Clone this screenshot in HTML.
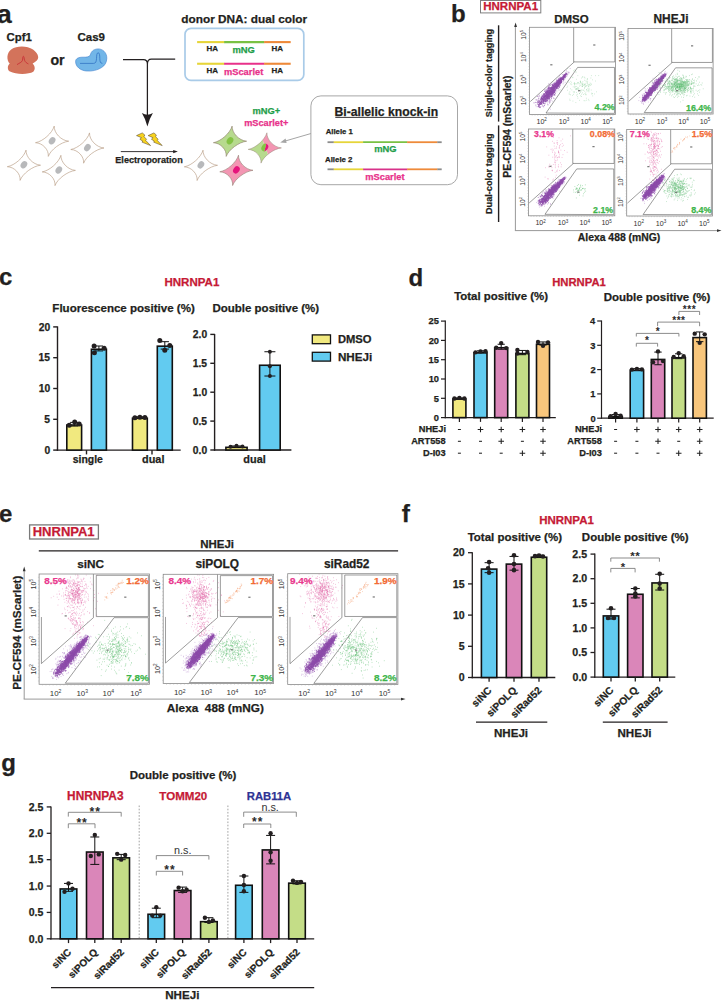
<!DOCTYPE html>
<html><head><meta charset="utf-8"><title>Figure</title>
<style>html,body{margin:0;padding:0;background:#fff;}svg{display:block;}</style></head>
<body><svg width="722" height="1000" viewBox="0 0 722 1000" font-family="Liberation Sans, sans-serif" font-weight="bold" fill="#231f20">
<rect width="722" height="1000" fill="#fff"/>
<text x="-3.12" y="23" font-size="26.5" stroke="#231f20" stroke-width=".25">a</text>
<text x="6.53" y="40.5" font-size="11.4" stroke="#231f20" stroke-width=".25">Cpf1</text>
<text x="77.53" y="40.5" font-size="11.5" stroke="#231f20" stroke-width=".25">Cas9</text>
<text x="50.45" y="64.6" font-size="14.2" stroke="#231f20" stroke-width=".25">or</text>
<path d="M9.7 63.5C6.5 60.5 6.3 53 11.5 49.3C16.5 45.6 27 45.4 33 49.5C37.2 52.4 39.3 57 37.7 59.2C36.4 61.3 34.3 62.4 32.6 63.6C35 66 35.6 69.6 33.3 71.8C28.5 74.6 16 74.6 10 71.6C7.2 70 7.2 65.6 9.7 63.5Z" fill="#d3735b"/>
<path d="M17 64.6C19.5 63 21.8 62.2 22.4 60.5C23 58.5 22.5 56.3 23.3 56.3C24.2 56.3 24 58.6 24.6 60.4C25.3 62.2 26.8 63.2 28.4 63.9" fill="none" stroke="#c4202c" stroke-width=".7"/>
<path d="M75.6 61.5C75.6 58.3 79 57.1 83 57.2C86.5 57.3 89.5 57 90.3 55C91 52 93 49.2 97.8 48.9C102.5 48.7 106.9 52.5 106.8 58.2C106.7 62.6 104.8 65.6 101.5 67.6C97.5 70.3 92 71.4 86.5 71C80.5 70.5 75.6 66.8 75.6 61.5Z" fill="#72b6e8" stroke="#3f81cf" stroke-width=".6"/>
<path d="M80 63.4H93.5C95.8 63.4 96.3 61.6 96.5 58.5C96.7 55 96.8 52.8 98.2 52.8C99.6 52.8 99.7 55 99.8 58.5C99.9 61.5 100.2 63.3 102.4 63.4" fill="none" stroke="#2a6bc0" stroke-width=".7"/>
<path d="M123 59.6H143.4Q147.4 59.6 147.4 64M175.2 59.1H151.4Q147.4 59.1 147.4 64V116" fill="none" stroke="#231f20" stroke-width="1.25"/>
<path d="M147.4 126.4Q145.6 119.2 141.9 113.1Q147.4 116.4 152.9 113.1Q149.2 119.2 147.4 126.4Z" fill="#231f20"/>
<text x="181.32" y="22.8" font-size="11.8" stroke="#231f20" stroke-width=".25">donor DNA: dual color</text>
<rect x="185" y="28.4" width="118.8" height="52" rx="6" fill="#fff" stroke="#a9cbe8" stroke-width="1.7"/>
<line x1="197.1" y1="42.1" x2="224.3" y2="42.1" stroke="#e6d539" stroke-width="2.1"/>
<line x1="224.1" y1="42.1" x2="264.3" y2="42.1" stroke="#7ac143" stroke-width="2.1"/>
<line x1="264.1" y1="42.1" x2="290.7" y2="42.1" stroke="#ee8a3a" stroke-width="2.1"/>
<text x="206.46" y="51.1" font-size="8" stroke="#231f20" stroke-width=".25">HA</text>
<text x="271.46" y="51.1" font-size="8" stroke="#231f20" stroke-width=".25">HA</text>
<text x="232.38" y="52.9" font-size="9.4" fill="#1f9e4a" stroke="#1f9e4a" stroke-width=".25">mNG</text>
<line x1="197.1" y1="63.75" x2="224.3" y2="63.75" stroke="#e6d539" stroke-width="2.1"/>
<line x1="224.1" y1="63.75" x2="264.3" y2="63.75" stroke="#e8318a" stroke-width="2.1"/>
<line x1="264.1" y1="63.75" x2="290.7" y2="63.75" stroke="#ee8a3a" stroke-width="2.1"/>
<text x="206.46" y="72.75" font-size="8" stroke="#231f20" stroke-width=".25">HA</text>
<text x="271.46" y="72.75" font-size="8" stroke="#231f20" stroke-width=".25">HA</text>
<text x="223.99" y="74.55" font-size="9.3" fill="#e8318a" stroke="#e8318a" stroke-width=".25">mScarlet</text>
<path d="M54.2 126.1C53.93 133.06 61.18 140.6 68.7 141.2C60.88 142.12 50.68 149.72 48.3 156.4C49.02 149.8 42.62 142.94 35.5 142.7C42.92 141.43 52.27 133.13 54.2 126.1Z" fill="#fff" stroke="#bca28b" stroke-width=".7"/>
<ellipse cx="52.1" cy="140.8" rx="3.0" ry="3.9" transform="rotate(35 52.1 140.8)" fill="#b8b9bb"/>
<path d="M89.5 132.9C89.22 139.86 96.47 147.41 104 148C96.18 148.92 85.98 156.52 83.6 163.2C84.32 156.6 77.92 149.75 70.8 149.5C78.22 148.23 87.56 139.93 89.5 132.9Z" fill="#fff" stroke="#bca28b" stroke-width=".7"/>
<ellipse cx="87.4" cy="147.6" rx="3.0" ry="3.9" transform="rotate(35 87.4 147.6)" fill="#b8b9bb"/>
<path d="M26 150.1C25.73 157.06 32.98 164.6 40.5 165.2C32.68 166.12 22.48 173.72 20.1 180.4C20.82 173.8 14.42 166.94 7.3 166.7C14.71 165.43 24.06 157.13 26 150.1Z" fill="#fff" stroke="#bca28b" stroke-width=".7"/>
<ellipse cx="23.9" cy="164.8" rx="3.0" ry="3.9" transform="rotate(35 23.9 164.8)" fill="#b8b9bb"/>
<path d="M60.9 155.3C60.62 162.25 67.88 169.81 75.4 170.4C67.58 171.32 57.38 178.92 55 185.6C55.72 179 49.32 172.15 42.2 171.9C49.62 170.63 58.97 162.33 60.9 155.3Z" fill="#fff" stroke="#bca28b" stroke-width=".7"/>
<ellipse cx="58.8" cy="170" rx="3.0" ry="3.9" transform="rotate(35 58.8 170)" fill="#b8b9bb"/>
<path d="M203 150.2C202.72 157.15 209.97 164.7 217.5 165.3C209.68 166.22 199.48 173.82 197.1 180.5C197.82 173.89 191.42 167.04 184.3 166.8C191.72 165.53 201.06 157.23 203 150.2Z" fill="#fff" stroke="#bca28b" stroke-width=".7"/>
<ellipse cx="200.9" cy="164.9" rx="3.0" ry="3.9" transform="rotate(35 200.9 164.9)" fill="#b8b9bb"/>
<path d="M232.1 126.1C231.82 133.06 239.07 140.6 246.6 141.2C238.78 142.12 228.58 149.72 226.2 156.4C226.92 149.8 220.52 142.94 213.4 142.7C220.81 141.43 230.16 133.13 232.1 126.1Z" fill="#b7da8e" stroke="#9a8a78" stroke-width=".7"/>
<ellipse cx="230" cy="140.8" rx="3.0" ry="3.9" transform="rotate(35 230 140.8)" fill="#84c344"/>
<path d="M238.5 155.2C238.22 162.15 245.47 169.7 253 170.3C245.18 171.22 234.98 178.82 232.6 185.5C233.32 178.89 226.92 172.04 219.8 171.8C227.22 170.53 236.56 162.23 238.5 155.2Z" fill="#f396b3" stroke="#a08a80" stroke-width=".7"/>
<ellipse cx="236.4" cy="169.9" rx="3.0" ry="3.9" transform="rotate(35 236.4 169.9)" fill="#e5157c"/>
<clipPath id="cl"><path d="M240 120L262.3 139.3L268.7 156.5L255 180L230 180Z"/></clipPath>
<clipPath id="cr"><path d="M262.3 139.3L268.7 156.5L290 170L290 120L240 120Z"/></clipPath>
<path d="M266.9 132.8C266.62 139.75 273.88 147.31 281.4 147.9C273.58 148.82 263.38 156.42 261 163.1C261.72 156.5 255.32 149.65 248.2 149.4C255.61 148.13 264.96 139.83 266.9 132.8Z" fill="#f396b3" clip-path="url(#cr)"/>
<path d="M266.9 132.8C266.62 139.75 273.88 147.31 281.4 147.9C273.58 148.82 263.38 156.42 261 163.1C261.72 156.5 255.32 149.65 248.2 149.4C255.61 148.13 264.96 139.83 266.9 132.8Z" fill="#b7da8e" clip-path="url(#cl)"/>
<ellipse cx="264.8" cy="147.5" rx="3.1" ry="4.0" transform="rotate(35 264.8 147.5)" fill="#e5157c" clip-path="url(#cr)"/>
<ellipse cx="264.8" cy="147.5" rx="3.1" ry="4.0" transform="rotate(35 264.8 147.5)" fill="#84c344" clip-path="url(#cl)"/>
<path d="M266.9 132.8C266.62 139.75 273.88 147.31 281.4 147.9C273.58 148.82 263.38 156.42 261 163.1C261.72 156.5 255.32 149.65 248.2 149.4C255.61 148.13 264.96 139.83 266.9 132.8Z" fill="none" stroke="#a09080" stroke-width=".55"/>
<path d="M136.5 135.6L142.3 132.9L144.8 135L144 136.7L146.5 139.2L145.7 140.4L150.6 145.6L141.9 142.1L142.8 141.2L139.8 139.2L141.5 137.7Z" fill="#f7d21e" stroke="#4a3b22" stroke-width=".5" stroke-linejoin="round"/>
<path d="M148.1 135.6L153.9 132.9L156.4 135L155.6 136.7L158.1 139.2L157.3 140.4L162.2 145.6L153.5 142.1L154.4 141.2L151.4 139.2L153.1 137.7Z" fill="#f7d21e" stroke="#4a3b22" stroke-width=".5" stroke-linejoin="round"/>
<line x1="120.8" y1="151.6" x2="174.5" y2="151.6" stroke="#231f20" stroke-width=".9"/>
<path d="M177.8 151.6L173.2 149.9L173.2 153.3Z" fill="#231f20"/>
<text x="115.29" y="162.7" font-size="9.15" stroke="#231f20" stroke-width=".25">Electroporation</text>
<text x="252.49" y="114.1" font-size="9.3" fill="#1f9e4a" stroke="#1f9e4a" stroke-width=".25">mNG+</text>
<text x="244.19" y="125.7" font-size="9.2" fill="#e8318a" stroke="#e8318a" stroke-width=".25">mScarlet+</text>
<line x1="311" y1="133.5" x2="283.5" y2="141.5" stroke="#a5a5a5" stroke-width="1"/>
<path d="M280.2 142.5L285.6 138.6L286.6 142.9Z" fill="#a5a5a5"/>
<rect x="310.9" y="95.9" width="146.6" height="88.8" rx="10" fill="#fff" stroke="#9d9d9d" stroke-width=".9"/>
<text x="334.48" y="115.6" font-size="12.2" stroke="#231f20" stroke-width=".25">Bi-allelic knock-in</text>
<line x1="335.3" y1="117.4" x2="437.7" y2="117.4" stroke="#231f20" stroke-width=".9"/>
<text x="325.71" y="134.4" font-size="7.75" stroke="#231f20" stroke-width=".25">Allele 1</text>
<text x="325" y="161.5" font-size="7.85" stroke="#231f20" stroke-width=".25">Allele 2</text>
<line x1="327.5" y1="142.2" x2="333.9" y2="142.2" stroke="#8c8c8c" stroke-width="1.8"/>
<line x1="333.7" y1="142.2" x2="363.3" y2="142.2" stroke="#e6d539" stroke-width="1.8"/>
<line x1="363.1" y1="142.2" x2="407.3" y2="142.2" stroke="#7ac143" stroke-width="1.8"/>
<line x1="407.1" y1="142.2" x2="437.5" y2="142.2" stroke="#ee8a3a" stroke-width="1.8"/>
<line x1="437.3" y1="142.2" x2="441.7" y2="142.2" stroke="#8c8c8c" stroke-width="1.8"/>
<text x="374.28" y="152.1" font-size="9.4" fill="#1f9e4a" stroke="#1f9e4a" stroke-width=".25">mNG</text>
<line x1="327.5" y1="169.3" x2="333.9" y2="169.3" stroke="#8c8c8c" stroke-width="1.8"/>
<line x1="333.7" y1="169.3" x2="363.3" y2="169.3" stroke="#e6d539" stroke-width="1.8"/>
<line x1="363.1" y1="169.3" x2="407.3" y2="169.3" stroke="#d8328a" stroke-width="1.8"/>
<line x1="407.1" y1="169.3" x2="437.5" y2="169.3" stroke="#ee8a3a" stroke-width="1.8"/>
<line x1="437.3" y1="169.3" x2="441.7" y2="169.3" stroke="#8c8c8c" stroke-width="1.8"/>
<text x="365.29" y="179.7" font-size="9.3" fill="#e8318a" stroke="#e8318a" stroke-width=".25">mScarlet</text>
<text x="450.92" y="21.8" font-size="24" stroke="#231f20" stroke-width=".25">b</text>
<rect x="480.5" y=".5" width="60.3" height="12.4" fill="#fff" stroke="#808080" stroke-width="1"/>
<text x="483.13" y="10.4" font-size="11.55" fill="#c51a35" stroke="#c51a35" stroke-width=".25">HNRNPA1</text>
<text x="554.23" y="23.3" font-size="11.45" stroke="#231f20" stroke-width=".25">DMSO</text>
<text x="653.5" y="22.6" font-size="11.9" stroke="#231f20" stroke-width=".25">NHEJi</text>
<line x1="498.6" y1="25.3" x2="498.6" y2="121.6" stroke="#231f20" stroke-width="1.4"/>
<line x1="498.6" y1="125.4" x2="498.6" y2="222" stroke="#231f20" stroke-width="1.4"/>
<text transform="translate(488.4 73.1) rotate(-90)" x="-44.05" y="3.28" font-size="9.15" stroke="#231f20" stroke-width=".25">Single-color tagging</text>
<text transform="translate(488.4 173.6) rotate(-90)" x="-40.41" y="3.28" font-size="9.15" stroke="#231f20" stroke-width=".25">Dual-color tagging</text>
<text transform="translate(507.4 126.5) rotate(-90)" x="-51.24" y="3.72" font-size="10.4" stroke="#231f20" stroke-width=".25">PE-CF594 (mScarlet)</text>
<line x1="515.4" y1="25" x2="515.4" y2="230.6" stroke="#999" stroke-width="1"/>
<path d="M515.6 22.4L514.2 27L517 27Z" fill="#333"/>
<line x1="514.9" y1="230.6" x2="718" y2="230.6" stroke="#999" stroke-width="1"/>
<path d="M721.5 230.6L717 229.2L717 232Z" fill="#333"/>
<text x="577.74" y="240.9" font-size="10.4" stroke="#231f20" stroke-width=".25">Alexa 488 (mNG)</text>
<path d="M552.78 87.36h.7M562.45 78.87h.7M555.72 85.8h.7M551.33 90.3h.7M557.76 80.15h.7M546.79 96.32h.7M549.73 90.06h.7M560.6 79.45h.7M559.87 80.58h.7M543.26 103.53h.7M554.58 84.7h.7M557.07 82.89h.7M564.93 77.86h.7M557.77 82.48h.7M555.07 85.43h.7M564.01 78.47h.7M547.02 97.41h.7M557.36 84.15h.7M553.33 89.56h.7M542.48 95.73h.7M563.64 77.69h.7M560.14 85.58h.7M556.09 87.76h.7M566.11 70.28h.7M552.41 90.99h.7M552.78 85.42h.7M565.28 73.84h.7M552.27 90.47h.7M556.23 80.72h.7M555.47 92.04h.7M540.94 103.18h.7M545.74 101.38h.7M548.71 97.17h.7M563.23 81.28h.7M557.64 88.49h.7M559.05 77.05h.7M548.43 94.72h.7M544.05 89.72h.7M540.51 102.06h.7M556.18 88.3h.7M552.72 93.61h.7M558.86 87.28h.7M551.3 89.4h.7M550.68 93.33h.7M541.25 103.56h.7M564.39 79.35h.7M556.6 91.78h.7M569.82 68.53h.7M550.11 109.27h.7M540.18 104.42h.7M555.38 84.74h.7M564.73 76.75h.7M554.67 90.44h.7M547.76 97.93h.7M548.15 91.85h.7M559.34 87.45h.7M561.64 78.96h.7M557.76 89.97h.7M566.51 76.64h.7M562.44 74.35h.7M543.97 95.28h.7M554.07 83.75h.7M552.12 91.3h.7M555.81 85.98h.7M564.06 76.68h.7M542.5 97.91h.7M546.57 98.83h.7M569.05 72.8h.7M546.67 90.48h.7M547.41 94.89h.7M561.15 80.23h.7M546.53 96.27h.7M556.25 84.47h.7M562.65 83.92h.7M560.05 85.68h.7M553.64 92.24h.7M549.59 89.74h.7M553.92 98.6h.7M547.14 97.87h.7M550.49 89.53h.7M546.59 95.23h.7M558 81.38h.7M549.3 103.46h.7M560.72 80.63h.7M560.45 80.47h.7M558.99 75.33h.7M568.24 72.46h.7M556.47 81.04h.7M546.56 91.56h.7M560.66 82.19h.7M565.26 72.5h.7M568.1 72.89h.7M567.73 74.11h.7M552.7 82.26h.7M556.01 85.01h.7M542.83 93.88h.7M544.61 98.91h.7M565.66 76.47h.7M547.71 89.2h.7M551.05 100.02h.7M562.11 77.32h.7M558.09 78.96h.7M563.32 76.46h.7M555.79 89.24h.7M557.11 79.32h.7M547.15 96.15h.7M546 91.07h.7M551.53 96.57h.7M550.28 93.11h.7M558.17 81.41h.7M546.63 101.57h.7M552.48 84.35h.7M543.16 99.09h.7M563.48 82.95h.7M556.02 85.02h.7M554.29 93.8h.7M559.82 81.68h.7M554.22 84.78h.7M545.79 96.59h.7M556.85 84.83h.7M564.12 74.76h.7M551.22 87.6h.7M565.94 71.95h.7M540.64 97.05h.7M542.2 102.54h.7M556.84 86.15h.7M560.66 82.67h.7M546.96 88.04h.7M545.5 101.81h.7M565.12 74.61h.7M561.85 74.55h.7M564.96 75.09h.7M559.34 84.68h.7M556 87.74h.7M566.42 74.89h.7M564.57 78.06h.7M541.68 106.33h.7M553.63 88.21h.7M548.98 84.79h.7M554.34 84.4h.7M559.13 83.13h.7M551.01 89.38h.7M566.96 74.06h.7M550.72 95.61h.7M563.15 77.15h.7M558.86 90.05h.7M535.8 106.65h.7M548.17 99.3h.7M560.86 78.22h.7M559.94 78.28h.7M564.36 77.25h.7M562.58 75.92h.7M557.85 86.83h.7M546.19 91.78h.7M557.81 83.52h.7M541.51 99.02h.7M565.13 74.05h.7M561.2 78.15h.7M552.83 84.6h.7M560.13 83.01h.7M540.84 97.95h.7M560.59 77h.7M563.2 79.78h.7M562.33 81.27h.7M568.48 71.98h.7M557.41 85.23h.7M551.95 101.17h.7M554.01 83.04h.7M553.56 85.34h.7M559.18 78.43h.7M565.79 76.24h.7M559.03 83h.7M563.8 79.72h.7M555.67 90.21h.7M557.52 82.88h.7M563.23 74.7h.7M543.25 96.14h.7M564.85 82.22h.7M554.46 91.74h.7M555.69 88.47h.7M558.33 81.54h.7M543.9 99.12h.7M557.67 82.27h.7M544.56 97.73h.7M563.88 70.71h.7M541.13 103.1h.7M547.47 93.96h.7M558.9 83.19h.7M560.78 80.56h.7M563.16 79.72h.7M563.25 76.87h.7M557.35 87.23h.7M548.2 83.71h.7M554.29 83.17h.7M547.26 103.92h.7M542.12 96.47h.7M566.9 71.95h.7M565.09 76.64h.7M556.49 81.64h.7M565.72 75.85h.7" stroke="#bf98d3" stroke-width=".7"/>
<path d="M548.22 88.15h.8M550.86 92.57h.8M561.89 78.7h.8M552.06 93.68h.8M558.71 82.2h.8M558.34 82.45h.8M560.67 79.64h.8M549.5 90.02h.8M550.81 91.78h.8M562.48 77.18h.8M541.46 97.92h.8M547.36 94.5h.8M552.71 89.06h.8M556.27 85.59h.8M544.51 100.4h.8M553.69 94.41h.8M541.05 101.06h.8M551.6 94.31h.8M554.31 87h.8M543.02 100.18h.8M546.1 99.08h.8M551.78 87.5h.8M548.11 93.74h.8M557.25 85.15h.8M542.4 95.44h.8M548.69 90.42h.8M545.75 95.12h.8M545.47 96.87h.8M548.5 96.13h.8M552.98 85.28h.8M553.89 91.44h.8M555.66 87.17h.8M560.44 81.01h.8M553.1 83.7h.8M557.82 83.66h.8M562.57 76.8h.8M545.76 99.17h.8M538.66 104.38h.8M545.31 95.66h.8M558.58 80.59h.8M560.77 79.33h.8M558.23 83.88h.8M564.54 74.22h.8M542.91 97.23h.8M547.45 93.87h.8M551.43 89.63h.8M538.78 103.02h.8M557.83 83.36h.8M557.38 83.65h.8M548 87.84h.8M555.41 88.32h.8M557.18 81.1h.8M550.92 94.52h.8M547.83 96.9h.8M564.08 74.54h.8M541.39 101.92h.8M553.45 91.93h.8M557.81 86.07h.8M554.46 87.26h.8M545.77 94.01h.8M558.42 84.81h.8M547.5 89.97h.8M558.17 80.1h.8M551.26 92.82h.8M556.36 82.23h.8M562.02 78.97h.8M558.46 80.47h.8M541.88 98.84h.8M539.51 106.96h.8M555.24 85.75h.8M565.26 75.08h.8M554.86 85.9h.8M547.1 93.62h.8M557.17 82.39h.8M541.14 98.67h.8M554 88.39h.8M561.25 79.78h.8M550.94 96.26h.8M538.1 106.1h.8M545.63 95.91h.8M564.08 76.41h.8M539.48 107.62h.8M549.04 88.66h.8M552.05 94.83h.8M551.52 87.89h.8M543.8 96.09h.8M563.24 80.27h.8M545.09 101.21h.8M544.95 95.71h.8M545.36 100.1h.8M539.98 107.07h.8M562.04 79.15h.8M553.92 90.52h.8M548.55 94.7h.8M565.67 74.49h.8M550.89 87.66h.8M553.6 85.29h.8M563.75 76.49h.8M541.96 96.3h.8M562.61 78.42h.8M546.67 95.35h.8M550.74 94.85h.8M557.4 85.46h.8M548.15 92.64h.8M558.39 78.3h.8M544.18 93.54h.8M559.26 81.4h.8M552.98 94.92h.8M558.67 82.09h.8M558.79 83.03h.8M566.33 73.39h.8M556.08 80.09h.8M561.76 79.38h.8M561.15 78.91h.8M553.67 84.18h.8M553.04 90.42h.8M549.24 92.57h.8M547.55 104.81h.8M544.56 90.73h.8M554.66 84.72h.8M565.76 74.07h.8M552.16 88.36h.8M545.87 98.8h.8M560.87 80.95h.8M556.01 86.2h.8M546.75 95.78h.8M556.12 83.48h.8M559.43 81.51h.8M551.93 92.42h.8M553.35 88.41h.8M536.68 100.13h.8M554.1 92.15h.8M541.99 99.22h.8M557.89 84.8h.8M551.17 89.12h.8M551.72 93.3h.8M539.56 102.63h.8M561.03 81.81h.8M550.62 95.45h.8M552.02 87.83h.8M533.64 102.83h.8M558.49 82.93h.8M540.21 99.58h.8M553.62 90.57h.8M557.61 84.05h.8M556.18 84.08h.8M563.36 75.87h.8M551.08 88.26h.8M554.64 90.72h.8M551.02 93.79h.8M563.57 76.31h.8M549.93 92.99h.8M549.92 94.98h.8M541.18 101.24h.8M541.62 95.09h.8M560.48 82.93h.8M558.54 81.64h.8M553.31 86.57h.8M558.1 82.77h.8M539.18 100.95h.8M564.66 74.49h.8M543.37 100.16h.8M557.3 82.26h.8M551.37 91.64h.8M558.85 82.63h.8M558.57 86.55h.8M555.23 85.35h.8M550.74 91.34h.8M558.73 81.08h.8M566.42 73.99h.8M547.36 96.56h.8M558.86 82.58h.8M559.72 84.6h.8M550.89 91.8h.8M557.56 83.91h.8M554.84 83.52h.8M551.8 85.37h.8M552.89 87.29h.8M564.38 75.7h.8M547.83 90.92h.8M541.7 98.01h.8M550.51 93.77h.8M560.29 79.42h.8M550.04 90.12h.8M549.93 90.97h.8M549.85 88.88h.8M555.84 87.44h.8M549.89 96.85h.8M542.97 103.4h.8M548.82 98.55h.8M559.53 78.31h.8M563.01 78.24h.8M556.21 84.61h.8M560.28 82.69h.8M552.73 87.14h.8M546.6 98.63h.8M554.39 92.16h.8M547.18 97.29h.8M550.74 91.56h.8M551.86 89.43h.8M562.26 78.73h.8M539.75 103.02h.8M545.56 93.16h.8M559.69 82.09h.8M560.51 83.01h.8M557.91 83.85h.8M556.96 86.65h.8M557.95 85.66h.8M550.65 91.47h.8M547.92 94.23h.8M546.23 93.67h.8M553.76 88.43h.8M555.82 86.67h.8M551.52 87.75h.8M551.53 89.51h.8M558.45 84.62h.8M549.61 90.51h.8M553.41 90.32h.8M560.18 81.07h.8M544.93 96.79h.8M547.48 98.04h.8M541.15 104.13h.8M561.13 79.31h.8M551.37 90.84h.8M546.49 97.45h.8M554.18 88.67h.8M538.83 105.97h.8M553.86 89.67h.8M548.08 92.68h.8M560.85 82.17h.8M546.8 95.41h.8M540.16 102.68h.8M548.75 98.01h.8M550.82 94.4h.8M549.22 87.6h.8M559.06 81.76h.8M544.79 100.7h.8M556.01 86.56h.8M548.04 89.22h.8M541.68 99.12h.8M542.88 97.51h.8M558.87 83.17h.8M556.84 86.31h.8M545.82 98.12h.8M549.22 92.89h.8M541.64 98.8h.8M551.44 93.86h.8M545.64 89.98h.8M557.19 85.09h.8M562.93 78.02h.8M551.88 90.88h.8M554.18 87.33h.8M556.23 85.32h.8M549.31 95.11h.8M545.22 95.27h.8M561.82 79.61h.8M559.13 81.68h.8M544.38 98.82h.8M548.29 86.38h.8M540.71 98.01h.8M550.56 90.77h.8M552.45 87.5h.8M558.8 83.82h.8M552.22 85.7h.8M551.88 93.7h.8M556.9 86.05h.8M542.76 101.03h.8M545.17 95.87h.8M552.61 86.07h.8M552.51 86.06h.8M546.4 93.74h.8M543.1 99.84h.8M547.76 96.88h.8M557.68 84.81h.8M550.48 95.01h.8M558.4 84.58h.8M564.23 75.24h.8M544.21 96.77h.8M556.16 87.68h.8M552.3 87.26h.8M563.47 77.81h.8M547.7 94.84h.8M545.12 92.97h.8M548.07 95.74h.8M546.48 96.83h.8M557.1 82.38h.8M538.64 96.68h.8M545.96 97.62h.8M555.45 86.94h.8M552.7 91.43h.8M544.9 99.32h.8M560.88 78.68h.8M538.01 100.1h.8M547.29 94.71h.8M549.69 95.62h.8M555.59 85.47h.8M557.96 80.83h.8M548.67 88.56h.8M535.7 99.8h.8M541.09 102.79h.8M538.05 106.72h.8M535.27 102.39h.8M544.49 96.2h.8M552.02 94.22h.8M563.11 75.17h.8M552.85 93.38h.8M563.96 77.32h.8M551.78 92.69h.8M543.78 100.85h.8M557.88 84.12h.8M550.56 93.47h.8M554.06 92.3h.8M552.99 85.86h.8M545.66 91.23h.8M548.28 88.12h.8M537.59 106.65h.8M539.16 107.1h.8M551.42 88.43h.8M549.79 93.7h.8M544.53 99.04h.8M556.04 88.12h.8M557.76 84.79h.8M542.5 102.03h.8M559.61 80.07h.8M551.87 88.88h.8M548.34 97h.8M557.33 84.07h.8M546.69 100.43h.8M542.52 98.39h.8M552.7 91.85h.8M559.68 80.73h.8M552.68 90.23h.8M546.69 90.36h.8M553.35 90.2h.8M553.8 85.52h.8M559.81 83.03h.8M548.48 96.71h.8M552.68 87.33h.8M544.56 103.29h.8M560.91 82.13h.8M557.52 87.64h.8M556.99 87.04h.8M548.64 92.52h.8M553.21 92.82h.8M555.01 83.65h.8M566.2 73.41h.8M551.31 91.67h.8M543.64 93.89h.8M552.66 92.76h.8M563.17 77.76h.8M546.9 95.25h.8M551.75 84.73h.8M546.14 94.3h.8M544.4 101.29h.8M546.72 98.12h.8M547.28 92.32h.8M554.86 83.69h.8M549.88 92.36h.8M546.91 91.88h.8M558.26 79.98h.8M558.53 85.43h.8M561.52 78.95h.8M547.9 95.74h.8M547.07 94.62h.8M551.98 92.78h.8M562.24 79.4h.8M554.65 86.4h.8M551.36 89.31h.8M540.81 101.15h.8M554.91 88.87h.8M545.78 97.36h.8M546.81 91.86h.8M546.88 100.26h.8M559.25 81.57h.8M561.08 80.17h.8M553.94 91.74h.8M549.53 94.29h.8M557.17 85.75h.8M564.47 75.5h.8M557.8 84.44h.8M552.38 92.1h.8M547.57 96.2h.8M548.01 94.07h.8M558.4 82.19h.8M548.97 92.41h.8M545.48 98.09h.8M542.8 98.6h.8M552.87 90.42h.8M549.24 91.52h.8M549.38 96.09h.8M557.81 83.4h.8M543.32 97.43h.8M556.29 85.89h.8M551.13 87.78h.8M553.27 98.09h.8M557.27 82.43h.8M541.76 100.94h.8M555.4 89.63h.8M565.14 74.41h.8M551.39 87.94h.8M545.27 94.16h.8M558.34 84.87h.8M548.32 90.49h.8M551.3 96.02h.8M549.04 95.17h.8M547.81 94.12h.8M552.61 92.47h.8M553.37 88.2h.8M562.64 77.32h.8M552.29 86.17h.8M539.65 98.91h.8M555.67 86.14h.8M556.87 80.54h.8M557.94 80.3h.8M545.17 92.39h.8M549.59 92.22h.8M560.16 78.49h.8M564.16 75.71h.8M549.76 100.78h.8M555.43 85.78h.8M558.3 86.28h.8M554.74 86.87h.8M546.72 92h.8M559.7 80h.8M556.23 83.4h.8M557.78 83.9h.8M542.93 102.07h.8M547.27 95.44h.8M564.41 75.22h.8M560.77 78.58h.8M556.89 83.17h.8M546.42 92.87h.8M546.01 93.61h.8M558.93 87.11h.8M547.17 97.95h.8M560.76 78.26h.8M563.54 76.52h.8M559.11 82.07h.8M549.97 91.62h.8M540.48 100.17h.8M541.94 101.99h.8M559.86 80.84h.8M547.14 96.54h.8M551.99 92.84h.8M564.79 74.69h.8M554.64 86.95h.8M549.2 91.11h.8M551.92 87.22h.8M542.4 98.41h.8M549.02 93.44h.8M542.95 97.68h.8M560.9 78.22h.8M551.38 88.11h.8M551.16 90.82h.8M549.41 97.08h.8M543.65 103.21h.8M562.92 75.71h.8M560.74 79.22h.8M559.78 81.7h.8M550.6 89.84h.8M539.07 103.62h.8M547.36 91.73h.8M555.19 86.27h.8M560.53 79.7h.8M559.98 79.26h.8M549.49 93.99h.8M559.25 83.24h.8M558.28 83.36h.8M555.27 83.38h.8M540.02 103.89h.8M550.92 93.14h.8M558.2 84.8h.8M553.88 90.74h.8M561.12 80.63h.8M560.27 79.93h.8M556.48 85.62h.8M552.04 91.53h.8M555.67 85.65h.8M551.72 90.8h.8M558.16 80.82h.8M555.12 86.74h.8M558.77 81.15h.8M553.27 87.71h.8M563.01 79.22h.8M540.73 102.99h.8M553.89 88.21h.8M539.43 101.69h.8M556.36 81.76h.8M555.17 83.37h.8M551.11 89.57h.8M557.72 82.65h.8M554.11 83.18h.8M544.88 95.3h.8M549.12 92.77h.8M543.26 96.6h.8M545.75 95.31h.8M549.28 92.95h.8M544.98 101.6h.8M553.49 88.74h.8M560.73 82.17h.8M550.02 87.86h.8M550.95 94.79h.8M543.82 98.15h.8M556.99 86.12h.8M552.36 95.34h.8M551.38 93.14h.8M551.73 91.08h.8M559.75 83.74h.8M547.59 92.98h.8M551.6 93.18h.8M552.75 89.79h.8M539.98 104.33h.8M544.16 96.35h.8M565.08 75.05h.8M552.38 90.16h.8M549.42 92.41h.8M549.17 93.82h.8M549.96 87.95h.8M559.26 83.08h.8M549.01 92.16h.8M546.38 96.73h.8M547.62 92.49h.8M557.8 82.36h.8M541.65 99.07h.8M548 98.32h.8M564.15 75.18h.8M543.6 96.5h.8M550.09 91.19h.8M542.2 96.48h.8M556.76 82.21h.8M559.54 81.4h.8M543.38 100.28h.8M556.46 86.24h.8M560.29 80.89h.8M550.09 89.19h.8M545.94 92.98h.8M553.82 90.35h.8M546.85 88.72h.8M546.43 96.36h.8M547.28 97.16h.8M560.57 81.78h.8M546.11 100.86h.8M550.76 94.34h.8M551.64 96.06h.8M560.71 77.48h.8M560.9 79.11h.8M559.08 82.17h.8M547.8 87.67h.8M557.09 82.35h.8M564.7 76.23h.8M545.84 94.31h.8M559.33 83.11h.8M556.36 86.09h.8M547.87 98.25h.8M553.42 90.27h.8M549.84 93.73h.8M555.75 86.98h.8M560.1 79.18h.8M553.25 93.17h.8M552.02 88.93h.8M542.8 97.24h.8M547.04 96.76h.8M541.42 96.81h.8M543.99 105.47h.8M551.23 98.35h.8M548.38 97.73h.8M540.94 99h.8M550.28 93.02h.8M558.08 83.31h.8M562.38 77.31h.8M563.4 76.46h.8M544.84 99.36h.8M544.8 96.18h.8M543.07 99.74h.8M556.85 84.31h.8M546.67 91.74h.8M563.42 76.42h.8M546.07 95.11h.8M542.44 105.77h.8M558.69 82.41h.8M551.37 91.78h.8M562.29 78.34h.8M548.78 93.48h.8M542.7 100.68h.8M556.26 84.71h.8M559.92 77.92h.8M544.83 98.12h.8M551.95 88.17h.8M553.84 86.98h.8M561.42 77.87h.8M558.39 80.94h.8M565.61 74.27h.8M553.12 87.34h.8M545.19 97.75h.8M557.2 84.36h.8M563.96 76.14h.8M554.15 87.66h.8M561.06 78.67h.8M548.56 93.04h.8M554.39 88.75h.8M546.07 95.97h.8M551.86 91.75h.8M543.76 99.41h.8M548.04 97.78h.8M539.6 100.66h.8M538.63 105.73h.8M548.93 96.12h.8M562.6 76.88h.8M546.58 96.5h.8M554.3 88.09h.8M552.15 89.3h.8M558.13 84.73h.8M549.77 93.46h.8M545.35 96.57h.8M541.59 104.31h.8M558.67 82.89h.8M549.46 102.38h.8M537.4 101.38h.8M552.29 89.93h.8M561.73 78.63h.8M551.95 89.83h.8M554.84 82.32h.8M544.72 98.34h.8M555.79 84.2h.8M552.27 91.52h.8M544.36 94.69h.8M554.22 92.06h.8M542.07 100.8h.8M553.69 86.54h.8M563.41 77.05h.8M543.5 94.38h.8M547.5 91.46h.8M557.96 84.06h.8M544.69 96.83h.8M554.78 86.67h.8M548.84 86.81h.8M537.14 102.18h.8M549.04 87.98h.8M549.26 98.17h.8M551.32 89.82h.8M547.44 99h.8M552.38 88.31h.8M557.96 84.93h.8M558.92 80.79h.8M542.35 98.73h.8M541.25 101.07h.8M556.16 84.94h.8M538.18 98.25h.8M543.12 99.35h.8M556.24 82.73h.8M557.3 82.16h.8M548.84 92.01h.8M560.96 78.81h.8M553.31 87.72h.8M553.98 90.08h.8M557.58 85.5h.8M560.09 83.45h.8M557.16 82.34h.8M555.87 84.81h.8M560.66 79.28h.8M545.59 95.12h.8M558.17 83.7h.8M544.38 100.57h.8M542.62 99.7h.8M538.48 105.21h.8M550.73 94.9h.8M546.92 94.8h.8M553.13 91.43h.8M553.26 88.18h.8M547.91 95.79h.8M561.37 81.94h.8M557.37 82.53h.8M562.12 78.64h.8M558.57 84.77h.8M550.02 92.39h.8M558.78 84.66h.8M555.04 93.75h.8M556.15 88.59h.8M552.65 88.89h.8M562.9 76.53h.8M553.01 89.23h.8M557.48 82.5h.8M551.98 87.77h.8M544.27 101.11h.8M560.48 81.17h.8M547.22 90.16h.8M544.94 96.11h.8M547.57 91.62h.8M561.27 80.17h.8M560.78 80.37h.8M551.06 93.88h.8M547.5 94.9h.8M559.5 82.18h.8M546.75 98.23h.8M552.22 89.47h.8M547.09 98.46h.8M558.87 79.21h.8M557.56 85.7h.8M545.74 92.58h.8M541.21 100.87h.8M554.2 87.94h.8M560.64 80.13h.8M545.29 92.88h.8M553.31 88.38h.8M545.73 89.93h.8M554.22 86.63h.8M548.18 92.56h.8M563.13 78.83h.8M560.45 79.65h.8M555.32 84.26h.8M560.78 78.74h.8M541.43 98.72h.8M563.42 76.68h.8M561.21 79.5h.8M552.32 94.24h.8M543.85 94.5h.8M557.46 84.65h.8M541.23 97h.8M555.95 84.5h.8M547.25 98.8h.8M552.46 92.72h.8M559.68 82.4h.8M555.31 84.6h.8M551.65 92.93h.8M562.64 79.51h.8M545.56 92.41h.8M537.72 104.19h.8M550.12 92.06h.8M553.15 89.03h.8M548.69 94.44h.8M546.48 95.24h.8M544.55 95.87h.8M542.92 101.73h.8M545.87 94.19h.8M545.95 95.97h.8M564.2 76.25h.8M540.97 103.62h.8M549.79 95.02h.8M550.52 94.29h.8M542.28 103.03h.8M563.13 78.87h.8M552.31 85.97h.8M548.99 93.84h.8M549.34 93.43h.8M555.26 85.52h.8M548.98 93.18h.8M559.77 81.53h.8M540.33 101.88h.8M549.62 99.36h.8M549 99.99h.8M545.29 95.82h.8M546.29 99.86h.8M557.15 85.8h.8M540.6 103.5h.8M555.97 84.88h.8M557.65 84.43h.8M556.23 85.35h.8M558.01 81.98h.8M555.98 87.43h.8M560.85 79.96h.8M554.98 89.38h.8M550.76 87.65h.8M541.66 98.91h.8M536.93 96.43h.8M544.02 97.46h.8M546.85 91.97h.8M552.98 90.29h.8M550.86 94.25h.8M559.32 81.59h.8M552.95 91.28h.8M550.84 89.08h.8M541.16 97.83h.8M545.57 101.75h.8M561.34 80.56h.8M560.41 81.34h.8M558.17 82.1h.8M559.35 83.26h.8M553.23 90.06h.8M549.4 101.67h.8M550.06 84.96h.8M547.15 91.39h.8M550.65 93.96h.8M555.72 87.32h.8M544.76 99.07h.8M553.25 87.83h.8M546.96 93.32h.8M555.28 90.42h.8M548.9 97.06h.8M552.38 90.29h.8M553.29 89.41h.8M554.49 91.71h.8M547.26 91.94h.8M550.07 88.63h.8M539.51 103.52h.8M555.29 83.75h.8M557.65 85.17h.8M547.21 97.58h.8M559.17 82.91h.8M546.84 94.83h.8M552.02 88.1h.8M558.89 82.65h.8M544.32 91.58h.8M536.57 102.57h.8M550.78 88.23h.8M538 101.08h.8M550.46 91.47h.8M540.92 98.32h.8M558.67 83.37h.8M546.76 95.26h.8M545.43 91.72h.8M551.55 84.09h.8M550.78 97.14h.8M556.07 85.72h.8M551.82 91.09h.8M544.37 96.56h.8M541.59 98.03h.8M553.14 92.25h.8M559.35 79.49h.8M560.81 79.06h.8M560.82 79.63h.8M557.71 81.54h.8M557.86 81.96h.8M547.91 92.48h.8M559.78 80.03h.8M548.73 98.5h.8M557.56 83.39h.8M555.39 88.24h.8M561.11 78.16h.8M550.65 89.49h.8M556.26 83.44h.8M543.32 94h.8M557.62 83.23h.8M545.37 92.35h.8M556.66 82.02h.8M538.32 105.02h.8M561.72 78.98h.8M537.19 103.99h.8M560.93 79.69h.8M559.17 83.73h.8M560.35 82.62h.8M556.6 86.48h.8M552.43 88.23h.8M552.34 93.05h.8M545.65 95.78h.8M544.17 97.37h.8M564.53 76.27h.8M550.45 92.49h.8M555.89 86.37h.8M558.74 80.59h.8M563.57 76.25h.8M553.66 88.57h.8M559.3 82.27h.8M555.7 86.76h.8M548.43 88.37h.8M557.71 88.54h.8M546.4 98.71h.8M548.28 91.25h.8M563 78.57h.8M547.15 94.7h.8M553.67 86.77h.8M550.77 96.43h.8M549.04 89.64h.8M560.92 78.22h.8M548.43 90.99h.8M556.23 83.63h.8M566.79 74.9h.8M549.61 91h.8M556.52 82.53h.8M549.19 93.41h.8M554.17 89.23h.8M545.7 101.18h.8M550.78 88.6h.8M564.37 77.62h.8M551.31 91.03h.8M555.2 84.13h.8M541.68 98.71h.8M547.5 96.44h.8M562.3 78.01h.8M559.38 80.61h.8M558.31 82.83h.8M564.84 77.34h.8M560.72 82.22h.8M554.7 85.47h.8M553.42 86.29h.8M557.6 85.52h.8M550.79 88.08h.8M556.88 80.77h.8M553.05 86.04h.8M552.39 85.82h.8M550.96 86.77h.8M554.29 86.44h.8M558.46 80.93h.8M560.36 79.65h.8M556.4 85.44h.8M550.33 89.9h.8M558.59 79.78h.8M545.68 93.61h.8M552.78 91.19h.8M554.15 84.61h.8M550.52 88.03h.8M543.37 100.8h.8M560.59 78.6h.8M538.19 102.2h.8M547.2 95.86h.8M563.86 76.06h.8M541.76 99.24h.8M541.78 99.72h.8M548.82 96.82h.8M539.98 104.24h.8M543.19 97.14h.8M548.53 92.18h.8M556.75 88.13h.8M555.38 85.26h.8M550.58 92.32h.8M552.6 89.82h.8M549.85 90.52h.8M539.26 104.57h.8M538.78 101.49h.8M540.11 102.23h.8M553.63 91.13h.8M540.17 102.51h.8M553.4 92.65h.8M557.8 83.49h.8M548.46 95.4h.8M554.55 87.09h.8M548.89 90.47h.8M556.86 86.66h.8M556.54 88.01h.8M558.38 83.03h.8M538.71 104.74h.8M559.97 80.25h.8M546.55 97.58h.8M545.1 101.22h.8M558.27 84.42h.8M546 97.4h.8M563.56 76.58h.8M563.36 76.93h.8M555.25 85.64h.8M540.54 98.98h.8M547.52 101.8h.8M556.98 82.42h.8M565.12 74.14h.8M549.74 97.01h.8M552.11 91.01h.8M555.07 87.57h.8M552.77 87.39h.8M557.26 83.67h.8M554.45 88.97h.8M554.41 95.52h.8M559.46 82.15h.8M541.24 102.31h.8M556.3 86.36h.8M542.88 100.16h.8M543.74 96.32h.8M555.6 81.95h.8M544.85 99.49h.8M557.31 80.99h.8M562.44 79.37h.8M549.61 90.71h.8M556.73 83.3h.8M544.23 94.29h.8M548.77 89.94h.8M562.96 76.52h.8M548.69 94.25h.8M542.43 98.62h.8M542.62 99.54h.8M553.85 86.06h.8M550.07 93.26h.8M548.87 94.28h.8M543.17 101.04h.8M546.44 92.38h.8M538.26 102.47h.8M554.1 84.08h.8M551.85 91.73h.8M538.77 95.23h.8M547.57 99.68h.8M565.45 74.15h.8M560.6 78.89h.8M548.43 94.04h.8M547.27 93.87h.8M549.67 90.95h.8M563.14 77.35h.8M547.72 96.24h.8M558.24 81.5h.8M547.3 100.28h.8M543.16 94.88h.8M558.39 83.98h.8M562.93 77.47h.8M556.44 82.41h.8M560.52 81.26h.8M554.78 89.88h.8M547.91 89.25h.8M552.53 90.57h.8M560.35 79.94h.8M544.47 98.74h.8M557.91 80.01h.8M557.45 84.64h.8M561.19 80.92h.8M563.66 76.65h.8M557.76 81.74h.8M554.47 85.87h.8M550.56 92.08h.8M559.87 80.32h.8M559.31 79.19h.8M554.01 84.45h.8M545.99 91.38h.8M548.51 93.51h.8M551.66 95.77h.8M560.79 81.73h.8M564.06 75.71h.8M553.06 87.74h.8M543.04 102.75h.8M548.16 96.09h.8M546.29 100.29h.8M562.96 77.65h.8M565.81 73.72h.8M556.28 86.04h.8M559.12 85.03h.8M552.71 89.47h.8M551.46 96.89h.8M554.25 84.91h.8M544.05 97.43h.8M557.58 83.71h.8M554.54 86.41h.8M550.23 94.5h.8M559.69 81.4h.8M543.32 101.61h.8M556.5 88.17h.8M550.76 87.61h.8M552.67 88.01h.8M564.84 76.89h.8M548.15 92.8h.8M547.71 91h.8M544.08 95.58h.8M556.16 82.5h.8M558.6 81.81h.8M551.76 90.55h.8M544.34 99.34h.8M546.95 97.81h.8M538.4 104.43h.8M548.52 96.17h.8M552.05 92.86h.8M547.37 90.35h.8M543.58 95.6h.8M558.99 82.49h.8M543.24 95.36h.8M548.9 96.63h.8M556.76 82.95h.8M548.54 91.43h.8M547.35 95.22h.8M543.31 106.76h.8M541.3 97.69h.8M556.3 84.56h.8M560.59 78.8h.8M555.99 86.35h.8M544.02 98h.8M563.57 76.43h.8M546.48 97.31h.8M551.04 89.89h.8M557.33 83.57h.8M540.96 103.66h.8M556.96 83.84h.8M543.29 98.44h.8M546.29 93.03h.8M559.84 81.37h.8M545.9 96.82h.8M561.87 78.21h.8M563.58 75.89h.8M548.16 92.27h.8M546.78 92.22h.8M544.49 103.96h.8M548.88 95.07h.8M558.7 86.28h.8M552.69 84.53h.8M552.48 84.99h.8M545.02 98.37h.8M552.57 88.35h.8M560.69 79.07h.8M544.11 96.3h.8M539.47 102.82h.8M549.38 85.43h.8M554.17 94.47h.8M555.97 84.3h.8M555.4 85.2h.8M556.91 86.14h.8M552.46 88.52h.8M552.87 89.48h.8M556.61 85.96h.8M562.48 78.69h.8M554.11 88.61h.8M556.46 87.18h.8M551.61 93.52h.8M559.61 81.24h.8M547.04 97.19h.8M547.85 92.73h.8M565.29 75.2h.8M559.23 79.49h.8M535.47 105.1h.8M548.91 90.89h.8M544.77 99.73h.8" stroke="#8e4cab" stroke-width=".8"/>
<path d="M576.18 79.32h.55M578.09 91.02h.55M589.59 85.29h.55M592.44 93.47h.55M596.42 91.8h.55M588.71 100.62h.55M585.55 92.93h.55M584.54 87.51h.55M572.9 91.72h.55M581.88 86.41h.55M579.99 85.25h.55M588.47 84.41h.55M584.73 86.79h.55M574.01 84.14h.55M578.63 88.7h.55M584.72 78.05h.55M582.03 85.12h.55M576.28 92.45h.55M586.95 82.95h.55M567.01 81.22h.55M584.74 100.78h.55M574.34 84.68h.55M569.76 100.48h.55M578 87.78h.55M588.64 91.76h.55M568.88 94.42h.55M579.02 83.83h.55M580.23 82.8h.55M576.93 88.86h.55M577.17 87.85h.55M579.27 93.53h.55M581.6 84.97h.55M590.72 83.67h.55M560.18 89.88h.55M581.94 83.08h.55M586.54 81.85h.55M567.35 90.26h.55M584.65 85.44h.55M587.1 78.93h.55M577.13 94.2h.55M581.9 86.58h.55M575.75 72.56h.55M571.03 82.81h.55M576.09 95.04h.55M575.06 88.11h.55M586.83 83.37h.55M575.41 89.57h.55M584.87 83.39h.55M586.51 85.57h.55M588.7 90.67h.55M580.37 81.36h.55M583.76 100.61h.55M574.34 69.93h.55M572.67 77.19h.55M591.65 94.21h.55M587.84 90.33h.55M572.67 101.08h.55M573.79 92.57h.55M592.52 95.91h.55M582.25 92.79h.55M588.64 86.76h.55M590.97 75.6h.55M579.03 86.11h.55M586.78 91.11h.55M571.64 89.86h.55M579.85 81.7h.55M585.91 94.73h.55M590.18 85.18h.55M580.21 81.22h.55M584.02 88.6h.55M574.05 87.68h.55M586.82 79.92h.55M570.59 81.37h.55M577.55 89.26h.55M579.04 100.36h.55M573.33 70.83h.55M575.69 71.33h.55M577.8 83.13h.55M587 85.01h.55M584.66 93.64h.55M582.56 76.77h.55M582.7 89.96h.55M582.9 90.42h.55M573.15 94.35h.55M577.64 83.77h.55M578.43 82.52h.55M585.53 86.47h.55M582.33 84.49h.55M584.03 84.63h.55M571.55 84.69h.55M591.52 93.19h.55M575.41 86.45h.55M572.87 86.86h.55M580.26 92.42h.55M581.96 86.37h.55M578.55 89.86h.55M590.64 78.03h.55M575.96 88.89h.55M576.48 88.6h.55M570.31 83.93h.55M589.39 84.52h.55M577.31 82.55h.55M577.04 96.41h.55M566.69 87.37h.55M573.72 83.47h.55M576.01 83.84h.55M582.62 81.67h.55M586.48 89.75h.55M587.92 89.23h.55M574.43 82.62h.55M581.4 83.16h.55M590.9 90.02h.55M584.51 80.25h.55M585.96 98.22h.55M589.34 89.03h.55M584.07 84.38h.55M580.85 89.82h.55M598.53 75.56h.55M569.58 91.89h.55M581.98 83.96h.55M585.2 94.65h.55M581.26 94.15h.55M580.52 82.68h.55M577.65 98.17h.55M588.45 86.04h.55M567.48 86.15h.55M572.2 95.38h.55M570.28 94.72h.55M575.33 83.79h.55M576.37 89.35h.55M582.93 84.03h.55M587.51 81.73h.55M574.3 83.44h.55M580.59 90.75h.55M595.44 75.66h.55M586.02 89.67h.55M568.82 82.54h.55M585.78 86.1h.55M581.03 96.47h.55M580.78 91.02h.55M582.98 85.45h.55M586.5 100.23h.55M582.55 77.11h.55M587.68 88.28h.55M583.03 94.48h.55M586.93 78.86h.55M584.53 91.21h.55M574.14 86.23h.55M569.6 99.19h.55M594.11 93.95h.55M574.15 91.76h.55M572.51 77.61h.55M587.93 86.06h.55M588.5 99.35h.55M579.08 93.45h.55M589.75 83.05h.55M576.52 86.48h.55M577.61 75.61h.55M570.44 88.75h.55M595.25 81.02h.55M581.26 78.04h.55M585.67 81.02h.55M568.81 93.21h.55M584.03 77.21h.55M567.4 68.39h.55M575.61 102.55h.55M585.43 84.69h.55M591.01 84.67h.55M592.25 79.84h.55M580.33 95.79h.55" stroke="#72c584" stroke-width=".55"/>
<path d="M573.67 27.3V61.92H614.81V27.3M574.27 61.92L530.29 101.59M577.62 67.41H614.47V113.37L546.01 113.02Z" fill="none" stroke="#5a5a5a" stroke-width=".6"/>
<rect x="550.25" y="64.2" width="2.2" height="1.2" fill="#777"/>
<rect x="593.2" y="44.4" width="2.2" height="1.2" fill="#777"/>
<rect x="578.08" y="90.09" width="2.2" height="1.2" fill="#777"/>
<rect x="529.6" y="27.3" width="85.9" height="87.2" fill="none" stroke="#8a8a8a" stroke-width=".8"/>
<path d="M532.18 114.5v1.2M534.96 114.5v1.2M537.75 114.5v1.2M540.53 114.5v1.2M543.31 114.5v1.2M546.1 114.5v1.2M548.88 114.5v1.2M551.67 114.5v1.2M554.45 114.5v1.2M557.24 114.5v1.2M560.02 114.5v1.2M562.8 114.5v1.2M565.59 114.5v1.2M568.37 114.5v1.2M571.16 114.5v1.2M573.94 114.5v1.2M576.73 114.5v1.2M579.51 114.5v1.2M582.3 114.5v1.2M585.08 114.5v1.2M587.86 114.5v1.2M590.65 114.5v1.2M593.43 114.5v1.2M596.22 114.5v1.2M599 114.5v1.2M601.79 114.5v1.2M604.57 114.5v1.2M607.35 114.5v1.2M610.14 114.5v1.2M612.92 114.5v1.2M529.6 29.92h-1.2M529.6 32.74h-1.2M529.6 35.57h-1.2M529.6 38.4h-1.2M529.6 41.22h-1.2M529.6 44.05h-1.2M529.6 46.87h-1.2M529.6 49.7h-1.2M529.6 52.53h-1.2M529.6 55.35h-1.2M529.6 58.18h-1.2M529.6 61.01h-1.2M529.6 63.83h-1.2M529.6 66.66h-1.2M529.6 69.49h-1.2M529.6 72.31h-1.2M529.6 75.14h-1.2M529.6 77.97h-1.2M529.6 80.79h-1.2M529.6 83.62h-1.2M529.6 86.45h-1.2M529.6 89.27h-1.2M529.6 92.1h-1.2M529.6 94.93h-1.2M529.6 97.75h-1.2M529.6 100.58h-1.2M529.6 103.4h-1.2M529.6 106.23h-1.2M529.6 109.06h-1.2M529.6 111.88h-1.2" fill="none" stroke="#aaa" stroke-width=".4"/>
<text x="594.56" y="110.4" font-size="8.85" fill="#3db54a" stroke="#3db54a" stroke-width=".25">4.2%</text>
<text transform="translate(541.8 121.5)" x="-5.37" y="2.54" font-size="7.1" font-weight="normal" fill="#333">10<tspan font-size="4.54" dy="-2.56">2</tspan></text>
<text transform="translate(523.2 100.29) rotate(-90)" x="-5.07" y="2.4" font-size="6.7" font-weight="normal" fill="#333">10<tspan font-size="4.29" dy="-2.41">2</tspan></text>
<text transform="translate(564.13 121.5)" x="-5.38" y="2.54" font-size="7.1" font-weight="normal" fill="#333">10<tspan font-size="4.54" dy="-2.56">3</tspan></text>
<text transform="translate(523.2 79.27) rotate(-90)" x="-5.08" y="2.4" font-size="6.7" font-weight="normal" fill="#333">10<tspan font-size="4.29" dy="-2.41">3</tspan></text>
<text transform="translate(585.86 121.5)" x="-5.42" y="2.54" font-size="7.1" font-weight="normal" fill="#333">10<tspan font-size="4.54" dy="-2.56">4</tspan></text>
<text transform="translate(523.2 56.77) rotate(-90)" x="-5.11" y="2.4" font-size="6.7" font-weight="normal" fill="#333">10<tspan font-size="4.29" dy="-2.41">4</tspan></text>
<text transform="translate(607.51 121.5)" x="-5.39" y="2.54" font-size="7.1" font-weight="normal" fill="#333">10<tspan font-size="4.54" dy="-2.56">5</tspan></text>
<text transform="translate(523.2 34.71) rotate(-90)" x="-5.08" y="2.4" font-size="6.7" font-weight="normal" fill="#333">10<tspan font-size="4.29" dy="-2.41">5</tspan></text>
<path d="M657.51 84.59h.7M660.74 77.04h.7M650.21 91.32h.7M649.84 92.74h.7M656.69 86.34h.7M655.91 85.07h.7M641.69 99.93h.7M642.39 101.35h.7M657.03 82.94h.7M658.61 80.38h.7M658.91 81.3h.7M652.91 91.17h.7M641.5 101.85h.7M653.8 87.33h.7M660.86 75.11h.7M656.97 82.54h.7M661.38 73.46h.7M653.32 90.07h.7M647.56 90.57h.7M649.09 97.29h.7M653.41 98.71h.7M653.45 85.72h.7M663.56 78.57h.7M655.01 86.79h.7M656.47 81.73h.7M648.22 90.16h.7M648.83 94.85h.7M659.27 84.93h.7M661.36 78.73h.7M643.07 93.92h.7M651.75 85.34h.7M659.57 79.19h.7M656.03 89.13h.7M660.87 79.13h.7M651.59 90.65h.7M649.25 96.79h.7M651.36 88.88h.7M655.42 84.51h.7M657.58 81.66h.7M644.72 90.74h.7M658.1 83.18h.7M648.5 94.65h.7M654.55 89.54h.7M643.93 94.07h.7M647.18 91.51h.7M648.18 96.98h.7M661.05 79.01h.7M643.06 103.61h.7M641.85 98.05h.7M659.59 80.46h.7M653.71 84.44h.7M664.77 74.31h.7M657.67 80.6h.7M656.24 85.76h.7M657.04 86.75h.7M642.8 101.99h.7M641.84 94.41h.7M660.83 81.21h.7M656.53 85.06h.7M642.35 96.72h.7M657.34 79.76h.7M641.89 101h.7M659.51 81.74h.7M642.78 98.34h.7M655.39 79.61h.7M651.7 90.34h.7M650.8 90.99h.7M650.17 100.16h.7M653.54 82.54h.7M656.96 92.55h.7M643.09 104.43h.7M645.78 97.44h.7M660.8 83.72h.7M651.1 90.35h.7M661.72 80.12h.7M657.98 79.51h.7M659.79 79.84h.7M660.45 76.16h.7M638.51 100.57h.7M658.99 79.74h.7M648.6 90.42h.7M665.01 74.57h.7M657.85 86.4h.7M653.42 86.58h.7M661.73 77.45h.7M650.97 90.85h.7M654.68 80.15h.7M655 86.29h.7M656.23 83.89h.7M652.95 87.6h.7M660.19 76.22h.7M639.39 97.41h.7M655.25 84.15h.7M656.78 84.29h.7M651.46 94.73h.7M645.11 100.98h.7M658.65 86h.7M663.83 75.64h.7M645.65 100.51h.7M644.84 96.69h.7M660.16 81.08h.7M666.63 73.04h.7M660.26 88.53h.7M644.45 98.76h.7M656.26 79.76h.7M647.62 99.18h.7M649.56 88.77h.7M646.49 95.24h.7M662.69 75.44h.7M649.87 87.98h.7M646.67 100.03h.7M648.11 95.81h.7M646.34 93.31h.7M643.9 98.81h.7M648.03 91.97h.7M653.2 89.81h.7M644.57 96.38h.7M654.59 83.13h.7M646.7 92.75h.7M651.31 88.07h.7M656.04 85.1h.7M661.27 75.55h.7M649.57 91.46h.7M641.4 102.8h.7M647.9 102h.7M660.11 81.89h.7M652.67 78.26h.7M656.98 81.3h.7M659.52 78.77h.7M662.52 77.17h.7M661.86 81.85h.7M663.72 76.71h.7M644.79 88.6h.7M651.8 90.32h.7M654.56 86.25h.7M646.13 97.43h.7M648.2 98.49h.7M645.6 92.36h.7M654.16 90.52h.7M651.77 83.21h.7M649.19 92.45h.7M647.53 95.68h.7M659.89 87.45h.7M651.62 86.72h.7M655.89 78.91h.7M661.48 79.55h.7M644.26 95.7h.7M645.42 101.98h.7M656.16 81.59h.7M661.91 74.97h.7M646.22 100.2h.7M642.64 100.35h.7M645.92 99.71h.7M644.86 91.94h.7M663.12 80.24h.7M658.46 79.4h.7M663.24 77.57h.7M648.01 89.78h.7M647.47 88.32h.7M661.04 77.43h.7M656.9 83.65h.7M661.01 83.13h.7M653.35 88.61h.7M658.65 83.33h.7M662.07 78.69h.7M660.11 90.5h.7M662.52 74.47h.7M661.58 81.2h.7M646.91 94.41h.7M645.75 97.32h.7M650.74 88.32h.7M664.28 77.04h.7M649.04 87.62h.7M664.82 71.38h.7M646.99 94.09h.7M644.47 93.5h.7M656.41 86.15h.7M654.7 89.14h.7M650.28 88.08h.7M641.71 103.36h.7M649.12 89.78h.7M652.85 87.73h.7M662.15 76.81h.7M649.41 99.01h.7M646.51 95.45h.7M654.75 82.48h.7M661.41 75.4h.7M654.85 90.02h.7M645.67 90.01h.7M640.33 101.46h.7M661.13 77.01h.7M651.52 80.88h.7M655.84 82.73h.7M654.03 90.29h.7M657.07 83.64h.7M658.7 78.27h.7M655.79 86.88h.7M649.76 93.57h.7M658.64 88.23h.7M644.49 95.1h.7" stroke="#bf98d3" stroke-width=".7"/>
<path d="M651.9 88.68h.8M661.91 78.55h.8M648.6 93.63h.8M655.18 84.27h.8M663.92 75.36h.8M662.02 78.07h.8M660.19 81.55h.8M661.87 78.49h.8M651.06 91.63h.8M654.58 85.38h.8M659.99 81.53h.8M653.07 86.86h.8M659.09 79.99h.8M661.08 78.08h.8M648.84 91.52h.8M656.81 83.91h.8M646.86 96.75h.8M662.31 77.31h.8M649.3 91.8h.8M654.84 86.5h.8M647 94.29h.8M663.82 76.49h.8M644.66 100.49h.8M662.31 76.95h.8M644.61 97.56h.8M658.52 83.35h.8M661.35 81.69h.8M645.12 97.14h.8M653.92 89.81h.8M652.16 90.32h.8M653.65 85.89h.8M643.79 99.13h.8M656.57 84.71h.8M645.59 96.24h.8M657.06 86.97h.8M656.57 80.34h.8M652.28 88.08h.8M656.32 83.38h.8M643.3 98.31h.8M655.91 83.58h.8M661.69 77.99h.8M662.82 77.18h.8M645.96 96.63h.8M649.58 93.5h.8M652.31 88.67h.8M650.07 89.59h.8M655.11 84.46h.8M644.67 100.06h.8M648.71 92.06h.8M650.29 90.51h.8M652.02 90.07h.8M659.47 81.41h.8M649.45 92.22h.8M653.59 89.03h.8M651.06 93.29h.8M656.37 87.18h.8M662.28 77.48h.8M661.13 76.95h.8M660.36 78.11h.8M652.59 86.66h.8M644.36 98.88h.8M655.8 87.12h.8M649.64 93.07h.8M655.8 86.52h.8M656.89 89.25h.8M651.87 87.21h.8M653.68 89.94h.8M646.12 96.25h.8M651.87 88.33h.8M651.06 89.7h.8M651.34 89.54h.8M654.38 90.36h.8M651.16 91.19h.8M659.09 83.28h.8M649.7 89.49h.8M661.63 80.11h.8M658.52 82.45h.8M655.6 86.91h.8M660.18 78.51h.8M653.52 88.75h.8M656.84 83.95h.8M653.06 87.77h.8M652.84 88.5h.8M646.36 96.44h.8M658.83 81.91h.8M652.24 87.59h.8M644.56 99.52h.8M649.92 89.38h.8M650.95 88.7h.8M642.31 97.93h.8M656.57 79.72h.8M650.04 95.15h.8M647.28 98.22h.8M649.58 91.22h.8M645.48 96.2h.8M658.75 80.02h.8M661.06 78.71h.8M645.95 96.38h.8M654.51 84.36h.8M642.84 99.99h.8M653.77 84.67h.8M659.81 79.77h.8M644.01 100.6h.8M659.33 81.75h.8M653.72 87.73h.8M649.87 91.27h.8M651.18 94.21h.8M654.26 86.24h.8M645.74 92.38h.8M661.93 77.23h.8M654 82.89h.8M656.63 83.78h.8M647.1 94.65h.8M651.54 92.79h.8M649.43 95.1h.8M653.53 86.94h.8M657.29 82.76h.8M652.45 90.25h.8M652.39 86.86h.8M658.33 80.66h.8M655.82 87.55h.8M647.36 92.77h.8M654.23 87.12h.8M665.18 76.21h.8M652.4 88.14h.8M647.86 97.93h.8M656.34 82.05h.8M646.82 93.77h.8M662.57 78.65h.8M645.71 98.14h.8M658.33 82h.8M650.06 91.54h.8M648.54 95.64h.8M665.58 75.01h.8M650.8 88.54h.8M660.1 79.33h.8M664.08 76.15h.8M655.35 84.96h.8M645.5 98.84h.8M646.86 93.66h.8M662.91 78.28h.8M650.46 92.82h.8M643.97 99.4h.8M656.93 84.32h.8M654.4 89.85h.8M653.09 86.04h.8M661.57 78.6h.8M645.6 95.43h.8M657.8 81.29h.8M658.15 84.7h.8M659.65 81.16h.8M661.94 78.03h.8M660.53 80.46h.8M654.44 85.69h.8M650.27 94.05h.8M661.54 77.69h.8M664.27 75.61h.8M657.09 83.66h.8M649.18 94.72h.8M648.78 91.53h.8M660.17 81.01h.8M649.61 93.99h.8M650.44 91.63h.8M644.61 97.3h.8M641.99 99.59h.8M662.55 76.52h.8M652.04 90.15h.8M645.99 95.64h.8M649.74 88.84h.8M655.75 86.21h.8M645.68 97.84h.8M657.35 82.49h.8M648.73 90.68h.8M654.64 85.18h.8M652.72 87.58h.8M647.6 93.28h.8M651.24 90.61h.8M661.08 76.29h.8M648.11 93.99h.8M661.59 77.61h.8M648.29 95.39h.8M645.37 95.4h.8M657.21 82.96h.8M644.77 97.18h.8M651.65 85.85h.8M657.43 87.02h.8M652.61 88h.8M646.85 96.27h.8M644.38 98.45h.8M650.35 90.91h.8M656.15 84.29h.8M658.28 79.05h.8M647.3 95.58h.8M649.71 90.93h.8M648.91 92.47h.8M651.91 91.7h.8M646.24 96.2h.8M660.28 82.65h.8M648.6 95.85h.8M662.17 78.18h.8M645.66 97.62h.8M643.51 97.64h.8M659.91 83.7h.8M649.82 95.48h.8M650.36 91.13h.8M655.15 85.91h.8M652.09 86.49h.8M650 94.31h.8M658.66 82.09h.8M663.51 76.19h.8M657.84 82.11h.8M658.56 81.53h.8M652.64 88.16h.8M660.23 79.15h.8M652.53 87.97h.8M652.27 88.09h.8M658.42 85.02h.8M659.45 84.61h.8M655.31 82.14h.8M648.4 93.53h.8M643.12 98.74h.8M642.04 100.1h.8M651.21 91.74h.8M652.37 82.86h.8M651.84 91.12h.8M657.34 80.01h.8M643.13 100.04h.8M652.32 88.02h.8M662.73 75.91h.8M657.13 83.12h.8M643.32 97.54h.8M646.29 99.3h.8M650.88 87.19h.8M655.34 82.5h.8M659.06 80.69h.8M643.74 98.99h.8M654.69 88.63h.8M647.11 94.69h.8M651.4 87.62h.8M662.46 76.3h.8M652.31 87.34h.8M659.14 80.29h.8M648.71 94.12h.8M652.05 88.55h.8M653.64 86.05h.8M661.77 78.59h.8M646.36 93.99h.8M649.61 91.93h.8M661.82 78.13h.8M654.22 85.4h.8M651.58 91.9h.8M659.24 80.4h.8M654.33 90.03h.8M653.9 86.55h.8M660.12 79.01h.8M664.44 73.65h.8M655.3 85.53h.8M662.24 78.03h.8M655.23 82.78h.8M664.44 73.13h.8M657.96 80.23h.8M647.42 94.58h.8M652.64 88.41h.8M651.95 87.41h.8M649.55 91.18h.8M647.61 94.25h.8M658.64 82.07h.8M660.25 77.92h.8M660.36 77.05h.8M646.47 94.79h.8M643.81 101.59h.8M659.08 80.12h.8M651.33 89.16h.8M649.9 91.96h.8M653.81 83.97h.8M656.95 84.59h.8M658.4 80.41h.8M643.77 95.41h.8M664.5 74.35h.8M663.73 75.24h.8M652.69 90.42h.8M657.36 83.84h.8M648.7 92.2h.8M654.03 88.58h.8M646.79 96.98h.8M651.4 93.65h.8M650.02 90.12h.8M659.3 80.91h.8M659.94 78.91h.8M657.38 83.35h.8M655.78 87.46h.8M655.48 87.04h.8M654.08 86.33h.8M657.82 78.95h.8M657.69 81.54h.8M659.72 79.82h.8M654.78 86.83h.8M654.79 88.42h.8M654.48 88.58h.8M658.28 82.5h.8M658.08 83.78h.8M657.25 81.72h.8M658.06 80.98h.8M647.59 97.1h.8M652.81 89.02h.8M651.02 92.38h.8M661.97 78.7h.8M648 95.35h.8M657.6 82.43h.8M649.23 94.23h.8M658.11 82.13h.8M651.13 92.11h.8M649.72 94.05h.8M644.79 97.58h.8M653.93 90.87h.8M651.19 90.48h.8M655.24 88.27h.8M643.12 97.86h.8M662.06 78.62h.8M655.84 82.75h.8M643.11 98.18h.8M654.93 83.24h.8M661.85 77.39h.8M652.93 88.36h.8M658.29 81.16h.8M651.28 94.77h.8M660.58 80.62h.8M658.18 80.52h.8M647.76 94.43h.8M651.15 89.95h.8M648.17 94.49h.8M646.14 96.26h.8M650.57 88.24h.8M655.31 89.09h.8M661.24 80.14h.8M647.06 96.42h.8M650.92 93.04h.8M653.75 88.1h.8M648.29 92.37h.8M656.72 81.95h.8M665.53 73.92h.8M648.25 92.08h.8M651.16 89.65h.8M656.9 81.73h.8M648.47 94.85h.8M654.29 85.97h.8M648.69 93.74h.8M646.02 95.67h.8M645.53 94.76h.8M658.23 82.9h.8M650.28 91.23h.8M649.82 90.3h.8M654.5 87.95h.8M657.27 85.33h.8M650.47 94.8h.8M655.61 86.63h.8M647.49 95.28h.8M665 74.92h.8M652.88 86.88h.8M654.51 86.35h.8M652.35 89.18h.8M648.12 90.57h.8M645.81 97.72h.8M657.44 84.63h.8M656.29 83.98h.8M652.43 91.26h.8M659.58 79.11h.8M660.01 81.44h.8M662.51 78.31h.8M661.36 77.7h.8M648.7 93.39h.8M657.9 81.67h.8M656.91 81.73h.8M656.34 81.94h.8M655.71 83.06h.8M652.06 89.94h.8M646.58 92.48h.8M643.18 99.45h.8M659.34 84.81h.8M663.03 77.12h.8M656.49 84.39h.8M651.25 89.26h.8M658.37 78.49h.8M655.11 87.13h.8M659.22 82.32h.8M657.66 82.37h.8M662.99 75.49h.8M655.96 84.57h.8M646.73 93.9h.8M656.81 85.28h.8M651.17 90.02h.8M645.7 98.05h.8M646.81 93.57h.8M656.68 81.4h.8M645.27 92.39h.8M649.4 92.91h.8M655.67 82.56h.8M659.14 82.8h.8M656.58 83.9h.8M651.7 89.64h.8M650.02 87.94h.8M654.66 87.5h.8M659.6 81.24h.8M654.83 88.66h.8M655.12 84.95h.8M660.43 79.73h.8M649.23 93.34h.8M654.82 87.31h.8M658.92 82.6h.8M646.73 96.05h.8M659.76 80.89h.8M655.25 86.89h.8M657.59 85.27h.8M664.53 75.53h.8M660.52 79.81h.8M651.52 89.64h.8M651.26 89.42h.8M660.7 80.23h.8M652.54 87.05h.8M656.53 82.37h.8M661.91 77.68h.8M654.2 85.86h.8M657.69 82.28h.8M648.25 94.55h.8M651.83 89.38h.8M654.6 86.9h.8M655.88 85.43h.8M641.86 101.29h.8M651.89 88.01h.8M656.4 85.32h.8M657.98 82.46h.8M646.14 95.29h.8M659.97 78.75h.8M655.54 85.35h.8M661.68 80.66h.8M658.43 81.9h.8M657.89 83.85h.8M644.69 97.27h.8M648.84 91.65h.8M663.12 77.6h.8M657.99 82.94h.8M661.55 76.86h.8M652.66 91h.8M659.52 80.39h.8M647.93 96.37h.8M648.57 95.85h.8M659.11 80.92h.8M654.78 84.71h.8M651.52 92.64h.8M654.64 90.49h.8M656.9 84.14h.8M651.99 86.55h.8M656.48 83.47h.8M655.17 86.79h.8M648.42 90.06h.8M662.18 76.57h.8M650.75 89.22h.8M655.24 84.78h.8M662.05 80.38h.8M656.33 84.68h.8M649.64 95.58h.8M654.54 86.95h.8M655.38 85.6h.8M655.18 85.51h.8M659 81.29h.8M647 98.05h.8M651.65 91.96h.8M651.68 91.38h.8M662.93 77.73h.8M650.41 89.15h.8M656.36 83.21h.8M652.59 86.1h.8M662.11 76.73h.8M662.44 78.45h.8M652.65 86.89h.8M649.5 90.57h.8M661.36 77.64h.8M652.4 86.46h.8M650.71 91.09h.8M658.67 82.57h.8M646.63 98.12h.8M657.25 83.57h.8M649.02 94.12h.8M645.07 99.47h.8M659.92 79.33h.8M653.88 86.21h.8M645.56 97.73h.8M649.57 92.56h.8M663.6 75.54h.8M648.98 92.98h.8M648.52 92.47h.8M662.28 76.14h.8M664.43 74.94h.8M653.4 86.83h.8M645.03 96.13h.8M654.48 87.91h.8M660.35 79.81h.8M655.75 87.13h.8M660.02 79.15h.8M653.71 89.66h.8M655.86 88.57h.8M647.83 93.5h.8M656.85 82.84h.8M660.34 78.52h.8M656.01 83.45h.8M658.86 80.99h.8M660.86 79.34h.8M663.11 75.77h.8M652.82 89.4h.8M647.7 92.47h.8M656.83 83.18h.8M659.81 81.56h.8M653.8 89.69h.8M645.25 100.22h.8M653 91.22h.8M645.56 99.01h.8M649.83 88.81h.8M658.21 81.03h.8M648.13 92.91h.8M645.3 97.17h.8M647.64 95.29h.8M663.02 78.08h.8M652.9 87.38h.8M658.84 77.76h.8M663.48 74.56h.8M644.83 98.43h.8M656.41 85.27h.8M642.11 99.31h.8M655.67 86.7h.8M654.57 86.77h.8M655.46 87.85h.8M653.71 82.89h.8M655.82 85.12h.8M649.2 92.38h.8M653.08 88.27h.8M651.07 89.72h.8M651.88 88.1h.8M653.79 86.62h.8M643.12 97.58h.8M649.13 88.19h.8M650.07 92.86h.8M646.92 94.29h.8M645.88 94.68h.8M657.26 85.35h.8M653.77 86.81h.8M661.35 78.14h.8M656.63 84.99h.8M651.07 89.75h.8M656.48 84.4h.8M663.56 74.93h.8M651.06 92.61h.8M648.73 93.35h.8M652.19 92.44h.8M655.32 86.65h.8M655.94 87h.8M647.48 93.9h.8M648.22 92.75h.8M654.91 87.61h.8M657.42 84.47h.8M650.66 90.51h.8M645.79 97.86h.8M657.58 82.49h.8M658.94 81.99h.8M647.81 92.91h.8M650.06 93.21h.8M650.64 90.17h.8M650.37 92.33h.8M644.35 97.84h.8M655.84 84.95h.8M647.13 95.33h.8M645.47 97.48h.8M656.6 86.23h.8M649.55 95.7h.8M662.2 77.98h.8M643.95 96.77h.8M649.87 91.9h.8M649.92 89.86h.8M651.29 92.89h.8M661.37 78.38h.8M646.01 96.07h.8M654.01 87.74h.8M661.86 77.26h.8M644.32 99.53h.8M654.75 86.77h.8M657.22 81.27h.8M649.88 93.3h.8M652.5 87.85h.8M659.61 81.64h.8M642.09 97.63h.8M653.53 90.89h.8M652.44 88.13h.8M656.03 84.13h.8M653.85 89.46h.8M648.28 92.37h.8M659.74 81.69h.8M653.22 85.03h.8M652 92.2h.8M656.04 87.44h.8M659.81 81.29h.8M654.68 83.74h.8M663 76.95h.8M648.51 94.11h.8M641.84 100.78h.8M657.37 81.76h.8M655.29 84.83h.8M655.43 84.27h.8M659.72 80.34h.8M658.14 83.73h.8M654.26 86.58h.8M649.57 93.46h.8M650.08 91.88h.8M654.34 85.8h.8M648.8 93.68h.8M658.19 81.93h.8M655.15 86.71h.8M654.99 89.32h.8M646.62 92.41h.8M660.76 79.5h.8M649.29 89.01h.8M651.04 90.17h.8M650.81 88.13h.8M655.99 85.51h.8M653.66 90.7h.8M651.47 88.71h.8M659.71 80.7h.8M650.43 89.42h.8M662.44 77.26h.8M655.09 88.23h.8M643.08 98.19h.8M654.78 85.06h.8M662.64 75.25h.8M655.17 86.11h.8M648.75 94.07h.8M652.31 88.07h.8M646.91 96.49h.8M648.11 90.69h.8M655.41 85.89h.8M660.46 79.07h.8M644.54 95.25h.8M650.64 87.87h.8M642.32 99.17h.8M655.19 86.6h.8M658.09 83.75h.8M648.08 94.49h.8M644.53 100.03h.8M650.7 90.78h.8M651.38 88.42h.8M656.33 86.36h.8M648.29 94.42h.8M646.95 92.86h.8M655.99 83.77h.8M655.65 86.36h.8M659.56 81.78h.8M650.02 92.23h.8M652.79 86.49h.8M648.73 93.27h.8M663.39 77.75h.8M656.75 84.94h.8M659.43 82.45h.8M652.66 86.66h.8M658.02 81.59h.8M648.13 94.58h.8M655.95 85.21h.8M652.35 88.61h.8M661.31 76.41h.8M645.47 97.6h.8M649.77 92.34h.8M655.89 83.7h.8M661.63 79.17h.8M656.97 87.89h.8M656.18 84.7h.8M642.75 100.15h.8M665.02 74.87h.8M659.4 84.11h.8M658.92 81.53h.8M654.01 86.89h.8M656.01 84.19h.8M664.35 77.06h.8M660.33 80.94h.8M655.31 87.25h.8M644.22 98.86h.8M655.45 84.72h.8M655.63 84.34h.8M661.19 80.23h.8M656.39 87.59h.8M647.01 94h.8M659.35 82.74h.8M657.77 80.15h.8M660.74 76.52h.8M655.57 84.9h.8M661.3 79.05h.8M657.59 84.45h.8M646.75 94.87h.8M650.83 89.39h.8M648.34 96.16h.8M655.51 80.96h.8M648.72 94.6h.8M655.99 85.2h.8M643.84 96.94h.8M642.55 99.63h.8M660.15 82.29h.8M656.33 79.93h.8M647.01 94.33h.8M649.82 89.1h.8M654.96 85.73h.8M649.23 92.89h.8M647.23 95.23h.8M663.22 76.7h.8M648.32 95.18h.8M653.43 88.46h.8M662.5 75.59h.8M655.98 83.26h.8M643.76 100.58h.8M647.96 93.29h.8M648.07 95.47h.8M645.08 99.37h.8M642.15 95.76h.8M656.58 87.66h.8M657.48 84.14h.8M657.29 84.28h.8M644.74 99.68h.8M663.42 76.83h.8M647.18 97.12h.8M646.36 94.8h.8M648.4 93.61h.8M653.56 86.79h.8M652.65 88.27h.8M646.82 96.02h.8M654.59 86.66h.8M656.85 83.28h.8M648.71 92.13h.8M645 96.07h.8M653.24 87.52h.8M648.89 91.3h.8M662.73 75.92h.8M652.58 90.11h.8M655.85 86.44h.8M657.23 82.44h.8M648.81 91.71h.8M645.7 92.7h.8M652.94 87.63h.8M648.27 94.02h.8M659.32 80.21h.8M650.39 90.46h.8M663.41 76.93h.8M644.64 99.14h.8M648.73 92.18h.8M654.12 90.24h.8M658.39 84.04h.8M654.76 90.48h.8M652.82 88.7h.8M659.09 80.33h.8M652.15 89.12h.8M653.27 87.84h.8M643.17 98.33h.8M647.67 96.3h.8M659.44 79.68h.8M648.15 89.72h.8M647.97 95.41h.8M643.52 99.25h.8M657.36 83.88h.8M646.63 94.71h.8M645.96 92.48h.8M651.77 93.18h.8M654.88 87.29h.8M652.7 88.51h.8M653.75 88h.8M662.13 79.35h.8M656.22 85.24h.8M651.48 89.8h.8M653.54 87.7h.8M643.91 96.6h.8M658.55 82.23h.8M659.54 80.45h.8M645.09 98.71h.8M653.22 86.87h.8M651.55 88.92h.8M655.56 82.29h.8M650.02 91.15h.8M650.84 90.34h.8M657.68 82.02h.8M655.91 86.96h.8M659.29 82.13h.8M653.56 87.79h.8M652.53 87.06h.8M652.21 89.61h.8M650.3 98.69h.8M659.3 80.41h.8M648.67 93.02h.8M651.24 91.82h.8M659.67 79.13h.8M656.25 85.34h.8M656.78 81.58h.8M654.16 86.92h.8M650.76 91.28h.8M656.39 84.67h.8M657.36 84.85h.8M648.77 93.3h.8M644.47 98.06h.8M652.18 90.93h.8M660.09 79.72h.8M656.2 85.81h.8M651.72 88.81h.8M654.27 87.14h.8M650.24 90.84h.8M653.6 87.69h.8M655.31 84.81h.8M661.67 77.96h.8M648.99 87.87h.8M659.35 82.68h.8M646.76 93.49h.8M647.67 94.88h.8M649.04 91.01h.8M648.21 97.75h.8M651.48 92.07h.8M646.37 99.34h.8M644.57 97.3h.8M664.49 74.8h.8M647.44 96.77h.8M651.61 89.19h.8M661.42 81.59h.8M662.28 78.39h.8M655.6 86.47h.8M652.1 89.26h.8M659.21 83.12h.8M645.36 97.32h.8M663.03 75.02h.8M653.57 87.63h.8M655.25 83.82h.8M659.78 80.31h.8M648.94 94.01h.8M646.34 95.74h.8M657.12 83.02h.8M643.55 96.33h.8M661.78 77.06h.8M646.29 99.04h.8M642.16 99.25h.8M652.47 85.15h.8M653.46 87.33h.8M650.89 93.49h.8M648.14 95.72h.8M661.4 78.39h.8M651.46 90.29h.8M644.98 97.04h.8M656.88 84.36h.8M651.7 90.24h.8M646.86 95.31h.8M652.54 85.45h.8M645.53 96.06h.8M649.91 90.48h.8M655.37 83.57h.8M661.66 78.18h.8M653.39 88.03h.8M643.83 97.71h.8M651.65 91.06h.8M642.95 99.69h.8M657.63 81.75h.8M659.61 81.49h.8M652.63 89.75h.8M665.16 76.01h.8M656.87 85.19h.8M651.56 90.65h.8M652.45 89.11h.8M651.69 88.44h.8M649.12 89.44h.8M654.05 86.48h.8M657.7 81.67h.8M657.57 82.97h.8M647.27 96.45h.8M651.61 89.6h.8M655.5 86.48h.8M650.99 95.42h.8M660.74 78.9h.8M649.9 91.17h.8M657.96 84.65h.8M644.36 100.36h.8M659.69 82.98h.8M654.64 84.82h.8M653.29 85.01h.8M651.28 93.36h.8M663.13 77.87h.8M646.5 96.1h.8M645.6 92.23h.8M655.49 89.14h.8M648.29 96.89h.8M659.35 82.63h.8M657.85 79.82h.8M659.13 81.25h.8M654.57 84.91h.8M652.47 89.05h.8M659.62 82.64h.8M654.23 86.41h.8M646.65 93.53h.8M655.18 83.38h.8M644.56 98.75h.8M650.46 89.19h.8M651.12 89.47h.8M658.68 80.44h.8M644.51 96.33h.8M644.03 97.08h.8M650.86 87.77h.8M655.28 87.99h.8M644.64 98.63h.8M659.65 79.68h.8M657.49 86.47h.8M654.53 86.46h.8M657.1 84.85h.8M657.73 82.88h.8M646.86 94.32h.8M655.81 83.27h.8M648.77 92.09h.8M643.88 100.97h.8M647.05 93.42h.8M657.54 82.72h.8M653.21 86.76h.8M654.89 86.3h.8M645.4 97.21h.8M652.23 87.36h.8M654.53 86.93h.8M650.14 90.18h.8M658.27 83.1h.8M647.52 95.28h.8M657.64 82.73h.8M652.23 89.64h.8M662.08 78.14h.8M653.61 89.63h.8M659.2 82.71h.8M660.55 80.92h.8M649.92 93.1h.8M644.4 98.32h.8M656.72 84.79h.8M646.78 95h.8M649.43 91.6h.8M645.11 97.94h.8M650.36 92.41h.8M653 86.53h.8M661.48 79.14h.8M648.09 94.34h.8M644.34 98.27h.8M654.98 85.76h.8M654.22 87h.8M652.14 92.17h.8M656.3 82.03h.8M650.09 93.12h.8M650.72 88.18h.8M651.48 91.25h.8M647.27 94.11h.8M658.76 79.31h.8M652.93 90.63h.8M658.3 79.58h.8M653.79 85.85h.8M646.26 94.03h.8M656.51 83.65h.8M656.88 81.44h.8M651.2 91.11h.8M657.78 84.59h.8M656.44 86.72h.8M665.59 74.31h.8M658.72 80.46h.8M650.99 89.96h.8M664.03 75.47h.8M655.98 84.66h.8M653.82 86.33h.8M662.79 74.28h.8M643.06 98.85h.8M643.57 99.98h.8M659.93 79.83h.8M661.76 81.19h.8M654.34 80.8h.8M662.47 75.19h.8M655.08 83.18h.8M654.43 88.1h.8M658.95 83.43h.8M644.96 95.53h.8M658.91 81.18h.8M650.02 92.82h.8M650.87 91.23h.8M657.38 83.31h.8M647.07 93.55h.8M648.8 90.98h.8M652.17 86.23h.8M660.79 77.26h.8M645.74 97.87h.8M658.84 80.81h.8M658.61 80.84h.8M660.77 77.53h.8M659.94 80.03h.8M665.01 74.9h.8M660.24 77.98h.8M654.78 88.82h.8M655.39 86.2h.8M654.41 81.75h.8M651.9 89.77h.8M651.16 90.82h.8M659.16 83.12h.8M649.43 91.96h.8M653.09 83.49h.8M659.46 78.06h.8M644.29 95.33h.8M647.54 95.45h.8" stroke="#8e4cab" stroke-width=".8"/>
<path d="M669.31 86.41h.6M666.94 86.22h.6M681.11 93.21h.6M685.21 85.52h.6M664.85 82.2h.6M678.48 84.28h.6M687.76 88.42h.6M684.25 89.04h.6M690.78 82.2h.6M690.19 89.1h.6M685.59 83.3h.6M673.87 94.37h.6M697.39 85.54h.6M685.31 83.92h.6M679.06 76.32h.6M675.84 92.81h.6M683.96 82.05h.6M674.47 86.61h.6M678.42 84.04h.6M689.19 75.58h.6M683.31 85.85h.6M668.79 83.93h.6M680.91 84.7h.6M675.66 82.91h.6M671.59 83.98h.6M670.28 91.03h.6M671.1 86.96h.6M680.33 89.74h.6M689.63 83.53h.6M677.14 84.33h.6M691.24 81.89h.6M671.57 87.3h.6M677 84.35h.6M692.29 83.68h.6M680.45 84.25h.6M681.55 82.13h.6M681.91 89.95h.6M674.22 80.93h.6M699.2 92.19h.6M679.27 86.77h.6M686.88 91.86h.6M683.6 95.78h.6M687.87 88.04h.6M692.43 88.7h.6M658.72 86.63h.6M666.26 89.13h.6M660.34 91.33h.6M671.46 86.27h.6M677.12 87h.6M681.25 84.46h.6M674.09 81.41h.6M683.71 91.72h.6M685.03 90.35h.6M679.74 92.77h.6M668.89 80.85h.6M673.66 87.88h.6M677.16 88.78h.6M685.28 92.4h.6M677.49 87.97h.6M681.79 84.47h.6M664.19 87.26h.6M653.93 92.54h.6M679.78 85.05h.6M679.71 87.02h.6M670.17 86.56h.6M674.84 87.86h.6M683.53 88.92h.6M683.81 82.17h.6M689.68 96.03h.6M685.18 81.93h.6M676.3 81.96h.6M683.34 86.35h.6M696.94 91.36h.6M693.45 91.99h.6M671.37 95.86h.6M681.83 87.46h.6M691.74 83.38h.6M680.09 81.26h.6M684.13 84.16h.6M690.04 87.76h.6M681.22 85.87h.6M682.77 75.49h.6M675.51 85.53h.6M670.28 87.78h.6M674.54 81.84h.6M684.69 82.02h.6M677.15 80.76h.6M679.89 90.74h.6M697.08 93.82h.6M672.03 90.64h.6M687.06 83.07h.6M674.24 83.58h.6M684.04 94.35h.6M686.36 95.8h.6M690.16 91.57h.6M672.19 85.6h.6M675.84 78.5h.6M680.18 89.05h.6M678.17 92.93h.6M654.78 85.87h.6M682.46 82.04h.6M668.38 86.97h.6M678.77 86.99h.6M667.47 84.14h.6M681.06 84.54h.6M678.39 76.39h.6M701.52 85.15h.6M684.81 77.22h.6M675.65 82.27h.6M685.82 81.96h.6M665.07 85.05h.6M687.33 90.24h.6M688.72 81.46h.6M675 86.6h.6M676.75 79.48h.6M663.37 85.43h.6M682.2 84.5h.6M686.25 83.56h.6M667.79 82.39h.6M684.82 81.49h.6M669.76 77.27h.6M692.39 78.9h.6M660.07 77.31h.6M676.91 87.81h.6M687.42 81.21h.6M668.5 90.05h.6M672.91 88.73h.6M679.51 84.66h.6M677.91 91.29h.6M672.45 84.15h.6M672.54 76.86h.6M675.42 82.85h.6M676.04 85.64h.6M674.62 85.08h.6M686.62 79.66h.6M680.46 88.88h.6M682.88 82.56h.6M683.7 90.76h.6M667.51 86.7h.6M669.07 92.59h.6M695.73 90.22h.6M660.45 84.09h.6M672.56 92.06h.6M684.22 84.66h.6M676.9 87.27h.6M675.86 91.46h.6M693.22 86.95h.6M669.12 90.89h.6M688.47 90.48h.6M665.57 88.87h.6M664.32 83.74h.6M675.77 78.49h.6M680.89 82.17h.6M699.29 82.24h.6M682.18 92.2h.6M680.84 86.32h.6M685.11 87.25h.6M678.8 84.66h.6M672.94 78.65h.6M674.35 82.98h.6M684.01 88.05h.6M675.05 91.49h.6M665.37 94.12h.6M672.79 90.78h.6M663.63 92.28h.6M690.97 84.1h.6M663.68 90.57h.6M684.08 89.59h.6M676.24 80.32h.6M689.89 86.32h.6M694.52 85.82h.6M675.64 92.81h.6M684.54 86.38h.6M680.74 79.3h.6M665.21 86.09h.6M692.02 96.57h.6M685.83 79.6h.6M684.1 85.5h.6M685.84 87.75h.6M681.79 85.96h.6M672.72 87.99h.6M681.66 81.06h.6M668.59 83.77h.6M698.3 84.17h.6M668.23 86.98h.6M688.23 81.89h.6M673.39 78.75h.6M679.95 89.99h.6M683.7 92.08h.6M670.46 89.24h.6M679.78 86.88h.6M654.42 90.1h.6M680.12 84.94h.6M690.23 87.95h.6M676.6 80.74h.6M671.77 79.2h.6M671.65 83.71h.6M656.35 86.18h.6M666.34 87.58h.6M681.85 88.54h.6M694.45 80.13h.6M685.23 88.47h.6M678.54 91.15h.6M678.22 84.39h.6M682.91 82.76h.6M694.12 82.04h.6M677.29 87.66h.6M679.05 80.33h.6M682.28 91.1h.6M683.9 87.39h.6M681.01 83.7h.6M666.68 88.22h.6M663.7 90.07h.6M678.34 84.39h.6M685.96 80.49h.6M695.78 83.82h.6M682.21 81.96h.6M668.49 88.4h.6M675.2 88.32h.6M664.91 92.83h.6M676.95 86.24h.6M688.45 88.47h.6M679.96 77.64h.6M697.54 78.91h.6M676.58 79.32h.6M679.43 71.29h.6M681.57 86.67h.6M682.56 74.95h.6M680.11 94.7h.6M681.34 78.03h.6M686.55 84.82h.6M673.97 84.78h.6M678.91 91.48h.6M682.31 82.32h.6M675.67 86.67h.6M669.65 83.81h.6M681.87 86.87h.6M681.89 84.52h.6M672.2 78.28h.6M670.27 82.61h.6M659.72 82.53h.6M667.47 88.43h.6M680.62 78.24h.6M658.68 94.58h.6M676.15 80.94h.6M679.38 86.66h.6M673.87 86.99h.6M672.07 86.6h.6M686.91 79.58h.6M682.42 87.93h.6M669.08 78.17h.6M687.2 84.12h.6M693.56 83.77h.6M670.88 80.35h.6M669.47 90.31h.6M673.39 75.89h.6M681.65 90.31h.6M678.13 83.13h.6M675.64 78.75h.6M668.73 86.94h.6M685.06 86.76h.6M678.37 80.26h.6M679.5 84.91h.6M678.43 93.54h.6M681.28 85.11h.6M665.12 84.48h.6M674.09 97.53h.6M679.17 86.09h.6M681.46 86.41h.6M682.84 86.43h.6M686.96 83.09h.6M678.28 80.15h.6M685.68 88.31h.6M684.51 88.61h.6M681.72 84.35h.6M677.3 80.18h.6M676.02 83.79h.6M678.94 87.51h.6M685.48 90.27h.6M672.13 80.5h.6M671.71 83.84h.6M682.85 86.91h.6M680.85 87.57h.6M687.41 86.01h.6M689.49 84.24h.6M682.88 90.02h.6M665.57 88.26h.6M687.75 79.74h.6M682.72 100.28h.6M685.55 90.82h.6M683.55 81.27h.6M679.06 84.11h.6M682.86 78h.6M668.42 81.2h.6M669.4 80.76h.6M678.98 83.67h.6M691.7 90.54h.6M681.27 86.38h.6M689.86 84.48h.6M678.92 85.99h.6M680.44 83.38h.6M687.33 86.82h.6M686.86 89.4h.6M679.8 94.6h.6M676.78 85.62h.6M686.83 80.77h.6M681.83 89.31h.6M675.72 80.92h.6M677.48 80.87h.6M671.22 86.22h.6M680.49 91.53h.6M686.3 80.71h.6M659.93 92.52h.6M675.99 84.42h.6M668.29 89.92h.6M675.35 84.27h.6M674.74 83.25h.6M669.03 88.15h.6M679.95 81.85h.6M667.72 83.63h.6M671.05 90.74h.6M666.68 86.37h.6M672.21 87.23h.6M682.94 77.23h.6M675.38 83.8h.6M689.55 83.39h.6M676.74 83.94h.6M673.29 96.88h.6M688.49 81.67h.6M681.88 81h.6M685.64 83.96h.6M682.8 83.45h.6M691.11 74.59h.6M686.55 82.07h.6M689.48 89.43h.6M671.51 87.94h.6M684.03 87.93h.6M686.37 85.63h.6M679.22 85.13h.6M689.33 81.03h.6M680.11 86.56h.6M677.24 92.61h.6M683.42 83.91h.6M668.68 89.12h.6M666.19 92.62h.6M677.26 80.95h.6M659.78 87.07h.6M687.79 84.31h.6M674.17 84.35h.6M692.18 82.28h.6M680.37 86.31h.6M673.23 81.65h.6M674.28 79.75h.6M683.96 92.12h.6M687.05 85.44h.6M677.49 79.5h.6M667.99 86.1h.6M680.71 91.42h.6M683.84 90.44h.6M685.13 88.01h.6M668.39 82.85h.6M674.27 93.45h.6M684.77 88.52h.6M694.65 86.51h.6M679.12 87.9h.6M669.23 85.01h.6M683.83 89.9h.6M652.48 81.91h.6M680.07 86.21h.6M674.8 85.18h.6M693.49 80.51h.6M675.05 88.16h.6M668.68 83.1h.6M700.63 84.58h.6M682.14 93.47h.6M679.29 87.15h.6M673.68 89.62h.6M671.21 82.97h.6M664.29 89.9h.6M684.01 80.76h.6M671.77 82.78h.6M685.56 84.41h.6M682.7 90.81h.6M686.74 83.22h.6M676.21 86.15h.6M679.96 88.34h.6M673.91 77.4h.6M676.59 94.85h.6M671.24 90.4h.6M659.34 81.8h.6M680.64 83.06h.6M668.2 91.43h.6M698.42 90.64h.6M678.81 87.57h.6M664.88 81.25h.6M676.86 91.27h.6M683.96 92.51h.6M682.6 79h.6M672.43 85.85h.6M681.21 92.86h.6M680.47 80.67h.6M675.29 85.23h.6M676.95 90.33h.6M681.02 80.42h.6M678.97 86.56h.6M683.36 76.27h.6M687.02 90.06h.6M689.98 92.96h.6M669.74 86.62h.6M675.57 86.19h.6M681.69 86.44h.6M681.43 87.77h.6M673.52 83.59h.6M677.99 87.26h.6M678.37 89.18h.6M680.42 86.9h.6M684.14 88.57h.6M674.88 85.82h.6M663.81 89.28h.6M675.91 82.02h.6M676.94 84.49h.6M677.21 86.05h.6M686.83 95.32h.6M670.37 93.94h.6M683.53 82.76h.6M693.43 85.87h.6M669.14 84.52h.6M677.39 81.67h.6M678.7 82.88h.6M684.64 89.74h.6M683.8 78.45h.6M674.3 91.07h.6M701.87 82.99h.6M677.04 86.5h.6M680.79 85.85h.6M683.58 83.48h.6M681.53 88.2h.6M679.24 83.63h.6M674.43 86.31h.6M676 94.87h.6M677.24 83.4h.6M690.27 91.88h.6M666.82 80.13h.6M675.08 96.28h.6M675.57 74.91h.6M672.03 85.02h.6M686.15 76.75h.6M676.67 85.09h.6M673.95 84.79h.6M673.89 78.73h.6M686.35 86.12h.6M683.06 90.53h.6M674.36 87.27h.6M681.87 83.51h.6M679.72 90.86h.6M691.25 93.02h.6M669.77 81.65h.6M662.62 87.64h.6M675.06 80.13h.6M672.85 82.42h.6M671.48 88.4h.6M678.19 88.69h.6M681.17 90.08h.6M680.6 83.8h.6M680.18 90.28h.6M672.4 94.8h.6M693.01 88.34h.6M675.2 90.1h.6M670.01 85.96h.6M678.74 89.89h.6M682.75 94.49h.6M663.79 86.99h.6M684.79 82.19h.6M681.69 85.01h.6M679.77 88.04h.6M678.09 83.81h.6M693.15 94.96h.6M695.05 77.54h.6M668.61 86.58h.6M675.28 87.14h.6M673.5 90.19h.6M677.4 90.54h.6M670.3 85.01h.6M668.22 87.34h.6M675.02 82.31h.6M675.39 82.08h.6M686.1 86.45h.6M685.81 85.45h.6M684.02 87.79h.6M682.76 83.56h.6M692.2 79.27h.6M672.02 89.8h.6M676.18 90.81h.6M684.48 86.19h.6M671.34 90.04h.6M684.49 82.36h.6M671.99 90.95h.6M675.78 81.71h.6M673.12 88.74h.6M684.9 86.7h.6M672.6 91.63h.6M679.71 89.34h.6M684.88 90.1h.6M683.75 86.75h.6M678.99 93.27h.6M669.44 95.01h.6M683.56 83.29h.6M671.37 87.12h.6M685.27 88.48h.6M676.34 87.73h.6M687.2 82.33h.6M677.95 84.6h.6M679.02 83.06h.6M669.82 81.84h.6M679.66 84.45h.6M688.34 87.7h.6M679.84 83.26h.6M681.76 79.75h.6M671.09 83.8h.6M691.29 83.67h.6M668.86 86.44h.6M691.51 91.77h.6M675.27 91.15h.6M658.74 72.52h.6M680.38 101.91h.6M677.41 93.81h.6M670.92 80.65h.6M667.38 87.6h.6M681.05 81.46h.6M678.55 96.47h.6M677.05 81.06h.6M689.95 90.78h.6M678.66 85.93h.6M675.17 89.34h.6M665.44 86.55h.6M675.32 79.54h.6M683.33 77.51h.6M683.04 85.74h.6M683.35 85.29h.6M676.53 83.31h.6M682.75 91.84h.6M661.85 85.7h.6M675.81 83.1h.6M698.44 95.38h.6M684.47 86.7h.6M680.13 84.37h.6M684.35 82.93h.6M693.58 82.97h.6M678.67 81.34h.6M682.79 81.57h.6M686.45 81.48h.6M679.09 79.96h.6M685.57 79.38h.6M673 87.13h.6M699.03 76.96h.6M676.77 85.99h.6M680.96 90.75h.6M693.62 82.93h.6M698.68 85.49h.6M687.48 91.61h.6M683.21 88.76h.6M687.69 80.8h.6M659.48 85.27h.6M679.24 84.52h.6M690.66 91.14h.6M677.74 95.02h.6M693.4 82.8h.6M691.07 89.11h.6M678.83 89.76h.6M683.69 88.85h.6M685.69 76.21h.6M690.75 80.28h.6M677.65 81.07h.6M665 81.33h.6M680.55 79.02h.6M702.86 88.8h.6M672.21 86.9h.6M681.95 84.51h.6M676.88 73.34h.6M682.97 89.54h.6M698.31 76.93h.6M691.32 88.36h.6M666.99 83.51h.6M678.69 88.86h.6M679.9 83.2h.6M679.13 86.51h.6M676.56 81.96h.6M670.39 88.95h.6M667.64 88.68h.6M677.45 85.73h.6M682.82 93.27h.6M676.82 82.58h.6M677.58 70.24h.6M694.49 97.19h.6M677.01 97.24h.6M684.43 88.78h.6M684.8 81.81h.6M673.82 84.47h.6M692.38 74.08h.6M668.01 79.13h.6M673.81 82.36h.6M680.33 85.1h.6M689.01 82.67h.6M691.17 88.94h.6M671.48 87.79h.6M677.37 86.26h.6M667.13 81.24h.6M668.9 85.42h.6M692.91 90.12h.6M683.25 85.11h.6M684.38 91.27h.6M670.93 84.11h.6M680.4 88.64h.6M660.56 80.16h.6M680.61 79.88h.6M682.05 83.62h.6M694.04 93.74h.6M679.97 80.34h.6M681.42 84.75h.6M685.7 87.6h.6M699.58 89.83h.6M690.18 88.3h.6M688.22 85.79h.6M674.95 85.33h.6M680.08 89.82h.6M677.42 93.97h.6M670.65 92.38h.6M685.53 82.06h.6M675.48 79.44h.6M683.1 84.69h.6M671.91 90.81h.6M681.55 92.31h.6M663.59 84.92h.6M678.68 80.6h.6M691.48 81.2h.6M675.88 88.07h.6M672.8 84.22h.6M681.23 97.03h.6M674.45 82.78h.6M677.18 74.43h.6M683.14 97.5h.6M675.81 91.89h.6M674.23 79.58h.6M662.06 80.05h.6M666.27 78.87h.6M671.56 89.7h.6M681.96 84.54h.6M683.11 88.06h.6M681.64 78.9h.6M675.4 83.38h.6" stroke="#72c584" stroke-width=".6"/>
<path d="M687.06 81.77h.6M670.94 88.35h.6M672.79 81.39h.6M686.83 85.21h.6M677.49 83.7h.6M677.79 86.33h.6M671.93 89.24h.6M676.02 84.13h.6M668.69 89.73h.6M689.73 87.64h.6M679.36 86.66h.6M680.71 88.9h.6M674.51 84.36h.6M672.63 88.92h.6M676.8 84.44h.6M671.32 84.84h.6M676.01 89.64h.6M672.82 84.3h.6M681.31 78.76h.6M673.96 86.43h.6M683.13 82.47h.6M685.92 84.07h.6M675.45 88.98h.6M676.27 79.55h.6M679 87.66h.6M671.33 87.8h.6M681.36 90.69h.6M684.24 81.86h.6M666.93 79.81h.6M682.31 85.79h.6M677.42 87.42h.6M674.66 82.76h.6M676.06 86.88h.6M674.47 79.66h.6M681.98 86.13h.6M675.01 80.05h.6M687.79 81.33h.6M679.33 84.4h.6M685.13 84.97h.6M673.21 86.94h.6M676.91 86.88h.6M686.67 84.63h.6M676.82 91.57h.6M674.12 83.94h.6M689.2 79.48h.6M669.77 89.02h.6M683.96 87.57h.6M676.63 85.62h.6M688.65 85.61h.6M680.93 82.59h.6M676.55 87.73h.6M690.14 88.01h.6M675.27 89.48h.6M696.17 80.91h.6M682.68 84.16h.6M679.52 80.4h.6M678.92 85.66h.6M681.31 85.91h.6M677.71 87.01h.6M682.3 86.37h.6M679.29 86.67h.6M675.58 85.87h.6M684.12 83.27h.6M678.42 83.39h.6M669.1 87.9h.6M679.14 78.46h.6M668.86 82.31h.6M675.74 76.63h.6M673.32 86.09h.6M677.5 86.5h.6M680.85 87.88h.6M683.81 84.93h.6M676.33 84.41h.6M679.37 88.02h.6M676.1 87.13h.6M680.81 84.41h.6M684.78 82.94h.6M687.78 89.96h.6M673.18 84.07h.6M683.96 85.44h.6M677.4 77.19h.6M678.74 85.63h.6M665.39 89.3h.6M685.12 85.91h.6M672.44 76.93h.6M674.94 82.13h.6M677.61 86.71h.6M691.07 84.31h.6M671.06 83.8h.6M672.4 84.09h.6M669.3 81.5h.6M676.44 82.25h.6M675.41 88.49h.6M682.89 82.44h.6M680.01 84.83h.6M675.17 88.28h.6M680.61 86.75h.6M678.95 88.21h.6M681.41 83.71h.6M680.24 88.09h.6M681.95 88.25h.6M680.73 82.46h.6M683.49 86.75h.6M668.93 77.75h.6M680.55 83.81h.6M680.23 85.92h.6M676.94 86.64h.6M682.38 81.36h.6M674.88 85.59h.6M665.87 86.6h.6M672.43 87.63h.6M680.85 86h.6M683.25 87.02h.6M679.29 86.7h.6M673.02 86.05h.6M680.16 87.15h.6M681.62 85.5h.6M679.72 81.94h.6M677.88 85.46h.6M679.41 89.13h.6M674.43 83.81h.6M680.72 81.81h.6M677.14 80.87h.6M681.95 86.83h.6M677.14 82.88h.6M664.28 85.38h.6M677.08 78.05h.6M682.95 81.6h.6M678.78 89.76h.6M686.52 89.49h.6M673.56 90.12h.6M686.35 82.43h.6M680.74 83.62h.6M687.74 85.45h.6M685.28 88.58h.6M669.64 83.4h.6M673.85 84.97h.6M682.72 85.48h.6M685.1 83.63h.6M684.82 84.02h.6M673.38 85.54h.6M681.74 81.1h.6M676.16 87.8h.6M688.51 84.95h.6M685.57 82.42h.6M675.62 88.98h.6M690.98 83.91h.6M678.21 89.38h.6M679.08 89.37h.6M680.93 86.96h.6M667.36 84.77h.6M686.02 87.63h.6M682.88 84.53h.6M678.12 87.44h.6M688.44 84.86h.6M672.59 79.93h.6M688.07 83.75h.6M677.27 87.27h.6M687.71 84.41h.6M672 86.46h.6" stroke="#5bbd6f" stroke-width=".6"/>
<path d="M671.66 28.5V62.44H712.42V28.5M672.25 62.44L628.68 101.35M675.57 67.83H712.08V112.89L644.25 112.55Z" fill="none" stroke="#5a5a5a" stroke-width=".6"/>
<rect x="648.45" y="64.67" width="2.2" height="1.2" fill="#777"/>
<rect x="691" y="45.26" width="2.2" height="1.2" fill="#777"/>
<rect x="676.02" y="90.06" width="2.2" height="1.2" fill="#777"/>
<rect x="628" y="28.5" width="85.1" height="85.5" fill="none" stroke="#8a8a8a" stroke-width=".8"/>
<path d="M630.55 114v1.2M633.31 114v1.2M636.07 114v1.2M638.83 114v1.2M641.59 114v1.2M644.35 114v1.2M647.1 114v1.2M649.86 114v1.2M652.62 114v1.2M655.38 114v1.2M658.14 114v1.2M660.9 114v1.2M663.65 114v1.2M666.41 114v1.2M669.17 114v1.2M671.93 114v1.2M674.69 114v1.2M677.45 114v1.2M680.2 114v1.2M682.96 114v1.2M685.72 114v1.2M688.48 114v1.2M691.24 114v1.2M694 114v1.2M696.75 114v1.2M699.51 114v1.2M702.27 114v1.2M705.03 114v1.2M707.79 114v1.2M710.55 114v1.2M628 31.07h-1.2M628 33.84h-1.2M628 36.61h-1.2M628 39.38h-1.2M628 42.15h-1.2M628 44.92h-1.2M628 47.69h-1.2M628 50.46h-1.2M628 53.24h-1.2M628 56.01h-1.2M628 58.78h-1.2M628 61.55h-1.2M628 64.32h-1.2M628 67.09h-1.2M628 69.86h-1.2M628 72.64h-1.2M628 75.41h-1.2M628 78.18h-1.2M628 80.95h-1.2M628 83.72h-1.2M628 86.49h-1.2M628 89.26h-1.2M628 92.04h-1.2M628 94.81h-1.2M628 97.58h-1.2M628 100.35h-1.2M628 103.12h-1.2M628 105.89h-1.2M628 108.66h-1.2M628 111.44h-1.2" fill="none" stroke="#aaa" stroke-width=".4"/>
<text x="686" y="110.8" font-size="8.9" fill="#3db54a" stroke="#3db54a" stroke-width=".25">16.4%</text>
<text transform="translate(640.08 121)" x="-5.37" y="2.54" font-size="7.1" font-weight="normal" fill="#333">10<tspan font-size="4.54" dy="-2.56">2</tspan></text>
<text transform="translate(621.6 100.06) rotate(-90)" x="-5.07" y="2.4" font-size="6.7" font-weight="normal" fill="#333">10<tspan font-size="4.29" dy="-2.41">2</tspan></text>
<text transform="translate(662.21 121)" x="-5.38" y="2.54" font-size="7.1" font-weight="normal" fill="#333">10<tspan font-size="4.54" dy="-2.56">3</tspan></text>
<text transform="translate(621.6 79.46) rotate(-90)" x="-5.08" y="2.4" font-size="6.7" font-weight="normal" fill="#333">10<tspan font-size="4.29" dy="-2.41">3</tspan></text>
<text transform="translate(683.74 121)" x="-5.42" y="2.54" font-size="7.1" font-weight="normal" fill="#333">10<tspan font-size="4.54" dy="-2.56">4</tspan></text>
<text transform="translate(621.6 57.4) rotate(-90)" x="-5.11" y="2.4" font-size="6.7" font-weight="normal" fill="#333">10<tspan font-size="4.29" dy="-2.41">4</tspan></text>
<text transform="translate(705.19 121)" x="-5.39" y="2.54" font-size="7.1" font-weight="normal" fill="#333">10<tspan font-size="4.54" dy="-2.56">5</tspan></text>
<text transform="translate(621.6 35.77) rotate(-90)" x="-5.08" y="2.4" font-size="6.7" font-weight="normal" fill="#333">10<tspan font-size="4.29" dy="-2.41">5</tspan></text>
<path d="M564.62 177.15h.6M544.79 177.13h.6M553.37 150.02h.6M553.86 146.06h.6M554.89 162.9h.6M554.82 172.37h.6M552.08 170.78h.6M570.15 135.83h.6M556.79 140.6h.6M554.29 143.22h.6M554.6 155.68h.6M552.93 164.5h.6M551.26 185.26h.6M554.13 152.13h.6M557.9 166.37h.6M554.79 157.33h.6M559.95 181.01h.6M554.95 165.99h.6M555.92 175.23h.6M562.49 139.14h.6M558.17 152.2h.6M553.64 143.03h.6M555.03 177.25h.6M558.15 164.74h.6M564.17 150.54h.6M554.65 148.36h.6M554.77 162.19h.6M560.14 144.69h.6M551.99 141.31h.6M554.56 162.14h.6M559.62 191.39h.6M558.32 151.41h.6M556.21 146.84h.6M558.71 137.76h.6M543.61 135.34h.6M560.22 162.79h.6M551.68 167.59h.6M548.62 155.18h.6M557.01 159.95h.6M558.84 156.75h.6M553.9 157.09h.6M551.17 132.52h.6M555.93 148.28h.6M555.59 156.68h.6M561.88 143.48h.6M559.04 148.01h.6M556.65 142.95h.6M560.61 150.12h.6M554.93 167.63h.6M551.82 149.04h.6M558.34 152.77h.6M558.33 167.05h.6M554.89 164.55h.6M552.44 180.05h.6M545.05 167.68h.6M558.79 147.92h.6M557.94 157.03h.6M548.74 167.4h.6M556.08 171.02h.6M551.66 170.38h.6M559.08 157.33h.6M547.04 178.79h.6M551.87 150.86h.6M558.88 152.96h.6M560.81 166.84h.6M546.5 146.9h.6M553.67 186.93h.6M557.23 170.08h.6M553.19 187.14h.6M562.68 154.65h.6M550.68 149.39h.6M557.35 157.5h.6M551.29 165.88h.6M561.88 146.37h.6M555.72 160.64h.6M554.21 154.79h.6M548.4 178.88h.6M563.07 145.26h.6M559.06 170.48h.6M559.07 145.54h.6M560.73 140.86h.6M557.32 144.56h.6M553.06 137.48h.6M552.36 157.2h.6M552.36 170.26h.6M561.73 157.46h.6M549.51 164.25h.6M553.24 179.12h.6M554.43 159.02h.6M556.79 157.92h.6M558.3 150.98h.6M550.43 131.31h.6M548.35 166.25h.6M561.05 164.67h.6M559.08 154.83h.6M556.75 171.67h.6M554.45 154.04h.6M557.08 142.89h.6M554.77 160.32h.6M559.34 146.77h.6M552.39 152.37h.6M556.4 155.66h.6M555.34 153.05h.6M558.16 152.25h.6M556.79 142.76h.6M566.82 152.25h.6" stroke="#e36aa9" stroke-width=".6"/>
<path d="M545.72 202.56h.7M557.11 185.26h.7M548.57 196.27h.7M548.2 192.04h.7M543.26 191.3h.7M544.43 197.91h.7M562.58 177.93h.7M554.26 191.84h.7M554.07 189.75h.7M546.69 194.5h.7M545.09 198.55h.7M546.35 202.5h.7M554.25 192.9h.7M557.34 186.48h.7M560.32 183.29h.7M560.03 181.73h.7M555.77 186.56h.7M545.58 200.24h.7M556.31 186.03h.7M547.3 197.24h.7M553.86 185.31h.7M539.79 197.28h.7M548.32 188.41h.7M559.74 181.63h.7M555.95 191.59h.7M557.5 189.11h.7M545.82 193.5h.7M540.63 196.77h.7M547.81 198.72h.7M560.99 182.61h.7M539.37 199.05h.7M554.39 192.42h.7M557.77 185.38h.7M558.99 187.71h.7M554.8 189.22h.7M559.36 185.79h.7M551.02 193.31h.7M541.53 198.29h.7M551.04 191.12h.7M559.15 181.6h.7M553.63 192.4h.7M548.82 190.49h.7M536.29 202.45h.7M558.13 186.59h.7M562.04 183.19h.7M551.43 197.46h.7M555.85 190.8h.7M554.42 183.64h.7M547.27 193.2h.7M556.54 184.47h.7M546.07 197.2h.7M539.69 195.31h.7M551.32 191.67h.7M545.21 199.34h.7M543.93 195.66h.7M544.69 199.24h.7M563.25 181.72h.7M552.24 190.9h.7M548.57 198.98h.7M545.95 201.53h.7M559.37 184.3h.7M546.72 198.17h.7M543.18 198.85h.7M553.74 193.91h.7M556.42 184.81h.7M539.45 201.69h.7M544.53 201.76h.7M549.55 190.76h.7M548.19 196.78h.7M555.56 191h.7M548.75 194.76h.7M547.05 196.69h.7M554.68 191.51h.7M545.24 201.23h.7M553.97 183.93h.7M555.74 183.05h.7M555.35 192.33h.7M556.78 187.17h.7M558.21 179.2h.7M555.56 183.1h.7M548.33 195h.7M558.53 181.43h.7M559.14 184.74h.7M540.04 204h.7M564.06 179.11h.7M544.22 194.48h.7M559.19 185.16h.7M547.03 204.17h.7M549.77 190.32h.7M563.07 182.3h.7M546.55 200.83h.7M543.47 202.62h.7M553.33 189.37h.7M559.8 179.9h.7M544.27 195.64h.7M550.78 195.39h.7M547.41 199.94h.7M543.61 204.64h.7M557.57 188.24h.7M564.94 178.88h.7M564.76 176.71h.7M546.28 192.23h.7M547.78 196.36h.7M549.56 195.65h.7M554.31 188.87h.7M557.16 181.32h.7M554.78 186.32h.7M540.74 197.02h.7M548.6 195.24h.7M551.89 187.37h.7M550.58 191.89h.7M542.8 202.09h.7M551.66 191.93h.7M545.03 203.86h.7M540.73 198.59h.7M549.63 185.66h.7M561.68 183.11h.7M557.12 190.45h.7M562.08 183.99h.7M539.97 204.83h.7M565.73 177.23h.7M561 181.74h.7M552.8 185.75h.7M560.49 180.6h.7M559.4 184.57h.7M542.04 199.32h.7M562.53 184.82h.7M541.93 195.44h.7M549.93 191.56h.7M553.31 193.95h.7M555.34 185.51h.7M554.38 184.82h.7M542.1 196.01h.7M554.85 185.62h.7M563.94 181.64h.7M561.98 181.36h.7M558.27 185.94h.7M550.7 190.45h.7M561.34 183.27h.7M552.64 190.77h.7M537.58 203.19h.7M549.26 192.19h.7M548.41 195.71h.7M545.84 202.35h.7M551.78 191.08h.7M557.66 186.6h.7M552.68 198.53h.7M559.63 180.89h.7M551.89 186.76h.7M557.66 188.25h.7M555.17 189.22h.7M563.03 179.08h.7M547.67 196.77h.7M562.95 178.7h.7M541.31 204.34h.7M542.18 200.17h.7M558.02 187.18h.7M552.14 186.77h.7M559.99 180.53h.7M558.07 184.93h.7M546.47 195.03h.7M538.97 207.06h.7M563.11 179.11h.7M560.39 180.78h.7M552.04 191.83h.7M547.09 194.16h.7M537.91 200.17h.7M539.95 199.42h.7M549.45 190.68h.7M551.52 189.83h.7M563.83 178.62h.7M555.41 190.72h.7M552.07 193.16h.7M544.06 206.22h.7M551.4 196.89h.7M544.17 198.66h.7M552.71 196.96h.7M553.17 194.47h.7M564.31 177.14h.7M557.64 186.05h.7M550.99 196.61h.7M543.37 201.26h.7M552.83 194.19h.7M546.62 198.47h.7M542.76 203.65h.7M545.97 196.23h.7M545.9 199.17h.7M556.47 185.19h.7M544.79 201.52h.7M541.88 194.95h.7M562.41 180.73h.7M549.26 199.19h.7M562.22 181.54h.7M552.39 190.6h.7M542.38 203.42h.7M545.2 194.89h.7M545.8 194.32h.7M549.23 192.64h.7M545.6 197.32h.7M553.84 192.82h.7" stroke="#bf98d3" stroke-width=".7"/>
<path d="M546.28 196.03h.8M546.86 197.37h.8M550.67 195.55h.8M543.9 195.68h.8M547.82 192.87h.8M559.48 185.45h.8M554.74 190.58h.8M549.26 198.41h.8M546.22 196.91h.8M555.53 189.25h.8M541.28 195.65h.8M549.7 194.46h.8M552.51 188.11h.8M549.04 190.42h.8M545.11 195.19h.8M560.95 182.65h.8M563.55 180h.8M546.12 195.74h.8M554.27 187.63h.8M545.58 200.9h.8M549.78 191.47h.8M548.78 194.94h.8M553.84 190.28h.8M561.42 182.36h.8M548.26 194.09h.8M539.78 196.27h.8M553.01 189.29h.8M556.08 187.89h.8M542.02 200.25h.8M549.96 191.55h.8M547.82 192.77h.8M546.87 197.49h.8M553.46 189.64h.8M552.53 190.92h.8M548.7 194.36h.8M549.17 197.32h.8M544.99 199.24h.8M551.43 191.27h.8M551.35 188.89h.8M541.55 200.94h.8M553.46 189.27h.8M549.31 197.74h.8M545.95 198.62h.8M556.2 185.72h.8M547.37 197.86h.8M559.43 183.9h.8M556.52 185.19h.8M553.45 190.38h.8M543.94 196.47h.8M559.74 182.73h.8M553.32 194.54h.8M563.19 179.9h.8M546.86 198.09h.8M540.72 204.95h.8M548.45 196.58h.8M553.48 186.81h.8M558.99 182.7h.8M553.27 188h.8M547.82 196.63h.8M560.24 183.43h.8M561.92 183.01h.8M546.19 196.7h.8M553.33 187.04h.8M551.55 192.09h.8M549.63 193.34h.8M557.65 185.31h.8M551.42 191.56h.8M545.04 199.72h.8M543.99 197.89h.8M546.39 197.74h.8M559.66 184.25h.8M547.31 196.42h.8M558.8 184.53h.8M553.78 187.63h.8M553.91 190.87h.8M554.14 188.39h.8M562.06 179.42h.8M555.45 186.78h.8M552.03 189.97h.8M541.78 201.41h.8M555.67 185.91h.8M558.09 187.62h.8M553.91 190.96h.8M548.02 196.44h.8M550.83 193.34h.8M553.51 189.08h.8M545.78 199.78h.8M553.98 188.27h.8M559.6 182.64h.8M554.1 187.02h.8M551.28 194.79h.8M548.89 197.41h.8M562.72 180.62h.8M559.86 184.21h.8M552.99 185.01h.8M546.61 196.9h.8M542.05 204.03h.8M553.88 190h.8M552.77 186.68h.8M549.68 194.13h.8M546.63 198.47h.8M556.41 185.14h.8M557.62 182.98h.8M548.75 192.74h.8M542.44 192.95h.8M554.58 188.6h.8M538.78 202.97h.8M556.04 185.87h.8M551.37 191.02h.8M552.84 189.66h.8M546.52 200.9h.8M545.26 195.63h.8M560.97 180.92h.8M548.52 189.19h.8M551.42 189.73h.8M559.76 180.03h.8M555.55 188.52h.8M541.66 201.67h.8M559.16 182.2h.8M550.16 194.93h.8M548.56 191.69h.8M561.9 179.98h.8M554.48 186.38h.8M550.8 189.71h.8M550.32 191.88h.8M552.55 188.71h.8M558.17 183.9h.8M559.74 181h.8M560.93 179.43h.8M561.86 181.95h.8M557.92 185.06h.8M542.55 199.8h.8M551.25 192.03h.8M551.9 188.53h.8M554.75 188.61h.8M548.74 190.52h.8M550.68 193.32h.8M544 200.27h.8M540.06 203.36h.8M541.97 203.27h.8M552.21 190.34h.8M564.32 179.15h.8M551.79 192.56h.8M555.16 184.54h.8M544.2 196.35h.8M557.94 187.59h.8M558 183.49h.8M555.89 187.34h.8M540.86 201.3h.8M555.26 190.71h.8M551.15 194.55h.8M561.14 182.13h.8M557.33 184.42h.8M543.53 199.06h.8M560.08 184.37h.8M560.55 180.99h.8M551.91 186.29h.8M560.23 184.49h.8M562.16 181.16h.8M546.84 192.9h.8M557.3 185.71h.8M556.27 187.53h.8M542.75 201.35h.8M564.14 179.43h.8M563.99 179.19h.8M556.78 184.39h.8M549.29 193.43h.8M545.84 200.05h.8M548.47 197.27h.8M551.58 190.54h.8M553.23 192.36h.8M542.82 198.49h.8M558.38 185.54h.8M556.83 182.79h.8M554.43 189.38h.8M559.21 186.87h.8M551.19 195.78h.8M547.04 194.02h.8M545.6 190.01h.8M555.23 188.03h.8M547.51 198.67h.8M555.59 187.28h.8M561.37 181.17h.8M548.99 190.62h.8M560.74 180.84h.8M552.58 187.42h.8M538.95 201.64h.8M553.55 187.98h.8M558.2 186.84h.8M545.61 198.67h.8M551.09 189.91h.8M560.95 181.06h.8M549.56 191h.8M551.95 189.49h.8M558.32 184.37h.8M549.18 190.02h.8M550.95 192.61h.8M555.2 186.09h.8M548.29 197.68h.8M541.39 199.58h.8M549.02 194.47h.8M550.54 190.2h.8M548.51 195.85h.8M544.83 193.61h.8M549.32 192.22h.8M559.86 181.2h.8M545.26 193.58h.8M554.4 187.39h.8M544.9 197.77h.8M546.35 195.12h.8M563.73 177.46h.8M542.54 198.93h.8M548.34 192.71h.8M552.95 192.27h.8M543.59 201.13h.8M550.71 195.61h.8M562.41 180.77h.8M558.71 186.95h.8M560.55 181.77h.8M549.94 193.8h.8M548.13 195.28h.8M556.28 185.6h.8M544.55 200.71h.8M555.4 188.11h.8M557.19 186.31h.8M545.79 198.36h.8M544.79 201.53h.8M551.48 188.32h.8M563.47 179.21h.8M538.72 205.12h.8M557.14 184.38h.8M551.26 191.02h.8M558.75 184.59h.8M552.51 192.51h.8M548.72 193.97h.8M542.88 202.66h.8M551.65 192.35h.8M554.84 190.31h.8M546.28 199.99h.8M551.96 193.04h.8M546.75 195.75h.8M550.66 189.81h.8M546.71 200.53h.8M542.94 198.58h.8M558.42 185.59h.8M560.11 182.42h.8M551.68 195.72h.8M546.85 196.31h.8M560.37 181.62h.8M552.64 186.03h.8M545.93 199.29h.8M558.04 184.54h.8M555.94 185.68h.8M556.59 185.4h.8M549.6 197.1h.8M556.82 186.64h.8M558.4 185.66h.8M544.65 198.34h.8M554.4 189.21h.8M551.79 193.74h.8M560.93 181.1h.8M561.71 182.3h.8M540.65 202.7h.8M562.21 182.57h.8M542.66 199.72h.8M547.8 194.51h.8M548.98 194.78h.8M559.02 183.05h.8M554.89 187.86h.8M545.95 197.67h.8M555.6 189.99h.8M561.74 180.06h.8M554.98 190.63h.8M546.53 199.5h.8M554.17 189.19h.8M556.16 186.33h.8M551.48 196.81h.8M551.99 185.81h.8M540.04 202.91h.8M543.07 200.48h.8M551.73 192.86h.8M547.69 196h.8M556.31 188.45h.8M542.63 202.69h.8M560.54 183.54h.8M562.98 178.7h.8M560.99 182.08h.8M558.25 187.59h.8M547.48 194.39h.8M542.95 201.48h.8M552.08 187.97h.8M553.68 190.34h.8M542.3 199.57h.8M546.67 198.67h.8M542.24 198.6h.8M554.55 188.53h.8M550.42 190.38h.8M551.86 191.25h.8M550.82 193.52h.8M552.02 197.23h.8M552.83 191.28h.8M554.29 189.77h.8M549.97 198.35h.8M556.54 188.46h.8M544.54 196.3h.8M562.39 180.49h.8M558.83 183.94h.8M545.22 200.65h.8M554.41 189.7h.8M539.08 200.49h.8M545.68 196.35h.8M547.9 200.45h.8M558.31 185.78h.8M539.68 202.11h.8M557.31 184.46h.8M558.26 183.81h.8M549.98 189.83h.8M537.81 197.42h.8M558.48 184.84h.8M548.95 191.41h.8M552.06 189.14h.8M551.7 189.32h.8M553.87 187.93h.8M556.38 185.27h.8M555.37 190.66h.8M554.79 187.13h.8M557.75 185.71h.8M546.41 196.65h.8M557.85 186.97h.8M561.13 181.19h.8M538.04 200.69h.8M543.68 204.34h.8M544.72 203.02h.8M545.24 199.85h.8M549.37 189.59h.8M541.4 205.23h.8M544.43 199.8h.8M541.14 200.15h.8M542.52 199.33h.8M545.03 201.38h.8M550.11 191.12h.8M561.53 180.4h.8M548.25 192.71h.8M544.17 200.52h.8M542.85 198.03h.8M550.15 194.23h.8M550.43 191.62h.8M555.28 192.07h.8M547.49 194.3h.8M557.93 184.6h.8M557.38 186.91h.8M557.64 186.4h.8M560.42 179.91h.8M557.28 185.49h.8M560.94 181.81h.8M552.45 192.02h.8M560.06 181.98h.8M548.47 198.77h.8M562.31 181.54h.8M539.94 202.85h.8M555.04 185.46h.8M552.56 190.1h.8M542.23 202.85h.8M553.15 192.4h.8M562.64 178.39h.8M560.24 181.22h.8M554.19 184.72h.8M552.71 188.01h.8M556.94 187.97h.8M553.65 194.68h.8M550.74 194.42h.8M557.67 184.73h.8M548.8 193.86h.8M555.87 191.49h.8M542.01 204.84h.8M561.15 181.53h.8M551.72 190.2h.8M543.52 198.17h.8M541.86 202.06h.8M545.42 203.2h.8M548.3 194.57h.8M563.79 178.08h.8M556.54 186.82h.8M541.88 201.35h.8M556.41 188.4h.8M545.14 195.7h.8M557.58 185.28h.8M555.68 185.78h.8M545.62 200.33h.8M552.11 191.37h.8M544.8 196.71h.8M543.1 199.12h.8M545.43 197.93h.8M557.27 188.3h.8M554.07 190.02h.8M552.52 191.12h.8M542.12 198.76h.8M551.05 188.31h.8M557.45 182.5h.8M554.17 187.22h.8M548.67 195.48h.8M554.83 187.9h.8M543.27 203.14h.8M546.95 193.23h.8M545.11 197.57h.8M554.92 187.14h.8M545.45 195.04h.8M548.76 188.82h.8M557.03 184h.8M556.31 188.1h.8M556.14 183.28h.8M558.33 185.56h.8M541.13 204.54h.8M557.13 185.03h.8M544.11 199.98h.8M546.79 195.98h.8M541.2 202.36h.8M545.13 202.08h.8M546.21 200.17h.8M548.7 197.08h.8M550.23 193.38h.8M541.29 201.94h.8M548.16 195.62h.8M543.11 196.72h.8M548.03 192.7h.8M542.18 201.5h.8M558.87 180.93h.8M551.87 190.93h.8M558.49 183.64h.8M549.95 192.48h.8M555.82 186.42h.8M557.93 183.34h.8M547.33 201.53h.8M555.11 183.82h.8M550.42 190.56h.8M546.81 191.47h.8M555.91 187.22h.8M558.85 184.95h.8M546.77 201.24h.8M550.17 190.77h.8M563.94 178.62h.8M553.79 186.84h.8M560.21 181.85h.8M558.85 184.48h.8M539.37 200.27h.8M551.79 190.43h.8M546.58 194.65h.8M541.55 202.75h.8M557.69 186.11h.8M554.21 185.32h.8M562.68 179.22h.8M553.71 185.92h.8M551.42 186.11h.8M549.71 190.26h.8M560.63 180.66h.8M539.56 200.77h.8M554.7 185.52h.8M557.7 187.05h.8M554.38 188.34h.8M551.36 194.14h.8M562.81 180.85h.8M558.53 184.02h.8M553.38 195.95h.8M556.36 186.97h.8M559.41 183.07h.8M558.86 182.21h.8M554.64 187.21h.8M546.75 197.37h.8M553.9 188.93h.8M539.53 204.65h.8M551.09 192.62h.8M551.19 188.39h.8M558.57 182.52h.8M552.93 188.83h.8M548.08 193.45h.8M551.54 188.09h.8M559.62 182.5h.8M547.06 193.57h.8M555.65 188.97h.8M547.12 193.69h.8M557.76 184.99h.8M547.72 190.07h.8M545.54 197.1h.8M553.49 191.48h.8M553.9 188.76h.8M551.56 192.79h.8M552.74 190.37h.8M549.11 192.93h.8M558.37 184.77h.8M559.93 182.88h.8M552.32 191.28h.8M546.86 194.51h.8M557.92 183.56h.8M541.05 194.64h.8M556.76 185.78h.8M556.64 183.85h.8M553.87 187.03h.8M544.01 201.38h.8M544.07 199.59h.8M551.33 192.32h.8M550 190.91h.8M560.95 181.8h.8M547.2 195.78h.8M552.76 190.28h.8M541.36 201.69h.8M545.06 202.5h.8M543.02 197.08h.8M555.16 187.8h.8M542.85 201.17h.8M546.41 199.22h.8M550.99 193.07h.8M556.71 184.8h.8M557.77 184.84h.8M558.76 186.26h.8M550.9 194.72h.8M555.97 185.73h.8M541.84 202.08h.8M556.09 186.13h.8M552.15 194h.8M561.92 179.73h.8M560.53 183.66h.8M541.64 205.73h.8M554.2 188.16h.8M557.29 189.93h.8M552.37 189.86h.8M547.24 195.36h.8M549.76 195.22h.8M546.7 195.07h.8M544.3 199.33h.8M544.93 195.11h.8M551.22 190.65h.8M546.86 196.56h.8M544.04 195.57h.8M559.84 183.56h.8M551.56 193.22h.8M550.22 192.45h.8M544.71 200.43h.8M544.76 200.4h.8M544.17 196.97h.8M551.52 192.72h.8M544.87 199.04h.8M559.86 181.52h.8M556.33 186.96h.8M545.01 195.33h.8M555.24 182.39h.8M545.03 199.5h.8M546.08 197.84h.8M545.68 202.54h.8M552.03 190.06h.8M552.17 192.92h.8M540.94 200.37h.8M557.95 182.69h.8M544.97 197.53h.8M550.52 193.07h.8M556.38 186.17h.8M559.7 184.48h.8M545.94 200.73h.8M547.4 192.52h.8M551.58 190.21h.8M565.37 177.9h.8M540.69 206.14h.8M543.59 196.88h.8M545.24 196.3h.8M561.13 184.27h.8M560.98 180.24h.8M550.16 196.58h.8M552.19 186.56h.8M554.22 188.36h.8M550.92 189.88h.8M546.93 197.66h.8M556.43 189.19h.8M552.67 191.7h.8M552.5 193.34h.8M556.33 189.11h.8M552.55 195.06h.8M561 181.91h.8M557.4 182.22h.8M563.22 177.64h.8M545.69 200.54h.8M547.91 197.39h.8M552.14 193.9h.8M557.35 184.8h.8M556.04 185.84h.8M553.69 185.42h.8M544.8 195.65h.8M558.66 183.61h.8M538.53 203.85h.8M551.6 187.58h.8M548.07 199.19h.8M544.3 199.19h.8M551.4 192.19h.8M551.39 191.8h.8M546.72 196.44h.8M559.86 181h.8M553.13 191.75h.8M550.73 190.78h.8M542.53 198.14h.8M556.36 188.82h.8M554.43 188.46h.8M555.38 188.54h.8M545.99 192.1h.8M546.99 201.09h.8M542.5 198.68h.8M542.1 198.26h.8M550.24 191.67h.8M557.12 183.68h.8M555.37 185.49h.8M560.08 182.94h.8M562.02 182.01h.8M543.71 199.04h.8M554.5 188.21h.8M561.58 180.7h.8M553.96 189.21h.8M547.86 191.94h.8M555.21 191.37h.8M548.01 191.36h.8M554.95 186.38h.8M558.95 187.29h.8M558.99 183.21h.8M541.31 199.58h.8M544.37 199.37h.8M562.11 183.3h.8M544.3 199.34h.8M552.75 187.58h.8M549.74 193.95h.8M545.18 199.09h.8M546.12 194.89h.8M562.12 180.35h.8M541.62 195.74h.8M562.74 179.91h.8M558.86 183.94h.8M557.79 184.91h.8M548.27 193.22h.8M558.3 186.77h.8M552.65 191.97h.8M561.38 182.8h.8M552.08 189.45h.8M552.96 191.86h.8M556.01 190.63h.8M553.24 193.28h.8M551.91 188.87h.8M559.06 183.34h.8M548.98 192.49h.8M549.08 193.34h.8M552.9 190h.8M556.95 189.43h.8M548.2 199.33h.8M548.45 194.39h.8M561.9 181.46h.8M542.98 198.96h.8M561.42 179.4h.8M550.83 187.71h.8M548.42 192.48h.8M559.29 186.77h.8M556.91 186.06h.8M545.94 198.96h.8M557.99 186.51h.8M551.33 187.1h.8M549.58 192.89h.8M556.97 185.65h.8M550.23 196.31h.8M555.18 188.41h.8M551.18 187.82h.8M539.59 199.59h.8M548.21 195.81h.8M544.59 199.4h.8M546.1 193.3h.8M540.19 199.78h.8M555.29 187.54h.8M547.68 191.96h.8M558.93 184.06h.8M564.34 177.49h.8M553.47 188.66h.8M557.66 188.87h.8M559.84 181.32h.8M548.21 191.9h.8M551.27 190.34h.8M545.69 191.07h.8M555.53 188.77h.8M544.36 200.82h.8M558.5 184.04h.8M557.43 184.98h.8M551.55 191.1h.8M549.21 189.84h.8M551.05 191.41h.8M561.15 180.99h.8M547.76 197.63h.8M545.65 198.38h.8M548.09 197.82h.8M555.27 188.79h.8M550.49 187.62h.8M556.5 184.59h.8M558.5 184.96h.8M549.27 192.57h.8M560.67 181.53h.8M554.11 190.54h.8M548.51 191.88h.8M551.42 191.88h.8M554.11 192.57h.8M547.25 196.01h.8M557.06 184.14h.8M549.84 193.16h.8M542.88 199.54h.8M541.27 198.87h.8M553.45 190.82h.8M547.21 196.01h.8M547.99 190.24h.8M556.1 189.06h.8M547.59 192.99h.8M550.2 192.94h.8M554.53 189.16h.8M553.8 188.62h.8M545.01 194.76h.8M544.66 192.2h.8M552.92 188.56h.8M547.14 196.66h.8M552.06 187.94h.8M550.2 191.7h.8M550.71 195.68h.8M547.43 193h.8M550.22 204.02h.8M542.37 202.14h.8M548.68 191.24h.8M557.43 185.83h.8M552.29 189.96h.8M552.02 194.29h.8M561.44 179.32h.8M543.16 202.17h.8M547.25 192.91h.8M559.18 183.73h.8M560.93 183.57h.8M544.19 199.61h.8M552.91 193.35h.8M547.97 194.34h.8M554.88 189.92h.8M549.29 192.03h.8M557.18 184.85h.8M550.52 192.49h.8M557.11 182.87h.8M550.97 189.66h.8M560.47 181h.8M556.35 190h.8M548.94 194.54h.8M550.96 189.12h.8M556.65 183.69h.8M543.64 199.48h.8M552.72 187.46h.8M548.06 195.57h.8M548.01 192.11h.8M542.66 197.82h.8M560.2 183.33h.8M544.73 193.35h.8M560.38 185.75h.8M553.71 187.32h.8M554.99 184.71h.8M554.94 189.03h.8M560.42 183.5h.8M548.59 198.17h.8M553.86 190.11h.8M556.39 184.84h.8M549.37 193.21h.8M555.96 186.9h.8M551.98 193.14h.8M554.97 189.91h.8M544.2 201.16h.8M553.44 191.44h.8M544.13 192.98h.8M557.57 183.95h.8M547.49 199.01h.8M546.56 195.37h.8M553 189.62h.8M550.18 190.95h.8M550.3 192.34h.8M552.61 188.64h.8M537.68 201.12h.8M548.78 195.37h.8M551.11 192.93h.8M540 201.35h.8M542 195.67h.8M557.93 183.91h.8M539.33 201.08h.8M559.62 184.31h.8M555.47 186.54h.8M545.32 193.36h.8M546.31 194.8h.8M547.65 200.55h.8M552.78 189.39h.8M544.01 196.83h.8M547.22 194.96h.8M543.85 195.97h.8M563.72 179.07h.8M545.63 193.46h.8M561.17 181.74h.8M547.58 198.32h.8M547.52 198.08h.8M542.42 200.59h.8M554.77 186.87h.8M547.19 195.95h.8M554.12 189.07h.8M546.15 198.6h.8M551.79 190.97h.8M551.64 191.8h.8M559.78 181.82h.8M539.05 202.64h.8M550.84 195.05h.8M555.56 187.91h.8M553.37 191.1h.8M559.28 186.03h.8M547.16 193.98h.8M555.56 185.78h.8M546.6 195.51h.8M552.17 192.9h.8M545.49 193.75h.8M551.84 189.35h.8M544.7 200.88h.8M542.7 196.29h.8M561.13 182.04h.8M560.06 184.87h.8M552.75 191.08h.8M543.98 197.01h.8M553.24 188.48h.8M549.52 190.91h.8M556.91 185.46h.8M552.32 192.96h.8M555.41 189.5h.8M557.86 181.14h.8M541.46 200.01h.8M556.53 186.68h.8M546.27 196h.8M559.65 179.51h.8M544.05 199.96h.8M542.13 202.86h.8M549.92 193.08h.8M553.26 189.35h.8M556.6 187.89h.8M538.36 201.94h.8M541.13 201.69h.8M557.47 185.77h.8M563.53 182.89h.8M549.58 191.53h.8M556.23 188h.8M558.13 187.76h.8M555.55 188.77h.8M543.72 202.12h.8M548 198.74h.8M553.51 185.48h.8M549.92 194.5h.8M560.5 181.17h.8M558.1 187.37h.8M561.63 181.13h.8M561.47 181.08h.8M554.83 188.27h.8M562.18 178.67h.8M545.27 200.72h.8M545.67 193.13h.8M557.96 184.16h.8M560.31 181.51h.8M559.09 185.03h.8M547.42 195.83h.8M554.6 186.32h.8M563.06 179.79h.8M550.17 197.75h.8M545.64 194.81h.8M551.94 194.7h.8M540.01 202.01h.8M539.04 204.25h.8M556.4 185.81h.8M543.92 196.58h.8M562.4 181.86h.8M547.1 198.42h.8M551.81 192.72h.8M542.97 196.69h.8M545.09 200.22h.8M539.74 201.72h.8M558.3 186.83h.8M545.22 193.17h.8M542.26 203.27h.8M549.37 189.7h.8M550.95 188.43h.8M545.36 198.66h.8M542.75 203.12h.8M558.21 186.4h.8M547.49 194.62h.8M546.02 195.76h.8M548.29 197.55h.8M549.82 190.25h.8M553.88 186.45h.8M547.47 197.29h.8M543.3 201.51h.8M551.45 191.73h.8M564.66 178.4h.8M548.78 190.05h.8M548.69 195.81h.8M563.37 181.33h.8M563.89 177.82h.8M552.58 187.38h.8M551.8 194.52h.8M557.07 186.63h.8M545.47 201.42h.8M544.35 201.16h.8M557.08 184.67h.8M561.03 180.98h.8M552.96 187.24h.8M547.95 202.82h.8M560.27 180.82h.8M554.68 187.34h.8M555.72 185.61h.8M551.25 192.98h.8M557.42 188.13h.8M549.14 192.68h.8M560.32 182.72h.8M561.34 181.96h.8M552.2 196.87h.8M547.31 195.4h.8M550.3 193.56h.8M555.25 191.48h.8M552.48 187.15h.8M544.56 198.94h.8M555.58 187.33h.8M561.01 179.91h.8M542.64 200.44h.8M560.12 182.58h.8M554.31 191.25h.8M557.87 186.46h.8M545.56 196.33h.8M542.13 198.92h.8M557.76 186.67h.8M551.17 188.2h.8M550.3 191.38h.8M557.44 183.17h.8M552.8 186.56h.8M551.92 191.72h.8M541.05 198.7h.8M554.39 187.02h.8M542.75 204.12h.8M559.14 186.11h.8M548.27 191.3h.8M543.23 197.68h.8M549.75 191.05h.8M560.24 180.32h.8M546.96 200.09h.8M553.01 192.08h.8M557.52 185.93h.8M545.19 195.4h.8M561.65 181.56h.8M560.55 182.02h.8M547.53 195.6h.8M550.43 194.15h.8M547.21 199.92h.8M550.05 192.82h.8M542.79 199.6h.8M547.15 193.24h.8M544.3 202.99h.8M548.1 196.46h.8M540.41 196.49h.8M555.78 187.14h.8M554.28 190.37h.8M550.3 188.77h.8M549.86 189.42h.8M560.62 183.23h.8M558.27 183.68h.8M553.95 185.7h.8M544.76 198.72h.8M560.34 182.47h.8M549.05 191.5h.8M539.65 202.04h.8M558.3 184.18h.8M547.82 195.15h.8M559.47 186.03h.8M556.06 189.46h.8M549.44 195.01h.8M540.5 201.4h.8M558.51 182.91h.8M553.29 184.81h.8M549.1 193.76h.8M562.6 179.1h.8M544.06 197.45h.8M555.06 189.22h.8M554.84 190.77h.8M538.84 200.06h.8M549.23 194.92h.8M551.34 192.72h.8M550.76 190.6h.8M553.84 187.3h.8M561.6 183.02h.8M547.34 197.92h.8M551.18 197.63h.8M561.11 180.16h.8M538.18 203.17h.8M551.8 190.39h.8M549.59 195.83h.8M550.05 196.58h.8M556.05 191.04h.8M547.2 194.19h.8M553.12 186.49h.8M557.13 187.38h.8M550.82 194.55h.8M553.56 190.57h.8M550.7 196.24h.8M559.41 181.75h.8" stroke="#8e4cab" stroke-width=".8"/>
<path d="M573.6 192.12h.6M584.92 184.85h.6M579.54 187.6h.6M577.68 190.05h.6M581.08 189.85h.6M585.45 191.18h.6M579.18 195.19h.6M583.97 192.32h.6M578.91 192.69h.6M584.55 189.8h.6M579.22 188.93h.6M582.34 188.72h.6M578.58 189.86h.6M580.49 185.09h.6M579.33 188.39h.6M577.34 190.25h.6M578.96 188.68h.6M580.81 190.03h.6M578.28 184.46h.6M576.97 188.45h.6M579.92 190.2h.6M583.1 193.75h.6M578.36 190.53h.6M575.53 189.47h.6M575.91 188.37h.6M578.7 190.28h.6M583.69 188.57h.6M575.41 192.4h.6M582.13 188.47h.6M578.02 192.19h.6M576.53 188.13h.6M576.96 185.54h.6M582.16 185.65h.6M577.16 192.94h.6M582.8 188.33h.6M584.87 188.6h.6M575.93 197.97h.6M574.61 186.49h.6M573.18 189.98h.6M580.24 185.88h.6M575.84 188.16h.6M576.63 191.7h.6M576.14 189.15h.6M582.74 195.93h.6M580.62 187.18h.6" stroke="#43b55a" stroke-width=".6"/>
<path d="M572.77 129V163.46H614.11V129M573.38 163.46L529.19 202.95M576.74 168.93H613.76V214.67L544.98 214.32Z" fill="none" stroke="#5a5a5a" stroke-width=".6"/>
<rect x="549.25" y="165.72" width="2.2" height="1.2" fill="#777"/>
<rect x="592.4" y="146.02" width="2.2" height="1.2" fill="#777"/>
<rect x="577.21" y="191.5" width="2.2" height="1.2" fill="#777"/>
<rect x="528.5" y="129" width="86.3" height="86.8" fill="none" stroke="#8a8a8a" stroke-width=".8"/>
<path d="M531.09 215.8v1.2M533.89 215.8v1.2M536.68 215.8v1.2M539.48 215.8v1.2M542.28 215.8v1.2M545.08 215.8v1.2M547.87 215.8v1.2M550.67 215.8v1.2M553.47 215.8v1.2M556.26 215.8v1.2M559.06 215.8v1.2M561.86 215.8v1.2M564.66 215.8v1.2M567.45 215.8v1.2M570.25 215.8v1.2M573.05 215.8v1.2M575.85 215.8v1.2M578.64 215.8v1.2M581.44 215.8v1.2M584.24 215.8v1.2M587.04 215.8v1.2M589.83 215.8v1.2M592.63 215.8v1.2M595.43 215.8v1.2M598.22 215.8v1.2M601.02 215.8v1.2M603.82 215.8v1.2M606.62 215.8v1.2M609.41 215.8v1.2M612.21 215.8v1.2M528.5 131.6h-1.2M528.5 134.42h-1.2M528.5 137.23h-1.2M528.5 140.04h-1.2M528.5 142.86h-1.2M528.5 145.67h-1.2M528.5 148.49h-1.2M528.5 151.3h-1.2M528.5 154.11h-1.2M528.5 156.93h-1.2M528.5 159.74h-1.2M528.5 162.55h-1.2M528.5 165.37h-1.2M528.5 168.18h-1.2M528.5 170.99h-1.2M528.5 173.81h-1.2M528.5 176.62h-1.2M528.5 179.43h-1.2M528.5 182.25h-1.2M528.5 185.06h-1.2M528.5 187.87h-1.2M528.5 190.69h-1.2M528.5 193.5h-1.2M528.5 196.31h-1.2M528.5 199.13h-1.2M528.5 201.94h-1.2M528.5 204.76h-1.2M528.5 207.57h-1.2M528.5 210.38h-1.2M528.5 213.2h-1.2" fill="none" stroke="#aaa" stroke-width=".4"/>
<text x="534.1" y="136.9" font-size="8.7" fill="#e9388e" stroke="#e9388e" stroke-width=".25">3.1%</text>
<text x="589.8" y="136.9" font-size="8.9" fill="#f26b35" stroke="#f26b35" stroke-width=".25">0.08%</text>
<text x="593.09" y="212.9" font-size="8.75" fill="#3db54a" stroke="#3db54a" stroke-width=".25">2.1%</text>
<text transform="translate(540.75 222.8)" x="-5.37" y="2.54" font-size="7.1" font-weight="normal" fill="#333">10<tspan font-size="4.54" dy="-2.56">2</tspan></text>
<text transform="translate(522.1 201.65) rotate(-90)" x="-5.07" y="2.4" font-size="6.7" font-weight="normal" fill="#333">10<tspan font-size="4.29" dy="-2.41">2</tspan></text>
<text transform="translate(563.19 222.8)" x="-5.38" y="2.54" font-size="7.1" font-weight="normal" fill="#333">10<tspan font-size="4.54" dy="-2.56">3</tspan></text>
<text transform="translate(522.1 180.73) rotate(-90)" x="-5.08" y="2.4" font-size="6.7" font-weight="normal" fill="#333">10<tspan font-size="4.29" dy="-2.41">3</tspan></text>
<text transform="translate(585.03 222.8)" x="-5.42" y="2.54" font-size="7.1" font-weight="normal" fill="#333">10<tspan font-size="4.54" dy="-2.56">4</tspan></text>
<text transform="translate(522.1 158.34) rotate(-90)" x="-5.11" y="2.4" font-size="6.7" font-weight="normal" fill="#333">10<tspan font-size="4.29" dy="-2.41">4</tspan></text>
<text transform="translate(606.77 222.8)" x="-5.39" y="2.54" font-size="7.1" font-weight="normal" fill="#333">10<tspan font-size="4.54" dy="-2.56">5</tspan></text>
<text transform="translate(522.1 136.38) rotate(-90)" x="-5.08" y="2.4" font-size="6.7" font-weight="normal" fill="#333">10<tspan font-size="4.29" dy="-2.41">5</tspan></text>
<path d="M651.59 154.06h.6M653.23 146.64h.6M659.53 155.98h.6M656.08 152.86h.6M648.2 147.58h.6M653.81 148.16h.6M651.69 157.13h.6M654.33 145.38h.6M648.31 145.49h.6M654.65 147.41h.6M654.63 153.81h.6M659.23 154.84h.6M654.91 163.47h.6M655.57 146.21h.6M648.71 157.88h.6M661.55 141.3h.6M647.26 152.22h.6M657.6 148.1h.6M652.69 162.06h.6M650.81 152.33h.6M651.57 143.19h.6M651.52 152.09h.6M655.13 150.1h.6M653.45 144.36h.6M658.91 144.56h.6M647.55 138.95h.6M653.81 171.01h.6M650.77 148.3h.6M656.48 155.58h.6M646.56 137.05h.6M652.65 137.74h.6M654.54 145.82h.6M648.74 145.86h.6M657.2 154.1h.6M654.44 138.46h.6M657.28 151.83h.6M657.11 160.28h.6M650.47 139.24h.6M651.09 155.04h.6M653.13 138.84h.6M656.39 150.16h.6M656.74 150.31h.6M651.39 162.21h.6M651.74 141.18h.6M651.09 148.62h.6M651.82 156.2h.6M653.01 137.01h.6M653.37 147.08h.6M660.88 139.62h.6M652.09 141.08h.6M652.83 153.06h.6M655.4 153.22h.6M650.56 169.48h.6M652.56 159.08h.6M653.87 158.32h.6M656.48 145.71h.6M649.31 144.55h.6M658.53 148.33h.6M654.4 161.48h.6M656.73 141.31h.6M656.09 137.93h.6M657.46 143.13h.6M654.42 154.66h.6M653.76 157.83h.6M654.91 143.79h.6M650.41 150.82h.6M657.99 146.53h.6M651.17 138.39h.6M649.5 148.48h.6M660.87 147.23h.6M653.36 133.67h.6M649.78 156.5h.6M660.17 133.36h.6M652.69 148.98h.6M657.46 137.86h.6M650.98 139.89h.6M652.97 140.85h.6M648.04 153.04h.6M647.28 136.06h.6M650.48 145.27h.6M653.56 160.35h.6M656.56 140.88h.6M662.14 146.62h.6M650.29 152.65h.6M657.28 141.84h.6M651.75 151h.6M653.3 141.15h.6M648.75 152.93h.6M648.75 147.41h.6M651.16 138.76h.6M649.73 159.07h.6M653.81 146.04h.6M651.42 144.44h.6M658.11 138.85h.6M654.35 142.79h.6M654.39 146.02h.6M657.72 148.34h.6M655.6 156.36h.6M653.7 135.43h.6M653.51 143.82h.6M653.41 157.2h.6M657.52 148.42h.6M656.51 150.37h.6M655.08 160.63h.6M656.56 149.76h.6M651.96 150.87h.6M655.58 146.48h.6M648.98 162.14h.6M658.44 155.92h.6M654.13 140.58h.6M654.45 151.57h.6M655.88 136.88h.6M653.79 156.23h.6M652.95 152.63h.6M657.9 145.42h.6M654.22 143.32h.6M650.68 131.25h.6M655.33 153.4h.6M647.98 145.76h.6M659.5 144.07h.6M653.24 153.03h.6M653.98 141h.6M661.56 141.67h.6M661.2 140.73h.6M654.22 135.02h.6M655.97 167.6h.6M657.56 145.04h.6M659.59 143.68h.6M653.37 154.51h.6M658.02 146.43h.6M654.75 146.8h.6M656.41 138.26h.6M655.91 150.64h.6M650.88 146.64h.6M644.77 154.18h.6M658.41 133.8h.6M650.02 144.88h.6M658.05 145.97h.6M657.25 140.41h.6M653.64 149.04h.6M653.8 147.91h.6M654.11 134.05h.6M650.87 144.78h.6M652.86 134.52h.6M656.54 154.28h.6M651.28 144.22h.6M656.65 162.25h.6M651.16 132.6h.6M653.24 142.17h.6M655.09 148.16h.6M653.75 143.98h.6M653.39 149.57h.6M654.75 146.51h.6M651.93 139.93h.6M653.12 137.07h.6M657.12 160.23h.6M653.48 151.99h.6M660.35 157.31h.6M654.56 140.34h.6M643.63 143.79h.6M652.32 137.89h.6M659.53 148.91h.6M653.85 146.08h.6M652.32 149.49h.6M650.83 160.86h.6M658.36 138.37h.6M657.26 152.02h.6M656.13 133.49h.6M655.29 155.21h.6M658.76 141.83h.6M656.64 145.03h.6M649.61 146.85h.6M656.46 159.93h.6M654.41 145.39h.6M653.45 141.36h.6M656.44 135.41h.6M653.92 148.06h.6M643.77 138.26h.6M659.16 141.31h.6M657.38 145.45h.6M653.4 151.48h.6M652.55 139.47h.6M654.6 151.47h.6M649.42 161h.6M654.87 132.76h.6M653.03 157.47h.6M652.61 164.33h.6M650.66 140.55h.6M651.5 151h.6M657.62 133.78h.6M658.4 148.63h.6M655.55 142.86h.6M653.67 148.32h.6M650.81 137.72h.6M656.28 138.54h.6M659.35 141.77h.6M648.29 139.46h.6M657.85 140.24h.6M646.4 143.82h.6M652.66 135.93h.6M655.14 144.26h.6M649.14 149.68h.6M654.46 147.19h.6M656.83 138.99h.6M652.19 135.73h.6M658.43 133.75h.6M651.15 138h.6M659.84 138.88h.6M654.24 148.31h.6M654.63 134.36h.6M655.93 154.33h.6M654.92 138.21h.6M660.15 151.23h.6M661.39 154.75h.6M655.7 134.77h.6M653.26 154.68h.6M649.79 164.42h.6M651.24 141.77h.6M653.86 150.76h.6M653.48 144.69h.6M653.67 146.6h.6M653.84 144.34h.6M655.52 141.69h.6M649.19 152.39h.6M650.31 153.83h.6M657.67 146.24h.6M656.7 159.41h.6M651.99 155.77h.6M658.26 152.47h.6M651.51 140.2h.6M652.96 162.93h.6M647.57 157.93h.6" stroke="#e36aa9" stroke-width=".6"/>
<path d="M647.3 151.79h.6M650.43 162.82h.6M652.33 180.5h.6M656.58 179.59h.6M657.51 170.47h.6M652.92 156.93h.6M654.53 166.96h.6M655.88 175.95h.6M649.97 171.34h.6M655.58 166.31h.6M652.89 163.52h.6M654.36 174.35h.6M653.67 167.16h.6M650.27 170.88h.6M650.83 172.05h.6M653.94 180.01h.6M654.21 169.92h.6M653.03 170.45h.6M657.01 156.27h.6M652.75 176.36h.6M650.17 174.82h.6M652.79 168.56h.6M653.3 152.91h.6M653.43 164.75h.6M657.31 169.18h.6M655.36 183.2h.6M656.99 172.75h.6M655.7 174.16h.6M653.33 174.34h.6M656.94 177.91h.6M653.05 160.78h.6M654.58 162.74h.6M650.83 160.45h.6M654.14 166.66h.6M652.86 166.17h.6M654.95 169.33h.6M659.29 161.5h.6M660.96 169.25h.6M656.9 162.68h.6M653.76 183.27h.6M656.32 164.93h.6M654.54 186.28h.6M652.03 179.93h.6M653.66 160.28h.6M653.1 175.23h.6M652.04 172.8h.6M657.99 157.93h.6M652.23 172.8h.6M652.36 167.95h.6M655.96 171h.6M651.77 162.66h.6M650.4 168.15h.6M651.3 171.44h.6M655.3 167.31h.6M654.98 164.35h.6M654.75 167.47h.6M652.46 161.76h.6M651.12 170.94h.6M656.58 150.8h.6M649.52 179.02h.6M653.22 169h.6M649.89 171.84h.6M652.65 174.48h.6M653.41 159.93h.6M657.55 184.36h.6M645.27 160.78h.6M657.97 171.79h.6M651.22 170.81h.6M654.76 177.66h.6M656.3 168.48h.6M651.59 158.75h.6M653.62 170.79h.6M655.37 151.41h.6M653.52 167.13h.6M651.68 165.33h.6M654.46 179.34h.6M654.23 166.56h.6M649.41 165.38h.6M657.98 163.24h.6M654.59 162.55h.6" stroke="#e36aa9" stroke-width=".6"/>
<path d="M671.94 151.06h.6M675.96 146.77h.6M683.86 138.75h.6M682.47 141.11h.6M679.48 143.04h.6M682.37 140.57h.6M676.82 145.51h.6M679.26 144.37h.6M677.64 144.85h.6M683.07 139.89h.6M671.8 151.63h.6M684.37 138.56h.6M671.69 150.73h.6M675.32 147.76h.6M689.38 135.96h.6M673.61 148.63h.6M676.4 146.15h.6M674.38 147.77h.6M684.15 138.48h.6M673.26 148.46h.6M677.35 144.36h.6M673.83 147.43h.6M673.83 148.19h.6M679.2 143.01h.6M676.57 146.8h.6M687.06 137.75h.6M679.02 142.72h.6M684.18 139.36h.6M672.48 152.17h.6M685.79 137.41h.6M680.68 139.16h.6M676.71 147.14h.6M679.13 142.99h.6M670.82 152.54h.6M674.62 149.65h.6M683.4 139.76h.6M677.32 144.41h.6M685.32 136.99h.6M683.53 139.69h.6M687.12 136.56h.6" stroke="#f6a57a" stroke-width=".6"/>
<path d="M649.81 189.93h.7M648.85 196.6h.7M660.04 181.52h.7M643.27 196.76h.7M657.01 182.11h.7M651.36 190.35h.7M653.27 183.24h.7M645.8 192.61h.7M663.58 176.48h.7M653.7 189.08h.7M655.2 190.37h.7M646.48 191.01h.7M643.51 198.08h.7M649.61 184.74h.7M648.75 199.18h.7M642.41 196.17h.7M656.79 182.74h.7M649.4 199.08h.7M654 192.15h.7M649.69 188.74h.7M654.64 194.49h.7M653.47 189.1h.7M645.71 192.89h.7M647.36 195.63h.7M656.82 185.62h.7M656.78 185.63h.7M646.06 188.28h.7M658.52 187.71h.7M659.77 176h.7M642.92 199.23h.7M662.06 181.1h.7M656.19 185.52h.7M657.81 182.13h.7M654.73 183.84h.7M645.24 199.03h.7M651.32 195.07h.7M663.33 174.59h.7M652.59 190.01h.7M645.92 195.02h.7M649.92 190.05h.7M643.29 191.97h.7M662.21 177.64h.7M661.49 180.44h.7M660.76 178.36h.7M643.84 201.79h.7M645.14 197.92h.7M659.92 183.58h.7M649.48 192.78h.7M643.16 198.54h.7M658.79 179.74h.7M646.72 195.84h.7M657.23 183.99h.7M664.07 173.49h.7M659.35 180.09h.7M651.53 185.08h.7M643.83 194.2h.7M663.21 177.37h.7M658.92 182.15h.7M660.6 181.59h.7M651.18 190.79h.7M655.18 186.39h.7M657.97 188.6h.7M655.95 181.92h.7M653.93 188.04h.7M656.27 189.88h.7M659.59 187.02h.7M653.11 190.06h.7M647.28 194.49h.7M660.68 176.4h.7M649.92 191.17h.7M649.94 192.28h.7M661.1 178.46h.7M651.37 191.89h.7M650.47 193.19h.7M656.3 182.63h.7M653.88 183.97h.7M646.08 195.22h.7M654.43 187.91h.7M647.1 200.38h.7M648.99 186.83h.7M658.3 185.23h.7M652.89 187.15h.7M652.55 192.62h.7M651.97 196.17h.7M647.77 196h.7M654.31 182.68h.7M656.83 182.15h.7M651.21 191.47h.7M649.38 191.08h.7M659.41 180.17h.7M657.24 180.62h.7M654.21 185.78h.7M663.68 174.11h.7M648.25 196.66h.7M654.94 186.75h.7M655.47 187.64h.7M640.31 198.3h.7M654.75 184.37h.7M654.88 183.29h.7M655.71 183.34h.7M654.9 182.84h.7M659.58 178.23h.7M661.16 182.87h.7M652.27 187.86h.7M662.79 173.92h.7M657.56 181.65h.7M651.2 198.18h.7M653.55 189.88h.7M655.95 181.54h.7M641.96 200.32h.7M656 184.16h.7M652.76 188.37h.7M647.54 187.62h.7M645.09 193.96h.7M656.34 183.44h.7M658.94 176.53h.7M647.07 194.3h.7M654.23 186.73h.7M650.95 193.22h.7M654.41 190.1h.7M643.51 198.59h.7M652.46 189.4h.7M645.65 198.86h.7M652.79 191.9h.7M642.96 200.03h.7M649.47 189.36h.7M663.82 176.31h.7M650.41 194.14h.7M642.35 200.93h.7M655.31 187.19h.7M664.71 177.38h.7M648.42 191.52h.7M660.22 177.59h.7M656.65 180.35h.7M649.52 193.36h.7M662.86 178.5h.7M661.26 176.93h.7M654.19 193.2h.7M645.24 195.11h.7M649.77 192.79h.7M656.73 183.17h.7M659.02 185.26h.7M657.32 180.94h.7M662.51 181.06h.7M653.49 186.79h.7M650.18 186.5h.7M653.91 184.95h.7M651.32 189.39h.7M650.13 197.4h.7M656.55 182.26h.7M653.85 186.94h.7M644.29 203.54h.7M658.83 181.51h.7M644.09 196.4h.7M651 187.67h.7M651.23 184.58h.7M647.91 195.26h.7M650.63 195.18h.7M650.33 189.78h.7M658.28 178.73h.7M650.76 191.59h.7M647.02 195.02h.7M646.75 194.81h.7M649.35 193.87h.7M652.33 188.8h.7M655.23 184.01h.7M663.31 177.93h.7M641.58 195.27h.7M655.74 181.09h.7M661.81 176.76h.7M655.94 180.23h.7M653.24 193.08h.7M658.62 175.74h.7M649.07 195.01h.7M652.62 190.31h.7M657.33 183.76h.7M645.45 198.15h.7M647 192.81h.7M657.01 180.85h.7M654.96 190.58h.7M645.71 195.9h.7M658.02 177.86h.7M645.95 191.6h.7M660.89 175.04h.7M647.64 195.08h.7M653.12 191.82h.7M662.69 175.65h.7M645.42 197.23h.7M653.77 185.11h.7M653.3 190.67h.7M658.55 183.99h.7M653.14 191.03h.7M664.41 178.35h.7M649.3 187.71h.7M656.47 186.47h.7M647.27 188.93h.7M653.45 189.98h.7M653.43 190.37h.7M660.12 181.55h.7M653.64 190.1h.7" stroke="#bf98d3" stroke-width=".7"/>
<path d="M650.13 191.45h.8M655.71 187.22h.8M647.68 195.16h.8M651.08 182.66h.8M648.11 193.17h.8M650.83 187.54h.8M653.65 187.87h.8M648.38 192.63h.8M653 186.63h.8M645.79 191.99h.8M654.11 186.5h.8M655.4 183.62h.8M648.52 189.25h.8M654.65 188.22h.8M653.22 188.56h.8M662.01 175.24h.8M656.65 183.01h.8M649.47 192.3h.8M653.32 184.02h.8M656.83 182.06h.8M644.41 196.88h.8M647.47 192.8h.8M661.3 181.08h.8M658.41 182.16h.8M645.06 194.46h.8M653.56 183.71h.8M651.54 189.54h.8M652.86 189.76h.8M660.22 179.32h.8M644.79 197.96h.8M646.96 193.05h.8M648.92 189.48h.8M654.75 186.65h.8M641.84 193.37h.8M651.37 190.16h.8M645.66 195.68h.8M645.05 191.59h.8M662.08 176.21h.8M656.52 186.29h.8M648.5 191.15h.8M646.53 193.11h.8M651.04 190.78h.8M650.55 190.08h.8M648.29 192.15h.8M658.49 183.73h.8M650.12 195.64h.8M653.02 184.81h.8M650.37 190.92h.8M659.81 178.62h.8M646.65 195.39h.8M648.38 192.6h.8M648.56 195.46h.8M657.96 180.27h.8M649.96 187.93h.8M646.41 194.86h.8M653.88 184.54h.8M648.98 193.55h.8M660.93 180.58h.8M650.07 188.31h.8M657.29 186.63h.8M656.97 184.36h.8M656.23 185.08h.8M658.18 182.05h.8M645.56 199.48h.8M643.01 194.58h.8M656.11 182.57h.8M654.77 186h.8M661.98 179.12h.8M659.4 180.19h.8M649.84 194.45h.8M660.91 177.8h.8M651.3 195.11h.8M657.5 181.8h.8M653.82 182.84h.8M646.23 186.64h.8M653.94 183.45h.8M662.15 177.03h.8M650.17 191.09h.8M657.89 181.22h.8M651.14 188.09h.8M654.47 181.78h.8M650.51 195.08h.8M647.94 193.84h.8M650.66 191.6h.8M657.59 182.31h.8M653.95 184.13h.8M659.9 183.32h.8M658.63 182.38h.8M650.88 188.82h.8M658 181.62h.8M661.57 176.07h.8M652.64 187.87h.8M649.1 192.88h.8M653.01 183.03h.8M652.9 186.68h.8M653.24 185.89h.8M647.91 193.77h.8M652.76 185.36h.8M650.62 190.13h.8M662.1 178.19h.8M654.69 186.24h.8M646.29 196.44h.8M659.98 178.73h.8M652.5 189.39h.8M661.44 181.19h.8M650.51 190.04h.8M650.9 192.31h.8M657.37 182.54h.8M657.62 184.79h.8M651.7 190.37h.8M661.24 175.79h.8M659.95 178.51h.8M652.77 187.53h.8M662.34 179.76h.8M657.5 180.27h.8M653.9 184.45h.8M655.45 184.69h.8M650.96 188.17h.8M661.49 175.28h.8M654.71 189.99h.8M648.19 188.1h.8M649.75 190.2h.8M652.96 189.86h.8M655.65 183.32h.8M657.26 186.63h.8M649.22 190.98h.8M655.84 184.44h.8M652.47 186.05h.8M648.09 193.29h.8M646.81 193.32h.8M651.95 188.98h.8M652.6 185.26h.8M660.33 177.14h.8M652.9 187.64h.8M658.47 180.31h.8M658.82 181.14h.8M658.72 183.66h.8M658.16 183.55h.8M650.71 190.2h.8M654.77 184.5h.8M659.68 179.61h.8M645.55 194.75h.8M648.19 192.41h.8M650.41 186.57h.8M644.03 197.62h.8M654.1 187.64h.8M653.89 187.23h.8M658.94 179.98h.8M657.48 183.18h.8M650.68 187.16h.8M649.99 190.73h.8M648.96 190.05h.8M654.08 186.64h.8M653.24 185h.8M657.32 183.67h.8M642.3 195.7h.8M657.99 179.38h.8M656.4 185.6h.8M658.94 182.78h.8M662.68 178.07h.8M650.96 188.84h.8M642.92 197.71h.8M646.58 194.57h.8M649.22 187.83h.8M646.43 190.6h.8M649.27 190.02h.8M645.69 194.7h.8M653.77 187.63h.8M654.18 182.56h.8M650.72 188.97h.8M648.82 189.82h.8M648.01 190.97h.8M654.96 185.77h.8M649.44 193.9h.8M652.57 187.73h.8M648.38 195.89h.8M659.45 182.43h.8M653.22 188.26h.8M657.83 180.87h.8M652.05 189.86h.8M654.39 186.14h.8M648.79 194.47h.8M654.52 186.52h.8M656.82 183.96h.8M660.13 181.11h.8M648.83 191.17h.8M655.46 188.12h.8M661.07 180.92h.8M644.86 197.03h.8M651.67 191.57h.8M654.77 186.05h.8M644.86 195.65h.8M648.32 192.12h.8M648.06 194.75h.8M656.08 184.15h.8M658.81 178.87h.8M653.13 180.79h.8M663.6 176.11h.8M654.47 188.28h.8M654.66 187.49h.8M645.91 197.69h.8M652.92 184.82h.8M650.42 191.56h.8M656.14 184.07h.8M643.14 190.97h.8M646.88 191.04h.8M654.43 185.72h.8M644.92 194.88h.8M661.93 179.38h.8M654.57 182.32h.8M643.8 194.62h.8M654.99 185.33h.8M647.94 189.38h.8M651.02 184.44h.8M645.71 194.38h.8M650.6 193.05h.8M645.24 196.89h.8M648.81 193.26h.8M645.33 193.65h.8M652.34 189.75h.8M652.19 187.58h.8M651.08 188.12h.8M657.67 179.05h.8M660.04 179.87h.8M653.98 183.37h.8M653.93 186.87h.8M661.17 177.48h.8M651.57 188.96h.8M660.72 175.41h.8M656.22 184.78h.8M643.91 194.74h.8M662.44 177.68h.8M651.07 186.24h.8M646.67 193.41h.8M654.48 182.68h.8M652.74 185.18h.8M648.96 190.4h.8M646.64 191.57h.8M662.6 177.45h.8M649.78 190.51h.8M651.35 192.06h.8M657.89 184.15h.8M647.87 195.41h.8M660.19 179.62h.8M655.3 182.77h.8M657.02 182.61h.8M659.68 179.05h.8M651.1 186.52h.8M656.14 179.53h.8M647.22 196.11h.8M661.21 178.61h.8M647.74 197.4h.8M656.5 180.57h.8M649.48 188.63h.8M653.57 186.69h.8M653.85 186.25h.8M653.05 185.65h.8M650.8 192.3h.8M656.26 184.37h.8M653.55 184.64h.8M654.03 191.57h.8M654.12 189.2h.8M646.18 198.46h.8M644.55 195.37h.8M660.35 182.35h.8M646.21 189.46h.8M651.4 189.18h.8M652.18 186.65h.8M659.12 181.55h.8M654.06 187.38h.8M644.24 192.91h.8M646.78 190.52h.8M653.38 190.09h.8M651.74 188.11h.8M646.61 190h.8M657.79 183.63h.8M655.17 189.3h.8M653.96 186.63h.8M644.38 197.61h.8M653.84 187.96h.8M647.37 190.39h.8M657.35 182.35h.8M659.93 181.65h.8M658.92 180.31h.8M649.79 192.57h.8M651.41 187.23h.8M651.83 186.56h.8M662.97 175.42h.8M650.4 190.75h.8M649.25 194.63h.8M649.39 189.4h.8M651.71 195.6h.8M659.56 177.6h.8M659.22 178.86h.8M650.11 190.55h.8M652.97 186.69h.8M649.41 192.2h.8M656.65 186.75h.8M660.87 181.67h.8M656.51 180.9h.8M643.44 195.66h.8M654.68 184.47h.8M646.53 193.77h.8M660.42 181.16h.8M651.48 184.39h.8M650.46 187.19h.8M646.26 196.02h.8M648.5 189.96h.8M656.17 183.65h.8M654.15 190.09h.8M660.76 180.04h.8M652.54 187.68h.8M647.51 192.98h.8M661.97 179.17h.8M661.49 177.26h.8M662.3 177.23h.8M649.38 189.92h.8M654.75 192.11h.8M659.42 177.71h.8M657.41 185.26h.8M656.17 185.28h.8M649.16 196.41h.8M657.82 183.65h.8M659.26 179.54h.8M644.49 196.9h.8M653.42 187.2h.8M651.2 186.77h.8M648.57 191.08h.8M659.81 179.5h.8M656.58 182.83h.8M653.35 186.35h.8M652.62 184.25h.8M648.96 195.6h.8M653.84 182.97h.8M651.73 191.39h.8M647.79 195.48h.8M656.8 181.74h.8M658.28 179.94h.8M651.96 188.81h.8M648.16 189.34h.8M650.6 187.32h.8M648.31 193.32h.8M650.7 189.49h.8M657.15 183.59h.8M650.57 194h.8M655.88 183.14h.8M656.95 182.87h.8M655.31 183.03h.8M654.11 183.89h.8M658.83 179.49h.8M654.83 187.59h.8M644.49 197.2h.8M651.72 187.54h.8M646.25 194.23h.8M661.67 177.66h.8M654.47 185.7h.8M648.66 195.73h.8M659.62 182.78h.8M652.91 187.71h.8M644.62 195.27h.8M645.68 195.68h.8M653.86 190.07h.8M657.65 185.24h.8M647.27 194.68h.8M663.36 177.03h.8M650.78 191.91h.8M653.16 192.26h.8M659.39 183.64h.8M643.96 195.93h.8M648.81 189.58h.8M655.99 180.17h.8M659.99 179.92h.8M658.3 181.3h.8M657.86 184.54h.8M647.95 190.63h.8M657.5 179.95h.8M652.98 186.38h.8M662.36 177.18h.8M660.07 180.7h.8M658.58 179.05h.8M646.22 195.12h.8M656.36 180.25h.8M657.88 180.26h.8M648.08 189.8h.8M654.05 189.53h.8M655.91 185.81h.8M653.9 190.55h.8M646.04 191.09h.8M655.07 187.48h.8M659.04 180.46h.8M657.35 182.3h.8M651.14 188.92h.8M653.21 186.61h.8M650.2 184.98h.8M655.41 183.83h.8M644.91 193.58h.8M650.94 190.06h.8M650.65 190.88h.8M658.51 180.41h.8M661 177.75h.8M659.66 180.07h.8M645.76 192.22h.8M650.28 193.97h.8M657.9 182.71h.8M649.19 190.38h.8M652.74 185.84h.8M657.91 183.32h.8M651.26 189.11h.8M648.37 195.85h.8M649.28 193.09h.8M654 186.98h.8M645.16 197.04h.8M654.18 189.12h.8M652.77 188.75h.8M652.24 190.4h.8M652.67 187.95h.8M652.47 186.39h.8M645.58 196.22h.8M657.71 181.07h.8M654.12 182.59h.8M653.78 187.44h.8M656.41 187.87h.8M661.06 179.93h.8M652.58 187.56h.8M655.62 186.42h.8M646.54 191.89h.8M642.08 198.76h.8M661.31 176.07h.8M647.12 192.31h.8M645.36 197.91h.8M653.65 183.74h.8M658.7 179.58h.8M642.22 192.73h.8M656.57 180.73h.8M651.66 187.54h.8M661.63 180.31h.8M643.77 196.27h.8M658 187.05h.8M653.34 185.42h.8M652.54 185.99h.8M647.72 195.22h.8M658.9 183.59h.8M653.45 186.58h.8M649.55 187.73h.8M650.44 195.05h.8M645.46 194.51h.8M647.96 192.77h.8M650.21 188.85h.8M645.48 196.9h.8M650.94 186.45h.8M659.6 181.12h.8M661.7 177.61h.8M655.08 184.79h.8M660.72 177.78h.8M661.91 176.43h.8M651.97 186.71h.8M648.85 192.83h.8M644.95 198.95h.8M658.57 179.98h.8M655.52 181.48h.8M655.67 183.54h.8M658.11 182.54h.8M657.93 182.01h.8M646.45 194.82h.8M654.86 184.51h.8M648.93 194.53h.8M660.13 179.99h.8M650.68 191.64h.8M657.79 184.16h.8M654.61 185.82h.8M652.63 192.36h.8M652.03 187.66h.8M647.34 193.66h.8M653.21 186.62h.8M642.49 199.97h.8M643.95 198.39h.8M652.12 186.52h.8M650.03 192.26h.8M656.71 181.4h.8M645.63 193.4h.8M650.87 189.25h.8M649.25 190.04h.8M643.82 196.49h.8M655.71 184.78h.8M656.42 184.99h.8M656.6 182.57h.8M645.74 195.69h.8M661.71 177.68h.8M649.93 186.33h.8M650.3 191.25h.8M646.56 187.74h.8M648.53 189.66h.8M646.33 193.24h.8M653.64 185.93h.8M651.74 187.38h.8M654.71 182.94h.8M657.06 186h.8M650.86 186.62h.8M646.84 198.11h.8M655.96 179.1h.8M649.47 192.86h.8M658.64 182.96h.8M654.56 183.02h.8M658.25 179.52h.8M660.76 177.37h.8M661.83 175.89h.8M642.54 199.45h.8M647.81 192.97h.8M652.14 183.83h.8M656.1 184.65h.8M651.29 190.9h.8M644.19 196.35h.8M652.19 189.29h.8M647.5 186.84h.8M647.73 192.92h.8M650.81 192.31h.8M649.33 187.05h.8M652.19 188.67h.8M651.65 185.08h.8M645.32 192.96h.8M648.66 188.94h.8M656.94 181.75h.8M646.39 195.51h.8M647.02 193.21h.8M660.93 179.88h.8M645.88 195.61h.8M649.4 191.58h.8M657.61 182.32h.8M651.47 186.7h.8M654.77 186.73h.8M647.07 194.06h.8M643.06 196.84h.8M654.28 183.38h.8M652.81 188.31h.8M646.21 194.06h.8M650.53 191.83h.8M652.35 188.68h.8M649.76 189.19h.8M647.87 194.13h.8M655.33 184.22h.8M658.06 183.49h.8M657.85 181.33h.8M644.03 197.47h.8M657.25 182.33h.8M654.56 184.34h.8M660.27 178.54h.8M653.32 183.45h.8M663.04 175.75h.8M655.99 183.39h.8M654.38 183.85h.8M649.9 191.89h.8M651.64 184.36h.8M655.49 181.66h.8M656.74 184.07h.8M656.64 179.94h.8M652.95 184.07h.8M657.8 181.71h.8M644.96 195.93h.8M643.54 195.18h.8M652.04 185.55h.8M654.2 181.39h.8M654.61 183.9h.8M654.22 184.72h.8M652.21 185.73h.8M645.33 197.94h.8M644.79 195.05h.8M654.19 182.58h.8M653.98 184.16h.8M661.23 180.84h.8M651.74 189.41h.8M652.14 186.45h.8M650.75 184.62h.8M653.75 185.35h.8M650.07 186.29h.8M644.43 196.1h.8M658.75 183.45h.8M652.87 186.69h.8M654.2 184.73h.8M659.36 182.44h.8M656.92 181.4h.8M663.49 178.16h.8M648.72 191.77h.8M646.88 197.54h.8M652.16 189.68h.8M656.74 181.97h.8M652.48 190.65h.8M659.35 185.43h.8M657.42 185.44h.8M651.4 192.32h.8M649.81 192.02h.8M648.64 193.16h.8M655.2 177.94h.8M651.68 186.7h.8M650.25 190.08h.8M648.09 194.83h.8M653.4 188.05h.8M645.91 192.22h.8M645.23 194.24h.8M655.8 181.64h.8M647.88 191.4h.8M654.53 184.68h.8M661.98 177.4h.8M655.74 181.52h.8M660.39 179.94h.8M651.01 187.28h.8M643.31 195.72h.8M657.92 183.05h.8M651.22 185.47h.8M655.82 181.36h.8M649.91 190.56h.8M657.12 182.52h.8M652.79 185.62h.8M658.62 179.86h.8M660.1 181.23h.8M649.4 193.33h.8M651.79 186.06h.8M655.44 184.36h.8M648.74 193.67h.8M660.54 177.16h.8M652.2 187.2h.8M653.1 184.89h.8M653.17 189.11h.8M648.88 190.44h.8M655.94 182.13h.8M660.5 181.67h.8M648.69 186.67h.8M655.09 183.05h.8M655.14 183.76h.8M648.22 192.53h.8M654.4 186.6h.8M653.64 182.61h.8M650.25 188.53h.8M662.09 177.44h.8M661.41 176.55h.8M654.16 183.69h.8M652.03 192.31h.8M648.5 189.39h.8M649.04 194.08h.8M651.8 187.57h.8M652.99 186.68h.8M651.8 186.24h.8M652.47 188.51h.8M648.14 191.36h.8M656.02 182.57h.8M652.44 189.76h.8M644.97 194.32h.8M648.11 193.85h.8M656.55 185.25h.8M654.19 186.54h.8M658.17 183.81h.8M650.19 195.98h.8M657.6 181.14h.8M650.98 185.94h.8M648.19 194.86h.8M656.7 180.05h.8M657.13 186.88h.8M651.76 189.29h.8M652.44 182.8h.8M647.94 193.48h.8M645.39 195.91h.8M658.84 180.08h.8M650.58 189h.8M651 187.8h.8M644.8 194.5h.8M663.61 176.57h.8M652.51 192.04h.8M649.49 189.67h.8M656.07 184.56h.8M646.92 194.63h.8M650.92 190.36h.8M644.45 192.39h.8M658.17 179.87h.8M653.39 187.81h.8M648.04 196.58h.8M655.22 183.73h.8M646.07 191.18h.8M653.76 184.03h.8M657.59 183.04h.8M651.37 187.57h.8M655.64 188.31h.8M644.53 194.56h.8M643.47 195.9h.8M645.07 190.48h.8M648.51 194.13h.8M645.41 194.32h.8M643.35 197.69h.8M660.62 179.88h.8M662.13 177.41h.8M655.5 186.31h.8M656.7 181.92h.8M651.55 188.51h.8M654.67 184.9h.8M646.28 191.74h.8M652.91 188.5h.8M646.21 191.72h.8M657.73 182.83h.8M656.81 185.78h.8M657.95 179.45h.8M655.58 182.4h.8M649.08 187.9h.8M655.65 187.02h.8M657.83 180.67h.8M656.6 186.51h.8M650.24 186.03h.8M650.72 189.89h.8M652.5 184.91h.8M659.89 180.66h.8M657.31 182.5h.8M657.53 182.98h.8M657.12 182.06h.8M663.05 176.23h.8M656.8 182.1h.8M651.68 191.94h.8M649.08 190.99h.8M652.64 186.26h.8M650.73 186.17h.8M647.12 192.23h.8M654.74 185.97h.8M650.06 189.67h.8M651.61 187.78h.8M648.29 189.89h.8M655.28 185.95h.8M653.49 187.73h.8M650.09 189.78h.8M659.2 184.12h.8M650.78 188.79h.8M661.4 181.2h.8M650.33 187.52h.8M642.05 192.14h.8M647.95 186.6h.8M662.8 179.41h.8M645.11 196.43h.8M660.59 177.88h.8M654.82 182.09h.8M651.5 187.08h.8M644.77 196.15h.8M651.72 193.42h.8M663.39 177.1h.8M655.89 181.68h.8M648.27 190.79h.8M650.45 194.52h.8M655.3 183.18h.8M645.31 192.82h.8M652.87 188.7h.8M644.59 196h.8M644.06 197.06h.8M651.71 185.57h.8M647.34 190.72h.8M658.89 181.71h.8M658.7 179.82h.8M648.02 190.91h.8M652.83 184.84h.8M654.93 187.78h.8M656.75 181.63h.8M654.8 187.54h.8M652.17 186.01h.8M650.99 188.97h.8M658.63 182.32h.8M656.76 183.41h.8M653.29 184.25h.8M653.82 187.39h.8M646.19 192.74h.8M656.5 185.5h.8M659.1 183.35h.8M660.32 181.18h.8M652.95 186.44h.8M651.18 186.97h.8M658.32 182.82h.8M648.07 191.4h.8M651.71 186.12h.8M654.4 184.77h.8M647.49 192.44h.8M652.57 187.17h.8M655.26 186.7h.8M650.98 187.88h.8M649.86 191.22h.8M652.03 189.97h.8M649 189.2h.8M657.75 186.58h.8M647.98 191.98h.8M659.76 182.75h.8M650.21 187.44h.8M651.06 185.74h.8M649.11 192.41h.8M644.23 192.95h.8M651.32 185.43h.8M660.05 179.56h.8M658.11 183.95h.8M654.88 185.14h.8M656.08 187.32h.8M655.57 182.03h.8M656.6 181.06h.8M644.77 196.04h.8M648.51 190.48h.8M653.98 184.05h.8M660.59 180.01h.8M651.43 191.89h.8M654.49 183.04h.8M643.9 198.26h.8M658.72 179.78h.8M655.6 181.39h.8M661.05 180.1h.8M662 175.92h.8M648.84 190.36h.8M658.26 181.03h.8M658.36 183.69h.8M650.35 189.17h.8M644.64 193.89h.8M658.61 180.84h.8M657.88 183.36h.8M646.89 194.35h.8M649.09 190.29h.8M660.83 176.97h.8M659.16 178.67h.8M651.01 190.38h.8M652.41 185.2h.8M652.57 189.09h.8M651.31 188.23h.8M652.74 188.56h.8M645.64 192.94h.8M653.7 185.03h.8M647.32 194.12h.8M650.56 191.5h.8M659.38 176.87h.8M649.32 192.69h.8M653.64 184.63h.8M648.5 195.08h.8M649.12 193.98h.8M660.09 179.52h.8M649.34 194.21h.8M651.76 185.48h.8M647.23 191.28h.8M647.78 194.14h.8M658.38 182.42h.8M649.61 191.18h.8M656.65 183.14h.8M654.02 186.1h.8M656.37 186.59h.8M650.4 187.03h.8M646.55 191.32h.8M659.01 179.95h.8M649.76 189.04h.8M653.58 186.92h.8M656.2 183.81h.8M651.28 187.13h.8M655.02 180.71h.8M650.98 185.67h.8M651.37 189.87h.8M651.4 189.87h.8M644.62 195.35h.8M649.76 191.07h.8M658.17 183.5h.8M648.43 193.03h.8M645.32 192.49h.8M658.24 180.46h.8M651.89 186.4h.8M657.19 181.26h.8M647.12 193.69h.8M644.32 195.81h.8M653.28 186.33h.8M645.32 197.17h.8M648.61 194.27h.8M659.69 183.85h.8M646.65 193.12h.8M659.75 180h.8M650.46 187.1h.8M644.51 194.9h.8M659.65 177.38h.8M653.99 193.48h.8M661.66 176.4h.8M648.02 194.35h.8M659.75 181.17h.8M651.14 196.15h.8M660.49 180.43h.8M659.62 178.79h.8M642.92 198.74h.8M654.91 183.6h.8M656.33 182.01h.8M649.51 188.38h.8M648.04 193.65h.8M643.18 196.41h.8M650.39 191.04h.8M653.34 188.06h.8M660.12 177.51h.8M653.35 184.86h.8M648.68 191.55h.8M649.74 189.03h.8M660.29 179.9h.8M656.31 179.91h.8M650.25 191.71h.8M643.08 199.96h.8M646.14 193.28h.8M646.42 187.79h.8M660.45 179.48h.8M653.9 189.06h.8M656.05 187.07h.8M661.77 182.79h.8M650.24 194.05h.8M660.49 177.87h.8M649.16 186.7h.8M645.63 194.04h.8M641.62 198.19h.8M649.21 187.75h.8M651 188.54h.8M655.04 183.63h.8M654.81 189.23h.8M644.48 193.51h.8M643.79 191.12h.8M658.63 178.22h.8M649.71 189.12h.8M648.1 188.35h.8M650.21 192.91h.8M655.27 186.36h.8M653.53 187.3h.8M657.07 179.49h.8M652.53 185.09h.8M653.58 187.79h.8M653.69 191.1h.8M654.65 185.5h.8M656.03 186.45h.8M649.78 191.97h.8M653.98 185.16h.8M655.4 186.77h.8M648.07 195.37h.8M653.26 184.97h.8M649.02 187.19h.8M647.63 191.14h.8M651.12 193.4h.8M654.39 186.67h.8M656.89 183.56h.8M647.71 193.97h.8M649.59 192.21h.8M650.69 189.32h.8M642.28 196.44h.8M658.34 178.48h.8M655.47 182.85h.8M653.03 186.86h.8M652.1 190.33h.8M652.85 183.73h.8M662.05 180.1h.8M652.89 186.39h.8M655.54 183.25h.8M660.56 180.09h.8M648.17 191.75h.8M646.21 194.46h.8M652.57 189.24h.8M649.78 187.82h.8M649.98 185.41h.8M649.89 192.64h.8M656.53 181.55h.8M654.21 186.22h.8M652.61 190.59h.8M659.13 177.48h.8M652.72 186.66h.8M646 196.82h.8M647.84 191.56h.8M647.68 192.64h.8M649.73 189.27h.8M642.8 196.52h.8M658.67 183.83h.8M655.78 187.21h.8M649.2 191.26h.8M650.86 189.24h.8M649.25 192.72h.8M647.47 192.85h.8M657.3 183.63h.8M647.31 190.69h.8M654.45 185.72h.8M651.99 189.57h.8M655.15 183.26h.8M658.19 180.58h.8M660.23 178.35h.8M646.31 192.01h.8M660.52 177.43h.8M651.34 187.39h.8M651.1 190.88h.8M642.86 196.09h.8M654.98 185.78h.8M660.29 178.55h.8M653.74 187.64h.8M663.62 176.93h.8M649.52 193.94h.8M659.11 181.48h.8M660.01 181.39h.8M660.33 178.07h.8M653 187.46h.8M651.21 190.97h.8M660.27 178.98h.8M654.24 184.99h.8M653.17 190.38h.8M659.97 177.81h.8M650.63 190.25h.8M654.35 183.02h.8M645.17 193.08h.8M644.66 194.83h.8M650.16 192.61h.8M654.71 183.88h.8M651.25 187.61h.8M660.14 180.75h.8M648.63 187.64h.8" stroke="#8e4cab" stroke-width=".8"/>
<path d="M688.97 195.19h.6M678.45 189.28h.6M670.63 180.49h.6M680.47 195.53h.6M675.1 190.59h.6M680.84 183.11h.6M678.79 193.86h.6M671.71 179.12h.6M674.18 175.56h.6M676.75 174.79h.6M675.18 189.96h.6M676.33 189.35h.6M682.78 183.27h.6M680.77 190.57h.6M675.23 183.5h.6M663.38 182.71h.6M673.74 189.77h.6M673.75 186.22h.6M666.3 185.88h.6M677.66 198.73h.6M682.66 194.72h.6M682.83 189.72h.6M682.27 195.92h.6M667.05 198.09h.6M673.19 187.12h.6M680.55 193.23h.6M675.6 186.92h.6M670.2 187.33h.6M684.03 188.52h.6M686.68 186.16h.6M693.8 180.62h.6M674.84 186.93h.6M664.55 185.81h.6M683.84 178.99h.6M675.37 189.22h.6M675.81 182.66h.6M678.43 187.4h.6M674.88 183.81h.6M672.49 182.84h.6M674.55 183.59h.6M680.11 191.55h.6M678.21 192.4h.6M685.38 193.4h.6M672.43 189.73h.6M675.69 184.71h.6M679.6 181.29h.6M679.08 190.77h.6M684.71 192.5h.6M677.87 187.67h.6M681.68 187.83h.6M674.1 182.82h.6M671.96 181.92h.6M682.18 194.84h.6M678.96 187.72h.6M678.1 189.17h.6M677.78 197h.6M681.37 181.61h.6M674.34 187.68h.6M691.11 195.06h.6M669.17 192.32h.6M672.67 190.85h.6M674.25 189.06h.6M683.67 193.45h.6M663.92 192.32h.6M677.21 185.31h.6M685.96 193.42h.6M683.6 189.51h.6M678.27 184.43h.6M681.13 187.21h.6M679.52 185.09h.6M678.36 183.88h.6M674.06 189.66h.6M672.13 179.49h.6M670.89 195.72h.6M683.2 188.86h.6M669.8 187.23h.6M673.63 196.02h.6M669.37 184.55h.6M682.97 184.52h.6M678.97 195.87h.6M674.8 185.05h.6M670.1 190.98h.6M679.89 190.94h.6M680.17 192.28h.6M677.69 196.28h.6M680.14 188.3h.6M677.79 185.81h.6M678.87 179.64h.6M672.2 187.17h.6M673.88 183.81h.6M673.96 191.85h.6M678.47 191.13h.6M691.16 187.37h.6M670.67 193.63h.6M682.75 198.73h.6M677.62 184.82h.6M679.61 190.65h.6M680.22 187.82h.6M676.92 188.9h.6M671.52 184.14h.6M680 181.18h.6M677.71 195.06h.6M682.59 187.14h.6M664.99 179.15h.6M675.42 185.51h.6M679.09 177.98h.6M679.42 183.24h.6M680.43 187.2h.6M679.44 195.21h.6M682.88 184.21h.6M681.32 190.11h.6M690.99 178.22h.6M668.98 190.86h.6M670.92 185h.6M671.83 189.22h.6M674.49 183.7h.6M672.41 185.6h.6M671.27 196.75h.6M672.13 190.81h.6M679.51 191.5h.6M675.57 183.68h.6M672.86 180.92h.6M667.43 191.51h.6M677.49 180.76h.6M667.07 186.71h.6M684.08 193.68h.6M678.55 190.66h.6M689.39 190.44h.6M668.67 189.07h.6M686.43 179.72h.6M667.47 190.94h.6M690.02 195.06h.6M671.53 183.98h.6M675.75 184.3h.6M676.06 193.45h.6M687.91 185.15h.6M669.05 190.5h.6M686.95 192.03h.6M682.67 186.92h.6M675.72 186.74h.6M683.38 181.39h.6M679.57 184.38h.6M682.01 186.28h.6M678.44 180.63h.6M678.96 187.77h.6M671.46 196.76h.6M671.57 194.84h.6M671.91 191.99h.6M670.59 184.05h.6M682.77 180.2h.6M687.65 191.16h.6M675.28 194.58h.6M684.58 196.5h.6M666.41 183.81h.6M675.6 192.48h.6M678.23 196.52h.6M676.16 189.19h.6M682.33 186.11h.6M682.33 185.03h.6M683.1 186.7h.6M675.22 194.35h.6M693.23 180.1h.6M677.11 191.25h.6M680.28 185.21h.6M677.01 200.35h.6M683 194.83h.6M677.4 191.29h.6M672.66 196.17h.6M681.97 189h.6M683.66 188.13h.6M679.58 187.18h.6M672.67 192.18h.6M681.93 189.44h.6M676.07 183.49h.6M674.19 192.17h.6M674.27 187.9h.6M670.79 182.05h.6M664.48 190.44h.6M679.18 181.61h.6M676.87 186.38h.6M666.48 183.81h.6M682.22 186.56h.6M679.41 195.68h.6M675.95 191.68h.6M680.9 192.78h.6M671.74 185.24h.6M672.86 177.86h.6M672.09 190.65h.6M671.91 183.35h.6M676.68 184.42h.6M672.12 187.79h.6M681.41 188.84h.6M682.13 192.4h.6M683.66 180.85h.6M673.35 182.63h.6M676.38 185.21h.6M680.64 190.42h.6M672.52 185.71h.6M682.99 191.36h.6M680.84 190.57h.6M692.33 184.33h.6M674.6 189.7h.6M684.28 183.6h.6M682.06 185.27h.6M671.7 191.8h.6M668.79 188.21h.6M678.77 180.87h.6M681.62 187.25h.6M676.44 184.83h.6M667.92 184.83h.6M683.28 186.65h.6M681.36 194.91h.6M680.96 188.43h.6M686.64 191.39h.6M691.81 185.84h.6M680.36 185.99h.6M682.91 180.28h.6M681.16 186.34h.6M679.16 183.16h.6M684.45 187.29h.6M679.67 190.99h.6M681.5 188.47h.6M689.64 178.14h.6M690.21 187.21h.6M664.69 179.92h.6M687.68 197.56h.6M678.38 178.19h.6M672.6 194.5h.6M676.61 184.46h.6M661.03 187.22h.6M672.32 186.17h.6M690.49 196.12h.6M681.57 183.63h.6M676.05 191.93h.6M687.43 199.54h.6M669.08 181.56h.6M679.96 188.21h.6M669.51 186.99h.6M681.37 181.83h.6M677.37 182.36h.6M684.27 178.87h.6M671.54 188.34h.6M678.58 188.31h.6M685.17 189.46h.6M683.67 194.5h.6M669.69 182.1h.6M678.37 180.61h.6M677.64 191.81h.6M673.31 191.41h.6M677.06 194.23h.6M671.09 192.02h.6M672.22 182.71h.6M676.79 192.27h.6M678.17 186.11h.6M673.72 191.33h.6M679.77 192.76h.6M674.92 185.41h.6M687.79 184.98h.6M668.29 185.93h.6M684.8 187.24h.6M680.01 183.42h.6M664.45 180.24h.6M680.72 185h.6M678.43 187.55h.6M676.71 186.25h.6M673.1 187.85h.6M673.81 199.9h.6M681.29 174.68h.6M685.09 189.77h.6M680.77 199.74h.6M670.12 191.75h.6M675.73 195.51h.6M663.11 184.85h.6M677.2 195.87h.6M680.35 181.41h.6M667.93 190.58h.6M679.03 190.37h.6M673.19 185.46h.6M674.05 177.72h.6M670.96 184.44h.6M682.47 186.74h.6M681.79 182.23h.6M677.91 180.49h.6M683.17 180.93h.6M668.81 194.59h.6M678.91 182.58h.6M667.71 191.11h.6M679.84 194.73h.6M694.12 194.15h.6M677.58 190.79h.6M675.05 188.13h.6M682.82 192.37h.6M673.31 184.08h.6M675.08 190.17h.6M675.91 192.36h.6M672.68 187.66h.6M677.17 186.82h.6M679.16 192.06h.6M668.64 186.89h.6M680.44 186.86h.6M670.13 186.4h.6M690.5 178.12h.6M666.89 190.09h.6M686.08 195.93h.6M674.43 188.69h.6M682.79 183.97h.6M672.32 182.15h.6M682.34 194.7h.6M685.56 181.43h.6M674.09 191.72h.6M666.6 188h.6M680.85 194.3h.6M668.93 194.33h.6M671.9 190.59h.6M675.6 185.32h.6M673.32 186.09h.6M663.83 191.54h.6M669.28 187.15h.6M674.54 184.87h.6M681.35 188.6h.6M673.22 178.84h.6M674.66 198.87h.6M685.79 192.9h.6M690.23 178.68h.6M677.76 191.77h.6M667.23 189.16h.6M681.98 181.34h.6M678.26 191.15h.6M678.82 186.54h.6M683.05 189.74h.6M674.76 193.47h.6M689.39 184.81h.6M671.26 181.55h.6M668.23 196.88h.6M678.14 186.46h.6M668.62 179.55h.6M672.38 193.15h.6M665.08 190.62h.6M683.53 191.45h.6M680.44 188.98h.6M676.54 186.73h.6M673.04 190.36h.6M665.8 193.46h.6M666.1 182.05h.6M678.14 186.81h.6M685.52 190.66h.6M683.13 188.29h.6M662.79 189.33h.6M668.36 188.09h.6M694.27 189.93h.6M677.69 179.78h.6M679.4 197.89h.6M678.23 187.57h.6M686.6 183.51h.6M675.23 184.2h.6M677.49 188.22h.6M680.44 174h.6M679.62 192.51h.6M683.93 196.73h.6M679.64 194.66h.6M680.7 195.04h.6M671.27 193.88h.6M674.66 188.61h.6M674.83 187.4h.6M680.4 187.99h.6M680.44 185.65h.6M675.58 183.19h.6M673.81 192.72h.6M664.4 180.14h.6M666.69 191.21h.6M674.53 187.44h.6M681.82 189.69h.6M676.68 178.31h.6M668.94 176.56h.6M671.31 187.65h.6M670.58 188.54h.6M676.36 188.55h.6M676.17 196h.6M683.45 183.79h.6M681.56 182.14h.6M676.78 186.31h.6M680.27 187.34h.6M670.72 182.66h.6M664.9 193.28h.6M680.46 181.72h.6M683.86 187.52h.6M679.98 188.36h.6M672.4 190.91h.6M671.13 182.56h.6M685.94 186.81h.6M677.43 186.97h.6M684.1 183.49h.6M666.15 201.57h.6M675 187.79h.6M672.92 185.38h.6M675.16 180.64h.6M681.3 197.68h.6M693.8 190.64h.6M669.91 186.03h.6M677.48 181.81h.6M681.2 180.93h.6M675.89 189.38h.6M676.67 196.92h.6M668.07 187.21h.6M674.59 188.92h.6M691.73 187h.6M670.43 186.83h.6M674.51 182.66h.6M680.01 185.42h.6M678.41 187.86h.6M682.23 201.06h.6M678.76 192.49h.6M678.98 191.45h.6M672.86 180.37h.6M668.94 188.93h.6M674.58 182.04h.6M687.22 188.56h.6M676.48 193.87h.6M672.12 184.69h.6M680.22 190.91h.6M669.15 189.02h.6M673.43 181.47h.6M691.9 182.13h.6M676.69 195.21h.6M674.42 183.47h.6M679.38 193.9h.6M690.92 193.92h.6M681.58 187.51h.6M677.12 192.33h.6M677.16 188.09h.6M683.07 200.55h.6M684.24 186.33h.6M671.13 194.24h.6M673.04 184.66h.6M679.41 187.69h.6M663.55 191.27h.6M670 196.24h.6M686.81 188.18h.6M681.41 185.71h.6M681.99 183.66h.6M682.77 190.98h.6M695.32 192.81h.6M684.69 184.05h.6M675.68 190.73h.6M685.61 187.05h.6M690.81 192.54h.6M674.97 187.88h.6M690.99 189.56h.6M687.87 197.12h.6M674.87 188.52h.6M673.61 185.53h.6M674.04 185.37h.6M674.48 184.48h.6M675.12 192.39h.6M679.58 184.64h.6M671.73 178.83h.6M680.4 180.99h.6M674.92 191.9h.6M669.43 181.43h.6M681.85 189.14h.6M683.99 183.27h.6M685.5 193.93h.6M674.03 187.72h.6M681.96 187.94h.6M677.5 182.58h.6M679.23 192.2h.6M686.26 190.93h.6M672.88 179.8h.6M678.74 188.16h.6M676.96 179.8h.6M687.41 178.42h.6M682.34 187.59h.6M678.49 189.57h.6M675.49 188.24h.6M682.7 189.55h.6M676.15 188.53h.6M684.05 194.76h.6M672.26 189.34h.6M675.46 196.82h.6M674.68 182.57h.6M675.11 184.79h.6M677.28 174.78h.6M683.37 189.25h.6M688.02 190.85h.6M674.94 192.39h.6M675.73 192.63h.6M675.87 185.55h.6M674.51 187.38h.6M685.76 183.68h.6M679.59 189.82h.6M667.16 188.55h.6M675.09 195.57h.6M667.17 189.1h.6M687.16 188.2h.6M673.93 183.14h.6M668.52 188.23h.6M674.59 191.19h.6M674.72 186.51h.6M679.85 189.04h.6M672.09 194.6h.6M667.85 192.46h.6M688.87 185.95h.6M673.63 188.84h.6M673.59 183.53h.6M670.82 184.55h.6M679.72 192.03h.6M682.8 182.89h.6M682.18 183.39h.6M675.5 181.01h.6M685.78 184.74h.6M664.15 190.45h.6M674.23 193.37h.6M668.51 195.9h.6M679.42 186.96h.6M675.46 188.53h.6M680.03 193.77h.6M673.88 188.45h.6M662.71 182.9h.6M680.33 185.55h.6M666.55 195.99h.6" stroke="#72c584" stroke-width=".6"/>
<path d="M670.66 129.4V163.78H711.71V129.4M671.26 163.78L627.39 203.18M674.61 169.24H711.37V214.87L643.07 214.53Z" fill="none" stroke="#5a5a5a" stroke-width=".6"/>
<rect x="647.3" y="166.04" width="2.2" height="1.2" fill="#777"/>
<rect x="690.15" y="146.38" width="2.2" height="1.2" fill="#777"/>
<rect x="675.06" y="191.76" width="2.2" height="1.2" fill="#777"/>
<rect x="626.7" y="129.4" width="85.7" height="86.6" fill="none" stroke="#8a8a8a" stroke-width=".8"/>
<path d="M629.27 216v1.2M632.05 216v1.2M634.83 216v1.2M637.6 216v1.2M640.38 216v1.2M643.16 216v1.2M645.94 216v1.2M648.72 216v1.2M651.49 216v1.2M654.27 216v1.2M657.05 216v1.2M659.83 216v1.2M662.61 216v1.2M665.38 216v1.2M668.16 216v1.2M670.94 216v1.2M673.72 216v1.2M676.49 216v1.2M679.27 216v1.2M682.05 216v1.2M684.83 216v1.2M687.61 216v1.2M690.38 216v1.2M693.16 216v1.2M695.94 216v1.2M698.72 216v1.2M701.5 216v1.2M704.27 216v1.2M707.05 216v1.2M709.83 216v1.2M626.7 132h-1.2M626.7 134.81h-1.2M626.7 137.61h-1.2M626.7 140.42h-1.2M626.7 143.23h-1.2M626.7 146.03h-1.2M626.7 148.84h-1.2M626.7 151.65h-1.2M626.7 154.45h-1.2M626.7 157.26h-1.2M626.7 160.07h-1.2M626.7 162.88h-1.2M626.7 165.68h-1.2M626.7 168.49h-1.2M626.7 171.3h-1.2M626.7 174.1h-1.2M626.7 176.91h-1.2M626.7 179.72h-1.2M626.7 182.52h-1.2M626.7 185.33h-1.2M626.7 188.14h-1.2M626.7 190.95h-1.2M626.7 193.75h-1.2M626.7 196.56h-1.2M626.7 199.37h-1.2M626.7 202.17h-1.2M626.7 204.98h-1.2M626.7 207.79h-1.2M626.7 210.59h-1.2M626.7 213.4h-1.2" fill="none" stroke="#aaa" stroke-width=".4"/>
<text x="629.72" y="137.3" font-size="8.9" fill="#e9388e" stroke="#e9388e" stroke-width=".25">7.1%</text>
<text x="691.85" y="137.3" font-size="8.9" fill="#f26b35" stroke="#f26b35" stroke-width=".25">1.5%</text>
<text x="691.15" y="212.7" font-size="8.9" fill="#3db54a" stroke="#3db54a" stroke-width=".25">8.4%</text>
<text transform="translate(638.87 223)" x="-5.37" y="2.54" font-size="7.1" font-weight="normal" fill="#333">10<tspan font-size="4.54" dy="-2.56">2</tspan></text>
<text transform="translate(620.3 201.88) rotate(-90)" x="-5.07" y="2.4" font-size="6.7" font-weight="normal" fill="#333">10<tspan font-size="4.29" dy="-2.41">2</tspan></text>
<text transform="translate(661.15 223)" x="-5.38" y="2.54" font-size="7.1" font-weight="normal" fill="#333">10<tspan font-size="4.54" dy="-2.56">3</tspan></text>
<text transform="translate(620.3 181.01) rotate(-90)" x="-5.08" y="2.4" font-size="6.7" font-weight="normal" fill="#333">10<tspan font-size="4.29" dy="-2.41">3</tspan></text>
<text transform="translate(682.83 223)" x="-5.42" y="2.54" font-size="7.1" font-weight="normal" fill="#333">10<tspan font-size="4.54" dy="-2.56">4</tspan></text>
<text transform="translate(620.3 158.67) rotate(-90)" x="-5.11" y="2.4" font-size="6.7" font-weight="normal" fill="#333">10<tspan font-size="4.29" dy="-2.41">4</tspan></text>
<text transform="translate(704.43 223)" x="-5.39" y="2.54" font-size="7.1" font-weight="normal" fill="#333">10<tspan font-size="4.54" dy="-2.56">5</tspan></text>
<text transform="translate(620.3 136.76) rotate(-90)" x="-5.08" y="2.4" font-size="6.7" font-weight="normal" fill="#333">10<tspan font-size="4.29" dy="-2.41">5</tspan></text>
<text x="-.94" y="285.2" font-size="24" stroke="#231f20" stroke-width=".25">c</text>
<text x="164.43" y="285.8" font-size="11.55" fill="#c51a35" stroke="#c51a35" stroke-width=".25">HNRNPA1</text>
<text x="52.33" y="311.5" font-size="11.55" stroke="#231f20" stroke-width=".25">Fluorescence positive (%)</text>
<text x="212.43" y="311.6" font-size="11.5" stroke="#231f20" stroke-width=".25">Double positive (%)</text>
<line x1="57.5" y1="326.4" x2="57.5" y2="450.8" stroke="#231f20" stroke-width="1.4"/>
<line x1="56.8" y1="450.1" x2="180.7" y2="450.1" stroke="#231f20" stroke-width="1.4"/>
<line x1="53.2" y1="450.1" x2="57.5" y2="450.1" stroke="#231f20" stroke-width="1.4"/>
<text x="44.4" y="453.79" font-size="10.3" stroke="#231f20" stroke-width=".25">0</text>
<line x1="53.2" y1="419.3" x2="57.5" y2="419.3" stroke="#231f20" stroke-width="1.4"/>
<text x="44.26" y="422.99" font-size="10.3" stroke="#231f20" stroke-width=".25">5</text>
<line x1="53.2" y1="388.5" x2="57.5" y2="388.5" stroke="#231f20" stroke-width="1.4"/>
<text x="38.67" y="392.19" font-size="10.3" stroke="#231f20" stroke-width=".25">10</text>
<line x1="53.2" y1="357.7" x2="57.5" y2="357.7" stroke="#231f20" stroke-width="1.4"/>
<text x="38.53" y="361.39" font-size="10.3" stroke="#231f20" stroke-width=".25">15</text>
<line x1="53.2" y1="326.9" x2="57.5" y2="326.9" stroke="#231f20" stroke-width="1.4"/>
<text x="38.67" y="330.59" font-size="10.3" stroke="#231f20" stroke-width=".25">20</text>
<rect x="66.8" y="425.03" width="14.8" height="25.07" fill="#f1e97f" stroke="#111" stroke-width="1.6"/>
<path d="M74.2 422.38V426.08M70.13 422.38h8.14M70.13 426.08h8.14" fill="none" stroke="#111" stroke-width="1"/>
<circle cx="69.2" cy="425.15" r="2.5"/>
<circle cx="74.7" cy="422.07" r="2.5"/>
<circle cx="79.2" cy="423.92" r="2.5"/>
<rect x="91.4" y="349.26" width="15" height="100.84" fill="#62cbf0" stroke="#111" stroke-width="1.6"/>
<path d="M98.9 346V350.92M94.78 346h8.25M94.78 350.92h8.25" fill="none" stroke="#111" stroke-width="1"/>
<circle cx="94.1" cy="346" r="2.5"/>
<circle cx="94.4" cy="352.77" r="2.5"/>
<circle cx="104.1" cy="348.15" r="2.5"/>
<rect x="132.5" y="418.25" width="14.8" height="31.85" fill="#f1e97f" stroke="#111" stroke-width="1.6"/>
<path d="M139.9 416.84V418.07M135.83 416.84h8.14M135.83 418.07h8.14" fill="none" stroke="#111" stroke-width="1"/>
<circle cx="134.9" cy="417.76" r="2.5"/>
<circle cx="139.9" cy="417.14" r="2.5"/>
<circle cx="144.9" cy="417.45" r="2.5"/>
<rect x="157.3" y="346.18" width="15" height="103.92" fill="#62cbf0" stroke="#111" stroke-width="1.6"/>
<path d="M164.8 341.68V349.08M160.68 341.68h8.25M160.68 349.08h8.25" fill="none" stroke="#111" stroke-width="1"/>
<circle cx="159.8" cy="340.45" r="2.5"/>
<circle cx="164.8" cy="350.31" r="2.5"/>
<circle cx="169.8" cy="345.38" r="2.5"/>
<line x1="86.5" y1="450.1" x2="86.5" y2="454.4" stroke="#231f20" stroke-width="1.4"/>
<line x1="152" y1="450.1" x2="152" y2="454.4" stroke="#231f20" stroke-width="1.4"/>
<text x="72.77" y="462.6" font-size="10.4" stroke="#231f20" stroke-width=".25">single</text>
<text x="142.06" y="462.5" font-size="10.9" stroke="#231f20" stroke-width=".25">dual</text>
<line x1="214.6" y1="333.9" x2="214.6" y2="450.7" stroke="#231f20" stroke-width="1.4"/>
<line x1="213.9" y1="450" x2="291.4" y2="450" stroke="#231f20" stroke-width="1.4"/>
<line x1="210.3" y1="450" x2="214.6" y2="450" stroke="#231f20" stroke-width="1.4"/>
<text x="192.81" y="453.69" font-size="10.3" stroke="#231f20" stroke-width=".25">0.0</text>
<line x1="210.3" y1="421.1" x2="214.6" y2="421.1" stroke="#231f20" stroke-width="1.4"/>
<text x="192.67" y="424.79" font-size="10.3" stroke="#231f20" stroke-width=".25">0.5</text>
<line x1="210.3" y1="392.2" x2="214.6" y2="392.2" stroke="#231f20" stroke-width="1.4"/>
<text x="192.81" y="395.89" font-size="10.3" stroke="#231f20" stroke-width=".25">1.0</text>
<line x1="210.3" y1="363.3" x2="214.6" y2="363.3" stroke="#231f20" stroke-width="1.4"/>
<text x="192.67" y="366.99" font-size="10.3" stroke="#231f20" stroke-width=".25">1.5</text>
<line x1="210.3" y1="334.4" x2="214.6" y2="334.4" stroke="#231f20" stroke-width="1.4"/>
<text x="192.81" y="338.09" font-size="10.3" stroke="#231f20" stroke-width=".25">2.0</text>
<rect x="225.9" y="447.33" width="21.2" height="2.67" fill="#f1e97f" stroke="#111" stroke-width="1.6"/>
<path d="M236.5 445.95V447.11M230.67 445.95h11.66M230.67 447.11h11.66" fill="none" stroke="#111" stroke-width="1"/>
<circle cx="230.5" cy="446.82" r="2"/>
<circle cx="236.5" cy="445.67" r="2"/>
<circle cx="242.5" cy="446.53" r="2"/>
<rect x="259.6" y="365.26" width="20.6" height="84.74" fill="#62cbf0" stroke="#111" stroke-width="1.6"/>
<path d="M269.9 351.74V376.02M264.4 351.74h11M264.4 376.02h11" fill="none" stroke="#111" stroke-width="1"/>
<circle cx="269.9" cy="351.74" r="2"/>
<circle cx="269.9" cy="366.19" r="2"/>
<circle cx="269.9" cy="376.02" r="2"/>
<text x="243.36" y="462.5" font-size="10.9" stroke="#231f20" stroke-width=".25">dual</text>
<rect x="312.3" y="334.9" width="18.2" height="8.8" fill="#f1e97f" stroke="#111" stroke-width="1.3"/>
<rect x="312.3" y="352.3" width="18.2" height="8.8" fill="#62cbf0" stroke="#111" stroke-width="1.3"/>
<text x="337.95" y="343.4" font-size="11.2" stroke="#231f20" stroke-width=".25">DMSO</text>
<text x="337.92" y="360.9" font-size="11.7" stroke="#231f20" stroke-width=".25">NHEJi</text>
<text x="408.42" y="286.2" font-size="24" stroke="#231f20" stroke-width=".25">d</text>
<text x="552.14" y="285.8" font-size="11.3" fill="#c51a35" stroke="#c51a35" stroke-width=".25">HNRNPA1</text>
<text x="454.17" y="300.4" font-size="11.45" stroke="#231f20" stroke-width=".25">Total positive (%)</text>
<text x="603.63" y="301" font-size="11.5" stroke="#231f20" stroke-width=".25">Double positive (%)</text>
<line x1="445.3" y1="320.6" x2="445.3" y2="418.2" stroke="#231f20" stroke-width="1.2"/>
<line x1="444.7" y1="417.6" x2="555.8" y2="417.6" stroke="#231f20" stroke-width="1.2"/>
<line x1="441" y1="417.6" x2="445.3" y2="417.6" stroke="#231f20" stroke-width="1.2"/>
<text x="433.81" y="420.93" font-size="9.3" stroke="#231f20" stroke-width=".25">0</text>
<line x1="441" y1="398.3" x2="445.3" y2="398.3" stroke="#231f20" stroke-width="1.2"/>
<text x="433.69" y="401.63" font-size="9.3" stroke="#231f20" stroke-width=".25">5</text>
<line x1="441" y1="379" x2="445.3" y2="379" stroke="#231f20" stroke-width="1.2"/>
<text x="428.64" y="382.33" font-size="9.3" stroke="#231f20" stroke-width=".25">10</text>
<line x1="441" y1="359.7" x2="445.3" y2="359.7" stroke="#231f20" stroke-width="1.2"/>
<text x="428.52" y="363.03" font-size="9.3" stroke="#231f20" stroke-width=".25">15</text>
<line x1="441" y1="340.4" x2="445.3" y2="340.4" stroke="#231f20" stroke-width="1.2"/>
<text x="428.64" y="343.73" font-size="9.3" stroke="#231f20" stroke-width=".25">20</text>
<line x1="441" y1="321.1" x2="445.3" y2="321.1" stroke="#231f20" stroke-width="1.2"/>
<text x="428.52" y="324.43" font-size="9.3" stroke="#231f20" stroke-width=".25">25</text>
<rect x="452.9" y="399.1" width="13" height="18.5" fill="#f1e97f" stroke="#111" stroke-width="1.6"/>
<path d="M459.4 397.91V398.69M455.82 397.91h7.15M455.82 398.69h7.15" fill="none" stroke="#111" stroke-width="1"/>
<circle cx="454.4" cy="398.49" r="2.2"/>
<circle cx="459.4" cy="397.91" r="2.2"/>
<circle cx="464.4" cy="398.49" r="2.2"/>
<rect x="474" y="352.78" width="13" height="64.82" fill="#62cbf0" stroke="#111" stroke-width="1.6"/>
<path d="M480.5 350.82V352.75M476.93 350.82h7.15M476.93 352.75h7.15" fill="none" stroke="#111" stroke-width="1"/>
<circle cx="475.5" cy="352.37" r="2.2"/>
<circle cx="480.5" cy="351.4" r="2.2"/>
<circle cx="485.5" cy="351.21" r="2.2"/>
<rect x="494.7" y="347.76" width="13" height="69.84" fill="#da86b9" stroke="#111" stroke-width="1.6"/>
<path d="M501.2 344.26V349.28M497.62 344.26h7.15M497.62 349.28h7.15" fill="none" stroke="#111" stroke-width="1"/>
<circle cx="501.2" cy="343.1" r="2.2"/>
<circle cx="496.2" cy="347.73" r="2.2"/>
<circle cx="506.2" cy="348.12" r="2.2"/>
<rect x="515.9" y="353.55" width="13" height="64.05" fill="#c4dd87" stroke="#111" stroke-width="1.6"/>
<path d="M522.4 350.44V354.68M518.82 350.44h7.15M518.82 354.68h7.15" fill="none" stroke="#111" stroke-width="1"/>
<circle cx="517.4" cy="350.05" r="2.2"/>
<circle cx="517.4" cy="353.52" r="2.2"/>
<circle cx="527.4" cy="351.98" r="2.2"/>
<rect x="536.5" y="344.29" width="13" height="73.31" fill="#f8c67c" stroke="#111" stroke-width="1.6"/>
<path d="M543 341.94V345.03M539.42 341.94h7.15M539.42 345.03h7.15" fill="none" stroke="#111" stroke-width="1"/>
<circle cx="538" cy="341.94" r="2.2"/>
<circle cx="543" cy="345.8" r="2.2"/>
<circle cx="548" cy="342.33" r="2.2"/>
<line x1="459.4" y1="417.6" x2="459.4" y2="421.9" stroke="#231f20" stroke-width="1.2"/>
<line x1="480.5" y1="417.6" x2="480.5" y2="421.9" stroke="#231f20" stroke-width="1.2"/>
<line x1="501.2" y1="417.6" x2="501.2" y2="421.9" stroke="#231f20" stroke-width="1.2"/>
<line x1="522.4" y1="417.6" x2="522.4" y2="421.9" stroke="#231f20" stroke-width="1.2"/>
<line x1="543" y1="417.6" x2="543" y2="421.9" stroke="#231f20" stroke-width="1.2"/>
<text x="418.71" y="432" font-size="9.25" stroke="#231f20" stroke-width=".25">NHEJi</text>
<path d="M457.9 429.5h3" fill="none" stroke="#222" stroke-width="1.05"/>
<path d="M477.7 429.5h5.6M480.5 426.7v5.6" fill="none" stroke="#222" stroke-width="1.05"/>
<path d="M498.4 429.5h5.6M501.2 426.7v5.6" fill="none" stroke="#222" stroke-width="1.05"/>
<path d="M519.6 429.5h5.6M522.4 426.7v5.6" fill="none" stroke="#222" stroke-width="1.05"/>
<path d="M540.2 429.5h5.6M543 426.7v5.6" fill="none" stroke="#222" stroke-width="1.05"/>
<text x="411.14" y="443.9" font-size="9.25" stroke="#231f20" stroke-width=".25">ART558</text>
<path d="M457.9 441.3h3" fill="none" stroke="#222" stroke-width="1.05"/>
<path d="M479 441.3h3" fill="none" stroke="#222" stroke-width="1.05"/>
<path d="M498.4 441.3h5.6M501.2 438.5v5.6" fill="none" stroke="#222" stroke-width="1.05"/>
<path d="M520.9 441.3h3" fill="none" stroke="#222" stroke-width="1.05"/>
<path d="M540.2 441.3h5.6M543 438.5v5.6" fill="none" stroke="#222" stroke-width="1.05"/>
<text x="423.02" y="456.1" font-size="9.25" stroke="#231f20" stroke-width=".25">D-I03</text>
<path d="M457.9 453.2h3" fill="none" stroke="#222" stroke-width="1.05"/>
<path d="M479 453.2h3" fill="none" stroke="#222" stroke-width="1.05"/>
<path d="M499.7 453.2h3" fill="none" stroke="#222" stroke-width="1.05"/>
<path d="M519.6 453.2h5.6M522.4 450.4v5.6" fill="none" stroke="#222" stroke-width="1.05"/>
<path d="M540.2 453.2h5.6M543 450.4v5.6" fill="none" stroke="#222" stroke-width="1.05"/>
<line x1="601.5" y1="320.5" x2="601.5" y2="418.8" stroke="#231f20" stroke-width="1.2"/>
<line x1="600.9" y1="418.2" x2="713.7" y2="418.2" stroke="#231f20" stroke-width="1.2"/>
<line x1="597.2" y1="418.2" x2="601.5" y2="418.2" stroke="#231f20" stroke-width="1.2"/>
<text x="590.41" y="421.53" font-size="9.3" stroke="#231f20" stroke-width=".25">0</text>
<line x1="597.2" y1="393.9" x2="601.5" y2="393.9" stroke="#231f20" stroke-width="1.2"/>
<text x="590.29" y="397.23" font-size="9.3" stroke="#231f20" stroke-width=".25">1</text>
<line x1="597.2" y1="369.6" x2="601.5" y2="369.6" stroke="#231f20" stroke-width="1.2"/>
<text x="590.4" y="372.93" font-size="9.3" stroke="#231f20" stroke-width=".25">2</text>
<line x1="597.2" y1="345.3" x2="601.5" y2="345.3" stroke="#231f20" stroke-width="1.2"/>
<text x="590.36" y="348.63" font-size="9.3" stroke="#231f20" stroke-width=".25">3</text>
<line x1="597.2" y1="321" x2="601.5" y2="321" stroke="#231f20" stroke-width="1.2"/>
<text x="590.08" y="324.33" font-size="9.3" stroke="#231f20" stroke-width=".25">4</text>
<rect x="608.9" y="416.57" width="13.4" height="1.63" fill="#f1e97f" stroke="#111" stroke-width="1.6"/>
<path d="M615.6 414.56V416.99M611.92 414.56h7.37M611.92 416.99h7.37" fill="none" stroke="#111" stroke-width="1"/>
<circle cx="610.6" cy="416.26" r="2.2"/>
<circle cx="615.6" cy="414.07" r="2.2"/>
<circle cx="620.6" cy="415.77" r="2.2"/>
<rect x="630.2" y="370.4" width="13.4" height="47.8" fill="#62cbf0" stroke="#111" stroke-width="1.6"/>
<path d="M636.9 368.63V370.33M633.22 368.63h7.37M633.22 370.33h7.37" fill="none" stroke="#111" stroke-width="1"/>
<circle cx="631.9" cy="369.6" r="2.2"/>
<circle cx="636.9" cy="368.87" r="2.2"/>
<circle cx="641.9" cy="369.36" r="2.2"/>
<rect x="651.3" y="359.46" width="13.4" height="58.74" fill="#da86b9" stroke="#111" stroke-width="1.6"/>
<path d="M658 352.1V364.74M654.32 352.1h7.37M654.32 364.74h7.37" fill="none" stroke="#111" stroke-width="1"/>
<circle cx="658" cy="351.38" r="2.2"/>
<circle cx="653" cy="362.31" r="2.2"/>
<circle cx="663" cy="361.09" r="2.2"/>
<rect x="672" y="357.76" width="13.4" height="60.44" fill="#c4dd87" stroke="#111" stroke-width="1.6"/>
<path d="M678.7 353.81V358.66M675.02 353.81h7.37M675.02 358.66h7.37" fill="none" stroke="#111" stroke-width="1"/>
<circle cx="673.7" cy="356.96" r="2.2"/>
<circle cx="678.7" cy="353.08" r="2.2"/>
<circle cx="683.7" cy="356.24" r="2.2"/>
<rect x="693" y="337.59" width="13.4" height="80.61" fill="#f8c67c" stroke="#111" stroke-width="1.6"/>
<path d="M699.7 331.94V341.65M696.02 331.94h7.37M696.02 341.65h7.37" fill="none" stroke="#111" stroke-width="1"/>
<circle cx="694.7" cy="333.64" r="2.2"/>
<circle cx="699.7" cy="342.87" r="2.2"/>
<circle cx="704.7" cy="334.37" r="2.2"/>
<line x1="615.6" y1="418.2" x2="615.6" y2="422.5" stroke="#231f20" stroke-width="1.2"/>
<line x1="636.9" y1="418.2" x2="636.9" y2="422.5" stroke="#231f20" stroke-width="1.2"/>
<line x1="658" y1="418.2" x2="658" y2="422.5" stroke="#231f20" stroke-width="1.2"/>
<line x1="678.7" y1="418.2" x2="678.7" y2="422.5" stroke="#231f20" stroke-width="1.2"/>
<line x1="699.7" y1="418.2" x2="699.7" y2="422.5" stroke="#231f20" stroke-width="1.2"/>
<text x="574.91" y="432" font-size="9.25" stroke="#231f20" stroke-width=".25">NHEJi</text>
<path d="M614.1 429.5h3" fill="none" stroke="#222" stroke-width="1.05"/>
<path d="M634.1 429.5h5.6M636.9 426.7v5.6" fill="none" stroke="#222" stroke-width="1.05"/>
<path d="M655.2 429.5h5.6M658 426.7v5.6" fill="none" stroke="#222" stroke-width="1.05"/>
<path d="M675.9 429.5h5.6M678.7 426.7v5.6" fill="none" stroke="#222" stroke-width="1.05"/>
<path d="M696.9 429.5h5.6M699.7 426.7v5.6" fill="none" stroke="#222" stroke-width="1.05"/>
<text x="567.34" y="443.9" font-size="9.25" stroke="#231f20" stroke-width=".25">ART558</text>
<path d="M614.1 441.3h3" fill="none" stroke="#222" stroke-width="1.05"/>
<path d="M635.4 441.3h3" fill="none" stroke="#222" stroke-width="1.05"/>
<path d="M655.2 441.3h5.6M658 438.5v5.6" fill="none" stroke="#222" stroke-width="1.05"/>
<path d="M677.2 441.3h3" fill="none" stroke="#222" stroke-width="1.05"/>
<path d="M696.9 441.3h5.6M699.7 438.5v5.6" fill="none" stroke="#222" stroke-width="1.05"/>
<text x="579.22" y="456.1" font-size="9.25" stroke="#231f20" stroke-width=".25">D-I03</text>
<path d="M614.1 453.2h3" fill="none" stroke="#222" stroke-width="1.05"/>
<path d="M635.4 453.2h3" fill="none" stroke="#222" stroke-width="1.05"/>
<path d="M656.5 453.2h3" fill="none" stroke="#222" stroke-width="1.05"/>
<path d="M675.9 453.2h5.6M678.7 450.4v5.6" fill="none" stroke="#222" stroke-width="1.05"/>
<path d="M696.9 453.2h5.6M699.7 450.4v5.6" fill="none" stroke="#222" stroke-width="1.05"/>
<path d="M636.3 346.6V343.3H657.6V346.6" fill="none" stroke="#777" stroke-width=".85"/>
<text x="644.98" y="343.84" font-size="10.1" fill="#2a2a2a">*</text>
<path d="M636.3 336.5V333.4H678.9V336.5" fill="none" stroke="#777" stroke-width=".85"/>
<text x="655.63" y="334.94" font-size="10.1" fill="#2a2a2a">*</text>
<path d="M657.6 326.2V322.1H699.6V326.2" fill="none" stroke="#777" stroke-width=".85"/>
<text x="672.18" y="324.04" font-size="10.1" fill="#2a2a2a">*</text>
<text x="676.63" y="324.04" font-size="10.1" fill="#2a2a2a">*</text>
<text x="681.08" y="324.04" font-size="10.1" fill="#2a2a2a">*</text>
<path d="M678.9 315V311.4H699.6V315" fill="none" stroke="#777" stroke-width=".85"/>
<text x="682.83" y="313.14" font-size="10.1" fill="#2a2a2a">*</text>
<text x="687.28" y="313.14" font-size="10.1" fill="#2a2a2a">*</text>
<text x="691.73" y="313.14" font-size="10.1" fill="#2a2a2a">*</text>
<text x="-.94" y="521.5" font-size="24" stroke="#231f20" stroke-width=".25">e</text>
<rect x="29.6" y="524.9" width="68.8" height="14.1" fill="#fff" stroke="#7a7a7a" stroke-width="1.3"/>
<text x="32.73" y="535.8" font-size="13" fill="#c51a35" stroke="#c51a35" stroke-width=".25">HNRNPA1</text>
<line x1="38.8" y1="550.8" x2="398.1" y2="550.8" stroke="#231f20" stroke-width="1.3"/>
<text x="200.13" y="548.4" font-size="11.5" stroke="#231f20" stroke-width=".25">NHEJi</text>
<text x="77.19" y="568" font-size="11.8" stroke="#231f20" stroke-width=".25">siNC</text>
<text x="195.38" y="567.7" font-size="11.9" stroke="#231f20" stroke-width=".25">siPOLQ</text>
<text x="323.88" y="568.1" font-size="11.9" stroke="#231f20" stroke-width=".25">siRad52</text>
<line x1="24.2" y1="569" x2="24.2" y2="699.1" stroke="#999" stroke-width="1"/>
<path d="M24.2 566.6L22.8 571.2L25.6 571.2Z" fill="#333"/>
<line x1="23.7" y1="699.1" x2="403" y2="699.1" stroke="#999" stroke-width="1"/>
<path d="M405.6 699.1L401 697.7L401 700.5Z" fill="#333"/>
<text transform="translate(17.2 632.6) rotate(-90)" x="-57.15" y="4.15" font-size="11.6" stroke="#231f20" stroke-width=".25">PE-CF594 (mScarlet)</text>
<text x="166.81" y="711.7" font-size="11.8" stroke="#231f20" stroke-width=".25">Alexa  488 (mNG)</text>
<path d="M75.73 597.23h.6M82.32 592.51h.6M81.65 586.64h.6M73.03 593.05h.6M74.08 609.11h.6M72.94 600.06h.6M75.28 590.71h.6M79.27 585.86h.6M66.39 595.77h.6M83.35 590.5h.6M75.08 604.44h.6M78.94 597.81h.6M74.88 597.54h.6M73.68 592.88h.6M77.86 591.38h.6M79.66 593.9h.6M74.56 600.22h.6M74.8 595.18h.6M78.97 589.32h.6M71.24 600.09h.6M68.04 592.92h.6M77.53 591.13h.6M72.23 586.41h.6M66.02 587.9h.6M71.52 587.44h.6M69.64 598.38h.6M68.15 595.4h.6M75.75 590.23h.6M80.02 598.57h.6M74.4 594.55h.6M71.87 594.11h.6M77.48 575.27h.6M79.13 590.11h.6M74.07 595.17h.6M78.27 602.3h.6M80.74 603.83h.6M74.54 601.08h.6M71.52 583.96h.6M77.29 577.1h.6M76.79 595.42h.6M81.02 591.83h.6M69.18 598.02h.6M72.28 590.81h.6M71.4 593.1h.6M66.95 581.72h.6M76.19 594.61h.6M78.19 588.7h.6M71.89 593.96h.6M82.45 594.69h.6M79.65 590.87h.6M78.68 593.74h.6M77.56 591.56h.6M80.31 596.67h.6M68.95 594.97h.6M78.61 588.03h.6M78.56 587.76h.6M66.78 603.19h.6M77.29 590.98h.6M74.32 598.21h.6M79.45 594.25h.6M73.38 587.91h.6M75.47 586.69h.6M77.27 592.44h.6M71.21 593.35h.6M78.54 595.71h.6M75.04 583.26h.6M78.01 587.71h.6M72.97 591.02h.6M80.96 602.24h.6M78.57 576.03h.6M74.68 594.55h.6M78.7 588.07h.6M81.82 594.5h.6M84.46 588.39h.6M67.75 594.06h.6M79.95 602h.6M77.87 593.99h.6M75.1 594.52h.6M70.56 594.12h.6M81.81 586.68h.6M69.29 595.24h.6M78.38 590.27h.6M82.03 586.28h.6M67.62 591.39h.6M74.06 590.14h.6M69.06 596.63h.6M76.78 591.36h.6M83.09 588.14h.6M85.62 601.28h.6M66.73 598.19h.6M72.71 600.05h.6M79.06 595.67h.6M83.41 590.92h.6M77.66 588.87h.6M71.86 589.8h.6M77.04 597.92h.6M75.48 592.39h.6M74.55 581.83h.6M71.91 591.39h.6M77.49 582.28h.6M77.09 592.75h.6M75.1 583.68h.6M74.46 583.28h.6M69.18 592.43h.6M73.15 591.13h.6M81.56 580.65h.6M74.62 596.6h.6M68.41 605.96h.6M82.19 581.84h.6M78.2 603.69h.6M86.04 587.1h.6M75.87 588.38h.6M73.27 590.46h.6M68.37 582.08h.6M82.14 600.25h.6M88.33 594.91h.6M71.48 586.67h.6M72.35 589.81h.6M78.53 581.61h.6M71.44 589.35h.6M74.22 597.84h.6M73.83 580.3h.6M76.52 588.76h.6M81 592.62h.6M75.67 598.59h.6M80.13 600.58h.6M73.48 588.62h.6M77.19 586.75h.6M64.94 594.63h.6M68.36 589.24h.6M79.52 589.6h.6M72.63 598.8h.6M78.44 602.83h.6M78.26 593.41h.6M82.13 590.38h.6M79.6 595.43h.6M80.62 579.16h.6M75.01 591.53h.6M72.09 584.63h.6M71.93 607.46h.6M73.14 596.41h.6M69.95 592.58h.6M72.84 590.36h.6M75.1 575h.6M76.81 596.37h.6M73.88 602.43h.6M66.01 586.82h.6M75.2 596.17h.6M76.68 596.43h.6M80.95 581.4h.6M78.43 597.84h.6M72.37 600.61h.6M71.97 593.16h.6M85.55 591.23h.6M79.32 596.86h.6M84.66 581.45h.6M86.14 592.27h.6M71.5 598.63h.6M77.48 583.43h.6M77.84 598.22h.6M78.34 588.88h.6M78.26 577.88h.6M76.57 590.95h.6M76.43 585.22h.6M68.1 593.76h.6M74.74 583.89h.6M71.85 598.6h.6M76.19 586.76h.6M73.24 594.01h.6M78.64 587.72h.6M79.63 589.51h.6M77.1 599.54h.6M77.13 593.07h.6M76.02 589.03h.6M73.34 583.37h.6M74.75 599.32h.6M73.1 596.5h.6M77.49 589.49h.6M75.63 593.26h.6M78.45 584.83h.6M68.96 584.93h.6M79.97 586.18h.6M71.77 593.99h.6M71.92 593.61h.6M74.58 586.72h.6M72.76 596.53h.6M77.01 596.84h.6M72.71 592.79h.6M70.25 598.52h.6M71.36 589.75h.6M82.08 590.9h.6M75.78 594.78h.6M69.76 591.42h.6M75.6 596.9h.6M67.83 583.36h.6M84.45 601.08h.6M67.99 586.48h.6M77.94 590.56h.6M78.26 582.53h.6M68.36 595.62h.6M77.05 600.08h.6M80.52 598.74h.6M77.89 597.16h.6M76.86 581.34h.6M80.28 586.47h.6M76.36 588.59h.6M77.23 585.46h.6M74.93 599.08h.6M78.7 592.87h.6M70.89 591.49h.6M79.5 594.87h.6M73.05 585.35h.6M70.14 585.64h.6M77.38 585.81h.6M83.97 594.94h.6M80.34 593.91h.6M73 595.47h.6M79.03 598.78h.6M73.31 582.67h.6M74.95 587.94h.6M76.01 592.62h.6M64.05 582.72h.6M76.52 588.13h.6M70.45 598.36h.6M72.1 598.95h.6M68.24 598.77h.6M68.03 591.93h.6M70.88 590.25h.6M79.66 598.79h.6M83.84 589.18h.6M75.44 593.89h.6M80.99 600.42h.6M74.25 589.22h.6M66.06 587.61h.6M76.31 591.59h.6M77.78 595.61h.6M73.43 594.84h.6M77.06 592.68h.6M78.41 595.33h.6M71.27 581.06h.6M68.23 585.96h.6M74.46 592.73h.6M74.51 585.5h.6M73.81 582.77h.6M80.47 583.65h.6M84.14 585.57h.6M73.49 590.47h.6M79.04 584.88h.6M80.24 593.2h.6M79.11 602.87h.6M80.77 590.67h.6M73.63 600.08h.6M79.24 593.56h.6M85.62 584.24h.6M79.56 589.95h.6M72.48 585.15h.6M78.58 596.73h.6M81.83 584.02h.6M77.4 600.4h.6M72.76 595.47h.6M83.23 578.26h.6M69.35 596.84h.6M78.06 601.93h.6M75.48 586.42h.6M69.63 598.17h.6M81.62 579.75h.6M77.29 593.32h.6M69.77 580.65h.6M78.55 594.84h.6M73.42 579.82h.6M72.14 594.27h.6M76.87 606.79h.6M78.72 587.71h.6M76.39 597.14h.6M75.79 592.38h.6M77.9 589.51h.6M74.52 595.72h.6M81.41 602.52h.6M76.3 583.47h.6M77.02 595.38h.6M78.25 593.93h.6M70.31 582.22h.6M72.04 602.33h.6M83.16 604.55h.6M77.23 585.34h.6M74.16 603.15h.6M77.26 592.02h.6M73.17 590.57h.6M76.95 601.6h.6M72.26 593.15h.6M76.93 593.79h.6M67.73 601.69h.6M82.18 600.17h.6M73.01 597.56h.6M67.71 582.38h.6M74.45 581.24h.6M73.72 599.1h.6M76.32 585.51h.6M69.87 592.63h.6M77.54 584.54h.6M93.57 590.43h.6M69.21 583.19h.6M77.24 602.44h.6M74.02 584.9h.6M76.52 590.84h.6M66.56 590.4h.6M69.84 599.63h.6M77.85 582.25h.6M75.37 591.43h.6M83.69 590.26h.6M72.06 595.16h.6M76.43 594.77h.6M90.04 588.58h.6M71.76 593.23h.6M71.07 589.17h.6M75.39 594.75h.6M75.34 590.97h.6" stroke="#e36aa9" stroke-width=".6"/>
<path d="M69.44 619.81h.6M74.99 596.7h.6M78.44 599.27h.6M95.24 608.73h.6M70.89 616.54h.6M77.94 599.86h.6M88.15 600.46h.6M56.88 597.16h.6M59.84 581.43h.6M64.73 609.62h.6M74.22 593h.6M96.78 575.21h.6M78.69 594.31h.6M85.9 575.11h.6M73.27 583.87h.6M53.47 596.32h.6M54.8 584.93h.6M84.23 609.11h.6M76.86 578.3h.6M63.76 599.33h.6M85.1 602.91h.6M61.64 613.86h.6M85.25 607.34h.6M88.05 598.99h.6M68.48 597.14h.6M65.45 595.45h.6M82.69 609.98h.6M65.56 588.2h.6M82.84 602.49h.6M64.68 595.04h.6M82.36 599.1h.6M76.06 593h.6M71.41 622.09h.6M67.32 588.21h.6M77.33 599.26h.6M58.52 599.54h.6M72.79 603.57h.6M71.73 601.66h.6M81.22 601.35h.6M64.16 608.11h.6M90.37 577.94h.6M72.48 596.32h.6M65.18 581.24h.6M87.47 599.03h.6M89.92 581.86h.6M73.57 584.56h.6M67.36 595.47h.6M75.37 613.15h.6M69.13 603.22h.6M72.48 599.81h.6M89 613.24h.6M78.69 584.75h.6M78.29 591.08h.6M74.72 592.85h.6M82.66 611.2h.6M83 622.18h.6M71.97 580.09h.6M76.16 626.28h.6M96.55 615.21h.6M78.96 606.4h.6M73.59 600.69h.6M93.33 625.66h.6M75.32 597.21h.6M65.54 590.48h.6M81.19 597.92h.6M67.28 579.62h.6M70.84 601.96h.6M78.11 594.9h.6M74.11 600.24h.6M68.49 600.6h.6M70.37 583.38h.6M69.99 612.2h.6M85.53 583.92h.6M68.86 607.01h.6M70.18 576.9h.6M93.23 600.74h.6M70.34 586.29h.6M88.39 596.75h.6M86.85 588.33h.6M62.7 582.72h.6M79.23 597.08h.6M81.17 603.81h.6M83.78 578.42h.6M85.87 585.66h.6M87.51 593.68h.6M65.92 588.56h.6M87.86 586.42h.6M76.77 606.57h.6M70.24 607.97h.6M72.42 605.25h.6M91.81 584.87h.6M83.92 597.17h.6M59.43 593.9h.6M75.97 578.93h.6M74 606.95h.6M73.68 597.31h.6M70.7 590.36h.6M62.37 613.45h.6M82.84 605.51h.6M66.93 606.63h.6M71.96 610.81h.6M69.91 604.96h.6M68.8 580.89h.6M81.8 591.53h.6M78.62 608.41h.6M69.28 586.91h.6M66.89 596.69h.6M71.09 601.06h.6M83.77 613.73h.6M76.34 611.99h.6M77.29 607.14h.6M72.33 593.97h.6M72.95 607.33h.6M77.14 602.64h.6M58.95 594.26h.6M89.47 612.7h.6M68.28 602.22h.6M70.21 587.05h.6M87.05 611.58h.6M77.2 593.12h.6M75.6 603.42h.6M70.08 577.72h.6M61.44 595.97h.6M76.87 584.73h.6M85.79 584.4h.6M87.27 622.2h.6M65.28 594.37h.6M68.75 599.08h.6M79.7 609.63h.6M75.23 594.71h.6M81.33 602.41h.6M68.68 579.69h.6M66.12 598.56h.6M58.74 591.15h.6M64.6 602.25h.6M65.73 598.37h.6M62.63 579.36h.6M69.37 583.85h.6M57.67 605.11h.6M97.17 601.32h.6M67.86 601.05h.6M85.53 588.58h.6M65.06 592.11h.6M62.21 588.82h.6M66.4 600.44h.6M85.21 594.06h.6M72.48 581.74h.6M68.09 585.45h.6M74.98 597.86h.6M85.87 597h.6M62.96 595.21h.6M71.84 623.62h.6M63.01 592.92h.6M94.42 597.56h.6M91.29 584.02h.6M83.63 591.74h.6M74.05 602.45h.6M81.05 602.97h.6M56.67 594.18h.6M77.67 600.87h.6M63.43 596.75h.6M72.14 624.1h.6M80.3 606.14h.6M81.42 595.37h.6M77.55 574.97h.6M66.89 580.58h.6M81.2 612.51h.6M85.66 592.12h.6M67.13 606.6h.6M50.83 597.8h.6M71.02 605.22h.6M94.23 594.47h.6M79.37 625.1h.6M73.52 583.59h.6M83.04 579.53h.6M79.68 599.39h.6M79.31 613.41h.6M70.7 595.38h.6M75.9 608.79h.6M77.01 589.62h.6M69.56 581.68h.6M65.35 613.05h.6M76.46 615.09h.6M83.79 614.66h.6M80.95 590.74h.6M79.59 582.04h.6M79.69 581.87h.6M98.05 593.33h.6M77.53 603.13h.6M84.44 602.24h.6" stroke="#e36aa9" stroke-width=".6"/>
<path d="M71.82 613.91h.6M71.37 620.63h.6M76.66 622.3h.6M73.16 610.41h.6M76.19 620.98h.6M73.73 612.83h.6M78.93 618.22h.6M81.35 625.15h.6M74.59 618.62h.6M82.95 628.79h.6M79.63 625.67h.6M79.51 633.53h.6M79.74 624.56h.6M75.97 631.49h.6M77.13 623.71h.6M77.69 634.3h.6M79.99 627.04h.6M79.7 632.58h.6M72.55 620.02h.6M72.04 613.5h.6M77.89 627.2h.6M74.65 627.54h.6M73.89 620.23h.6M74.8 624.24h.6M68.22 618.91h.6M76.45 621.08h.6M74.75 628.91h.6M74.07 625.79h.6M76.2 623.13h.6M80.59 626.59h.6M72.59 623.9h.6M73.12 617.53h.6M73.59 615.75h.6M77.48 634.68h.6M74.8 621.2h.6M80.52 636.59h.6M73.31 619.04h.6M82.36 621.73h.6M74.82 620.27h.6M81.83 625.79h.6M74.22 612.13h.6M72.05 621.28h.6M75.83 620.52h.6M77.2 622.78h.6M74.01 626.91h.6M75.32 617.92h.6M74.78 613.45h.6M73.01 607.55h.6M68.55 618.08h.6M72.06 619.99h.6M71.75 613.56h.6M80.09 622.56h.6M70.98 610.66h.6M78.56 615.15h.6M75.11 631.01h.6M78.65 617.74h.6M67.42 610.32h.6M80.36 615.96h.6M70.05 621.02h.6M71.34 618.6h.6M82.79 624.25h.6M76.12 621.98h.6M72.52 634.27h.6M73.28 633.22h.6M82.8 628.19h.6M78.04 625.97h.6M80.1 622.81h.6M80.24 627.16h.6M79.18 630.02h.6M69.79 630.84h.6M75.99 628.79h.6M76.69 625.07h.6M77.99 629.81h.6M71.96 619.11h.6M74.91 633.19h.6M78.1 618.5h.6M70.6 628.5h.6M78.68 618.21h.6M77.89 630.46h.6M72.16 615.25h.6M67.89 618.38h.6M77.8 628.39h.6M74.56 624.79h.6M69.06 612.32h.6M73.09 624.31h.6M70.28 619.89h.6M70.14 615.91h.6M74.78 625.33h.6M74.84 632.07h.6M70.64 616.48h.6M75.78 624.51h.6M68.15 612.87h.6M81.24 615.04h.6M80.07 628.73h.6M74.33 638.36h.6M73.03 619.82h.6M79.24 630.36h.6M76.75 636.1h.6M70.16 617.74h.6M75.7 614.68h.6M71.5 618.7h.6M77.51 631.6h.6M74.74 617.73h.6M73.5 612.73h.6M70.37 620.1h.6M79.66 621.67h.6M76.84 622.87h.6M71.31 614.55h.6M79.73 620.2h.6M82.62 629.63h.6M73 622.75h.6M77.13 631.96h.6M75.7 621.72h.6M75.31 625.61h.6M80.08 627.38h.6M64.74 628.61h.6M76.84 613.3h.6M77.47 624.66h.6M80.17 618.69h.6M78.71 632.47h.6" stroke="#e36aa9" stroke-width=".6"/>
<path d="M117.93 583.42h.6M107.54 598.11h.6M111.05 592.5h.6M118.32 587.26h.6M110.35 590.7h.6M113.68 590.23h.6M110.75 592.8h.6M115.69 589.33h.6M112.53 592.4h.6M112.47 588.58h.6M106.21 596.88h.6M104.52 599.91h.6M114.12 590.08h.6M117.86 583.45h.6M121.21 582.2h.6M119.1 583.82h.6M112.79 588.72h.6M116.85 586.09h.6M115.74 588.25h.6M117.44 588.09h.6M121.84 580.27h.6M110.26 593.01h.6M112.56 591.97h.6M119.41 587.39h.6M111.81 592.29h.6M105 597.19h.6M120.64 583.66h.6M104.72 596.81h.6M119.22 583.49h.6M120.9 582.89h.6M106.55 596.61h.6M117.72 584.83h.6M111.03 594.11h.6M107.14 593.29h.6M122.06 582.13h.6M120.59 583.33h.6M116.91 584.89h.6M112.81 589.51h.6M122.21 583.24h.6M114.2 589.93h.6M123.06 582.49h.6M115.78 585.33h.6M106.15 597.51h.6M118.3 586.55h.6M118.09 584.84h.6M119.8 582.32h.6M115.1 587.85h.6M106.19 598.21h.6M118.12 583.28h.6M111.78 590.28h.6" stroke="#f4925e" stroke-width=".6"/>
<path d="M125.33 642.01h.6M119.09 642.1h.6M111.71 654.93h.6M98.81 658.92h.6M108.1 666.42h.6M113.54 659.78h.6M121.74 643.45h.6M110.13 651.96h.6M124.01 637.67h.6M114.93 656.15h.6M106.64 652.85h.6M87.43 644.31h.6M102.62 648.77h.6M99.66 647.49h.6M112.23 644.08h.6M116.79 661.35h.6M126.72 677.1h.6M113.56 656.97h.6M102.82 659.04h.6M135.77 651.12h.6M116.62 646.62h.6M111.24 669.08h.6M111.25 646.48h.6M101.03 653.21h.6M119.69 648.66h.6M117.24 654.93h.6M128.65 649.28h.6M124.09 654.95h.6M121.9 638.54h.6M125.57 648.82h.6M111.1 661.8h.6M109.62 640.59h.6M113.32 643.82h.6M102.1 661.81h.6M112.46 653.28h.6M110.72 659.14h.6M120.1 629.96h.6M113.7 650.99h.6M95.93 638.45h.6M114.14 637.42h.6M127.15 653.33h.6M96.64 660.15h.6M106.75 636.48h.6M114.04 639.91h.6M101.45 644.53h.6M108.75 648.57h.6M114.43 637.93h.6M101.53 669.65h.6M116.69 654.87h.6M117.77 646.49h.6M102.04 645.08h.6M114.2 670.21h.6M124.09 669.47h.6M112.32 645.32h.6M118.06 652.72h.6M120.02 660.78h.6M111.79 639.15h.6M123.22 644.43h.6M117.62 661.57h.6M104.72 643.47h.6M118.93 645.78h.6M122.15 637.67h.6M121.6 642.85h.6M108.01 655.65h.6M118.38 642.28h.6M126.96 637.99h.6M116.25 643.98h.6M125.21 665.24h.6M126.31 651.1h.6M113.78 644.55h.6M120.33 650.87h.6M111.41 653.43h.6M124.17 650.57h.6M113.3 633.46h.6M109 652.13h.6M113.92 647.57h.6M113.49 656.94h.6M117.76 637.45h.6M118.55 658.75h.6M103.26 645.04h.6M108.08 634.27h.6M117.58 661.23h.6M118.72 644.83h.6M115.02 652.72h.6M138.94 647.96h.6M124.74 659.1h.6M113.54 659.2h.6M121.1 659.28h.6M126.84 655.72h.6M117.72 635.02h.6M97.93 634.42h.6M115.23 651.13h.6M114.81 640.87h.6M134.36 653.49h.6M97.12 650.81h.6M128.89 636.76h.6M112.92 640.11h.6M123.14 639.24h.6M111.67 641.43h.6M116.07 647.48h.6M125.06 655.38h.6M115.24 661.23h.6M124.35 640.68h.6M113.71 644.3h.6M110.63 663.15h.6M112.43 657.28h.6M109.77 651.4h.6M113.37 628.42h.6M127.29 640.35h.6M103.53 650.72h.6M98.94 644.06h.6M114.36 667.03h.6M130.35 650.12h.6M124.37 651.83h.6M126.96 639.52h.6M126.3 640.01h.6M107.73 643.37h.6M115.69 643.73h.6M89.62 647.22h.6M108.87 652.64h.6M120.3 651.42h.6M100 658.23h.6M95.27 637.25h.6M102.43 651.18h.6M116.69 651.44h.6M125.6 663.46h.6M138.94 647.36h.6M128.11 652.21h.6M100.47 642.03h.6M92.93 653.07h.6M116.13 652.85h.6M124.69 643.7h.6M99.58 645.39h.6M109.88 649.02h.6M110.58 654.47h.6M115.14 639.05h.6M113.16 657.19h.6M119.71 646.34h.6M124.81 666.24h.6M115.58 662.33h.6M121.97 645.7h.6M133.65 643.72h.6M105.37 671.23h.6M105.14 654.92h.6M119.77 654.37h.6M132.39 645.53h.6M116.59 648.15h.6M125.29 656.49h.6M112.16 654.8h.6M123.66 641.93h.6M109.2 660.4h.6M121.43 652.06h.6M118.83 640.83h.6M118.84 658.19h.6M128.07 647.75h.6M125.2 656.3h.6M109.58 644.38h.6M123.53 652.55h.6M99.3 634.84h.6M124.54 652.64h.6M141.09 635.77h.6M120.29 650.77h.6M120.1 626.72h.6M115.95 648.75h.6M123.19 655.76h.6M111.17 653.64h.6M121.73 659.98h.6M112.91 639.75h.6M111.5 663.29h.6M116.67 663.62h.6M114.96 638.62h.6M99.25 642.23h.6M135.04 644.22h.6M116.88 649.11h.6M99.66 650.97h.6M125.69 627.33h.6M115.32 654.6h.6M117.51 647.04h.6M122.23 640.24h.6M107.2 657.77h.6M87.97 646.24h.6M114.66 659.42h.6M117.87 654.05h.6M125.01 646.45h.6M108.5 659.74h.6M113.1 656.48h.6M119.35 644.8h.6M112.63 634.94h.6M113.26 644.43h.6M117.99 654.79h.6M106.25 647.17h.6M130.46 664.99h.6M106.94 651.61h.6M115.93 651.02h.6M112.5 652.88h.6M108.95 641.43h.6M120.61 648.2h.6M125.07 643.41h.6M129.24 628.39h.6M121.04 633.46h.6M111.37 655.85h.6M123.67 645.34h.6M102.01 648.2h.6M116.02 636.14h.6M120.46 644.05h.6M120.84 656.25h.6M104.73 650.15h.6M101.46 644.67h.6M131.1 662.9h.6M110.69 648.75h.6M100.02 646.17h.6M103.83 659.47h.6M115.57 633.85h.6M126.5 654.19h.6M115.38 639.37h.6M126.66 642.27h.6M117.5 643.2h.6M119.79 650.43h.6M124.58 650.24h.6M111.8 651.98h.6M118.1 651.14h.6M111.66 661.75h.6M109.31 664.32h.6M121.44 655.59h.6M107.56 656.02h.6M116 645.95h.6M107.82 639.51h.6M114.39 654.55h.6M110.26 649.61h.6M125.46 656.92h.6M115.92 633.06h.6M115.88 673.11h.6M130.6 637.99h.6M87.94 649.61h.6M104.59 658.11h.6M89.32 637h.6M114.93 644.38h.6M119.09 631.34h.6M120.99 636.58h.6M117.45 632.07h.6M106.73 650.23h.6M131.34 651.92h.6M117.74 646.49h.6M112.41 660.54h.6M104.32 661.66h.6M118.77 649.25h.6M110.2 647.35h.6M110.57 646.88h.6M116.72 645.29h.6M116.81 660.93h.6M107.04 651.43h.6M126.5 646.37h.6M105.32 647.3h.6M104.23 654.18h.6M117.59 645.79h.6M115.89 652.12h.6M115.34 649.01h.6M110.81 661.38h.6M115.06 659.64h.6M109.37 636.74h.6M99.17 647.91h.6M121.54 655.67h.6M105.12 645.35h.6M112.48 656.55h.6M121.48 652.33h.6M114.84 654.62h.6M140.35 648.79h.6M101.48 652.05h.6M107.58 654.01h.6M115.43 636.28h.6M127.32 641.21h.6M112.25 640.31h.6M101.15 664.31h.6M125.3 652.05h.6M105.92 652.67h.6M112.7 650.9h.6M122.83 644.75h.6M108.27 642.74h.6M110.31 656.9h.6M119.12 646.05h.6M112.62 663.39h.6M117.22 651.11h.6M105.64 650.18h.6M113.4 647.42h.6M104.27 648.72h.6M99.89 649.68h.6M130.97 662.88h.6M118.76 670.11h.6M123.09 639.14h.6M105.4 651.65h.6M114.21 655.67h.6M112.55 641.38h.6M101.14 643.77h.6M119.6 645.33h.6M107.7 628.05h.6M112.57 655.16h.6M100.23 648.99h.6M123.78 648.57h.6M121.59 650.13h.6M118.15 651.61h.6M105.93 669.92h.6M109.41 651.01h.6M125.93 656.8h.6M111.87 644.8h.6M116.97 652.54h.6M115.78 646.63h.6M103.97 648.1h.6M128.77 641.42h.6M95.85 642.19h.6M116.56 653.47h.6M113.64 656.04h.6M99.28 653.51h.6M117.58 643.49h.6M119.34 652.24h.6M114.95 626.99h.6M106.69 657.8h.6M118.68 649.11h.6M124.92 651.86h.6M116.54 659.77h.6M130.64 645.73h.6M122.53 657.96h.6M121.69 645.59h.6M127.51 654.31h.6M108.26 645.89h.6M109.58 652.19h.6M119.31 662.35h.6M119.34 643.75h.6M128.63 644.11h.6M125.22 646.63h.6M116.13 652.19h.6M116.54 673.87h.6M111.91 644.42h.6M111.08 631.48h.6M110.28 643.77h.6M123.01 635.55h.6M110.12 644.61h.6M111.22 649.72h.6M116.05 641.09h.6M109.76 643.55h.6M112.44 633.05h.6M94.11 651.19h.6M118.12 642.97h.6M111.77 659.21h.6M116.46 658.9h.6M118.14 641.91h.6M97.3 646.33h.6M137.3 650.09h.6M116.32 656.33h.6M116.58 634.83h.6M98.24 649h.6M120.92 666.12h.6M119.04 648.86h.6M111.88 651.61h.6M117.66 649.66h.6M127.46 639.11h.6M112.36 658.08h.6M107.09 652.05h.6M128.13 651.13h.6M118.18 656.11h.6M114.07 656.65h.6M137.35 632.93h.6M117.28 653.96h.6M114.17 644.55h.6M118.3 651.12h.6M112.04 643.4h.6M117.81 642.06h.6M117.19 658.15h.6M109.63 649.67h.6M113.33 647.25h.6M118.66 647.21h.6M119.33 650.48h.6M121.19 649.63h.6M123.08 628.85h.6M118.03 642.08h.6M120.53 647.71h.6M112.1 656.41h.6M113.24 661.87h.6M125.37 641.58h.6M97.07 666.99h.6M119.06 650.71h.6M145.22 654.21h.6M98.15 645.18h.6M129.56 644.57h.6M98.96 662.64h.6M118.79 648.02h.6M130.57 649.06h.6M129.23 660.22h.6M106.72 665.23h.6M102.98 636.75h.6M101.65 648.35h.6M121.82 649.93h.6M111.39 666.08h.6M115.08 671.86h.6M117.42 649.62h.6M118.82 653.38h.6M119.97 657.75h.6M116.09 660.29h.6M99.84 647.3h.6M128.56 657.72h.6M89.11 643.97h.6M126.47 626.5h.6M109.2 637.97h.6M112.99 652.09h.6M109.94 657.13h.6M111.36 630.23h.6M114.62 634.25h.6M112.18 649.97h.6M104.5 620.38h.6M122.77 655.22h.6M109.35 659.44h.6M127.39 623.95h.6M113.35 657.12h.6M108.16 648.65h.6M118.88 662.91h.6M123.11 652.88h.6M106.11 648.29h.6M112.11 651.48h.6M128.17 658.75h.6M105.4 652.14h.6M106.8 650.83h.6M116.34 637.72h.6M103.37 654.77h.6M91.65 650.78h.6M99.12 666.79h.6M118.28 650.42h.6M120.92 649.78h.6M120.33 645.01h.6M118.44 656.96h.6M103.2 648.76h.6M121.13 644.34h.6M125.58 664.76h.6M108.23 666.35h.6M123.62 646.59h.6M111.33 641.54h.6M116.56 660.59h.6M118.23 643.22h.6M100.84 675.61h.6M128.54 649.43h.6M106.76 659.16h.6M113.84 639.15h.6M110.16 650.33h.6M119.09 660.33h.6M118.85 654.55h.6M115 645.9h.6M128.07 672.39h.6M117.45 657.21h.6M111.06 648.64h.6M87.78 645.32h.6M112.16 648.29h.6M112.08 662.65h.6" stroke="#56bb69" stroke-width=".6"/>
<path d="M72.36 655.61h.7M74.81 668.55h.7M86.5 643.41h.7M82.93 640.8h.7M70.59 658.93h.7M62.09 664.14h.7M71.3 660.17h.7M78.11 645.31h.7M54.66 673.33h.7M68.26 662.48h.7M82.95 649.19h.7M79.47 651.04h.7M84.38 643.88h.7M62.8 666.58h.7M76.8 638.01h.7M66.08 661.39h.7M81.75 642.51h.7M75.6 654.07h.7M83.29 651.04h.7M68.34 664.25h.7M70.73 646.88h.7M64.21 664.74h.7M80.92 643.34h.7M75.91 654.76h.7M78.74 646.8h.7M66.93 650h.7M85.36 635.65h.7M65.87 660.64h.7M79.15 637.32h.7M62.87 665.43h.7M68.1 658.16h.7M84.23 645.69h.7M65.88 661.83h.7M64.34 660.6h.7M87.24 636.3h.7M83.39 641.5h.7M84.32 645h.7M82.99 637.83h.7M49.76 671.54h.7M74.65 668.65h.7M56.43 677.15h.7M83.31 641.69h.7M84.69 652.93h.7M61.35 661.06h.7M74.93 647.2h.7M64.12 661.91h.7M69.12 661.54h.7M77.78 645.7h.7M63.48 669.78h.7M72.41 652.54h.7M74.33 660.16h.7M65.93 665.16h.7M69.72 648.19h.7M76.16 649.9h.7M53.14 672.13h.7M78.56 646.44h.7M85.42 638.89h.7M67.73 673.07h.7M69.11 657.1h.7M58.63 661.53h.7M65.19 663.87h.7M64.31 657.16h.7M63.02 675.51h.7M80.5 648.62h.7M84.5 647.99h.7M68 657.4h.7M85.7 634.72h.7M78.05 649.36h.7M57.57 664.36h.7M54.29 671.34h.7M68.71 654.36h.7M70.61 655.79h.7M74.43 643.87h.7M60.4 656.34h.7M76.02 658.77h.7M60.36 665.78h.7M62.34 665.48h.7M84.69 642.47h.7M59.75 672.04h.7M84.11 637.7h.7M70.7 653.88h.7M88.08 642.67h.7M88.78 639.8h.7M80.2 649.23h.7M86.52 645.46h.7M79.96 637.04h.7M84.7 640.34h.7M62.69 664.56h.7M55.49 663.84h.7M59.19 672.22h.7M70.72 660.58h.7M63.19 667.17h.7M70.94 646.05h.7M75.3 649.89h.7M80.87 645.53h.7M63.96 663.3h.7M63.54 666.92h.7M83.92 643.12h.7M85.13 646.32h.7M63.55 666.65h.7M80.12 661.22h.7M63.1 667.1h.7M78.38 649.06h.7M56.87 676.85h.7M62.64 665.96h.7M82.94 640.49h.7M88.13 640.88h.7M59.82 656.74h.7M79.85 637.65h.7M82.32 654.54h.7M79.64 650.08h.7M82.05 645.85h.7M71.55 657.61h.7M70.53 658.7h.7M58.94 665.36h.7M63.26 663.98h.7M84.79 635.76h.7M72.5 661.71h.7M76.83 653.12h.7M77.43 650.05h.7M83.3 643.47h.7M73.24 652.97h.7M63.71 658.14h.7M86.67 645.68h.7M57.39 675.84h.7M73.19 652.8h.7M72.72 658h.7M82.67 649.15h.7M82.49 648.87h.7M60.02 673.12h.7M59.63 674.34h.7M76.5 648.56h.7M82.8 649.47h.7M71.07 662.23h.7M64.61 669.68h.7M66.18 654.33h.7M81.44 647.28h.7M69.75 662.09h.7M77.15 653.77h.7M57.49 656.9h.7M64.25 653.12h.7M76.07 651.96h.7M76.79 644.41h.7M59.77 671.94h.7M86.23 637.65h.7M79.21 651.38h.7M85.78 636.37h.7M63.85 658.42h.7M79.45 649.08h.7M75.4 649.48h.7M71.48 648.9h.7M62.96 653.8h.7M85.07 657.35h.7M81.56 641.86h.7M77.16 647.56h.7M63.79 652.9h.7M79.14 641.44h.7M74.82 650.77h.7M79.6 647.71h.7M59.1 674.53h.7M68.51 654.69h.7M66.77 664.29h.7M75.7 657.59h.7M62.24 663.68h.7M52.14 678.52h.7M64.27 653.24h.7M53.87 672.74h.7M80.91 638.06h.7M71.84 659.37h.7M76.54 648.57h.7M88.4 642.15h.7M77.97 648.93h.7M62.69 670.79h.7M79.92 648.34h.7M77.43 649.68h.7M75.59 644.89h.7M79.34 655.99h.7M75.23 650.66h.7M64.31 652.96h.7M55.1 672.36h.7M55.02 669.49h.7M69.42 665.41h.7M66.27 668.24h.7M60.68 676.46h.7M86.74 648.35h.7M77.7 644.74h.7M69.87 646.59h.7M58.11 666.26h.7M67.97 662.43h.7M63.36 648.88h.7M67.33 656.94h.7M79.87 650.33h.7M78.44 642.91h.7M73.11 653.01h.7M60.29 663.64h.7M81 654.36h.7M83.07 652.66h.7M80.9 639.56h.7M56 669.63h.7M63.9 665.59h.7M85.75 641.69h.7M74.29 655.01h.7M64.48 668.15h.7M71.34 662.23h.7M61.9 674.04h.7M71.61 667.53h.7M82.34 643.88h.7M67.88 657.59h.7M55.97 674.32h.7M89.81 643.87h.7M86.05 642.47h.7M84.19 644.43h.7M74.36 661.29h.7M68.46 667.59h.7M75.4 666.44h.7M53.16 674.39h.7M74.43 654.09h.7M83.52 645.64h.7M63.24 671h.7M60.49 667.26h.7M58.57 662.02h.7M83.03 641.03h.7M63.62 661.51h.7M67.64 660.3h.7M73.2 661.15h.7M75.12 656.22h.7M77.67 642.78h.7M74.21 648.62h.7M81.21 645.5h.7M74.02 660.31h.7M63.91 664.93h.7M64.68 665.72h.7M76.87 641.74h.7M52.01 677.35h.7M82.71 638.92h.7M72.85 655.72h.7M75.19 650.03h.7M85.36 635.77h.7M68.85 652.51h.7M72.88 655.61h.7M79.75 642.65h.7M76.74 656.51h.7M78.73 648.02h.7M64.22 662.95h.7M85.22 643.63h.7M64.17 657.17h.7M78.01 653.38h.7M70.41 652.72h.7M66.33 666.45h.7M59.97 665.55h.7M52.95 673.42h.7M56.79 662.35h.7M67.99 660.21h.7M80.73 647.22h.7M77.59 641.22h.7M85.71 647.62h.7M58.93 670.65h.7M69.8 650.88h.7M79.89 657.3h.7M59.79 667.32h.7M62.14 674.81h.7M65.23 646.2h.7M81.03 656.98h.7M75.78 651.62h.7M83.9 640.7h.7M69.77 659.72h.7M57.02 666.32h.7M63.22 670.9h.7M68.02 662.53h.7M61.61 669.33h.7M86.08 635.88h.7M67.18 653.6h.7M60.48 670.83h.7M63.84 669.61h.7M80.65 645.32h.7M70.16 655.97h.7M79.49 643.3h.7M72.78 658.47h.7M75.17 660.13h.7M58.22 670.64h.7M81.47 639.6h.7M78.44 662.42h.7M56.08 665.07h.7M57.01 674.22h.7M82.71 641.6h.7M62.13 674h.7M74.02 651.73h.7M81.45 636.39h.7M76.96 643.02h.7M80.47 645.36h.7M66.63 661.26h.7M67.55 656.2h.7M61.91 663.66h.7M56.81 664.02h.7M56.63 664.77h.7M58.77 667.19h.7M70.01 653.16h.7M62.7 665.27h.7M56.67 666.62h.7M75.9 659.89h.7M52.68 668.95h.7M80.98 648.93h.7M80.81 647.35h.7M87.68 643.29h.7M72.79 662.68h.7M63.06 657.6h.7M79.67 647.77h.7M72.17 659.6h.7M68.83 664.72h.7M67.06 664.2h.7M56.74 670.3h.7M80.74 651.91h.7M66.83 660.61h.7M62 664.2h.7M69.58 659.22h.7M68.05 657.15h.7M76.62 645.94h.7M73.39 654.24h.7M83.55 656.45h.7M63.55 667.23h.7M73.41 654h.7M60.68 666.12h.7M77.64 650.43h.7M81.67 638.22h.7M73.02 656.96h.7M70.01 659.27h.7M71.48 656.39h.7M76.31 652.83h.7M57.34 671.7h.7M75.56 654.92h.7M76.94 652.41h.7M77.06 652.39h.7M61.66 667.63h.7M64.18 669.75h.7M84.96 638.79h.7M90.84 636.77h.7M72.73 653.68h.7M56.18 679.38h.7M66.61 663.27h.7M66.63 661.49h.7M69.34 652.34h.7M80.56 648.33h.7M73.72 655.35h.7M69.76 658.22h.7M65.93 665h.7M85.94 638.95h.7M84.19 636.75h.7M54.44 670.09h.7M82.42 645.91h.7M76.31 651.11h.7M88.25 642.2h.7M73.89 665.41h.7M88.79 638.08h.7M75 655.49h.7M67.42 664.22h.7M72.15 655.72h.7M60.03 665.86h.7M55.47 659.34h.7M74.07 657.43h.7M81.42 647h.7M57.7 672.53h.7M72.34 655.64h.7M73.99 658.81h.7M67.14 666.66h.7M74.9 652.92h.7M68.33 658.15h.7M78.54 650.79h.7M83.37 645.57h.7M76.43 663.55h.7M68.9 653.47h.7M62 670.08h.7M69.69 652.71h.7M55.65 672.48h.7M77.74 662.76h.7M81.19 642.14h.7M52.35 678.18h.7M83.51 638.81h.7M82.69 646.83h.7M76.23 647.81h.7M67.01 651.14h.7M65.23 664.24h.7M64.36 669.26h.7M80.86 644.42h.7M67.57 661.53h.7M73.88 648.95h.7M60.16 663.82h.7M69.04 658.81h.7M83.54 636.56h.7M71.6 653.02h.7M72.59 648.72h.7M62.34 665.35h.7M77.12 653.69h.7M71.65 655.39h.7M79.93 652.06h.7M67.42 662.9h.7M75.04 650.73h.7M83.13 637.8h.7M74.75 652.43h.7M74.34 645.81h.7M84.58 643.57h.7M57.43 664.75h.7M69.6 649.69h.7M56.59 668.84h.7M62.01 656.74h.7M71.03 656.89h.7M73.19 649.14h.7M68.86 656.01h.7M66.2 665.78h.7M59.05 657.03h.7M58.31 670.08h.7M86.08 639.61h.7M78.79 652.78h.7M66.59 662.36h.7M79.49 642.66h.7M59.2 675.15h.7M71.82 660.99h.7M78.63 660.54h.7M68.11 672.38h.7M64.94 662.26h.7M82.11 650.39h.7M81.06 645.25h.7M81.84 638.62h.7M86.31 640.91h.7M85.56 645.05h.7M62.02 652.55h.7M65.2 670.98h.7M68.92 653.7h.7M74.36 662.15h.7M75.9 651.76h.7M59.16 671.26h.7M82.41 650.13h.7M59.73 667.85h.7M66.46 673.7h.7M76.22 644.78h.7M67.62 656.61h.7M68.5 652.64h.7M75.6 653.92h.7M73.78 652.48h.7M80.2 649.58h.7M70.23 663.91h.7M73.44 658.16h.7M80.51 650.8h.7M73.17 660.31h.7M71.89 654.6h.7M57.24 668.54h.7M74.12 646.87h.7M61.95 671.21h.7M79.11 643.67h.7M53.91 671.73h.7M56.42 668.98h.7M76.59 648.17h.7M72.14 656.12h.7M67.59 658.6h.7M76.09 644.42h.7M80.81 647.14h.7M68.71 645.79h.7M77.54 646.41h.7M64.23 670.15h.7M61.01 669.46h.7M67.79 667.01h.7M74.92 651.84h.7M70.15 660.5h.7M63.55 665.09h.7M62.64 663.31h.7M79.69 647.52h.7M59.26 674.96h.7M70.39 645.32h.7M70.42 651.65h.7M70.44 644.59h.7M73.39 647.59h.7M76.25 642.74h.7M66.96 657.6h.7M78.94 644.67h.7M80.9 649.02h.7M68.3 666.4h.7M71.9 649.86h.7M77.07 645.73h.7M76.84 652.25h.7M71.32 651.42h.7M65.99 659.11h.7M57.86 660.23h.7M75.61 654.4h.7M73.37 654.33h.7M84.65 635.64h.7M64.74 654.96h.7M60.32 662h.7M70.9 658.39h.7M63.55 661.56h.7M75.86 643.34h.7M65.16 660.58h.7M73.91 657.31h.7M82.49 648.5h.7M68.27 667.03h.7M81.58 643.69h.7M78.22 648.51h.7M76.71 650.57h.7M81.74 646.37h.7M83.32 643.91h.7M55.08 669.81h.7M71.75 650.56h.7M63.25 662.74h.7M61.86 670.76h.7M70.23 653.64h.7M51.39 676.36h.7M82.06 647.94h.7M62.65 673.82h.7M53.07 673.05h.7M62.84 664.77h.7M81.66 649.24h.7M64.67 660.96h.7M88.94 637.79h.7M71.25 647.36h.7M59.96 667.8h.7M86.2 640.46h.7M84.92 646.78h.7M90.06 636.23h.7M62.49 656.07h.7M72.79 645.12h.7M65.64 656.9h.7M81.96 646.98h.7M69.98 661.49h.7M64.71 669.69h.7M71.28 659.68h.7M54.85 672.32h.7M73.17 650.99h.7M57.67 666.73h.7M64.62 668.35h.7M65.78 654.34h.7M86.1 638.01h.7M78.1 648.65h.7M57.69 677.52h.7M65.16 658.09h.7M53.38 678.51h.7M85.2 635.08h.7M82.02 647.99h.7M72.22 652.17h.7M58.71 668.81h.7M61.08 661.95h.7M59.66 665.85h.7M61.6 663.17h.7M67.06 656.76h.7M76.21 656.43h.7M63.98 658.15h.7M75.02 652.39h.7M87.64 639.27h.7M73.39 646.56h.7M62.66 652.63h.7M78.64 649.24h.7M51.45 671.39h.7M83.81 637.27h.7M70.62 655.65h.7M66.86 662.42h.7M75.35 649.07h.7M70.56 652.12h.7M74.95 657h.7M63.47 666.15h.7M86.97 645.78h.7M73.53 647.66h.7M52.81 677.31h.7M59.91 668.86h.7M79.75 648.23h.7M68.95 659.66h.7M77.84 647.75h.7M73.99 664.18h.7M81.38 642.63h.7M84.63 641.51h.7M86.34 638.24h.7M73.94 648.83h.7M76.06 654.11h.7M51.94 669.28h.7M84.55 645.15h.7M71.25 646.67h.7M71.74 653.06h.7M82.63 642.39h.7M56.3 670.88h.7M62.05 663.44h.7M74.91 658.34h.7M83.94 653.45h.7M69.98 663.4h.7M59.93 670.01h.7M75.09 647.44h.7M70.56 651.8h.7M63.52 671.64h.7M78.37 652.07h.7M72.86 661.63h.7M75.17 656.81h.7M58.57 677.1h.7M55 672.02h.7M80.8 640.41h.7M73.63 647h.7M54.82 675.12h.7M75.96 648.81h.7M70.99 656.49h.7M71.8 647.96h.7M64.36 664.8h.7M73.09 658.16h.7M70.68 656.65h.7M55.56 658.28h.7M56.58 673h.7M83.04 639.82h.7M65.33 668h.7M63.09 664.33h.7M66.5 665.01h.7M81.58 641.35h.7M83.24 642.71h.7M65.4 668.23h.7M76.48 647.76h.7M57.94 673.08h.7M70.94 656.85h.7M78.73 649.92h.7M74.38 651.07h.7M81.38 645.8h.7M57.05 661.84h.7M66.04 660.34h.7M86.4 640.92h.7M85.01 642.07h.7M77.46 643.15h.7M79.34 641.91h.7M70.3 659.03h.7M56.19 675.29h.7M58.42 673.29h.7M70.68 656.55h.7M74.14 652.65h.7M76.75 654.93h.7M75.86 645.01h.7M59.74 661.07h.7M89.08 637.88h.7M57.48 667.8h.7M67.66 663.92h.7M75.46 646.76h.7M73.91 646.24h.7M84.1 647.9h.7M70.85 655.53h.7M61.06 659.24h.7M70.16 655.45h.7M66.27 660.38h.7M72.16 653.13h.7M62 667.49h.7M67.83 652.66h.7M71.97 652.89h.7M72.47 656.64h.7M73.64 656.22h.7M57.74 672.09h.7M71.99 649.92h.7M51.33 669.7h.7M58.12 677.91h.7M59.28 663.25h.7M74.48 649.01h.7M79.12 646.09h.7M71.98 657.2h.7" stroke="#bf98d3" stroke-width=".7"/>
<path d="M69.96 654.97h.8M78.85 646.06h.8M75.13 652.53h.8M86.74 635.82h.8M86.21 640.17h.8M73.91 651.8h.8M85.23 640.44h.8M77.93 645.77h.8M73.53 650.14h.8M73.36 656.61h.8M62.29 668.4h.8M61.61 661.69h.8M70.57 658.23h.8M61.17 663.26h.8M74.28 653.55h.8M77.21 650.77h.8M70.91 656.39h.8M79.48 645.37h.8M61.58 667.06h.8M76.89 649.03h.8M72.23 652.5h.8M65.64 663.97h.8M76.42 648.28h.8M62.68 661.04h.8M75.92 651.14h.8M81.59 647.41h.8M59.95 672.37h.8M73.75 652.5h.8M67.77 657.95h.8M59.35 668.79h.8M60.69 672.29h.8M77.55 650.28h.8M56.02 672.11h.8M66.28 662.65h.8M85.15 641.78h.8M64.81 663.96h.8M66.76 661.77h.8M66.56 659.96h.8M65.73 657.64h.8M73.82 655.37h.8M65.71 664.6h.8M85.6 639.85h.8M77.91 651.18h.8M66.8 661.13h.8M80.3 644.29h.8M77.13 650.05h.8M70.2 653.84h.8M58.23 666.04h.8M74.1 651.64h.8M61.64 665.69h.8M67.41 658.02h.8M67.9 660.33h.8M66.42 664h.8M56.98 671.48h.8M69.93 652.02h.8M79.01 643.16h.8M70.72 654.07h.8M66.31 661.27h.8M87.75 636.13h.8M79.54 647.14h.8M83.91 644.68h.8M83.46 639.7h.8M71.51 658.69h.8M60.64 668.23h.8M69.02 659.2h.8M75.12 650.53h.8M80.48 647.32h.8M71.8 657.84h.8M67.46 665.09h.8M82.33 647.18h.8M60.53 665.08h.8M61.05 668.09h.8M71.17 658.88h.8M81.21 646.3h.8M69.88 659.48h.8M68.39 657.61h.8M78.94 652.07h.8M55.08 673.5h.8M85.26 640.81h.8M67.48 659.54h.8M71.97 654.61h.8M65.1 666.29h.8M72.14 652.89h.8M72.13 657.47h.8M57.47 673.01h.8M84.44 638.7h.8M71.79 655.39h.8M76.91 649.99h.8M68.48 661.59h.8M72.67 657.67h.8M67.21 657.01h.8M62.89 663.9h.8M78.27 646.02h.8M68.2 655.73h.8M86.24 641.12h.8M79.84 644.8h.8M78.56 646.64h.8M67.87 658.98h.8M71.94 652.87h.8M77.41 650.99h.8M75.03 651.95h.8M60.9 666.59h.8M85.95 637.94h.8M76.23 651.14h.8M66.15 663.15h.8M69.71 660.5h.8M68.14 663.65h.8M76.11 649.02h.8M68.67 656.34h.8M56.93 672.07h.8M80.43 645.3h.8M66.55 659.92h.8M68.12 660.76h.8M81.27 641.73h.8M66.32 661.88h.8M70.08 658.42h.8M64.85 661.23h.8M72.6 656.57h.8M72.79 658.92h.8M59.87 660.62h.8M84.54 638.84h.8M63.3 665.02h.8M60.46 671.08h.8M71.45 653.01h.8M66.15 662.64h.8M74.92 655.49h.8M65.76 663.49h.8M67.12 659.34h.8M66.3 660.24h.8M76.23 650.63h.8M68.99 660.06h.8M73.82 653.95h.8M70.92 656.44h.8M77.83 643.52h.8M74.49 649.99h.8M82.52 641.88h.8M63.22 666.13h.8M67.69 661.86h.8M71.76 653.64h.8M66.24 664.09h.8M65.04 668.01h.8M68.32 661h.8M59.7 671.94h.8M60.04 668.26h.8M54.74 673.53h.8M81.44 644.7h.8M75.57 651.76h.8M62.76 669.18h.8M63.78 663.92h.8M74.67 649.27h.8M78.49 645.05h.8M82.05 643.41h.8M81.99 639.68h.8M81.77 645.95h.8M70.25 655.86h.8M60.56 668.66h.8M68.29 658.57h.8M80.4 648.38h.8M71.81 651.61h.8M58.84 672.58h.8M81.13 644.84h.8M72.56 657.6h.8M61.35 670.12h.8M62.21 663.56h.8M76.74 645.59h.8M59.29 663.86h.8M60.18 668.17h.8M87.47 636.95h.8M76.01 650.45h.8M83.04 640.97h.8M64.1 665.81h.8M60.03 665.06h.8M78.92 649.55h.8M86.84 639.17h.8M71.59 658.87h.8M79.69 647.28h.8M67.65 665.29h.8M75.98 646.75h.8M66.09 658.84h.8M78 647.75h.8M68.98 658.49h.8M79.86 644.77h.8M71.34 657.12h.8M77.33 647.75h.8M66.81 665.96h.8M71.73 655.38h.8M72.54 648.19h.8M67.6 658.89h.8M79.17 644.77h.8M68.61 654.72h.8M70.1 659.95h.8M58.63 668.13h.8M67.29 655.08h.8M69.4 656.76h.8M69.43 663.39h.8M61.1 668.06h.8M82.97 645.53h.8M73.18 655.32h.8M78.93 651.12h.8M70.68 658.46h.8M76.12 651.52h.8M59.69 660.76h.8M72.44 650.64h.8M60.28 664.79h.8M62.25 665.62h.8M63.31 668.04h.8M69.71 659.72h.8M57.8 673.38h.8M53.25 673.08h.8M63.09 662.37h.8M55.99 673.55h.8M73.09 654.85h.8M65.46 663.02h.8M80.83 642.46h.8M72.78 649.94h.8M69.76 660.31h.8M62.84 662.68h.8M68.93 657.88h.8M67.7 659.88h.8M86.97 637.51h.8M71.92 652.74h.8M84.41 638.19h.8M75.79 649.71h.8M75.17 648.75h.8M59.11 670.61h.8M58.32 666.82h.8M55.75 673.33h.8M78.47 644.3h.8M67.66 666.43h.8M69.65 652.48h.8M65.17 661.34h.8M72.95 652.72h.8M58.17 669.8h.8M71.45 651.88h.8M78.65 644.74h.8M82.18 642.27h.8M70.67 660.76h.8M83.95 642.9h.8M72.82 659.14h.8M64.95 661.83h.8M66.82 661.75h.8M78.37 650.62h.8M78.47 648.61h.8M81.36 644.31h.8M56.78 673.65h.8M60.02 671.84h.8M78.11 646.56h.8M71.64 656.48h.8M84.67 638.66h.8M61.48 669.94h.8M72.36 656.32h.8M65.17 663.28h.8M58.75 667.21h.8M66.96 660.79h.8M70.29 661.99h.8M72.93 652.45h.8M86.19 638.46h.8M61.79 662.02h.8M72.2 651.88h.8M70.5 656.69h.8M65.35 665.68h.8M74.02 654.84h.8M65.14 661.4h.8M78.78 651.57h.8M74.64 645.24h.8M78.65 643.81h.8M68.22 662.73h.8M63.81 668.59h.8M59.11 674.79h.8M69.63 655.27h.8M77 645.73h.8M71.63 651.35h.8M85.51 637.46h.8M72.8 655.2h.8M64.87 662.27h.8M69.31 656.97h.8M60.76 670.18h.8M60.56 668.02h.8M72.22 655.14h.8M80.77 647.72h.8M55.23 673.41h.8M61.53 667.76h.8M65.23 660.68h.8M76.86 650.97h.8M75.4 647.95h.8M66.16 659.08h.8M74.33 653.93h.8M70.01 651.63h.8M76.39 654.59h.8M63.25 667.27h.8M61.67 666.78h.8M58.48 670.17h.8M80.43 645.92h.8M60.95 669.35h.8M67.08 657.84h.8M57.98 672.13h.8M68.45 656.63h.8M70.83 654.85h.8M57.63 672.13h.8M82.67 642.3h.8M68.89 657.75h.8M66.81 660.87h.8M56.82 672.12h.8M71.68 654.43h.8M70.38 661.56h.8M72.73 658.21h.8M61.96 664.32h.8M55.26 669.28h.8M74.83 653.77h.8M63.83 670.18h.8M62.66 665.52h.8M70.36 658.08h.8M66.21 662.03h.8M81.66 644.09h.8M80.71 643.54h.8M73.84 652.76h.8M74.22 651.73h.8M82.2 642.26h.8M75.79 650.92h.8M61.55 663.43h.8M82.29 644.92h.8M81.99 643.23h.8M65.48 663.49h.8M62.75 664.03h.8M66.74 655.41h.8M74.85 651.32h.8M70.77 655.16h.8M65.34 655.81h.8M83.84 642.93h.8M72.55 658.77h.8M68.78 658.01h.8M77.26 649.88h.8M65.22 667.59h.8M59.19 672.08h.8M59.46 661.48h.8M66.39 665.46h.8M79.17 642.64h.8M76.4 648.57h.8M67.29 665.38h.8M57.67 669.95h.8M82.41 639.91h.8M66.13 661.62h.8M74.96 650.61h.8M72.17 649.1h.8M71.37 659.99h.8M72.8 653.83h.8M77.28 648.17h.8M60.6 668.72h.8M78.05 647.88h.8M82.72 644.69h.8M71.07 655.38h.8M85.83 637.51h.8M65.9 663.57h.8M79.83 646.11h.8M71.3 657.66h.8M77.5 646.29h.8M83.15 642.39h.8M67.45 662.04h.8M62.16 663.6h.8M71.81 656.6h.8M73.66 652.8h.8M86.35 639.81h.8M81.8 646.71h.8M77.47 649.11h.8M62.95 662.33h.8M60.92 668.06h.8M84.05 639.09h.8M70.95 653.84h.8M72 658.5h.8M69.52 659.48h.8M54.77 674.93h.8M64.98 660.08h.8M65.26 663.53h.8M80.08 648.24h.8M87.9 636.51h.8M73.26 653.97h.8M73.88 653.27h.8M79.29 649.35h.8M76.94 651.15h.8M67.37 660.98h.8M65.39 656.66h.8M71.73 657.25h.8M70.22 657.63h.8M81.32 643.71h.8M64.56 667.24h.8M69.81 655.33h.8M80.16 645.83h.8M69.3 658.57h.8M76.45 646.27h.8M73.13 653.05h.8M60.83 668.74h.8M77.13 651.58h.8M58.6 672.47h.8M72.95 653.78h.8M68.89 660.95h.8M60.56 662.47h.8M66.69 660.07h.8M74.05 650.5h.8M62.21 668.2h.8M86.46 640.22h.8M64.44 666.18h.8M83.61 642.83h.8M81.77 644.93h.8M85.72 641.09h.8M60.07 666.07h.8M78.28 648.58h.8M72.27 652.36h.8M77.06 647.77h.8M75.31 652.89h.8M86.18 639.2h.8M69.89 657.22h.8M68.64 662.3h.8M69.97 657.41h.8M72.65 653.89h.8M63.72 665.05h.8M59.23 670.55h.8M69.79 661.06h.8M81.02 646.44h.8M64.6 662.72h.8M79.87 645.18h.8M83.55 640.37h.8M72.77 655.59h.8M63.35 666.43h.8M86.42 638.37h.8M64.21 661.11h.8M77.01 649.7h.8M63.53 663.41h.8M65.49 659.77h.8M77.55 648.46h.8M73.22 652.67h.8M64.94 664.94h.8M86.06 638.8h.8M87.2 636.75h.8M78.04 649.02h.8M81.68 643.98h.8M73.84 652.65h.8M68.63 656.76h.8M59.41 672.69h.8M77.4 650.8h.8M80.76 646.73h.8M71.92 652.51h.8M72.04 652.37h.8M83.99 640.99h.8M69.25 660.86h.8M64.11 664.62h.8M68.09 663.02h.8M77.64 646.02h.8M66.57 663.23h.8M74.11 647.84h.8M63.82 662.5h.8M70.68 653.71h.8M73.53 654.86h.8M65.78 660.75h.8M58.51 671.26h.8M84.23 641.83h.8M59.48 668.39h.8M71.89 657.78h.8M61.25 665.24h.8M68.79 662.74h.8M67.17 658.01h.8M74.36 649.27h.8M72.51 655.58h.8M69.63 661.93h.8M84.84 637.23h.8M79.8 647.87h.8M63.13 669.04h.8M68.22 660.63h.8M68.22 655.65h.8M78.53 645.02h.8M82.57 643.24h.8M65.7 656.19h.8M67.29 663.94h.8M84.25 643.47h.8M78.92 644.01h.8M78.21 645.07h.8M83 643.11h.8M65.66 660.57h.8M75.29 652.83h.8M71.81 654.02h.8M63.95 663.19h.8M70.31 656.7h.8M76.05 651.86h.8M65.81 664.27h.8M64.71 663.62h.8M76.16 653.69h.8M67.39 665.13h.8M70.71 658.89h.8M82.72 639.86h.8M76.85 647.68h.8M68.11 659.11h.8M63.51 666.73h.8M74.54 655.6h.8M72.1 653.27h.8M80.82 647.15h.8M59.65 666.46h.8M82.29 643.29h.8M72 653.85h.8M68.44 658.57h.8M63.91 668.34h.8M56.9 672.23h.8M70 657.71h.8M65.02 668.47h.8M75.68 651.31h.8M58.78 667.04h.8M65.51 659.66h.8M72.28 653.39h.8M76.94 649.7h.8M79.71 646.4h.8M69.23 653.59h.8M76.35 647.16h.8M77.19 645.91h.8M61 668.19h.8M65.44 664.04h.8M64.91 662.92h.8M76.06 651.43h.8M65.22 662.61h.8M77.34 648.82h.8M74.24 656.38h.8M61.55 669.79h.8M78.77 645.74h.8M60.6 667.78h.8M73.13 656.89h.8M70.88 656.31h.8M72.24 652.91h.8M70.81 657.77h.8M81.6 641.26h.8M76.48 650.24h.8M80.8 643.51h.8M71 657.24h.8M73.16 660.03h.8M76.64 650.12h.8M67.9 656.93h.8M62.79 661.08h.8M80.56 645.05h.8M80 644.87h.8M68.45 655.46h.8M73.45 651.86h.8M63.07 665.74h.8M68.41 656.11h.8M72.03 654.55h.8M84.57 640.71h.8M58.29 669.56h.8M66.63 665.43h.8M66.59 658.93h.8M71.34 652.76h.8M70.01 660.59h.8M73.22 652.42h.8M68.14 657.57h.8M66.91 658.41h.8M67.48 661.74h.8M69.33 656.35h.8M59.6 668.56h.8M75.88 646.16h.8M83.12 639.43h.8M66.53 660.38h.8M68.88 654.71h.8M76.03 648.97h.8M63.35 668.49h.8M71.35 656.07h.8M77.22 651.42h.8M81.77 641.5h.8M81.69 644.55h.8M71.51 654.34h.8M79.01 648.3h.8M76.87 646.57h.8M60.77 668.78h.8M76.79 651.66h.8M63.69 665.51h.8M63.49 666.02h.8M66.07 661.24h.8M67.14 653.99h.8M80.89 642.67h.8M55.86 672.53h.8M71.18 658.62h.8M75.78 650.76h.8M74.56 649.38h.8M65.84 665.13h.8M55.09 676.11h.8M82.18 640.02h.8M58.84 674.08h.8M74.31 653.3h.8M82.99 647.73h.8M75.95 653.04h.8M78.17 644.25h.8M65.29 666.46h.8M63.41 665.97h.8M73.4 652.27h.8M58.53 672.01h.8M73.42 655.09h.8M67.22 659.68h.8M79.81 643.73h.8M68.89 660.57h.8M67.83 661.1h.8M79.38 643.71h.8M80.02 648.34h.8M79.55 645.36h.8M60.93 673.3h.8M65.61 667.05h.8M66.21 661.5h.8M67.98 662.23h.8M71.06 653.27h.8M83.9 641.04h.8M57.34 667.34h.8M60.47 665.57h.8M82.8 641.92h.8M66.16 663.84h.8M76.77 651.46h.8M72.56 657.6h.8M63.72 667.92h.8M63.25 664.1h.8M72.18 654.5h.8M62.48 664.52h.8M63.75 664.98h.8M80.11 641.82h.8M59.34 667.87h.8M70.68 660.74h.8M60.73 668.99h.8M72.81 652.18h.8M86.36 638.7h.8M73.45 653.99h.8M77.76 647.94h.8M69.36 657.06h.8M58.67 668.11h.8M61.97 666.91h.8M79.36 646.4h.8M70.44 656.92h.8M75.19 655.22h.8M71.46 655.68h.8M68.26 660.41h.8M75.14 654.7h.8M68.88 661.26h.8M66.93 655.14h.8M75.68 650.38h.8M66.4 658.65h.8M71.05 653.96h.8M70.8 659.24h.8M82.89 645.12h.8M55.81 675.39h.8M73.41 647.46h.8M82.54 641.49h.8M74.67 650.95h.8M62.74 664.64h.8M80.18 648.88h.8M68.26 660.9h.8M66.88 663.19h.8M71.49 655.79h.8M68.67 661.66h.8M84.72 639.48h.8M69.88 653.82h.8M77.61 648.24h.8M82.9 640.7h.8M72.43 650.4h.8M55.78 669.23h.8M60.77 666.72h.8M81.75 642.77h.8M69.84 663h.8M68.94 656.8h.8M84.95 638.4h.8M67.17 660.49h.8M70.33 659.33h.8M82.19 640.53h.8M63.4 664.49h.8M78.57 650.16h.8M75.55 655.16h.8M61.44 665.37h.8M80.93 641.08h.8M83.94 640.4h.8M79.25 645.75h.8M65.29 666.2h.8M85.9 639.6h.8M82.11 642.92h.8M66.98 658.43h.8M83.47 641.78h.8M77.77 646.07h.8M74.79 649.21h.8M65.64 662.41h.8M78.25 652.47h.8M72.21 659.92h.8M65.89 666.64h.8M66.37 656.91h.8M84.46 641.04h.8M67.1 658.53h.8M64.81 665.01h.8M84.47 641.51h.8M79.48 647.57h.8M68.02 657.77h.8M54.95 673.07h.8M66.15 664.11h.8M77.51 651.53h.8M71.12 653.91h.8M79.44 644.21h.8M85.4 638.72h.8M61.12 666.37h.8M66.95 663.94h.8M73.2 656.5h.8M68.67 661.43h.8M58.98 668.9h.8M83.94 639.28h.8M57.53 671.5h.8M74.43 652.41h.8M75.53 653.02h.8M68.97 659.9h.8M75.02 650.5h.8M73.72 654.54h.8M57.68 674.17h.8M77.28 648.39h.8M76.82 646.96h.8M73.71 654.3h.8M59.63 672.47h.8M68.1 661.81h.8M66.12 659.05h.8M67.95 661.22h.8M75.29 651.38h.8M62.2 666.17h.8M77.17 648.51h.8M80.6 643.66h.8M61.48 665.76h.8M68.26 660.48h.8M66.23 662h.8M57.01 673.38h.8M66.81 657.91h.8M57.4 673.18h.8M77.84 652.08h.8M65.5 659.73h.8M76.28 650.18h.8M76 650.25h.8M77.27 649.43h.8M68.94 660.94h.8M83.61 640.15h.8M69.32 660.94h.8M78.78 648.5h.8M67.62 659.51h.8M71.92 657.03h.8M83.41 643.68h.8M83.84 643.52h.8M71.62 655.08h.8M63.14 668.27h.8M65.74 662.73h.8M69.62 655.87h.8M70.77 663.84h.8M87.39 637.99h.8M59.3 672.58h.8M62.29 666.2h.8M76.18 650.84h.8M58.16 670.76h.8M60.25 674.32h.8M73.95 651.55h.8M76.9 649.57h.8M60.51 671.55h.8M68.57 659.12h.8M63.41 668.35h.8M72.22 655.84h.8M69.81 657.77h.8M82.75 642.33h.8M65.09 657.74h.8M67.74 663.25h.8M78.8 648.49h.8M77.59 649.47h.8M76.5 650.3h.8M56.97 670.63h.8M71.19 656.44h.8M62.2 664.31h.8M72.15 653.48h.8M65.77 659.19h.8M70.54 655.89h.8M71.16 659.17h.8M73.32 654.8h.8M71 653.8h.8M78.16 645.79h.8M57.02 675.56h.8M70.07 656.77h.8M68.74 661.6h.8M70.73 661.53h.8M81.6 645.67h.8M77.08 646.57h.8M69.2 652.22h.8M64.51 668.76h.8M57.32 669.05h.8M69.8 653.78h.8M75.42 649.64h.8M78.55 646.45h.8M74.68 653.48h.8M64.18 662.49h.8M66.62 658.95h.8M78.77 648.92h.8M84.72 638.41h.8M65.57 670.66h.8M68 655.9h.8M79.97 645.68h.8M72.04 658.43h.8M76.21 650.12h.8M77.06 645.4h.8M74.16 652.45h.8M78.43 649.99h.8M83.22 640.41h.8M74.46 648.18h.8M81.36 643.78h.8M57.7 666.29h.8M63.5 666.76h.8M71.72 657.58h.8M75.45 651.36h.8M77.97 645.42h.8M66.54 664.95h.8M85.34 641.29h.8M65.75 666.14h.8M83.29 640.88h.8M67.39 662.22h.8M71.2 654.19h.8M73.33 657.02h.8M59.61 668.83h.8M71.53 652.43h.8M86.23 637.72h.8M78.64 648.46h.8M68.51 659.06h.8M69.02 658.26h.8M76.22 647.76h.8M65.96 662.65h.8M79.2 646.28h.8M62.68 666.54h.8M71.17 655.69h.8M82.33 642.55h.8M72.56 652.22h.8M83.6 644.63h.8M57.65 667.83h.8M61.27 668.65h.8M72.03 658.42h.8M75.29 646.99h.8M70.14 652.67h.8M66.22 664.22h.8M78.18 654.35h.8M64.4 667.39h.8M72.56 653.34h.8M83.58 640.26h.8M58.81 669.31h.8M57.03 669.61h.8M66.13 660.22h.8M65.58 665.42h.8M72.58 653.48h.8M62.5 667.54h.8M80.39 646.73h.8M77.19 647.28h.8M64.96 662.38h.8M76.7 649.85h.8M81.25 642.41h.8M68.46 659.58h.8M72.76 655.92h.8M69.39 658.29h.8M59.92 664.73h.8M68.19 660.44h.8M63.32 664.9h.8M57.56 672.32h.8M61.71 663.96h.8M68.82 659.04h.8M61.48 667.36h.8M64.31 662.56h.8M73.02 651.78h.8M71.75 654.87h.8M67.14 655.37h.8M65.12 664h.8M76.55 648.34h.8M76.83 651.82h.8M71.92 650.28h.8M72.68 652.88h.8M70.28 657.91h.8M80.19 645.73h.8M63.75 663.63h.8M68.73 661.77h.8M65.15 661.84h.8M74.17 653.76h.8M73.15 653.48h.8M73 653.11h.8M56.61 671.53h.8M55.96 672.61h.8M64.36 662.53h.8M69.3 659.19h.8M79.3 644.99h.8M72.12 652.06h.8M66.76 663.02h.8M54.72 676.01h.8M81.05 645.24h.8M72.34 654.8h.8M70.67 661.44h.8M80.98 645.74h.8M68.29 660.35h.8M72.04 656.31h.8M64.95 666.33h.8M73.69 653.38h.8M82.8 643.38h.8M66.25 661.31h.8M72.38 658.97h.8M79.67 645.45h.8M79.88 639.78h.8M65.36 664.9h.8M65.85 661.42h.8M67.06 660.45h.8M70.47 658.83h.8M76.73 643.45h.8M60.49 663.62h.8M80.32 644.71h.8M67.94 656.08h.8M79.83 646.94h.8M80.73 645.58h.8M59.7 668.58h.8M73.92 654.96h.8M61.76 661.61h.8M56.76 673.09h.8M72.09 657.4h.8M57 676.01h.8M73.4 654.87h.8M64.16 668.73h.8M73.49 654.36h.8M73.65 652.71h.8M80.24 645.82h.8M75.29 657.82h.8M87.42 639.48h.8M74.72 652.8h.8M63.45 666.79h.8M71.88 656.67h.8M76.94 645.85h.8M79.11 645.44h.8M64.64 664.36h.8M58.06 669.75h.8M73.89 652.24h.8M76.32 647.04h.8M65.94 662.02h.8M73.47 655.95h.8M68.32 659.6h.8M80.31 646.78h.8M64.56 663.45h.8M66.14 659.71h.8M62.23 667.11h.8M70.72 651.79h.8M75.73 648.7h.8M74.89 650.68h.8M67.26 659.04h.8M63.48 666.28h.8M72.86 651.91h.8M77.6 650.47h.8M79.85 647.36h.8M62.42 666.82h.8M78.38 645.89h.8M60.76 665.21h.8M77.23 650.19h.8M83.78 640.42h.8M64.95 671.05h.8M71.17 658.4h.8M68.98 662.7h.8M65.91 659.62h.8M67.32 660.38h.8M65.87 660.88h.8M76.1 644.74h.8M58.63 671.63h.8M67.33 659.33h.8M66.15 661.09h.8M71.68 656.38h.8M74.72 654.36h.8M74.51 653.46h.8M85.56 641.45h.8M69.13 656.51h.8M73.55 655.32h.8M76.13 648.21h.8M61.93 666.35h.8M61.43 670.64h.8M61.65 668.83h.8M71.34 656.44h.8M67.06 661.57h.8M60.9 670.13h.8M65.68 666.28h.8M64.07 666.29h.8M84.35 639.53h.8M60.31 671.25h.8M78.56 647.07h.8M69.59 658.67h.8M66.37 662.23h.8M64.57 666.68h.8M64.59 664.58h.8M78.99 645.84h.8M72.72 650.54h.8M73.63 649.78h.8M84.58 640.48h.8M60.53 666.98h.8M76.6 651.67h.8M87 637.08h.8M62.51 667.21h.8M61.89 667.05h.8M68.67 666.45h.8M79.63 648.01h.8M61.86 668.67h.8M61.63 669.36h.8M65.07 656.48h.8M64.16 661.88h.8M78.38 650.21h.8M84.54 642.11h.8M70.72 654.45h.8M56.9 667.52h.8M71.77 651.84h.8M73.3 654.83h.8M75.14 650.72h.8M68.97 661.78h.8M80.84 643.91h.8M58.62 671.74h.8M80.95 645.31h.8M75 651.06h.8M83.96 639.94h.8M64.97 661.57h.8M73.23 652.96h.8M76.36 649.81h.8M59.9 672.07h.8M63.3 665.56h.8M66.12 660.4h.8M60.96 665.09h.8M57.13 670.82h.8M74.48 653.01h.8M68.23 659.79h.8M71.5 659.35h.8M76.18 649.62h.8M70.79 655.26h.8M85.19 641.39h.8M60.83 671.03h.8M62.97 669.18h.8M66.06 658.53h.8M79.44 645.93h.8M78.49 647.72h.8M62.78 666.62h.8M68.19 653.06h.8M77.09 648.97h.8M64.22 664.25h.8M76.43 652.42h.8M74.65 651.23h.8M75.35 651.11h.8M63.97 664.1h.8M71.7 652.42h.8M81.4 644.98h.8M73.47 658.5h.8M73.51 650.72h.8M71.08 660.48h.8M71.02 661.07h.8M76.72 646.22h.8M56.48 670.31h.8M60.97 665.95h.8M71.45 653.07h.8M68 657.72h.8M64.44 661h.8M65.12 662.2h.8M82.45 643.28h.8M62.05 669.15h.8M80.17 644.77h.8M86.86 636.09h.8M71.77 656.76h.8M75.99 651.74h.8M57.82 669.91h.8M64.44 665.2h.8M56.63 670.58h.8M70.45 654.86h.8M67.49 660.66h.8M75.86 649.71h.8M75.28 653.9h.8M74.71 651.27h.8M69.97 658.06h.8M75.75 653.35h.8M53.47 674.02h.8M70.04 659.13h.8M76.77 652.14h.8M71.67 654.75h.8M70.39 660.03h.8M68.05 656.51h.8M72.37 652.16h.8M73.12 650.14h.8M85.05 641.93h.8M78.57 645.21h.8M72.66 655.56h.8M68.46 654.43h.8M67.45 663.1h.8M73.75 649.38h.8M68.68 656.77h.8M58.02 664.29h.8M81.07 641.66h.8M76.06 652.44h.8M69.97 653.45h.8M67.94 664.44h.8M76.61 655.19h.8M67.67 659.52h.8M73.1 650.02h.8M77.57 647.34h.8M86.43 637.95h.8M67.55 654.38h.8M71.42 653.76h.8M60 669.73h.8M59.1 671.52h.8M79.89 641.81h.8M74.63 651.6h.8M78.83 646.96h.8M71.34 658.92h.8M74.19 653.09h.8M84.34 641.97h.8M74.2 653.8h.8M62.42 663.89h.8M68.33 667.58h.8M62.87 667.85h.8M71.89 655.79h.8M78.58 646.2h.8M61.75 671.6h.8M68.64 659.23h.8M68.94 660.34h.8M64.41 664.71h.8M70.06 656.88h.8M70.82 652.02h.8M78.05 646.39h.8M81.22 647.76h.8M71.05 656.8h.8M69.66 655.79h.8M77.12 646.72h.8M69.15 655.9h.8M70.05 656.04h.8M70.43 656.35h.8M63.14 669.77h.8M67.25 661.7h.8M61.19 672.55h.8M69.79 652.88h.8M61.16 667.42h.8M78.02 643.61h.8M65.63 656.13h.8M60.57 669.26h.8M65.61 657.2h.8M78.41 647.36h.8M66.88 658.4h.8M70.8 659.73h.8M73.21 656.86h.8M77.69 644.6h.8M66.13 664.23h.8M74.75 651.55h.8M72.23 656.09h.8M59.49 668.41h.8M60.92 671.59h.8M63.79 667.65h.8M70.47 656.57h.8M67.98 655.05h.8M54.15 670.25h.8M81.16 646.01h.8M68.3 659.87h.8M65.77 658.03h.8M77.32 646.29h.8M79.75 652.07h.8M82.44 640.47h.8M59.3 671.07h.8M83.21 643.98h.8M73.31 660.16h.8M65.6 663.56h.8M82.77 642.94h.8M79.39 643.59h.8M78.68 647.99h.8M66.32 661.59h.8M63.93 661.26h.8M75.39 647.98h.8M86.42 639.48h.8M62.05 669.92h.8M71.23 663.91h.8M60.86 667.27h.8M69.56 652.1h.8M76.39 655.24h.8M74.09 654.15h.8M71.01 661.26h.8M67.97 657.69h.8M68.12 658.38h.8M66.24 666.46h.8M73.12 651.46h.8M58.98 670.41h.8M64.54 663.87h.8M63.06 668.37h.8M64.03 667.69h.8M78.17 645.82h.8M76 652.68h.8M78.14 647.11h.8M83.3 641.26h.8M82.96 642.16h.8M83.67 642.75h.8M78.33 647.21h.8M69.77 659.18h.8M76.69 647.57h.8M57.19 668.89h.8M61.17 664.73h.8M85.49 639.25h.8M74.5 652.31h.8M71.71 655.89h.8M77.21 645.73h.8M58.17 669.55h.8M68.06 659.92h.8M67.08 663.16h.8M72.56 655.88h.8M65.3 662.15h.8M75.8 648.76h.8M66.39 657.28h.8M55.54 673.58h.8M85.89 640.16h.8M71.81 654.66h.8M70.34 655.44h.8M76.44 650.42h.8M71.74 663.67h.8M69.52 656.67h.8M62.3 663.75h.8M66.91 656.08h.8M56.87 667.48h.8M85.31 639.67h.8M83.82 641.42h.8M72.67 652.52h.8M79.36 647.09h.8M79.22 647.72h.8M58.96 668.48h.8M85.78 638.87h.8M72.5 656.88h.8M66.93 656.68h.8M82.86 641.72h.8M65.42 663.16h.8M64.92 658.05h.8M76.99 655.68h.8M65.11 666.53h.8M75.74 655.85h.8M70.55 652.68h.8M83.17 641.52h.8M79.21 649.19h.8M61.01 666.79h.8M76.62 655.23h.8M64.61 660.57h.8M74.29 652.22h.8M56.23 673.07h.8M77.82 644.4h.8M63.85 664.1h.8M81.11 644.09h.8M67.6 657.1h.8M73.64 651.75h.8M82.15 644.81h.8M81.88 644.96h.8M72.71 655.51h.8M67.78 662.32h.8M78.63 650.31h.8M58.1 671.3h.8M63.12 663.56h.8M68.07 660.1h.8M69.22 658.88h.8M64.56 662.01h.8M72.91 654.65h.8M81.34 644.49h.8M73.79 655.94h.8M76.22 647.71h.8M64.89 667.37h.8M73.15 653.17h.8M59.86 665.51h.8M62.95 669.16h.8M80.98 645.39h.8M77.41 648.89h.8M65.1 659.9h.8M77.78 650.25h.8M77.97 645.56h.8M80.71 642.5h.8M68.25 659.35h.8M65.29 666h.8M73.58 653.27h.8M71.84 655.59h.8M64.86 660.85h.8M58.12 674.06h.8M67.19 659.75h.8M78.97 648.12h.8M84.72 645.24h.8M69.06 659.26h.8M64.59 660.82h.8M56.55 669.74h.8M65.26 660.17h.8M61.49 664.66h.8M62.88 666.8h.8M78.94 649.96h.8M71.99 655.11h.8M58.23 670.77h.8M70.99 658.11h.8M69.91 655.11h.8M74.17 651.79h.8M56.34 675.87h.8M72.48 658h.8M84.42 639.54h.8M59.25 669.31h.8M66.13 660.62h.8M74.65 652.66h.8M65.51 667.46h.8M83.61 641.22h.8M62.12 663.4h.8M71.16 659.26h.8M65.22 666.5h.8M56.85 675.86h.8M79.23 648.34h.8M69.2 657.36h.8M73.24 650.8h.8M81.97 644.2h.8M82.37 642.07h.8M71.33 656.21h.8M72.72 658.02h.8M75.6 646.39h.8M56.31 669.23h.8M54.74 672.21h.8M72.91 652.02h.8M55.29 674.86h.8M73.37 654.26h.8M58.04 669.56h.8M80.29 647.67h.8M73.31 652.61h.8M67.32 662.9h.8M83.26 644.74h.8M65.72 665.97h.8M67.61 659.39h.8M75.13 651.1h.8M70.2 658.7h.8M76.57 651.71h.8M74.61 648.93h.8M78.18 645.18h.8M60.09 667.65h.8M80.21 647.63h.8M66.51 662.28h.8M67.52 660.12h.8M78.2 644.47h.8M56.9 669.39h.8M79.22 647.19h.8M61.82 664.02h.8M68.93 661.61h.8M73.79 650.59h.8M62.87 666.51h.8M72.82 656.14h.8M81.23 645.12h.8M72.25 654.67h.8M74.9 657.71h.8M67.17 660.6h.8M78.03 648.83h.8M71.77 654.38h.8M58.24 674.14h.8M65.88 666.09h.8M73.2 657.05h.8M65.63 663.6h.8M72.75 656.91h.8M70.99 653.41h.8M77.01 648.12h.8M73.46 655.18h.8M75.93 645.2h.8M69.62 653.34h.8M64.14 666.6h.8M65.91 662.93h.8M56.79 672.63h.8M80.77 644.08h.8M60.56 672.84h.8M69.66 659.24h.8M84.02 640.02h.8M81.71 640.72h.8M81.59 643.78h.8M73.65 650.07h.8M56.48 673.2h.8M80.79 642.98h.8M81.08 646.94h.8M69.56 655.89h.8M78.62 647.02h.8M62.92 670.06h.8M53.37 672.21h.8M69.07 657.02h.8M62.42 661.69h.8M82.57 645.63h.8M72.89 655.21h.8M76.48 649.48h.8M70.19 657.73h.8M81.81 644.88h.8M75.8 652.06h.8M77.38 648.94h.8M70.12 660.25h.8M87.6 636.78h.8M79.32 651.22h.8M59.93 666.42h.8M61.1 667.24h.8M78.48 649.21h.8M83.5 642.81h.8M79.36 645.16h.8M78.47 650.66h.8M57.49 674.84h.8M62.45 671.52h.8M78.87 646.28h.8M62.8 669.76h.8M73.7 652.9h.8M82.6 643.1h.8M71.23 658.39h.8M59.79 668.62h.8M68.38 658.59h.8M83.11 645.35h.8M77.49 646.31h.8M74.63 653.54h.8M68.08 664.02h.8M83.25 644.61h.8M80.18 644.96h.8M67.99 656.98h.8M83.23 643.78h.8M69.29 656.81h.8M71.16 656.17h.8M75.69 648.86h.8M71.08 652.32h.8M61.79 665.55h.8M71.82 654.57h.8M73.81 648.37h.8M79.06 650.04h.8M69.59 657.21h.8M79.84 649.55h.8M82.79 644.38h.8M66.47 660.01h.8M60.97 668.24h.8M72.82 652.84h.8M66.57 661.53h.8M82.31 642.86h.8M75.7 651.65h.8M65.82 663.82h.8M66.34 662.38h.8M79.97 644.2h.8M69.93 653.14h.8M82.74 642.57h.8M84.29 639.97h.8M65.07 665.39h.8M66.3 660.05h.8M81.64 644.01h.8M64.49 661.17h.8M74.62 652.96h.8M65.83 661.67h.8M84.47 640.78h.8M65.48 670.53h.8M66.4 664.27h.8M71.78 655.03h.8M72.66 655.11h.8M81.08 644.24h.8M77.19 648.76h.8M72.57 654.61h.8M60.41 669.05h.8M71.07 656.21h.8M63.55 668.21h.8M65.47 665.89h.8M67.98 665.18h.8M66.05 663.71h.8M82.13 643.79h.8M79.13 652.55h.8M61.06 664h.8M82.41 642.99h.8M63.27 667.03h.8M81.65 644.79h.8M71.01 654.51h.8M76.34 648.94h.8M60.7 664.4h.8M80.47 643.85h.8M73 648.99h.8M71.02 658.56h.8M58.79 670.43h.8M77.63 646.01h.8M66.91 665.38h.8M68.26 659.55h.8M68.34 656.6h.8M79.93 646.56h.8M71.44 654.36h.8M71.39 650.61h.8M69.81 657.91h.8M75.99 654.34h.8M58.99 665.7h.8M75.61 649.61h.8M67.26 662.84h.8M62.91 666.83h.8M70.24 659.81h.8M59.98 668.79h.8M84.05 642.93h.8M59.12 670.56h.8M73.22 653.35h.8M73.91 653.86h.8M72.22 654.01h.8M65.89 661.45h.8M82.32 641.82h.8M70.89 654.08h.8M60.4 666.87h.8M63.99 660.66h.8M79.49 647.29h.8M72.49 655.31h.8M61.68 661.58h.8M75.01 650.3h.8M77.55 648.47h.8M56.96 670.43h.8M80.39 645.84h.8M76.65 648.05h.8M61.1 668.18h.8M71.55 652.96h.8M80.79 644.87h.8M66.01 662.67h.8M70.2 664.01h.8M72.56 658.86h.8M56.44 674.1h.8M72.53 654.55h.8M70.21 657.38h.8M67.67 660.99h.8M71.15 650.29h.8M83.67 640.94h.8M76.16 651.63h.8M71.08 656.21h.8M59.12 667.09h.8M82.13 640.24h.8M79.3 642.62h.8M85.14 641.95h.8M73.65 655.04h.8" stroke="#8e4cab" stroke-width=".8"/>
<path d="M93.42 574V617.68L41.42 663.56V617.02M96.29 575.32H148.4V616.58H96.29ZM114.06 617.68H148.4V683.2H65.26Z" fill="none" stroke="#5a5a5a" stroke-width=".6"/>
<rect x="64.6" y="615.31" width="2.2" height="1.2" fill="#777"/>
<rect x="124.21" y="596.56" width="2.2" height="1.2" fill="#777"/>
<rect x="106.55" y="649.51" width="2.2" height="1.2" fill="#777"/>
<rect x="39.1" y="574" width="110.4" height="110.3" fill="none" stroke="#8a8a8a" stroke-width=".8"/>
<path d="M42.41 684.3v1.2M45.99 684.3v1.2M49.57 684.3v1.2M53.15 684.3v1.2M56.73 684.3v1.2M60.3 684.3v1.2M63.88 684.3v1.2M67.46 684.3v1.2M71.04 684.3v1.2M74.62 684.3v1.2M78.2 684.3v1.2M81.78 684.3v1.2M85.35 684.3v1.2M88.93 684.3v1.2M92.51 684.3v1.2M96.09 684.3v1.2M99.67 684.3v1.2M103.25 684.3v1.2M106.82 684.3v1.2M110.4 684.3v1.2M113.98 684.3v1.2M117.56 684.3v1.2M121.14 684.3v1.2M124.72 684.3v1.2M128.3 684.3v1.2M131.87 684.3v1.2M135.45 684.3v1.2M139.03 684.3v1.2M142.61 684.3v1.2M146.19 684.3v1.2M39.1 577.31h-1.2M39.1 580.88h-1.2M39.1 584.46h-1.2M39.1 588.03h-1.2M39.1 591.61h-1.2M39.1 595.19h-1.2M39.1 598.76h-1.2M39.1 602.34h-1.2M39.1 605.91h-1.2M39.1 609.49h-1.2M39.1 613.06h-1.2M39.1 616.64h-1.2M39.1 620.21h-1.2M39.1 623.79h-1.2M39.1 627.36h-1.2M39.1 630.94h-1.2M39.1 634.51h-1.2M39.1 638.09h-1.2M39.1 641.66h-1.2M39.1 645.24h-1.2M39.1 648.81h-1.2M39.1 652.39h-1.2M39.1 655.96h-1.2M39.1 659.54h-1.2M39.1 663.11h-1.2M39.1 666.69h-1.2M39.1 670.27h-1.2M39.1 673.84h-1.2M39.1 677.42h-1.2M39.1 680.99h-1.2" fill="none" stroke="#aaa" stroke-width=".4"/>
<text x="44.18" y="583.7" font-size="9.95" fill="#e9388e" stroke="#e9388e" stroke-width=".25">8.5%</text>
<text x="126.18" y="583.7" font-size="9.95" fill="#f26b35" stroke="#f26b35" stroke-width=".25">1.2%</text>
<text x="126.18" y="680.6" font-size="9.95" fill="#3db54a" stroke="#3db54a" stroke-width=".25">7.8%</text>
<text transform="translate(55.77 693.2)" x="-5.97" y="2.83" font-size="7.9" font-weight="normal" fill="#333">10<tspan font-size="5.06" dy="-2.84">2</tspan></text>
<text transform="translate(33.2 669.19) rotate(-90)" x="-5.44" y="2.58" font-size="7.2" font-weight="normal" fill="#333">10<tspan font-size="4.61" dy="-2.59">2</tspan></text>
<text transform="translate(82.38 693.2)" x="-5.99" y="2.83" font-size="7.9" font-weight="normal" fill="#333">10<tspan font-size="5.06" dy="-2.84">3</tspan></text>
<text transform="translate(33.2 641.17) rotate(-90)" x="-5.46" y="2.58" font-size="7.2" font-weight="normal" fill="#333">10<tspan font-size="4.61" dy="-2.59">3</tspan></text>
<text transform="translate(108.54 693.2)" x="-6.03" y="2.83" font-size="7.9" font-weight="normal" fill="#333">10<tspan font-size="5.06" dy="-2.84">4</tspan></text>
<text transform="translate(33.2 612.05) rotate(-90)" x="-5.49" y="2.58" font-size="7.2" font-weight="normal" fill="#333">10<tspan font-size="4.61" dy="-2.59">4</tspan></text>
<text transform="translate(136.25 693.2)" x="-5.99" y="2.83" font-size="7.9" font-weight="normal" fill="#333">10<tspan font-size="5.06" dy="-2.84">5</tspan></text>
<text transform="translate(33.2 584.04) rotate(-90)" x="-5.46" y="2.58" font-size="7.2" font-weight="normal" fill="#333">10<tspan font-size="4.61" dy="-2.59">5</tspan></text>
<path d="M200.51 595.92h.6M205.74 595.36h.6M204.23 598.37h.6M204.14 596.61h.6M208.59 596.06h.6M194.56 600.45h.6M197.43 579.46h.6M193.99 601.43h.6M200.01 591.41h.6M205.51 601.17h.6M200.44 603.26h.6M203.01 590h.6M191.05 600.71h.6M201.28 600.61h.6M196.04 590.76h.6M209.37 591.86h.6M204.95 596.03h.6M205.26 580.62h.6M200.26 592.28h.6M203.59 596.41h.6M203.81 592.23h.6M198.84 584.66h.6M198.08 592.58h.6M199.98 605.09h.6M197.54 603.83h.6M197.59 594.34h.6M199.14 589.83h.6M196.93 595.01h.6M204.35 595.21h.6M192.62 590.66h.6M204.64 592.9h.6M197.44 599.19h.6M197.83 601.23h.6M193.84 579.09h.6M199.83 601.51h.6M199.32 595.99h.6M201.5 602.64h.6M197.89 594.97h.6M201.01 597.98h.6M209.59 605.86h.6M202.58 575.6h.6M197.7 605.53h.6M205.28 596.34h.6M199.91 583.13h.6M203.5 577.59h.6M203.59 597.13h.6M198.6 588.34h.6M190.96 601.67h.6M198.82 596.5h.6M203.29 594.21h.6M198.66 601.61h.6M202.73 596.35h.6M205.41 599.95h.6M197.84 600.54h.6M206.66 597.19h.6M208.6 600.26h.6M205.91 600.25h.6M206.34 586.1h.6M206 593.29h.6M211.75 594.29h.6M201.47 592.6h.6M200.56 584.66h.6M203.54 591.35h.6M196.03 597.3h.6M192.83 596.34h.6M196.16 605.07h.6M202.4 591.1h.6M202.9 592.24h.6M192.91 591.32h.6M191.19 593h.6M198.98 591.11h.6M199.61 582.8h.6M200.3 597.34h.6M203.88 601.56h.6M206.65 602.42h.6M201.69 587.94h.6M203.59 593.81h.6M195.11 607.2h.6M194.7 594.36h.6M201.72 597.36h.6M203.85 594.07h.6M204.15 601.67h.6M203.49 601.42h.6M204.44 610.34h.6M204.57 598.35h.6M191.84 598.02h.6M196.9 587.11h.6M202.81 592.38h.6M203.51 590.46h.6M193.03 592.91h.6M206.37 586.47h.6M198.37 603.05h.6M199.39 588.16h.6M201.91 596.86h.6M204.27 586.8h.6M193.43 597.34h.6M205.46 605.94h.6M200.93 589.69h.6M196.72 597.46h.6M199.18 594.63h.6M189.69 596.93h.6M197.33 597.83h.6M201.45 590.9h.6M197.02 593.89h.6M198.92 591.2h.6M199.82 589.66h.6M200.79 587.01h.6M205.62 601.4h.6M200.42 590.23h.6M199.25 599.43h.6M203.22 598.71h.6M210.86 588.52h.6M198.84 601.94h.6M203.09 589.42h.6M192.71 599.19h.6M207.23 604.63h.6M203.82 590.38h.6M207.17 588.98h.6M200.25 588.89h.6M195.37 610.13h.6M204.95 592.6h.6M204.29 586.77h.6M196.24 600.41h.6M193.23 593.89h.6M202.78 594.83h.6M199.69 588.5h.6M213.52 580.44h.6M197.49 590.23h.6M197.92 588.16h.6M200 584.39h.6M192.27 587.88h.6M196.13 588.78h.6M208.72 600.28h.6M199.89 599.63h.6M197.52 598.38h.6M194.23 591.49h.6M203.43 586.74h.6M203.82 596.94h.6M201.82 598.01h.6M198.61 601.57h.6M202.06 594.81h.6M202.44 594.15h.6M197.16 597.02h.6M203.64 588.91h.6M190.04 589.72h.6M194.14 599.21h.6M199.04 586.74h.6M200.01 594.48h.6M194.76 600.13h.6M202.18 596.56h.6M205.79 597.84h.6M202.79 587.75h.6M201.66 594.21h.6M204.66 593.26h.6M202.56 599h.6M194.87 597.81h.6M199.54 595.26h.6M206.96 607.55h.6M194.9 598.67h.6M200.86 593.24h.6M198.61 591.11h.6M196.09 594.9h.6M195.52 591.41h.6M201.05 605.89h.6M202.11 598.9h.6M202.08 593.15h.6M193.36 590.89h.6M199.11 588.16h.6M202.26 593.4h.6M205.25 603.81h.6M203.89 600.73h.6M204.68 594.86h.6M206 596.15h.6M204.64 583.01h.6M196.5 600.23h.6M200.83 593.8h.6M197 604.28h.6M188.72 594.09h.6M192.2 592.09h.6M210.92 596.68h.6M195 591.1h.6M189.41 604.1h.6M197.64 597.18h.6M208.1 597.72h.6M200.32 597.52h.6M202.57 593.02h.6M199.2 598.5h.6M200.13 596.5h.6M206.84 606.88h.6M204.5 595.78h.6M200.12 597.85h.6M204.98 592.41h.6M205.88 592.99h.6M199.46 593.45h.6M201.89 603.98h.6M201.81 596.07h.6M197.23 601.94h.6M206.26 593.87h.6M199.72 593.22h.6M197.47 582.99h.6M192.22 601.07h.6M194.26 609.16h.6M208.12 594.16h.6M194.88 605.08h.6M202.68 601.26h.6M198.72 591.2h.6M203.09 600.7h.6M203.54 589.82h.6M196.69 593.74h.6M199.1 603.71h.6M201.04 596.76h.6M201.12 588.04h.6M200.4 604.99h.6M198.99 588.52h.6M203.67 594.66h.6M207.09 593.45h.6M203.23 594.66h.6M196.87 590.14h.6M202.51 585h.6M200.85 607.88h.6M202.84 589.52h.6M209.71 589.92h.6M199.48 579.72h.6M200.49 596.29h.6M196.14 604.16h.6M199.11 604.89h.6M197.72 613.84h.6M208.49 605.55h.6M202.06 598.41h.6M197.71 595.92h.6M210.13 605.15h.6M193.95 595.53h.6M204.83 597.06h.6M205.6 589.48h.6M203.4 596.42h.6M199.25 608.7h.6M199.9 595.29h.6M198.84 598.37h.6M204.45 580h.6M188.98 604.57h.6M198.01 598.19h.6M201.3 604.97h.6M197.66 597.3h.6M191.52 590.11h.6M199.34 586.74h.6M196.79 598.92h.6M204.52 595.42h.6M207.49 589.17h.6M200.89 595.09h.6M190.94 591.32h.6M199.57 600.14h.6M195.96 592.7h.6M203.93 587.33h.6M208.95 594.73h.6M202.12 591.59h.6M210.66 604.89h.6M208.07 592.14h.6M204.01 586.5h.6M196.27 594.72h.6M201.58 593.37h.6M193.89 596.76h.6M206.26 596.38h.6M201.73 588.18h.6M207.99 594.56h.6M202.63 594.19h.6M191.58 586.99h.6M204.46 591.08h.6M205.88 596.11h.6M209.53 584.33h.6M196.44 587.63h.6M196.69 591.64h.6M201.6 594.06h.6M196.03 597.98h.6M194.43 585.7h.6M195.81 596.53h.6M214.11 598.64h.6M198.07 604.66h.6M196.12 591.78h.6M198.9 588.52h.6M201.11 584.47h.6M207.49 598.13h.6M205.76 602.96h.6M204.98 590.02h.6M201.28 597.45h.6M201.83 600.23h.6M197.88 600.89h.6M193.57 592.07h.6M211.17 598.97h.6M198.78 594.5h.6M206.07 588.69h.6M199.46 596.67h.6M200.58 597.37h.6M200.26 588.74h.6M194.18 597.99h.6M200.63 608.18h.6M202.91 585.33h.6M205.13 599.76h.6M203.46 601.16h.6M206.07 595.52h.6M202.46 597.33h.6M200.97 593.45h.6M191.22 604.05h.6M198.32 588.99h.6M208.7 594.22h.6M201.58 582.38h.6M204.93 597.17h.6M199.92 597.47h.6M197.62 584.03h.6M211.14 589.26h.6M202.74 598.06h.6M208.39 591.69h.6M203.6 586.94h.6M199.5 578.46h.6M189.81 597.08h.6M201.41 607.49h.6M193.17 591.76h.6M189.92 597.6h.6M207.12 597.48h.6M204.54 594.18h.6M204.14 595.36h.6" stroke="#e36aa9" stroke-width=".6"/>
<path d="M200.98 590.51h.6M192.27 594.86h.6M223.99 600.87h.6M202.72 608.6h.6M215.75 604.81h.6M192.73 592.77h.6M197.97 605.34h.6M209.98 605.61h.6M189.81 596.38h.6M188.49 602.15h.6M203.02 610.41h.6M182.53 603.45h.6M215.25 593.42h.6M206.69 598.11h.6M202.27 599.8h.6M206.08 578.73h.6M192.18 599.53h.6M191.92 596.45h.6M208.59 577.45h.6M201.59 619.59h.6M199.92 599.23h.6M195.61 614.14h.6M212.68 593.51h.6M187.26 616.43h.6M192.81 604.85h.6M195.63 589.82h.6M186.9 601.38h.6M188.67 616.87h.6M191.31 626.78h.6M209.36 604.28h.6M216.36 592.75h.6M203.51 587.74h.6M186.12 606.38h.6M195.07 611.29h.6M199.23 599.89h.6M198.06 596.92h.6M197.16 608.05h.6M205 604.12h.6M183.27 603.01h.6M195.36 579.93h.6M202.35 594.35h.6M206.79 621h.6M203.01 598.14h.6M200.68 627.5h.6M199.31 602.99h.6M194.66 594.93h.6M201.35 601.75h.6M198.79 605.62h.6M194.4 589.71h.6M211.28 601.31h.6M211.15 593.37h.6M197.41 615.86h.6M206.16 592.92h.6M211.3 599.81h.6M203.09 580.32h.6M201.88 581.96h.6M205.15 597.27h.6M186.22 587.37h.6M188.17 594.82h.6M205.42 601.18h.6M203.24 605.09h.6M212.9 581.44h.6M196.45 596.12h.6M210.53 606.31h.6M210.2 590.22h.6M218.25 582.69h.6M193.78 590.04h.6M197.73 617.88h.6M203.3 598.58h.6M203.22 617.07h.6M192.08 594.67h.6M195.86 612.66h.6M189.39 581h.6M221.26 595.32h.6M200.31 599.41h.6M200.81 619.48h.6M195.48 604.02h.6M201.12 611.82h.6M207.85 593.32h.6M197.97 593.38h.6M200.64 613.69h.6M220.06 615.54h.6M209.04 613.15h.6M202.98 612.84h.6M197.17 592.12h.6M200.69 624.33h.6M194.33 600.47h.6M203.27 613.71h.6M194.93 607.45h.6M194.42 577.34h.6M197.21 575.06h.6M191.32 579.17h.6M202.46 597.84h.6M222.91 611.87h.6M195.17 595.45h.6M185.99 608.56h.6M209.03 583.57h.6M199.62 590.94h.6M217.95 587.61h.6M203.82 598.8h.6M208.62 584.58h.6M193.55 597.18h.6M186.29 605.54h.6M198.69 592.86h.6M206.15 587.65h.6M192.63 592.95h.6M186.16 583.71h.6M194.91 585.95h.6M196.2 608.06h.6M197.19 602.49h.6M199.76 581.07h.6M221.11 595.01h.6M200.25 603.85h.6M195.59 608.05h.6M190.39 606.12h.6M206.98 610.21h.6M185.97 597.94h.6M212.65 598.22h.6M199.82 595.46h.6M186.64 611.64h.6M201.49 608.74h.6M198.84 619.89h.6M210.65 611.92h.6M186.64 588.67h.6M201.61 580.67h.6M199.68 581.67h.6M207.9 587.64h.6M189.8 605.83h.6M192.94 581.53h.6M204.69 596.18h.6M186.78 608.09h.6M202.64 607.7h.6M192.84 618.42h.6M193.71 597.86h.6M189.03 591.52h.6M208.43 594.56h.6M195.03 582.1h.6M201.5 590.08h.6M200.42 613.63h.6M186.38 623.44h.6M193.21 613.45h.6M206.5 601.69h.6M185.94 595.18h.6M201.93 601.04h.6M198.83 575.31h.6M205.44 605h.6M205.8 607.49h.6M207.03 596.42h.6M200.3 598.26h.6M202.05 577.56h.6M193.59 607.48h.6M195.03 607.5h.6M194.56 590.96h.6M208.85 602.15h.6M208.64 618.11h.6M192.82 587.56h.6M204.79 597.51h.6M192.7 615.7h.6M202.87 603.71h.6M193.03 595.36h.6M202.83 592.65h.6M201.38 598.41h.6M190.73 588.44h.6M217.98 610.3h.6M208.4 587.63h.6M185.83 604.98h.6M203.01 609.48h.6M196.2 612.89h.6M218.03 599.92h.6M199.47 598.86h.6M203.47 602.84h.6M198.41 600h.6M205.59 612.28h.6M195.31 597.87h.6M192.12 622.41h.6M195.67 632.96h.6M196.32 591.42h.6M205.58 604.12h.6M200.83 585.27h.6M196.15 608.28h.6M196.49 604.22h.6M192.02 596.59h.6M201.22 586.56h.6M182.17 599.47h.6M198.14 623.38h.6M210.53 618.5h.6M196.91 603.75h.6M194.34 591.64h.6M200.5 598.75h.6M191.91 589.35h.6M193.44 582.67h.6M206.15 587.47h.6M194.53 606.28h.6M217.37 602.6h.6M204.88 601.03h.6M199.22 585.53h.6" stroke="#e36aa9" stroke-width=".6"/>
<path d="M201.78 617.58h.6M202.02 619.01h.6M208.72 630.6h.6M205.12 628.23h.6M207.46 633.31h.6M198.97 610.72h.6M201.54 634.74h.6M201.93 623.82h.6M201.32 617.86h.6M197.29 615.68h.6M196.23 628.14h.6M200.66 636.19h.6M209.21 634.88h.6M195.71 629.67h.6M202.92 622.46h.6M207.52 624.56h.6M203.2 625.14h.6M196.97 621.66h.6M212.69 626.64h.6M198.89 633.84h.6M203.15 634.96h.6M201.24 632.43h.6M205.29 617.81h.6M204.26 626.4h.6M204.41 617.93h.6M198.69 631.87h.6M200.63 611.49h.6M200.53 626.71h.6M205.96 634.32h.6M207.71 621.63h.6M197.76 623.52h.6M197.46 627.85h.6M194.73 618.81h.6M202.21 618.05h.6M199.33 615.34h.6M197.23 615.5h.6M201.1 628.37h.6M201 625.82h.6M192.07 624.38h.6M203.69 626.26h.6M199.14 629.49h.6M204.42 627.55h.6M199.19 635.56h.6M203.66 629.22h.6M205.05 622.13h.6M200.92 633.76h.6M199.98 618.38h.6M200.91 615.8h.6M202.22 623.37h.6M202.38 617.84h.6M199.81 626.18h.6M202.56 634.19h.6M194.71 624.21h.6M204.34 624.41h.6M197.57 631.61h.6M199.76 626.63h.6M204.15 614.69h.6M198.84 635.49h.6M208.4 622.56h.6M200.43 628.69h.6M205.36 613.91h.6M198.59 615.59h.6M200.78 615.56h.6M202.55 624.09h.6M207.75 618.72h.6M204.2 622.57h.6M198.16 630.59h.6M198.63 623.2h.6M202.21 626.68h.6M200.76 619.33h.6M204.99 629h.6M195.52 624.78h.6M203.93 635.4h.6M197.24 626.19h.6M206.66 621.3h.6M204.12 613.99h.6M199.51 636.35h.6M205.65 628.25h.6M201.64 622.57h.6M201.37 632.81h.6M196.39 617.4h.6M196.88 612.15h.6M201.37 633.9h.6M197.43 634.1h.6M201.02 628.31h.6M197.31 623.71h.6M199.16 615.99h.6M203.11 635.28h.6M193.4 614.34h.6M201.11 619.67h.6M211.23 622.65h.6M202.33 630.84h.6M199.83 621.85h.6M194.2 627.04h.6M204.38 632.38h.6M202.99 614.77h.6M199.46 618.69h.6M193.21 619.5h.6M202.74 624.84h.6M197.58 630.69h.6M199.63 626.49h.6M199.02 626.39h.6M201.95 614.78h.6M201.39 626.19h.6M205.83 630.71h.6M202.99 631.92h.6M204.17 624.09h.6M200.13 635.6h.6M204.65 629.61h.6M203.53 629.71h.6M210.9 633.64h.6M203.9 618.32h.6M193.09 630.91h.6M203.72 627.08h.6M208.9 635.56h.6M200.11 617.84h.6M204.43 633.68h.6M204.97 631.01h.6M204.58 633.17h.6M202.99 622.12h.6" stroke="#e36aa9" stroke-width=".6"/>
<path d="M227.75 601.62h.6M229.33 600.11h.6M237.88 588.58h.6M226.4 602.47h.6M227.27 600.16h.6M239.67 586.9h.6M236.74 589.95h.6M233.86 593.21h.6M235.25 591.89h.6M228.91 597.65h.6M229.6 600.7h.6M224.84 602.97h.6M240.66 586.39h.6M230.28 598.3h.6M235.68 591.7h.6M235.7 591.16h.6M239.49 588.86h.6M229.93 598.56h.6M236.59 591.68h.6M231.93 598.63h.6M232.32 594.92h.6M236.45 590.79h.6M240.95 585.51h.6M231.24 598.16h.6M229.83 596.14h.6M237.69 590.77h.6M225.35 602.24h.6M229.12 597.25h.6M240.84 584.03h.6M233.75 594.72h.6M226.71 600.66h.6M228.39 597.73h.6M227.53 601.72h.6M236.25 590.81h.6M237.03 588.55h.6M228.41 598.78h.6M241.53 584.97h.6M230.54 596.16h.6M226.62 602.12h.6M236.69 590.92h.6M227.99 600.6h.6M240.12 586.95h.6M238.81 591.25h.6M235.95 590.86h.6M237.28 592.17h.6M231.74 595.89h.6M239.84 588.24h.6M237.37 588.16h.6M233.33 595.18h.6M230 597.5h.6M226.18 600.26h.6M233.06 593.14h.6M239.5 588.52h.6M229.48 597.94h.6M229.1 597.95h.6" stroke="#f4925e" stroke-width=".6"/>
<path d="M220.18 650.04h.6M233.26 654.95h.6M226.12 650.03h.6M243.29 653.91h.6M225.21 645.26h.6M248.54 645.25h.6M252.78 640.93h.6M211.17 655.76h.6M230.85 644.88h.6M216.48 653.75h.6M244.86 651.4h.6M223.75 651.53h.6M238.81 649.07h.6M235.66 654.65h.6M223.16 654.11h.6M217.23 662.15h.6M243.74 649.16h.6M226.5 648.15h.6M235.23 642.33h.6M246.84 665.91h.6M232.24 645.85h.6M229.5 656.42h.6M222.28 656.08h.6M237.21 642.27h.6M224.31 646.27h.6M215.59 655.81h.6M226.63 650.63h.6M226.21 641.73h.6M216.17 651.52h.6M230.05 661.15h.6M240.65 653h.6M238.24 654.4h.6M252.86 659.49h.6M243.91 665.62h.6M235.14 650.78h.6M212.07 646.24h.6M234.82 650.02h.6M244.85 647.15h.6M229.86 640.94h.6M247.03 649.35h.6M223.35 643.69h.6M235.29 659.07h.6M241.04 649.52h.6M249.79 632.06h.6M232.18 643h.6M252.45 652.72h.6M229.08 646h.6M214.56 644.27h.6M231.54 646.01h.6M246.64 643.95h.6M229.22 654h.6M249.33 646.44h.6M230.57 643.25h.6M251.91 655.51h.6M210.22 641.32h.6M255.91 651.11h.6M211.82 642.5h.6M231.99 646.5h.6M220.5 645.97h.6M235.83 641.49h.6M230.37 645.27h.6M229.53 659.73h.6M239.05 641.53h.6M242.42 663.38h.6M229.2 655.17h.6M245.2 660.41h.6M214.84 645.92h.6M221.66 657.01h.6M218.57 650.84h.6M237.45 663.8h.6M241.86 646.38h.6M228.14 658.21h.6M225.95 645.25h.6M220.22 659.36h.6M239.44 646.85h.6M244.18 641.56h.6M226.76 639.74h.6M230.62 645.31h.6M228.33 660.28h.6M232.21 640.08h.6M237.19 643.94h.6M209.72 648.54h.6M226.93 649.55h.6M240.8 650.97h.6M223.14 660.68h.6M245.49 647.83h.6M247 639.07h.6M222.82 654.6h.6M224.38 646.39h.6M246.03 647.75h.6M215.68 650.32h.6M221.72 660.68h.6M215.82 658.17h.6M232.79 649.78h.6M236.18 646.98h.6M237.54 652.68h.6M235.42 644.09h.6M218.13 636.94h.6M244.62 644.77h.6M231.89 656.43h.6M228.44 644.68h.6M250.16 645.9h.6M233.77 659.84h.6M236.11 659.93h.6M241.1 660.13h.6M253.2 644.12h.6M232.34 653.17h.6M239.56 659.24h.6M208.46 656.94h.6M222.39 646.96h.6M253.64 648.15h.6M252.93 644.35h.6M230.86 645.87h.6M223.22 652.28h.6M218.34 652.28h.6M220.04 643.47h.6M226.46 654.32h.6M214.6 651.06h.6M231.25 658.82h.6M230.62 645.87h.6M219.65 651.26h.6M218.96 633.79h.6M220.29 655.16h.6M227.31 653.81h.6M230.08 655.79h.6M238.18 650h.6M214.34 649.96h.6M228.74 649.33h.6M232.66 658.58h.6M235.63 642.97h.6M241.11 649.17h.6M228.17 654.12h.6M245.09 647.31h.6M255.93 643.34h.6M236.96 647.77h.6M248.41 652.1h.6M242.52 661.04h.6M237.15 646.2h.6M230.38 634.62h.6M235.24 657.08h.6M253.69 649.88h.6M233.42 654.12h.6M224.74 649.12h.6M227.61 649.6h.6M240.7 636.23h.6M226.2 653.75h.6M242.11 641.97h.6M240.27 654.31h.6M235.16 636.2h.6M249.81 657.94h.6M219.46 648.34h.6M227.19 633.24h.6M231.04 650.32h.6M236.83 650.15h.6M218.97 650.19h.6M226.92 641.64h.6M246.06 665.18h.6M228.63 645.88h.6M242.09 656.46h.6M230.21 631.83h.6M224.9 653.73h.6M237.82 652.85h.6M245.9 649.23h.6M232 658.11h.6M219.06 645.15h.6M224.48 652.56h.6M227.8 648.93h.6M229.69 651.31h.6M222.73 642.51h.6M239.36 653.94h.6M221.46 653.28h.6M242.34 651.52h.6M221.49 651.62h.6M222.3 646.7h.6M243.78 645.2h.6M239.54 647.91h.6M228.77 652.11h.6M226.12 640.98h.6M229.92 648.8h.6M232.71 660.46h.6M234.78 654.65h.6M242.93 642.98h.6M223.79 658.29h.6M232.32 637.8h.6M232.91 648.2h.6M218.3 657.46h.6M244.16 654.36h.6M249.35 652.15h.6M232.16 642.43h.6M214.29 638.18h.6M223.86 653.38h.6M241.71 651.61h.6M211.37 661.46h.6M211.7 645.55h.6M226.83 641.89h.6M236.79 645.7h.6M240.46 636.67h.6M242.33 646.9h.6M207.81 648.99h.6M225.96 648.13h.6M222.01 661.98h.6M221.89 662.46h.6M239.82 647.02h.6M236.2 645.47h.6M224.39 658.32h.6M234.23 656.9h.6M234.09 640.71h.6M244.9 644.26h.6M226.4 643.92h.6M238.38 640.35h.6M224.75 645.4h.6M236.53 640.57h.6M231.71 654.71h.6M234.77 652.82h.6M232.13 637.38h.6M247.45 644.9h.6M225.29 645.26h.6M223.05 659.3h.6M226.88 644.93h.6M237.18 655.63h.6M239.74 660.9h.6M232.16 643.32h.6M226.13 653.3h.6M228.73 650.29h.6M225.99 655.87h.6M237.82 639.97h.6M232.76 647.03h.6M235.2 637.92h.6M233.57 654.76h.6M233.69 635.75h.6M244.28 650.15h.6M228.21 638.53h.6M237.09 644.39h.6M237.42 643.83h.6M225.79 650.16h.6M248.9 653.53h.6M235.07 657.82h.6M221.68 659.43h.6M242.15 649.96h.6M238.25 641.94h.6M239.62 658.48h.6M230.68 640.97h.6M229.2 649.8h.6M234.16 644.86h.6M219.39 645.41h.6M234.25 651.15h.6M233.31 641.74h.6M241.31 649.11h.6M230.52 649.14h.6M238.46 657.29h.6M218.73 657.84h.6M225.11 655.36h.6M240.12 650.24h.6M246.71 662.12h.6M241.19 656.83h.6M217.95 640.94h.6M222.42 652.08h.6M226.49 653.21h.6M244.5 643.98h.6M226.55 651.69h.6M234.73 647.63h.6M236.95 643.55h.6M236.92 650.35h.6M231.04 645.5h.6M235.65 641.23h.6M240.7 650.05h.6M234.08 636.76h.6M232.02 657.99h.6M240.14 647.46h.6M247.23 650.55h.6M256.51 656.77h.6M221.51 656.6h.6M235.24 647.82h.6M233.6 652.27h.6M221.9 656.81h.6M229.79 659.96h.6M225.94 644.29h.6M223 652.05h.6M226.58 642.17h.6M238.62 643.52h.6M222.46 649.28h.6M227.32 648.3h.6M231.12 642.01h.6M222.74 643.31h.6M220.43 649.13h.6M216.85 639.43h.6M224.99 650.77h.6M245.88 641.12h.6M215.75 659.62h.6M240.42 650.82h.6M223.24 654.85h.6M223.01 646.93h.6M239.67 657.43h.6M237.54 653.19h.6M238.37 654.87h.6M232.07 650.34h.6M240.5 654.02h.6M226.03 648.84h.6M235.5 653.93h.6M241.51 647.42h.6M231.7 647.34h.6M223.8 650.7h.6M248.36 650.33h.6M229.98 649.2h.6M222.65 644.07h.6M238.28 647.72h.6M244.53 656.3h.6M237.72 650.54h.6M220.59 652.01h.6M232.82 645.96h.6M235.27 659.54h.6M238.42 648.16h.6M218.41 653.54h.6M219.91 649.49h.6M234.15 658.19h.6M232.39 638.4h.6M236.7 634.87h.6M243.59 647.09h.6M219.01 631.64h.6M221.2 643.81h.6M226.52 644.24h.6M246.98 647.49h.6M230.21 654.04h.6M241.68 639.69h.6M209.02 653.1h.6M234.36 658.3h.6M241.21 660.94h.6M246.04 641.48h.6M225.38 646.91h.6M252.04 663.21h.6M224.44 642.42h.6M246.76 657.73h.6M249.23 652.29h.6M231.83 653.66h.6M219.5 637.74h.6M254.21 639.51h.6M236.39 643.33h.6M220.92 654.09h.6M237.52 655.43h.6M222.32 643.98h.6M234.31 651.78h.6M221.84 650.65h.6M210.27 642.74h.6M239.18 641.74h.6M225.63 635.61h.6M231.14 641.25h.6M233.48 643.47h.6M230.67 658.05h.6M225.45 655.24h.6M235.93 647.79h.6M238.32 651.43h.6M234.62 643.06h.6M229.01 632.33h.6M232.86 650.83h.6M247.35 653.08h.6M244.46 643.4h.6M230.29 657.6h.6M238.81 656.5h.6M238.69 654.8h.6M238.77 635.47h.6M233.58 649.28h.6M238.03 653.48h.6M230.04 642.73h.6M240.2 645.25h.6M238.61 655.1h.6M240.06 663.75h.6M239.93 654.9h.6M238.91 650.83h.6M225.78 645.5h.6M221.89 641.38h.6M234.77 643.06h.6M229.53 651.89h.6M240.57 645.7h.6M227.02 658.85h.6M228.75 639.71h.6M220.07 641.04h.6M232.05 648.96h.6M229.29 650.92h.6M244.41 650.24h.6M233.78 641.71h.6M246.88 644.22h.6M225.77 656.31h.6M217.61 646.92h.6M243.76 646.18h.6M238.15 654.23h.6M248.66 652.59h.6M226.76 649.8h.6M216.37 661.78h.6M248.86 640.07h.6M236.47 652.47h.6M228.01 645.48h.6M254.82 656.9h.6M234.43 642.92h.6M225.97 654.46h.6M237.84 646.93h.6M228.95 667.85h.6M226.02 651.45h.6M238.12 665.54h.6M234.56 644.99h.6M232.32 645.49h.6M233.11 652.34h.6M220.91 637.62h.6M241.12 643.1h.6M252.81 660.47h.6M236.93 657.67h.6M246.66 648.24h.6M253.56 657.79h.6M232 653.07h.6M227.49 653.16h.6M224.73 642.98h.6M229.47 656.69h.6M241.74 645.76h.6M232.67 660.43h.6M245.67 642.46h.6M227.82 667.65h.6M250.22 645.09h.6M230.96 640.12h.6M233.23 641.79h.6M234.73 652.54h.6M231.79 651.85h.6" stroke="#56bb69" stroke-width=".6"/>
<path d="M192.65 669.29h.7M201.23 653.34h.7M202.09 639.7h.7M198.36 651.19h.7M204.7 643.06h.7M208.5 638.2h.7M190.94 663.26h.7M196.17 661.5h.7M206.08 644.48h.7M194.62 651.58h.7M212.2 636.02h.7M208.11 641.09h.7M210.58 638.06h.7M213.29 633.64h.7M198.5 648.49h.7M192.72 653.63h.7M208.98 649.33h.7M199.31 663.51h.7M206.76 646.19h.7M196.57 655.06h.7M209.09 647.1h.7M196.89 657.52h.7M197.25 660.42h.7M194.39 655.89h.7M201.15 648.57h.7M198.51 652.25h.7M205.6 644.75h.7M197 651.03h.7M191.87 657.02h.7M205.18 646.36h.7M210.97 634.02h.7M204.96 643.3h.7M190.32 661.84h.7M188.87 666.47h.7M187.61 656.51h.7M197.12 652.13h.7M204.55 648.77h.7M193.91 660.96h.7M193.74 668.72h.7M191.7 655.83h.7M206.35 650.47h.7M191.09 667.17h.7M200.24 646.83h.7M203.09 647.27h.7M213.62 635.56h.7M198.71 647.65h.7M197.77 650.41h.7M197.4 651.82h.7M193.23 657.66h.7M192.3 656.13h.7M201.36 647.47h.7M211.88 643.64h.7M197.68 654.21h.7M208.31 644.77h.7M200.36 644.3h.7M203.56 646.11h.7M204.9 648.58h.7M199.94 654.73h.7M206.12 648.46h.7M202.46 651.32h.7M204.62 654.12h.7M192.6 652.01h.7M193.95 659.02h.7M189.77 668.72h.7M197.05 656.54h.7M190.68 651.6h.7M180.75 655.29h.7M197.84 645.69h.7M194.5 654.09h.7M196.23 657.29h.7M200.28 662.88h.7M196.6 660.47h.7M204.62 648.91h.7M209.08 645.7h.7M202.76 647.54h.7M200.61 651.11h.7M194.38 654.26h.7M185.57 667.05h.7M202.02 650.65h.7M195.9 647.9h.7M192.37 661.64h.7M194.8 655.72h.7M204.18 639.99h.7M208.81 635.16h.7M202.65 641.28h.7M195.9 665.27h.7M191.46 658.32h.7M191.79 660.08h.7M207.48 636.19h.7M214.34 634.51h.7M196.47 654.65h.7M185.68 660.19h.7M194.42 658.07h.7M193.15 668.48h.7M206.33 634.29h.7M199.77 663.91h.7M190.26 662.81h.7M211.58 646.29h.7M195.26 651.1h.7M200.73 654.69h.7M195.9 658.83h.7M199.77 650.52h.7M193.93 662.36h.7M194.58 654.1h.7M205.2 643.49h.7M212.27 635.34h.7M191.69 656.88h.7M211.09 638.43h.7M191.67 650.21h.7M197.55 656.98h.7M214.81 639.42h.7M191 658.82h.7M211.98 633.53h.7M211.86 649.02h.7M196.69 660.92h.7M210.17 640.41h.7M208.49 641.02h.7M211.48 645.92h.7M200.13 648.08h.7M205.64 645.56h.7M200.76 650.31h.7M200.91 642.43h.7M203.62 652.34h.7M190.22 663.16h.7M201.42 647.29h.7M186.15 666.19h.7M216.06 633.93h.7M207.98 644.53h.7M195.06 661.61h.7M197.71 660.62h.7M208.16 653.2h.7M203.65 642.5h.7M198.31 658h.7M210.24 640.09h.7M215.05 635.65h.7M196.23 648.61h.7M196.45 655.14h.7M205.31 652.17h.7M186.01 661.83h.7M196.93 653.14h.7M182.87 663.17h.7M197.42 649.54h.7M196.28 652.94h.7M202.49 652.12h.7M200.23 652.73h.7M197.6 646.93h.7M204.46 648.64h.7M205.7 641.31h.7M191.17 662.21h.7M195.94 652.67h.7M197.76 652.77h.7M203.24 651.47h.7M194.52 662.8h.7M207.69 639.56h.7M189.31 664.89h.7M212.42 637.71h.7M209.73 636.88h.7M213.05 639.08h.7M212.67 637.78h.7M186.15 667.93h.7M186.49 658.38h.7M196.54 646.81h.7M195.41 653.41h.7M187.9 664.78h.7M195.59 661.16h.7M196.68 654.33h.7M198.35 649.19h.7M192.48 648.73h.7M204.62 649.26h.7M193.46 659.81h.7M205.6 648.79h.7M204.66 651.17h.7M205.91 648.69h.7M207.22 642.81h.7M202.37 659.47h.7M210.25 642.44h.7M185.06 662.89h.7M213.99 635.9h.7M185.52 664.18h.7M190.33 668.03h.7M210.3 637.75h.7M193.63 660.54h.7M194.83 664.71h.7M201.87 651.71h.7M203.46 650.36h.7M205.69 641.9h.7M187.8 662.03h.7M195.65 653.81h.7M209.76 643.32h.7M215.52 639.87h.7M207.4 645.75h.7M208.95 661.49h.7M206.81 639.82h.7M200.94 646.81h.7M199.18 659.11h.7M204.46 647.87h.7M197.47 651.68h.7M194.81 655.8h.7M201.66 652.71h.7M195.09 659.1h.7M196.36 656.61h.7M194.98 656h.7M194.71 661.41h.7M199.11 649.49h.7M186.33 662.25h.7M210.76 641.28h.7M198.63 649.78h.7M190.26 658.44h.7M200.33 652.97h.7M200.35 654.12h.7M193.12 652.28h.7M199.18 644.21h.7M213.84 644.37h.7M213.29 635.94h.7M190.18 664.37h.7M193.22 663.32h.7M194.08 657.41h.7M204.44 646h.7M189.45 664.97h.7M197.8 652.47h.7M205.12 645.14h.7M212.7 635.11h.7M201.72 649.52h.7M200.07 655.43h.7M208.35 645.11h.7M195.59 653.09h.7M187.5 657.01h.7M201.55 654.15h.7M203.98 647.45h.7M199.8 654.64h.7M205.36 642.06h.7M202.7 650.75h.7M198.8 657.08h.7M196.38 664.97h.7M193.22 650.54h.7M207.12 640.77h.7M202.16 648.12h.7M190.09 667.63h.7M197.92 648.74h.7M203.41 643.65h.7M206.97 640.53h.7M207.9 641.54h.7M198.75 641.96h.7M197.95 659.5h.7M181.71 667.81h.7M201.14 653.08h.7M202.57 646h.7M194.35 656.15h.7M206.14 635.18h.7M190.15 666.06h.7M212.27 628.74h.7M187.25 661.58h.7M206.17 643.44h.7M211.86 635.73h.7M198.31 654.58h.7M190.35 656.27h.7M205.38 654.24h.7M215.87 638.27h.7M207.16 641.57h.7M200.48 648.11h.7M207.36 636.27h.7M196.26 659.68h.7M196.62 652.13h.7M192.94 653.72h.7M204.8 645.65h.7M213.27 635.15h.7M209.74 643.85h.7M184.99 664.89h.7M195.47 661.87h.7M203.52 657.65h.7M213.27 638.29h.7M193.85 665.87h.7M210.01 643.27h.7M199.99 665.97h.7M197.9 651.58h.7M193.1 657.09h.7M201 664.63h.7M196.15 651.97h.7M206.77 644.44h.7M199.72 651.41h.7M202.18 649.28h.7M215.38 635.54h.7M186.95 660.49h.7M212.99 640.47h.7M205.57 643.66h.7M214.32 637.81h.7M197.28 659.31h.7M193.57 660.76h.7M199.52 661.82h.7M199.78 656.6h.7M211.6 638.02h.7M206.99 649.65h.7M195.5 665.91h.7M208.92 638.81h.7M208.26 651.83h.7M189.7 662.01h.7M201.74 642.23h.7M205.34 646.54h.7M194.88 655.24h.7M207.98 638.93h.7M194.11 656.44h.7M192.98 664.51h.7M190.9 656.56h.7M203.61 655.28h.7M205.47 655.57h.7M205.89 643.28h.7M199.7 655.67h.7M183.17 656.2h.7M191.48 655.06h.7M194.87 655.49h.7M213.83 635.64h.7M189.77 663.17h.7M204.55 643.62h.7M189.23 662.8h.7M207.29 641.16h.7M192.2 657.59h.7M206.56 637.9h.7M194.28 653.41h.7M208.62 643.47h.7M186.82 664.65h.7M194.31 658.11h.7M211.26 636.27h.7M187.46 663.21h.7M188.45 671.91h.7M214.91 637.29h.7M193.41 659.29h.7M194.41 654.66h.7M210.9 633.88h.7M199.88 657.48h.7M203.52 653.06h.7M185.78 655.33h.7M201.08 648.56h.7M193.44 656.25h.7M194.12 656.84h.7M193.32 663.18h.7M192.07 666.49h.7M194.28 664.48h.7M187.32 666.98h.7M190.68 665.82h.7M182.98 660.91h.7M213.18 645.29h.7M203.54 648.72h.7M197.52 648.58h.7M196.66 655.15h.7M203.19 647.42h.7M193.45 658.77h.7M194.25 649.45h.7M200.59 656.42h.7M210.02 641.07h.7M209.36 641.25h.7M197.32 655.18h.7M195.21 648.34h.7M198.82 659.38h.7M197.71 646.67h.7M209.14 636.71h.7M203.14 643.25h.7M201.46 647.41h.7M213.49 633.49h.7M195.32 655.44h.7M207.63 648.07h.7M216.38 635.15h.7M202.39 642.56h.7M195.25 655.63h.7M207.11 644.06h.7M208.14 637.97h.7M205.53 647.2h.7M202.12 646.08h.7M184.54 665.76h.7M205.37 654.83h.7M206.23 647.51h.7M196.75 660.63h.7M213.1 639.17h.7M196.61 660.54h.7M213.08 638.5h.7M196.03 659.66h.7M201.27 654.79h.7M189.35 666.41h.7M196.94 654.02h.7M197.83 660.01h.7M200.7 655.04h.7M196.11 651.57h.7M193.75 651.05h.7M207.14 645.2h.7M196.52 650.96h.7M195.75 660.82h.7M207.45 652.65h.7M210.91 639.5h.7M196.78 649.48h.7M200.73 650.1h.7M195.94 646.14h.7M193.42 665.84h.7M198.52 659.35h.7M199.1 663.96h.7M208.24 652.7h.7M202.66 647.75h.7M200.85 638.84h.7M204.16 646.36h.7M190.56 664.16h.7M188.28 661.49h.7M196.51 658.95h.7M187.05 671.85h.7M208.11 646.6h.7M196.35 656.23h.7M183.83 670.08h.7M207.07 642.69h.7M211.51 638.35h.7M212.3 633.17h.7M207.44 646.28h.7M191.03 663.06h.7M194.02 657.46h.7M208.5 638.83h.7M210.73 635.07h.7M205.36 639.18h.7M211.97 636.84h.7M205.37 650.96h.7M202.65 649.98h.7M196.64 653.75h.7M190.44 653.4h.7M195.24 662.91h.7M184.86 658.75h.7M204.6 645.8h.7M211.57 634.16h.7M198.84 650.56h.7M193.17 663.28h.7M197.64 655.91h.7M187.76 663.04h.7M196.7 649.05h.7M197.16 657.21h.7M195.98 656.29h.7M197.58 659.38h.7M197.07 654.98h.7M183.42 670.28h.7M204.51 648.6h.7M209.36 637.18h.7M207.97 643.13h.7M199.77 652.98h.7M197.5 648.42h.7M205.27 634.83h.7M195.45 657.68h.7M204.33 646.61h.7M193.73 656.86h.7M209.42 644.48h.7M214.76 636.87h.7M201.2 654.8h.7M193.22 658.27h.7M210.27 639.24h.7M203.18 641.64h.7M195.38 660.18h.7M194.32 655.55h.7M204.25 645.31h.7M206.83 641.06h.7M194.71 656.25h.7M215.65 639.24h.7M210.32 647.15h.7M201.13 645.59h.7M199.22 657.23h.7M197.55 650.89h.7M188.13 669.92h.7M201.47 647.97h.7M196.34 652.54h.7M198.37 654.54h.7M190.35 665.11h.7M203.74 642.26h.7M196.24 653.5h.7M203.33 640.93h.7M201.85 636.53h.7M211.71 641.07h.7M204.14 641.55h.7M194.57 660.86h.7M188.03 657.22h.7M197.18 660.52h.7M204.31 648.51h.7M192.19 662.53h.7M210.79 651.08h.7M207.53 642.49h.7M209.06 650.76h.7M197.92 644.69h.7M200.36 651.51h.7M199.02 650.11h.7M189.46 654.5h.7M186.41 658.28h.7M186.8 664.75h.7M209.8 640.24h.7M210.09 633.57h.7M192.53 657.34h.7M186.31 668.46h.7M210.47 638.83h.7M199.45 643.63h.7M204.33 644.21h.7M196.49 646.13h.7M189.33 662.62h.7M210.49 637.47h.7M210.72 644.41h.7M195.61 660.14h.7M200.4 642.66h.7M206.78 646.08h.7M202.17 645.47h.7M206.66 653.62h.7M206.7 640.48h.7M194.63 665.57h.7M204.1 655.31h.7M186.27 663.31h.7M198.45 646.83h.7M215.99 644.77h.7M200.4 652.88h.7M185.48 670.02h.7M184.59 662.21h.7M191.53 660.15h.7M199.14 658.23h.7M183.29 656.89h.7M194.45 646.94h.7M200.67 656.12h.7M200.68 645.6h.7M203.06 644.69h.7M201.7 655.69h.7M202.5 639.97h.7M188.55 656.11h.7M196.96 661.4h.7M188.79 658.62h.7M202.82 646.25h.7M196.44 655.86h.7M195.44 652.2h.7M203.35 642.31h.7M203.87 643.15h.7M194.41 652.99h.7M195.29 661.82h.7M203.21 648.68h.7M185.91 657.48h.7M211.39 641.6h.7M210.59 642.2h.7M184.1 668.36h.7M210.04 641.17h.7M194.65 665.71h.7M208.84 645.49h.7M201.88 652.96h.7M198.94 652.16h.7M197.51 661.14h.7M192.56 664.77h.7M211.94 637.31h.7M213.2 635.29h.7M203.73 640.52h.7M196.74 657.42h.7M211.29 646.49h.7M200.56 636h.7M195.46 652.39h.7M201.88 652.53h.7M198.32 655.9h.7M209.42 646.4h.7M194.7 661.39h.7M194.03 669.33h.7M194.16 657.76h.7M191.44 654.37h.7M210.3 639.22h.7M195.82 655.15h.7M192.85 658.58h.7M198.54 648.95h.7M195.78 660.29h.7M203.95 645.53h.7M205.57 641.12h.7M201.39 653.11h.7M209.58 636.96h.7M186.75 660.82h.7M191.11 665.63h.7M191.8 652.34h.7M196.28 654.88h.7M194.58 642.37h.7M202.04 649.34h.7M205.5 645.9h.7M209.03 645.75h.7M197.44 649.5h.7M203.57 652.99h.7M185.77 661.71h.7M192.69 662.64h.7M198.36 648.9h.7M204.73 635.2h.7M202.87 643.45h.7M198.22 657.68h.7M185.85 672.07h.7M205.45 643.41h.7M205.13 640.9h.7M204.32 644.01h.7M188.99 659.61h.7M201.7 645.34h.7M208.96 639.2h.7M194 662.07h.7M205.04 643.68h.7M192.65 654.84h.7M186.12 661.74h.7M207.76 635.68h.7M203.55 648.17h.7M198.64 651.11h.7M197.02 649.76h.7M189.34 662.88h.7M197.92 658.92h.7M207.6 642.83h.7M202.17 648.31h.7M199.01 650.38h.7M191.46 653.32h.7M206.83 649.52h.7M204.55 643.14h.7M201.16 646.57h.7M199.94 646.44h.7M187.66 658.78h.7M211.52 633.74h.7M204.26 645.85h.7M213.14 637.1h.7M203.51 649.8h.7M200.59 653.74h.7M194.09 649.16h.7M197.2 659.92h.7M212.61 635.83h.7M208.95 639.02h.7M200.17 645.02h.7M202.08 650.35h.7M186.68 666.82h.7M191.33 666.83h.7M201.03 654.5h.7M209.82 652.07h.7M191.02 663.62h.7M194.37 654.98h.7M194.43 662.74h.7M197.19 658.52h.7M189.22 664.75h.7M200.42 646.67h.7M199.62 648.43h.7M198.87 648.16h.7M207.08 644.15h.7M193.73 663.77h.7M206.15 652.35h.7M198.2 650.81h.7M193.49 652.32h.7M204.21 638.92h.7M189.12 664.6h.7M202.4 646.76h.7M199.77 651.24h.7M206.56 634.39h.7M204.91 640.61h.7M195.03 646.15h.7M199.03 655.39h.7M210.84 638.89h.7M194.47 659.68h.7M198.37 651.58h.7M200.57 657.76h.7M211.94 635.05h.7M201.57 649.46h.7M185.19 665.49h.7M196.9 653.8h.7M197.31 655.68h.7M196.63 653.79h.7M199.74 648.6h.7" stroke="#bf98d3" stroke-width=".7"/>
<path d="M197.35 653.9h.8M207.59 644.3h.8M205.18 649.24h.8M199.06 649.87h.8M204.21 648.33h.8M200.16 651.98h.8M200.22 650.02h.8M191.35 659.35h.8M206.49 646.3h.8M199.15 650.83h.8M197.05 654.33h.8M197.39 656.58h.8M205.9 642.22h.8M210.13 638.58h.8M201.96 646.04h.8M192.1 656.7h.8M201.86 648.74h.8M194.09 653.43h.8M207.24 639.57h.8M196.3 657.76h.8M198.5 650.61h.8M199.76 653.03h.8M209.92 639.38h.8M206.57 640.72h.8M196.3 657.51h.8M202.04 650.37h.8M194.71 654.65h.8M199.48 653.52h.8M199.76 650.91h.8M207.76 643.98h.8M206.1 639.79h.8M198.53 654.49h.8M187.51 660.65h.8M205.85 643.68h.8M196.17 655.81h.8M199.18 657.33h.8M202.85 648.41h.8M192.23 660.95h.8M199 655.25h.8M207.01 643.44h.8M202.88 648.56h.8M195.29 658.56h.8M206.99 644.65h.8M192.18 656.33h.8M191.22 661.65h.8M192.85 655.03h.8M196.81 656.92h.8M195.72 657.14h.8M212.33 635.84h.8M199.28 654.98h.8M202.05 647.26h.8M197.36 652.24h.8M196.81 656.26h.8M206.89 642.74h.8M206.26 643.34h.8M206.3 644.39h.8M200.45 653.96h.8M204.32 647.32h.8M188.79 663.87h.8M203.53 648.33h.8M201.06 646.75h.8M202.54 652.18h.8M195.92 654.88h.8M195.73 658.97h.8M188.58 667.29h.8M207.99 645.19h.8M205.52 642.47h.8M210.93 639.4h.8M194.91 657.73h.8M194.56 656.52h.8M210.11 638.27h.8M205.34 645.48h.8M203.53 649.16h.8M210.49 639.01h.8M204.29 649.13h.8M192.62 659.08h.8M191.4 665.51h.8M207.51 643.98h.8M211.7 636.32h.8M198.86 656.15h.8M205.58 642.95h.8M197.06 655.8h.8M197.43 654.99h.8M201.8 646.05h.8M194.19 659.6h.8M194 660.8h.8M201.21 650.85h.8M212.31 635.91h.8M199.99 652.84h.8M199.75 653.48h.8M200.99 652.88h.8M208.21 642.52h.8M205.59 644.16h.8M210.73 635.46h.8M203.34 652.15h.8M209.5 641.49h.8M197.77 654.42h.8M192.72 657.1h.8M196.88 654.22h.8M201.05 650.15h.8M205.92 645.45h.8M198.13 650.3h.8M206.06 646.29h.8M212.87 636.48h.8M190.96 662.43h.8M209.58 638.89h.8M194.34 650.73h.8M186.92 667h.8M194.56 662.52h.8M212.45 635.94h.8M207.8 637.36h.8M213.86 635.97h.8M191.22 663.01h.8M206.88 641.18h.8M207.28 642.43h.8M190.97 662.1h.8M195.67 656.17h.8M205.83 645.65h.8M198.48 651.94h.8M204.77 646.39h.8M211.34 637.22h.8M192.76 663.31h.8M200.41 644.67h.8M204.9 642.1h.8M191.44 664.65h.8M190.22 658.33h.8M202.96 649.58h.8M195.25 658.4h.8M197.5 658.56h.8M210.45 638.64h.8M196.76 652.26h.8M187.34 666.57h.8M192.67 662.66h.8M193 657.38h.8M210.61 638.76h.8M192.33 662.08h.8M200.13 649.67h.8M202.96 648.63h.8M195.32 659.56h.8M199.84 651.81h.8M208.32 638.08h.8M201.87 648.28h.8M200.06 648.28h.8M205.67 642.82h.8M197.43 651.74h.8M192.86 662.97h.8M200.67 653.66h.8M205.18 641.33h.8M211.98 638.93h.8M207 643.84h.8M195.13 658.1h.8M192.01 664.79h.8M191.6 661.4h.8M195.54 659h.8M202.41 648.79h.8M209.82 644.54h.8M204.16 648.29h.8M189.98 665.45h.8M198.2 655.3h.8M205.03 644.9h.8M198.41 651h.8M197.65 651.07h.8M204.92 647.61h.8M206.41 643.85h.8M209.7 641.73h.8M205.32 642.9h.8M203.44 652.5h.8M198.86 653.32h.8M208.6 640.72h.8M202.4 650.83h.8M203.69 653.95h.8M212.69 637.84h.8M207.31 644.58h.8M198.2 650.8h.8M201.88 646.22h.8M209.03 639.41h.8M209.4 643.6h.8M202.71 654.01h.8M207.69 639.04h.8M197.14 655.85h.8M194.46 656.15h.8M187.92 668.59h.8M193.65 659.64h.8M193.31 660.7h.8M200.08 651.7h.8M196.65 653.67h.8M201.79 648.8h.8M211.38 639.01h.8M206.95 645.85h.8M198.73 651.5h.8M188.65 662.95h.8M199.74 652.16h.8M192.26 656.81h.8M192.29 663.82h.8M211.34 636.48h.8M205.95 644.98h.8M190.55 661.65h.8M199 645.53h.8M205.93 644.65h.8M204.55 643.22h.8M199.07 650.23h.8M189.77 665.07h.8M204.54 645.14h.8M201 650.84h.8M208.89 638.55h.8M200.86 648.92h.8M195.64 654.43h.8M188.23 663.99h.8M195.98 653.05h.8M195.66 662.48h.8M199.66 649.07h.8M203.25 647.69h.8M203.46 646.1h.8M189.03 665.5h.8M207.6 640.74h.8M204.84 644.52h.8M203.64 646.76h.8M196.85 651.1h.8M208.57 646.15h.8M212.04 638.98h.8M207.22 644.33h.8M196.51 659.27h.8M210.85 636.95h.8M202.46 647.03h.8M201.75 647.34h.8M201.53 654.03h.8M194.2 657.21h.8M207.24 639.67h.8M203.13 649.08h.8M206.61 642.1h.8M204.86 645.69h.8M205.82 643.47h.8M200.72 651.97h.8M206.57 641.58h.8M189.78 662.45h.8M188.76 666.64h.8M201.41 648.52h.8M193.64 660.98h.8M200.43 648.23h.8M208.03 637.33h.8M201.8 645.56h.8M203.25 644.18h.8M208.09 645.22h.8M203.64 651.08h.8M202.89 646.54h.8M196.62 655.82h.8M193 661.33h.8M200.15 646.62h.8M204.54 646.1h.8M202.26 648.82h.8M203.78 646.11h.8M205.41 648.78h.8M195.11 661.51h.8M193.86 657.56h.8M205.05 646.72h.8M198.34 658.51h.8M208.06 641.49h.8M210.47 639.52h.8M201.14 651.83h.8M199.74 651.68h.8M206.81 642.1h.8M193.56 659.72h.8M207.23 643h.8M193.7 655.07h.8M199.28 650.05h.8M205.5 639h.8M208.01 643.43h.8M200.22 654.61h.8M192.58 660.87h.8M208.24 635.53h.8M199.48 655.68h.8M200.04 653.58h.8M203.62 649.4h.8M192.16 655.82h.8M197.94 648.8h.8M190.2 667.04h.8M196.31 653.3h.8M200.6 651.38h.8M196.33 653.28h.8M204.26 650.14h.8M196.64 652.73h.8M204.19 645.09h.8M192.66 662.37h.8M195.69 659.74h.8M207.83 645.45h.8M205.27 642.84h.8M202.12 647.97h.8M203.79 644.2h.8M207.2 642.28h.8M201.41 652.75h.8M197.71 655.98h.8M190.44 660.7h.8M213.5 636.99h.8M206.19 643.08h.8M209.29 638.57h.8M206.56 644.13h.8M196.01 654.69h.8M201.63 646.2h.8M203.78 652.54h.8M205.18 648.27h.8M192.43 658.96h.8M202.25 643.95h.8M194.66 660.12h.8M188.73 664.1h.8M207.05 645.02h.8M199.84 655.67h.8M207.23 641.47h.8M194.88 664.02h.8M200.33 650.93h.8M198.79 655.04h.8M188.25 659.86h.8M211.26 636.46h.8M208.97 639.61h.8M203.13 646.37h.8M208.52 640.03h.8M188.77 667.97h.8M207.64 643.09h.8M194.97 656.89h.8M209.59 640.11h.8M194.51 652.85h.8M185.91 664.82h.8M201.7 648.25h.8M199.07 658.98h.8M197.07 653.23h.8M199.59 650.19h.8M195.96 658.4h.8M211.46 636.5h.8M199.8 653.21h.8M208.62 640.53h.8M206.12 641.18h.8M208.23 641.42h.8M190.44 666.94h.8M202.84 648.79h.8M200.35 653.16h.8M201.63 654.06h.8M200.09 648.58h.8M202.72 646.62h.8M193.86 654.75h.8M198.03 653.46h.8M197.88 655.97h.8M196.65 654.37h.8M199.61 648.77h.8M212 637.25h.8M191.95 660.64h.8M197.61 656.83h.8M192.11 657.43h.8M196.16 653.54h.8M206.22 644.05h.8M204.25 651.73h.8M202.05 647.51h.8M201.58 652.24h.8M207.79 640.23h.8M207.14 644.17h.8M190.13 666.06h.8M209.85 639.24h.8M194.3 657.1h.8M198.61 656.11h.8M212.11 635.47h.8M186.32 667.44h.8M202.89 649.96h.8M189.24 665.65h.8M212.72 636.62h.8M202.93 653.58h.8M194.16 657.13h.8M195.09 657.06h.8M209 641.26h.8M203.02 646.9h.8M209.38 639.18h.8M202.74 647.1h.8M212.13 637.3h.8M208.01 643.58h.8M203.92 645.49h.8M189.99 663.62h.8M203.38 650.63h.8M199.02 650.13h.8M203.95 645.74h.8M201.59 650.05h.8M205.58 640.63h.8M202.06 647.17h.8M204.65 645.77h.8M196.94 655.47h.8M188.54 664.9h.8M203.04 650.49h.8M198.47 654.45h.8M187.74 664.13h.8M208.75 638.67h.8M190.11 666.16h.8M191.63 659.35h.8M193.85 663.21h.8M193.59 655.92h.8M198.19 649.35h.8M195.49 660.9h.8M208.9 641.81h.8M199.13 646.71h.8M188.64 665.47h.8M198.63 651.82h.8M187.97 663.85h.8M202.15 648.79h.8M191.74 662.48h.8M187.96 665.76h.8M190.89 666.13h.8M199.62 651.63h.8M202.77 648.05h.8M198.72 652.86h.8M196.54 658.74h.8M197.49 657.95h.8M197.32 658.14h.8M200.93 650.29h.8M195.08 660.96h.8M204.31 646.01h.8M198.58 652.06h.8M202.19 645.91h.8M199.13 653.88h.8M190.73 656.87h.8M210.72 638.81h.8M203.8 644.21h.8M202.32 644.23h.8M189.95 664.76h.8M198.14 653.17h.8M205.83 642.93h.8M195.62 652.72h.8M203.67 654.32h.8M201.92 648.88h.8M189.72 667.38h.8M194.62 659.05h.8M203.77 651.92h.8M203.15 651.03h.8M204.8 645.42h.8M195.8 659.64h.8M188.75 665.09h.8M197.2 651.55h.8M209.61 640.66h.8M204.38 647.06h.8M202.04 649.03h.8M208.26 640h.8M196.99 657.57h.8M196.93 654.85h.8M193.72 656.71h.8M208.54 639.84h.8M193.7 659.28h.8M201.95 645.73h.8M189.63 666.89h.8M208.61 640.96h.8M200.82 650.95h.8M201.13 651.59h.8M205.32 641.44h.8M208.93 639.81h.8M195.53 660.93h.8M202.25 651.7h.8M200.02 649.58h.8M194.63 660.56h.8M197.87 654.98h.8M197.2 651.42h.8M209.29 638.35h.8M196.72 654.82h.8M202.46 645.77h.8M194.4 654.86h.8M188.48 662.64h.8M203.81 648.06h.8M201.78 646.05h.8M202 645.93h.8M198.4 659.46h.8M205.54 646.19h.8M198.52 652.09h.8M201.57 652.87h.8M206.76 645.76h.8M208.57 640.47h.8M194.12 663.42h.8M205.35 643.55h.8M199.48 652.08h.8M192.44 656.84h.8M208.95 640.45h.8M201.59 650.48h.8M201.24 653.04h.8M199.07 654.77h.8M198.74 657.16h.8M193.53 659.69h.8M188.07 663.56h.8M191.5 662.01h.8M206.95 645.48h.8M195.98 652.34h.8M211.82 638.12h.8M186.98 666.98h.8M197.46 650.57h.8M189.87 663.34h.8M192.79 660.35h.8M208.96 644.24h.8M212.18 635.54h.8M202.93 646.93h.8M194.26 659.63h.8M195.99 657.84h.8M209.62 638.59h.8M212.52 636.16h.8M199.62 650.61h.8M212.46 635.61h.8M192.68 654.17h.8M198.7 653.24h.8M208.44 640.98h.8M199.7 657.35h.8M189.69 661.85h.8M197.54 656.9h.8M198.86 657.57h.8M194.31 657.67h.8M190.85 662.69h.8M206.82 643.21h.8M207.28 640.97h.8M198.02 656h.8M202.05 651.33h.8M193.2 658.7h.8M199.15 657.49h.8M200.83 650.43h.8M203.26 645.79h.8M206.28 643.22h.8M197.66 653.81h.8M204.77 642.96h.8M188.03 665.94h.8M207.48 644.07h.8M200.54 653.61h.8M187.1 666.54h.8M190.59 661.56h.8M192.89 658.9h.8M207.78 644.33h.8M191.07 658.38h.8M194.24 661.86h.8M208.17 641.17h.8M198.09 657.57h.8M213.38 634.81h.8M198.67 648.06h.8M203.26 647.16h.8M206.89 643.69h.8M197.33 657.16h.8M203.58 645.53h.8M198.86 652.91h.8M195.39 652.08h.8M187.45 663.98h.8M204.96 644.29h.8M200.54 645.63h.8M198.1 655.46h.8M211.2 638.99h.8M199.07 653.96h.8M188.31 667.23h.8M199.35 655.55h.8M199.29 651.28h.8M209 639.54h.8M206.39 640.85h.8M199.96 653.89h.8M209.2 643.85h.8M200.08 650.84h.8M193.74 654.2h.8M193.73 660.36h.8M211.49 638.32h.8M193.73 661.85h.8M196.03 654.07h.8M209.08 640.55h.8M192.99 661.02h.8M202.67 648.12h.8M193.64 660.97h.8M210.7 640.97h.8M204.32 644.84h.8M199.22 648.68h.8M197.78 657.34h.8M188.05 665.73h.8M192.22 664.75h.8M202.1 649.36h.8M197.83 657.53h.8M192.62 661.51h.8M202.77 650.25h.8M195.8 659.74h.8M200.72 647.16h.8M189.08 662.93h.8M210.51 640.74h.8M203.91 642.48h.8M201.8 650.25h.8M193.67 660.36h.8M204.05 649.53h.8M201.2 649.87h.8M197.06 660.7h.8M204.11 644.65h.8M199.32 648.25h.8M199.35 655.89h.8M206.23 643.48h.8M193.42 656.98h.8M197.4 661.99h.8M191.73 665.99h.8M207.99 641.57h.8M209.35 641.18h.8M199.01 653.38h.8M195.78 655.83h.8M202.98 648.37h.8M206.34 644.69h.8M208.82 639.69h.8M202.86 647.5h.8M194.19 661.46h.8M212.25 637.26h.8M200.2 650.86h.8M200.6 651.34h.8M194.14 659.63h.8M193.8 656.87h.8M192.64 657.73h.8M196.46 661.31h.8M197.45 652.15h.8M207.17 642.3h.8M207.25 643.37h.8M189.83 659.44h.8M210.04 636.81h.8M194.19 659.67h.8M210.54 638.5h.8M190.42 664.22h.8M206.99 641.55h.8M188.73 660.1h.8M203.52 648.27h.8M194.78 658.75h.8M188.5 665.43h.8M195.76 653.08h.8M195.21 654.15h.8M202.94 645.02h.8M202.22 646.73h.8M199.04 647.82h.8M200.56 649.54h.8M201.48 647.45h.8M207 642.32h.8M199.41 652.23h.8M205.66 641.78h.8M199.31 653.33h.8M201.45 653.55h.8M206.86 645.78h.8M205.67 647.99h.8M207.7 642.67h.8M204.51 646.8h.8M200.43 654.53h.8M197.37 651.74h.8M196.75 656.94h.8M196.81 647.69h.8M206.99 643.68h.8M207.08 640.61h.8M201.39 648.71h.8M198.12 650.98h.8M195.44 655.38h.8M196.75 653.63h.8M194.47 659.68h.8M197.25 656.89h.8M197.24 654.13h.8M192.72 655.04h.8M205.69 644.52h.8M199.52 654.86h.8M197.44 656.78h.8M190.1 663.38h.8M200.25 651.24h.8M200.31 650.33h.8M189.14 666.61h.8M197.83 656.63h.8M200.73 648.65h.8M196.88 654.2h.8M202.12 644.87h.8M210.32 639.73h.8M198.85 652.92h.8M199.96 653.39h.8M204.55 650.7h.8M196.78 650.78h.8M199.7 653.51h.8M206.33 641.95h.8M200.06 654.38h.8M194.91 658.25h.8M203.69 649.78h.8M198.56 658.75h.8M202.16 647.25h.8M203.97 643.32h.8M195.27 653.98h.8M190.42 666.84h.8M193.18 663.19h.8M196.87 658.04h.8M197.7 655.45h.8M203.69 648.41h.8M202.43 647.65h.8M189.08 662.43h.8M199.8 652.39h.8M192.35 662.53h.8M203.9 650.33h.8M200 652.54h.8M202 645.11h.8M205.96 643.8h.8M203.79 647.75h.8M201.58 650.75h.8M205.5 643.46h.8M188.52 663.05h.8M187.95 661.81h.8M195.78 664.56h.8M204.5 645.91h.8M206.61 638.44h.8M202.05 657.42h.8M197.78 656.54h.8M204.69 647.21h.8M206.89 646.13h.8M205.61 647.5h.8M208.05 639.87h.8M211.21 638.14h.8M201.42 649.25h.8M198.96 656.13h.8M195.25 652.63h.8M190.9 662.96h.8M210.78 636.3h.8M208.3 638.95h.8M201.08 645.77h.8M198.56 652.78h.8M191.67 658.69h.8M206.47 640.54h.8M202.93 649.49h.8M201.41 653.04h.8M209.64 638.41h.8M199.94 650.85h.8M193.94 662.54h.8M200.73 651h.8M200.65 650.03h.8M209.82 644.08h.8M208.4 640.58h.8M200.06 650.94h.8M201.56 653.09h.8M200.85 648.31h.8M189.52 662.51h.8M200.26 649.06h.8M204.61 647.73h.8M202.74 647.72h.8M190.87 666.71h.8M207.1 642.67h.8M210.96 639.34h.8M194.16 660.71h.8M209.98 640.31h.8M202.2 647.09h.8M204.43 649.24h.8M196.87 655.4h.8M204.15 642.84h.8M192.47 659.89h.8M208 641.75h.8M189.19 666.16h.8M192.61 664.07h.8M189.43 666.14h.8M195.66 654h.8M197.72 655.34h.8M200.14 645.34h.8M207.14 642.49h.8M205.31 649.31h.8M205.96 643.22h.8M194.76 653.46h.8M196 653.74h.8M204.86 649.61h.8M193.64 655.57h.8M191.72 660.61h.8M195.19 654.73h.8M206.13 642.07h.8M196.94 658.26h.8M203.06 643.81h.8M198.86 649.86h.8M202.76 647.65h.8M195.53 656.1h.8M205.45 646.05h.8M190.39 666.21h.8M188.09 664.65h.8M191.45 661.99h.8M200.28 652h.8M203.49 648.4h.8M192.9 658.25h.8M204.1 646.93h.8M210.58 640.25h.8M205.28 645.26h.8M210.66 639.13h.8M206.42 641.63h.8M195.83 654.34h.8M204.08 649.09h.8M201.31 653.93h.8M199.97 649.41h.8M204.38 648.23h.8M202.86 646.24h.8M202.74 648.9h.8M204.41 649.6h.8M197.1 661.34h.8M196.44 655.65h.8M192.35 662.48h.8M201.09 654.07h.8M195.93 651.44h.8M195.11 656.74h.8M197.46 655.75h.8M199.53 656.5h.8M198.47 655.06h.8M189.85 656.57h.8M187.16 666.54h.8M189.16 666.68h.8M195.86 659.22h.8M189.78 665.05h.8M207.66 642.28h.8M210.61 636.44h.8M206.72 641.64h.8M205.28 644.55h.8M191.94 658.1h.8M198.69 652.22h.8M200.55 647.01h.8M189.21 659.9h.8M206.92 644.1h.8M199.06 648.43h.8M198.26 657.1h.8M200.25 651.21h.8M193.01 661.24h.8M198.35 654.99h.8M208.36 641.12h.8M203.48 650.69h.8M197.81 657.42h.8M200.83 650.18h.8M203.16 648.34h.8M196.25 656.09h.8M205.1 644h.8M197.83 652.82h.8M197.33 651.69h.8M193.56 656.93h.8M197.73 651.3h.8M196.34 659.69h.8M194.42 653.89h.8M200.43 651.14h.8M211.43 638.81h.8M193.23 661.71h.8M187.37 664.76h.8M186.63 664.96h.8M185.85 664.04h.8M191.26 659.59h.8M189.58 667.09h.8M199.83 653.59h.8M203.4 646.71h.8M208.05 642.39h.8M199.95 649.81h.8M195.3 653.82h.8M197.02 658.64h.8M209.61 641.82h.8M187.45 665h.8M191.15 658.3h.8M194.54 660.34h.8M207.8 645.76h.8M207.75 643.69h.8M201.7 653.58h.8M203.48 645.52h.8M200.01 649.44h.8M200.19 651.54h.8M206.77 643.85h.8M195.16 657.86h.8M194.23 658.47h.8M195.99 663.54h.8M194.91 656.36h.8M203.03 646.96h.8M194.86 656.96h.8M191.24 663.24h.8M196.36 653.67h.8M201.75 647.84h.8M197.26 650.98h.8M194.4 659.99h.8M195.79 657.02h.8M202.69 646.45h.8M189.84 661.36h.8M197.03 653.39h.8M201.19 647.64h.8M208.58 640.63h.8M194.84 658.73h.8M210.38 637.55h.8M191.14 662.23h.8M202.09 650.15h.8M209.04 639.43h.8M204.89 648.42h.8M197.2 653.26h.8M194.27 655.22h.8M197.73 652.18h.8M194.22 657.61h.8M196.46 656.5h.8M206.14 641.51h.8M194.16 663.04h.8M202.21 644.23h.8M192.81 661.36h.8M187.6 661.63h.8M197.67 652.41h.8M195.35 653.02h.8M207.2 645.56h.8M203.11 646.57h.8M213.43 635.23h.8M199.59 655.92h.8M200.8 652.59h.8M199.12 650.22h.8M206.82 647.27h.8M209.93 639.07h.8M191.64 658.15h.8M189.93 661.7h.8M197.62 651.5h.8M191.33 665.41h.8M201.28 650.33h.8M192.12 658.55h.8M204.1 642.57h.8M194.19 656.19h.8M200.69 649.98h.8M190.32 666.2h.8M190.32 664.36h.8M195.72 654.28h.8M202.3 650.97h.8M211.65 634.48h.8M200.49 651.78h.8M207.23 647.6h.8M196.95 654.75h.8M197.14 653.92h.8M197 651.49h.8M197.94 656.02h.8M208.59 639.39h.8M194.38 654.61h.8M204.41 644.66h.8M198.23 656.39h.8M208.98 639.97h.8M194.36 658.7h.8M193.07 662.23h.8M202.44 644.95h.8M196.95 651.88h.8M212.48 636.7h.8M204.17 648.21h.8M201.64 650.6h.8M209.62 638.02h.8M204.04 647.47h.8M205.39 647.45h.8M199.54 651.04h.8M202.56 647.87h.8M212.77 635.84h.8M197.59 652.57h.8M197.14 654.05h.8M207.57 640.03h.8M203.35 644.09h.8M194.95 658.01h.8M201.51 644.82h.8M197.47 652.77h.8M206.67 643.51h.8M203.74 648.42h.8M200.92 652.38h.8M196.31 653.14h.8M193.03 659.98h.8M207.78 643.08h.8M195.61 656.54h.8M194.79 660.84h.8M201.13 651.66h.8M197.14 652.18h.8M211.01 637.27h.8M206.37 643.49h.8M209.61 639.71h.8M203.98 650.95h.8M196.04 654.06h.8M199.82 652.95h.8M203.03 648.01h.8M200.11 655.37h.8M205.31 648.83h.8M193.16 655.99h.8M198.25 652.04h.8M195.44 651.65h.8M194.41 653.72h.8M193.27 657.32h.8M199.74 657.92h.8M197.3 655.07h.8M202.7 647.83h.8M202.99 647.33h.8M204.41 648.68h.8M199.21 645.88h.8M190.38 661.11h.8M208.89 640.12h.8M188.2 662.8h.8M207.61 648.61h.8M208.47 641.14h.8M207.61 643.64h.8M207.04 639.47h.8M196.77 656.4h.8M192.8 660.17h.8M198.4 654.29h.8M196.25 656.22h.8M200.86 653.18h.8M202.81 646.93h.8M199.02 655.19h.8M198.34 652.8h.8M203.52 643.87h.8M201.57 651.44h.8M208.84 639.2h.8M189.08 665.69h.8M210.45 640.43h.8M193.11 655.04h.8M195.11 659.53h.8M199.85 650.12h.8M199.78 657.06h.8M196.53 656.38h.8M210.46 637.62h.8M199.34 648.03h.8M202.59 652.47h.8M197.27 655.3h.8M199.01 652.26h.8M196.33 653.42h.8M200.26 647.78h.8M200.61 650.96h.8M201.46 649.55h.8M201.17 647.23h.8M198.69 654.14h.8M204.2 645.19h.8M207.09 642.75h.8M191.92 661.07h.8M193 664.95h.8M197.97 651.83h.8M197.7 653.2h.8M205.85 642.83h.8M202.48 650.19h.8M196.17 657.17h.8M196.51 657.29h.8M199.14 650.04h.8M197.02 657.12h.8M195.24 660h.8M201.42 648.29h.8M194.89 656.84h.8M195.02 657.94h.8M204.1 651.56h.8M208.17 640.54h.8M199.41 653.17h.8M196.53 659.36h.8M200.25 657.87h.8M200.57 648.58h.8M206.95 645.32h.8M187.67 664.66h.8M212.64 636.87h.8M199.3 654.02h.8M199.86 653.62h.8M201.86 647.41h.8M187.88 663.58h.8M204.34 648.54h.8M206.05 643.2h.8M202.54 647.36h.8M191.78 661.23h.8M202.78 650.2h.8M199.66 654.27h.8M191.73 662.88h.8M191.14 664.72h.8M209.83 641.45h.8M209.86 641.11h.8M201.78 649.91h.8M200.77 649.43h.8M204.51 646.99h.8M211.06 639.82h.8M204.51 646.85h.8M193.57 658.7h.8M198.55 652.44h.8M206.8 643.47h.8M204.26 644.53h.8M189.83 664.04h.8M189.33 662.98h.8M199.62 653.97h.8M200.97 652.98h.8M196.99 657.42h.8M196.02 657.11h.8M186.9 664.34h.8M205.28 645.24h.8M198.57 649.06h.8M201.62 650.5h.8M198.08 657.55h.8M199.01 652.51h.8M191.74 662.07h.8M211.59 641.75h.8M206.49 646.21h.8M207.6 639.41h.8M198.68 651.65h.8M194.41 657.05h.8M206.26 644.08h.8M208.95 641.01h.8M203.51 647.05h.8M208.32 640.74h.8M199.91 652.78h.8M197.62 652.76h.8M191.51 658.6h.8M202.54 646.68h.8M210.73 639.55h.8M205.85 641.68h.8M195.85 660.01h.8M195.72 652.92h.8M197.28 652.97h.8M204.66 648.37h.8M192.9 652.69h.8M198.01 654.8h.8M204.4 646.65h.8M208.24 639.88h.8M205.3 648.38h.8M199.15 659.46h.8M195.67 657.68h.8M202.89 649.28h.8M196.22 653.29h.8M190.84 662.73h.8M203.65 648.47h.8M203.57 644.8h.8M197.55 656.02h.8M206.64 642.86h.8M192.5 658.27h.8M211.09 638.21h.8M200.9 647.87h.8M203.81 644.92h.8M188.53 662.46h.8M208.74 642.3h.8M202.94 649.64h.8M202.78 651.43h.8M200.75 653.5h.8M197.11 657.45h.8M198.95 651.63h.8M213.03 635.68h.8M195.67 654.32h.8M197.55 652.82h.8M191.93 659.47h.8M205.59 646.85h.8M202.95 648h.8M194.42 662.62h.8M198.96 649.82h.8M192.98 657.61h.8M202.61 646.4h.8M190.7 662.31h.8M195.85 660.47h.8M199.58 652.48h.8M200.31 653.12h.8M205.73 643.14h.8M191.19 657.22h.8M208.49 640.69h.8M194.27 656.85h.8M192.14 658.79h.8M194.43 657.64h.8M204.03 645.03h.8M207.03 641.51h.8M190.49 660.13h.8M201.86 651.1h.8M192.01 659.76h.8M190.28 663.15h.8M193.61 660.3h.8M205.73 644.12h.8M194.75 659.73h.8M198.97 653.18h.8M190.95 663.35h.8M192.93 654.99h.8M191.16 657.85h.8M201.82 648.69h.8M202.6 650.27h.8M200.26 653h.8M196.25 654.78h.8M208.29 639.95h.8M192.82 658.33h.8M191.17 662.49h.8M201.63 649.7h.8M213.17 634.75h.8M199.14 652.07h.8M202.63 646.47h.8M201.66 648.44h.8M212.25 635.48h.8M201.49 645.23h.8M199.29 648.73h.8M208.04 642.34h.8M209.88 638.23h.8M208.12 640.35h.8M198.67 655.91h.8M208.56 641.89h.8M206.93 645.27h.8M205.77 643.67h.8M209.43 639.58h.8M206.59 642h.8M197.16 651.42h.8M196.06 649.35h.8M194.57 656.87h.8M201.73 652.92h.8M200.04 649.51h.8M195.35 658.21h.8M198.49 651.71h.8M196.66 653.73h.8M190.98 660.35h.8M192.91 663.53h.8M190.65 660.09h.8M200.25 650.08h.8M192.18 661.52h.8M200.18 650.86h.8M211.63 636.12h.8M202.94 647.91h.8M193.51 654.8h.8M198.13 659.87h.8M207.41 640.61h.8M195.07 654.12h.8M211.65 637.84h.8M213.13 634.85h.8M190.99 659.85h.8M197.07 657.33h.8M195.13 659.8h.8M188.16 663.77h.8M195.78 655.6h.8M191.27 661.29h.8M204.4 648.15h.8M201.55 655.87h.8M203.12 652.43h.8M207.47 641.4h.8M192.45 659.76h.8M189.03 665.29h.8M196.97 655.16h.8M193.68 661.67h.8M199.58 648.35h.8M208.37 642.77h.8M194.79 662.93h.8M196.71 659.07h.8M194.93 659.05h.8M196.52 656.72h.8M196.48 654.64h.8M203.57 643.22h.8M196.54 652.05h.8M201.72 647.1h.8M192.93 655.38h.8M194.19 659.65h.8M190.36 661.49h.8M205.54 642.58h.8M193.62 656.68h.8M202.33 644.97h.8M192.95 661.68h.8M205.61 643.5h.8M202.75 650.48h.8M196.99 655.05h.8M202.53 648.38h.8M207.5 639.72h.8M198.23 654.16h.8M204.96 646h.8M204.91 645.38h.8M189.62 662.7h.8M194.95 653.11h.8M204.76 647.42h.8M194.68 658h.8M207.25 643.53h.8M198.9 652.39h.8M202.12 649.12h.8M198.56 654.59h.8M191.93 661.27h.8M203.77 651.54h.8M205.66 644.97h.8M200.08 648.21h.8M199.28 659.24h.8M196.39 653.46h.8M203.56 648.54h.8M189.15 663.38h.8M201 646.3h.8M206.86 646.88h.8M209.56 641.5h.8M209.09 642.56h.8M187.2 668.37h.8M207.21 644.28h.8M197.85 654.8h.8M190.72 662.14h.8M201.02 647.15h.8M195.75 654.14h.8M203.67 646.1h.8M193.11 655.14h.8M192.53 662.5h.8M196.64 657.33h.8M198.22 652.87h.8M196.91 657.73h.8M206.01 644.47h.8M206.32 644.31h.8M194.26 657.97h.8M194.42 649.73h.8M197.27 654.25h.8M211.3 637.37h.8M198.34 653.29h.8M203.08 646.54h.8M208.07 641.42h.8M198.78 655.06h.8M188.28 663.5h.8M203.96 646.41h.8M190.84 660.12h.8M207.14 642.67h.8M199.91 653.47h.8M196.46 651.22h.8M211.95 634.94h.8M196.7 654.06h.8M203.06 646.11h.8M208.09 640.12h.8M200.74 648.51h.8M196.15 659.26h.8M200.94 646.49h.8M187.89 662.35h.8M204.89 642.34h.8M199.62 651.63h.8M190.54 658.43h.8M204.71 647.73h.8M198.13 650.61h.8M196.22 650h.8M198.78 650.84h.8M197.82 651.95h.8M204.38 652.64h.8M200.29 650.16h.8M205.13 642.93h.8M196.89 655.85h.8M201.57 652.2h.8M204.68 642.48h.8M211.95 637.12h.8M202.9 647.06h.8M199.06 651.31h.8M193.15 663.45h.8M208.62 645.06h.8M193.24 656.54h.8M204.84 644.41h.8M206.12 643.38h.8M202.61 647.4h.8M200.62 650.91h.8M199.79 655.05h.8M198.83 655.75h.8M212.32 635.85h.8M195.47 657.22h.8M202.29 650.81h.8M189.29 658.14h.8M201.1 651.5h.8M204.64 644h.8M206.98 643.16h.8M190.76 657.4h.8M201.49 650.62h.8M208.8 640.92h.8M200.07 647.24h.8M198.49 656.62h.8M194.66 657.98h.8M208.41 639.55h.8M203.51 644.47h.8M194.08 659.27h.8M199.03 652.79h.8M201.61 649.51h.8M209.14 639.42h.8M203.39 645.54h.8M208.78 640.11h.8M206.28 641.53h.8M204.01 643.83h.8M203.34 649.15h.8M206.74 639.02h.8M200.48 647.66h.8M202.35 648.58h.8M204.3 650.38h.8M210.2 637h.8M208.64 638.7h.8M192.38 656.58h.8M195.97 654.49h.8M191.3 663.58h.8M193.86 658.69h.8M206.22 644.68h.8M199.62 651.06h.8M208.84 642.04h.8M192.93 658.81h.8M198.7 648.83h.8M202.61 647.38h.8M191.88 658.85h.8M196.54 655.49h.8M212.2 638.63h.8M202.98 652.51h.8M190.46 660.07h.8M190.94 664.66h.8M202.31 648.2h.8M195.31 661.17h.8M197.45 656.29h.8M205.95 643.17h.8M199.99 650.79h.8M207.05 647.44h.8M201.11 651.07h.8M195.1 659.14h.8M210.23 639.76h.8M209 642.04h.8M202.11 647.72h.8M197.16 661.56h.8M200.85 649.8h.8M205.64 645.66h.8M201.56 647.59h.8M196.39 653.77h.8M206.33 640.44h.8M191.99 661.27h.8M192.97 653.46h.8M202.24 648.57h.8M203.31 640.59h.8M190.02 663.28h.8M202.72 648.92h.8M191.32 662.86h.8M195.69 656.87h.8M196.44 661.59h.8M209.88 636.71h.8M206.41 642.84h.8M196.83 653.85h.8M190.02 664.56h.8M196.71 660.71h.8M213.11 636.44h.8M199.78 649.7h.8M203.3 644.63h.8M199.35 658.82h.8M206.8 648.68h.8M186.98 666.71h.8M192.09 663.25h.8M206.88 643.59h.8M202.79 650.8h.8M190.06 662.27h.8M197.15 656.55h.8M201.52 650.6h.8M194.87 655.05h.8M194.1 649.95h.8M202.54 649.75h.8M189.55 665.56h.8M200.95 649.17h.8M196.77 655.91h.8M202.17 650.55h.8M199.32 650.38h.8M200.93 647.15h.8M211.39 638.35h.8M194.14 658.71h.8M203.44 646.69h.8M197.93 656.42h.8M193.89 659.92h.8M190.66 663.52h.8M210.46 641.79h.8M207.07 645.16h.8M196.7 652.24h.8M195.52 659.61h.8M195.52 654.42h.8M197.1 657.81h.8M197.54 654.43h.8M189.32 665.17h.8M206.35 642.25h.8M203.17 648.43h.8M188.08 663.08h.8M196.95 654.06h.8M202.93 647.07h.8M206.13 646.13h.8M210.46 642.82h.8M196.58 656.65h.8M194.15 659.22h.8M205.3 646.88h.8M209.96 638.77h.8M193.36 658.02h.8M198.03 653.9h.8M197.62 659.75h.8M208.05 640.41h.8M205.24 645.86h.8M203.03 646.3h.8M201.93 653.26h.8M204.62 646.94h.8M200.36 652.44h.8M211.78 636.86h.8M198.36 649.19h.8M190.16 665.42h.8M187.83 665.2h.8M190.72 662.95h.8M207.65 641.27h.8M202.52 652.69h.8M206.7 647.42h.8M197.97 657.86h.8M197.32 655.2h.8M192.88 660.17h.8M198.46 656.05h.8M209.14 642.66h.8M203.24 651h.8M211.11 638.27h.8M198.84 654.07h.8M203.45 649.57h.8M201.62 649.84h.8M205.85 648.04h.8M197.23 660.84h.8M198.79 655.1h.8M200.2 657.16h.8M188.75 667.79h.8M209.42 639.65h.8M194.42 658.45h.8M199.99 646.5h.8M194.06 655.19h.8M193.48 657.76h.8M204 644.71h.8M208.35 636.6h.8M195.3 659.9h.8M198.88 654.59h.8M208.42 643.81h.8M196.75 655.93h.8M202.13 650.03h.8M204.21 645.43h.8M211 639.73h.8M202.94 651.01h.8M198.52 657.32h.8M205.13 644.25h.8M203.52 648.11h.8M205.97 643.4h.8M195.57 656.84h.8M210.72 638.19h.8M193.84 659.86h.8M198.13 647.39h.8M214 637.48h.8M207.77 640.4h.8M189.45 666.07h.8M198.34 656.63h.8M203.89 650.21h.8M195.25 652.36h.8M208.5 644.51h.8M196.72 657.32h.8M200.05 652.25h.8M198.06 653h.8M194.97 650.57h.8M193.97 656.55h.8M196.23 655.06h.8M191.27 666.37h.8M191.65 660.73h.8M203.33 645.59h.8M202.8 649.15h.8M209.76 641.46h.8M203.32 646.98h.8M196.48 655.44h.8M187.87 662.68h.8M205.88 645.21h.8M199.82 650.86h.8" stroke="#8e4cab" stroke-width=".8"/>
<path d="M217.52 574.3V617.58L165.52 663.05V616.93M220.39 575.61H272.5V616.49H220.39ZM238.16 617.58H272.5V682.51H189.36Z" fill="none" stroke="#5a5a5a" stroke-width=".6"/>
<rect x="188.7" y="615.23" width="2.2" height="1.2" fill="#777"/>
<rect x="248.31" y="596.65" width="2.2" height="1.2" fill="#777"/>
<rect x="230.65" y="649.12" width="2.2" height="1.2" fill="#777"/>
<rect x="163.2" y="574.3" width="110.4" height="109.3" fill="none" stroke="#8a8a8a" stroke-width=".8"/>
<path d="M166.51 683.6v1.2M170.09 683.6v1.2M173.67 683.6v1.2M177.25 683.6v1.2M180.83 683.6v1.2M184.4 683.6v1.2M187.98 683.6v1.2M191.56 683.6v1.2M195.14 683.6v1.2M198.72 683.6v1.2M202.3 683.6v1.2M205.88 683.6v1.2M209.45 683.6v1.2M213.03 683.6v1.2M216.61 683.6v1.2M220.19 683.6v1.2M223.77 683.6v1.2M227.35 683.6v1.2M230.92 683.6v1.2M234.5 683.6v1.2M238.08 683.6v1.2M241.66 683.6v1.2M245.24 683.6v1.2M248.82 683.6v1.2M252.4 683.6v1.2M255.97 683.6v1.2M259.55 683.6v1.2M263.13 683.6v1.2M266.71 683.6v1.2M270.29 683.6v1.2M163.2 577.58h-1.2M163.2 581.12h-1.2M163.2 584.66h-1.2M163.2 588.21h-1.2M163.2 591.75h-1.2M163.2 595.29h-1.2M163.2 598.84h-1.2M163.2 602.38h-1.2M163.2 605.92h-1.2M163.2 609.46h-1.2M163.2 613.01h-1.2M163.2 616.55h-1.2M163.2 620.09h-1.2M163.2 623.64h-1.2M163.2 627.18h-1.2M163.2 630.72h-1.2M163.2 634.26h-1.2M163.2 637.81h-1.2M163.2 641.35h-1.2M163.2 644.89h-1.2M163.2 648.44h-1.2M163.2 651.98h-1.2M163.2 655.52h-1.2M163.2 659.06h-1.2M163.2 662.61h-1.2M163.2 666.15h-1.2M163.2 669.69h-1.2M163.2 673.24h-1.2M163.2 676.78h-1.2M163.2 680.32h-1.2" fill="none" stroke="#aaa" stroke-width=".4"/>
<text x="168.48" y="583.9" font-size="9.95" fill="#e9388e" stroke="#e9388e" stroke-width=".25">8.4%</text>
<text x="250.48" y="583.9" font-size="9.95" fill="#f26b35" stroke="#f26b35" stroke-width=".25">1.7%</text>
<text x="250.48" y="681.4" font-size="9.95" fill="#3db54a" stroke="#3db54a" stroke-width=".25">7.3%</text>
<text transform="translate(179.87 692.5)" x="-5.97" y="2.83" font-size="7.9" font-weight="normal" fill="#333">10<tspan font-size="5.06" dy="-2.84">2</tspan></text>
<text transform="translate(157.3 668.63) rotate(-90)" x="-5.44" y="2.58" font-size="7.2" font-weight="normal" fill="#333">10<tspan font-size="4.61" dy="-2.59">2</tspan></text>
<text transform="translate(206.48 692.5)" x="-5.99" y="2.83" font-size="7.9" font-weight="normal" fill="#333">10<tspan font-size="5.06" dy="-2.84">3</tspan></text>
<text transform="translate(157.3 640.86) rotate(-90)" x="-5.46" y="2.58" font-size="7.2" font-weight="normal" fill="#333">10<tspan font-size="4.61" dy="-2.59">3</tspan></text>
<text transform="translate(232.64 692.5)" x="-6.03" y="2.83" font-size="7.9" font-weight="normal" fill="#333">10<tspan font-size="5.06" dy="-2.84">4</tspan></text>
<text transform="translate(157.3 612.01) rotate(-90)" x="-5.49" y="2.58" font-size="7.2" font-weight="normal" fill="#333">10<tspan font-size="4.61" dy="-2.59">4</tspan></text>
<text transform="translate(260.35 692.5)" x="-5.99" y="2.83" font-size="7.9" font-weight="normal" fill="#333">10<tspan font-size="5.06" dy="-2.84">5</tspan></text>
<text transform="translate(157.3 584.25) rotate(-90)" x="-5.46" y="2.58" font-size="7.2" font-weight="normal" fill="#333">10<tspan font-size="4.61" dy="-2.59">5</tspan></text>
<path d="M331.85 585.96h.6M304.82 583.5h.6M327.06 591.27h.6M322.17 591.32h.6M329.05 602.52h.6M323.91 587.28h.6M331.85 600.95h.6M321.96 592.62h.6M318.94 598.12h.6M324.98 584.27h.6M324.16 584.48h.6M319.82 588.24h.6M320.42 596.25h.6M325.75 591.47h.6M325.66 595.31h.6M319.06 592.42h.6M319.76 597.15h.6M311.83 591.63h.6M331.03 586.82h.6M320.55 593.74h.6M329.15 590.92h.6M324.08 601.94h.6M332.49 589.26h.6M330.25 591.04h.6M323.54 588.28h.6M329.94 598.01h.6M316.55 596.13h.6M328.72 594.65h.6M313.63 582.03h.6M323.67 580.24h.6M327.65 592.08h.6M323.01 595.12h.6M319.76 600.15h.6M317.34 578.38h.6M319.89 589.19h.6M327.57 579.08h.6M326.69 583.93h.6M320.34 588.85h.6M314.92 596.72h.6M325.5 586.82h.6M313.79 585.55h.6M318.86 588.19h.6M317.73 598.68h.6M325.88 606.38h.6M323.08 580.07h.6M324.33 588.5h.6M323.28 587.46h.6M318.05 598.09h.6M324.73 593.22h.6M329.57 600.56h.6M321.58 583.59h.6M325.27 590.41h.6M321.09 587.29h.6M327.45 583.03h.6M325.46 589.27h.6M326.61 582.45h.6M323.7 604.76h.6M330.82 593.09h.6M319.79 583.56h.6M319.94 586.29h.6M318.52 601.84h.6M325.15 587.14h.6M318.35 594.93h.6M318.23 594.2h.6M325.79 597.58h.6M328.19 594.54h.6M324.95 588.92h.6M307 586.39h.6M316.53 578.51h.6M315.87 590h.6M315.13 591.24h.6M319.54 587.93h.6M331.8 589.37h.6M320.09 582.25h.6M317.73 604.75h.6M325.63 586.99h.6M322.16 583.44h.6M322.45 586.35h.6M318 589.2h.6M321.77 595.25h.6M311.25 593.75h.6M312.91 586.23h.6M327.76 589.13h.6M326.43 597.08h.6M318.99 595.42h.6M316.16 585.81h.6M320.76 589.7h.6M315.21 602.78h.6M319.91 599.38h.6M330.88 596.11h.6M322.51 590.4h.6M328.21 596.74h.6M320.56 592.98h.6M323.82 586.7h.6M329.42 583.69h.6M314.42 593.82h.6M319.87 592.89h.6M320.92 598.37h.6M323.34 587.14h.6M330.34 599.67h.6M325.56 587.92h.6M313.53 598.7h.6M320.29 593.98h.6M316.86 586.51h.6M316.72 584.05h.6M332.94 589.55h.6M315.93 588.59h.6M323.08 596.6h.6M317.84 585.75h.6M326.53 580.52h.6M323.73 590.22h.6M322.48 603.13h.6M321.36 601.24h.6M328.05 586.21h.6M316.65 588.52h.6M317.78 592.46h.6M315.63 585.94h.6M329.14 588.71h.6M320.16 588.51h.6M316.07 583.36h.6M319.47 586.23h.6M335.56 587.12h.6M321.19 591.9h.6M326.47 582.48h.6M324.35 591.04h.6M321.71 583.81h.6M317.97 584.96h.6M319.94 582.87h.6M319.83 617.01h.6M309.61 598.7h.6M336.05 599.28h.6M326.88 595.75h.6M322.42 588.78h.6M320.66 590.79h.6M317.43 592.26h.6M327.01 593.31h.6M320.75 594.29h.6M324.42 600.49h.6M323.87 586.65h.6M332.8 594.84h.6M320.19 587.96h.6M326.19 589.3h.6M321.98 600.25h.6M327.87 591.61h.6M327.66 602.19h.6M322.12 590.04h.6M318.7 591.91h.6M323.36 583.24h.6M322.01 577.12h.6M318.38 587.55h.6M324.3 590.74h.6M324.16 588.03h.6M316.88 581.37h.6M321.17 594.7h.6M337.88 590.8h.6M326.28 590.39h.6M322.32 585.15h.6M335.62 601.29h.6M319.27 600.15h.6M308.13 592.38h.6M311.28 589.56h.6M313.41 592.01h.6M323.22 601.61h.6M327.16 609.01h.6M309.82 590.41h.6M327.94 587.49h.6M315.02 578.28h.6M323.2 608.93h.6M324.34 582.98h.6M324.16 596.13h.6M321.82 593.66h.6M322.72 599.2h.6M315.5 584.6h.6M323.32 579.55h.6M327.18 591.32h.6M326.89 593.06h.6M336.18 597.97h.6M327.75 579.12h.6M325.79 587.31h.6M330.95 588.58h.6M323.11 581.33h.6M314.68 589.25h.6M309.44 595.65h.6M328.82 590.11h.6M324.91 580.76h.6M326.45 592.64h.6M319.95 596.05h.6M323.68 593.9h.6M332.15 595.59h.6M323.63 579.34h.6M315.64 593.4h.6M319.41 594.33h.6M329.41 587.84h.6M315.78 589.97h.6M307.56 585.2h.6M309.14 598.56h.6M314.4 588.35h.6M326.19 584.06h.6M322.27 591.58h.6M317.61 591.08h.6M314.7 594.79h.6M321.15 584.79h.6M320.9 585.84h.6M318.68 592.89h.6M320.43 605.22h.6M317.58 593.45h.6M331.72 581.27h.6M308.74 591.46h.6M322.46 585.16h.6M316.19 578.02h.6M325.68 585.78h.6M320.49 586.51h.6M323.8 593.12h.6M324.71 599.13h.6M322.91 597.92h.6M327.24 595.73h.6M314.12 587.46h.6M327.03 591.38h.6M320.58 590.08h.6M323.88 599.72h.6M330.36 586h.6M327.98 586.68h.6M332.71 600.3h.6M309.38 594.19h.6M316.52 587.35h.6M327.09 591.44h.6M315.55 591.34h.6M320.78 591.6h.6M331.19 595.68h.6M326.6 592.79h.6M316.48 589.13h.6M324.28 586.98h.6M325.34 578.85h.6M322.15 587.44h.6M321.23 597.97h.6M322.56 591.86h.6M313.51 586.01h.6M322.48 588.73h.6M316.45 584.65h.6M323.95 592.29h.6M324.15 603.72h.6M316.86 602.39h.6M325.16 598.35h.6M323.74 595.57h.6M321.55 588.86h.6M325.78 582.11h.6M320.06 590.45h.6M320.22 587.39h.6M322.21 595.92h.6M321.46 591.45h.6M328.08 586.56h.6M308.7 593.4h.6M320.07 609.84h.6M310.68 584.36h.6M318.88 597.97h.6M323.06 594.37h.6M321.66 589.76h.6M326.96 585.37h.6M323.36 590.55h.6M306.48 591.88h.6M315.4 595.54h.6M330.12 595.11h.6M330.14 592.55h.6M322.07 585.88h.6M312.96 592.44h.6M333.46 587.31h.6M309.92 583.47h.6M323.16 596.39h.6M321.17 585.99h.6M322.76 582.45h.6M314.95 590.97h.6M319.18 577.56h.6M327.3 589.96h.6M318.66 593.38h.6M313.73 587.59h.6M321.25 591.97h.6M321.82 604.73h.6M320.57 599.86h.6M316.95 596.59h.6M324.29 594.37h.6M320.61 586.93h.6M314.81 589.44h.6M322.51 588.46h.6M321.14 590.54h.6M322.11 591.14h.6M311.9 584.97h.6M317.06 601.08h.6M323.84 583.42h.6M326.47 592.76h.6M323.26 597.22h.6M322.25 590.14h.6M325.41 585.88h.6M326.85 590.54h.6M331.2 603.24h.6M324.08 594.48h.6M318.38 588.39h.6M324.17 594.21h.6M310.79 589.01h.6M321.89 577.84h.6M319.15 591.94h.6M321.5 597.25h.6M324.35 598h.6M321.94 589.89h.6M313.67 580.93h.6M319.71 598.29h.6M317.27 589.29h.6M321.59 595.22h.6M323.7 597.84h.6M316.4 592.57h.6M325.77 589.9h.6M328.91 586.13h.6M320.25 587.42h.6M325.76 590.51h.6M313.58 587.22h.6M318.77 592.71h.6M327.06 577.28h.6M312.02 583.55h.6M318.96 590.06h.6M316.81 585.64h.6M328.08 586.68h.6M328.07 582.68h.6M318.32 594.71h.6M322.43 601.09h.6M307.35 583.54h.6M326.44 597.88h.6M323.68 580.55h.6M329.06 591.15h.6M308.59 576.89h.6M323.67 593.44h.6M319.81 590.34h.6M307.36 591.13h.6M317.93 598.29h.6M321.31 594.13h.6M326.18 590h.6M322.83 584.72h.6M318.9 590.5h.6M324.2 585.55h.6M321.15 587.34h.6" stroke="#e36aa9" stroke-width=".6"/>
<path d="M335.17 629.41h.6M329.52 611.34h.6M324 598.04h.6M327.19 578.03h.6M307.77 593.61h.6M322.28 592.04h.6M305.42 602.52h.6M315.02 621.62h.6M324.71 594.96h.6M327.78 594.34h.6M322.65 575.32h.6M321.64 605.98h.6M321.12 609.24h.6M334.3 599.87h.6M333.3 577.68h.6M307.46 593.63h.6M322.3 610.59h.6M333.16 583.58h.6M318.65 588.6h.6M323.09 598.93h.6M315.36 601.88h.6M309.72 596.8h.6M322.18 599.98h.6M317.06 598.37h.6M319.33 588.76h.6M307.24 594.84h.6M309.88 599.31h.6M319.44 582.55h.6M316.46 598.22h.6M325.72 597.04h.6M310.66 601.48h.6M327.11 600.1h.6M325.75 583.07h.6M321.25 580.52h.6M326.39 598.91h.6M319.53 594.02h.6M318.45 597.09h.6M319.97 588.99h.6M308.34 580.29h.6M319.8 599.12h.6M327.59 594.25h.6M305.08 603.34h.6M326.51 609.15h.6M314.13 609.17h.6M316.72 607.9h.6M320.88 584.16h.6M332.78 588.34h.6M318.66 581.07h.6M336.04 579.73h.6M320.41 603.78h.6M324.59 576.16h.6M326.38 606.9h.6M313.85 609.12h.6M309.66 628.2h.6M321.19 608.42h.6M326.72 621.31h.6M328.29 587.95h.6M316.92 587.46h.6M336.79 607.68h.6M319.23 579.75h.6M314.13 609.66h.6M331.43 592.43h.6M311.89 618.31h.6M328.62 582.13h.6M309.14 626.2h.6M321.46 577.79h.6M342.38 585.46h.6M333.33 598.38h.6M327.95 595.94h.6M327.49 576.53h.6M313.79 597.09h.6M324.68 598.05h.6M325.81 601.31h.6M311.98 576.2h.6M323.6 588.4h.6M326.85 594.48h.6M323.77 605.59h.6M325.81 597.8h.6M319.69 591.56h.6M311.35 590.61h.6M322.17 613.57h.6M303.91 585.82h.6M315.21 599.42h.6M338.63 616.51h.6M325.76 601.38h.6M299.42 574.35h.6M334.48 603.17h.6M327.07 612.7h.6M320.23 605.76h.6M329.02 596.71h.6M327.13 606.1h.6M310.88 586.74h.6M309.91 592.71h.6M331.77 591.45h.6M300.6 596.72h.6M327.68 583.08h.6M325.03 612.58h.6M331.26 594.28h.6M338.41 582.65h.6M334.63 593.14h.6M336.69 600.25h.6M329.85 596.35h.6M326.93 609.21h.6M332.23 591.45h.6M322.13 586.41h.6M313.72 601.91h.6M321.51 611.39h.6M307.29 584.02h.6M317.1 576.46h.6M341.55 587.95h.6M327.09 594.86h.6M320.59 583.24h.6M316.61 597.76h.6M305.65 585.25h.6M317.17 606.63h.6M314.92 581.29h.6M322.15 584.61h.6M322.89 596.61h.6M321.49 603.95h.6M304.24 606.95h.6M335.67 587.32h.6M326.2 595.93h.6M322.13 602.27h.6M319.01 613.07h.6M326.14 584.82h.6M333.66 580.49h.6M327.67 601.56h.6M311.12 592.6h.6M310.23 612.09h.6M299.83 595.97h.6M323.06 599.61h.6M328.52 586.09h.6M333.2 599.06h.6M323.02 610.56h.6M329.37 592.63h.6M313.14 581.12h.6M326.55 606.43h.6M320.49 591.87h.6M315.4 596.32h.6M305.88 586.93h.6M332.4 607.11h.6M300.49 586.54h.6M327.42 589.74h.6M314.05 595.71h.6M327.24 593.16h.6M328.59 601.34h.6M319.5 581.4h.6M311.75 598.74h.6M316.68 590.85h.6M306.43 594.09h.6M324.09 586.64h.6M331.27 582.65h.6M325.44 597.34h.6M322.51 598.22h.6M333.59 607.88h.6M310.6 602.14h.6M326.72 587.04h.6M321.61 609.81h.6M317.11 622.45h.6M326.67 604.31h.6M310.8 593.24h.6M320.27 583.78h.6M324.69 596.64h.6M310.62 578.05h.6M319.33 605.22h.6M326.46 590.91h.6M330.45 588.53h.6M312.7 598.67h.6M329.95 580.41h.6M318.77 574.32h.6M322.4 590.19h.6M316.39 610.34h.6M328.84 585.17h.6M314.93 606.11h.6M325.08 594.71h.6M328.6 601.71h.6M311.79 617.25h.6M321.84 594.69h.6M335.12 584.43h.6M318.31 599.2h.6M316.2 588.75h.6M320.99 596.72h.6M318.59 586.27h.6M319.93 588.72h.6M309.63 600.33h.6M302.01 613.62h.6M307.75 598h.6M315.96 596.94h.6M325.51 589.82h.6M318.57 614.66h.6M322.06 585.97h.6" stroke="#e36aa9" stroke-width=".6"/>
<path d="M318.62 623.39h.6M325.04 631.57h.6M317.14 614.19h.6M316.17 617.62h.6M324.68 611.98h.6M320 631.29h.6M319.65 617.84h.6M315.7 620.33h.6M327.98 631.86h.6M326.12 617.76h.6M321.63 608.37h.6M328.95 620.09h.6M320.34 615.57h.6M326.02 631.11h.6M322.85 632.13h.6M319.81 617.31h.6M318.22 619.83h.6M327.63 624.44h.6M321.32 633.79h.6M318.15 614.94h.6M324.23 614.45h.6M324.3 621.34h.6M326.38 615.85h.6M316.43 613.66h.6M316.68 607.82h.6M326.79 636.33h.6M320.42 610.95h.6M318.98 611.86h.6M320.77 630.74h.6M321.88 619.8h.6M315.31 621.58h.6M326.55 627.47h.6M318.72 623.28h.6M321.96 624.23h.6M318.96 608.47h.6M323.45 614.85h.6M329.25 623.86h.6M321.08 608.65h.6M318.82 612.36h.6M326.46 630.47h.6M327.92 617.88h.6M322.26 619.71h.6M322.91 627.07h.6M326.27 623.48h.6M323.39 627.8h.6M319.5 616.29h.6M322.35 629.11h.6M321.12 635.11h.6M320.09 634.71h.6M322.68 625.41h.6M326.22 628.97h.6M328.42 619.1h.6M320.4 633.62h.6M321.66 628.26h.6M320.45 633.88h.6M325.09 620.89h.6M320.66 616.87h.6M326.21 628.7h.6M326.33 626.75h.6M328.19 624.08h.6M324.1 629.52h.6M318.57 609.25h.6M320.06 628.65h.6M323.32 634.84h.6M321.24 612.08h.6M313.76 618.45h.6M318.82 634.63h.6M320.05 632.54h.6M322.87 630.72h.6M317.19 623.94h.6M321.93 609.19h.6M323.68 609.78h.6M318.21 610.06h.6M322.19 627.26h.6M319.09 629.13h.6M325.53 624.26h.6M319.97 616.44h.6M326.84 626.35h.6M323.5 622.73h.6M321.64 630.51h.6M323.14 627.34h.6M327.05 633.85h.6M328.29 624.97h.6M324.25 626.36h.6M325.84 622.79h.6M328.69 631.01h.6M322.79 628.89h.6M323.45 612.52h.6M316.46 609.99h.6M314.38 610.1h.6M316.93 616.21h.6M311.14 615.68h.6M327.65 627.56h.6M328.88 637.98h.6M323.5 627.82h.6M327.88 616.77h.6M320.55 616.7h.6M319.97 630.25h.6M318.05 615.29h.6M318.54 625.03h.6M324.25 631.25h.6M323.76 631.38h.6M322.77 632.24h.6M322.39 623.13h.6M317.36 611.84h.6M325.54 636.5h.6M323.07 627.61h.6M325.03 623.57h.6M318.69 625.58h.6M324.07 637.01h.6M320.75 617.76h.6M323.6 620.12h.6M329.85 630.84h.6M323.92 622.65h.6M330.33 619.92h.6M323.42 629.1h.6M325.83 616.78h.6M317.84 627.53h.6M324.94 624.23h.6M324.69 637.4h.6M323.91 621.59h.6M327.65 631.29h.6M327.39 618.1h.6M330.87 616.71h.6M325.32 626.4h.6M330.37 634.96h.6M316.87 610.07h.6M328.08 628.73h.6M324.98 625.16h.6M322.95 626.87h.6" stroke="#e36aa9" stroke-width=".6"/>
<path d="M361.08 589.15h.6M356.86 594.64h.6M361.51 589.38h.6M364.72 584.52h.6M348.26 602.62h.6M349.33 603.24h.6M351.66 600.36h.6M362.85 587.82h.6M356.95 596.82h.6M367.38 585.1h.6M353.07 598.66h.6M351.6 599.64h.6M356.37 596.75h.6M359.82 592.57h.6M364.39 585.89h.6M368.35 584.66h.6M352.88 597.46h.6M351.1 601.48h.6M362.25 591.57h.6M359.36 589.95h.6M364.01 584.93h.6M349.76 601.2h.6M365.29 583.27h.6M360.64 588.57h.6M357.93 592.44h.6M365.35 586.29h.6M360.61 588.96h.6M365.56 588.01h.6M358.93 592.13h.6M350.4 599.83h.6M359.92 592.83h.6M352.66 601.49h.6M363.56 586.56h.6M364.53 584.95h.6M363.63 586.25h.6M352.82 597.62h.6M363.56 587.17h.6M352.75 598.46h.6M358.42 593.63h.6M358.95 593.07h.6M367.14 584.91h.6M360.11 590.53h.6M357.13 596.58h.6M347.11 604.01h.6M350.43 602.32h.6M366.17 584.56h.6M366.65 586.67h.6M359.44 588.95h.6M363.38 588.13h.6M356.02 596.7h.6M358.04 593.87h.6M364.49 587.63h.6M348.29 600.68h.6M355.94 595.73h.6M365.78 582.29h.6" stroke="#f4925e" stroke-width=".6"/>
<path d="M348.46 637.52h.6M383.89 660.7h.6M371.08 653.28h.6M363.18 643.78h.6M347.86 645.16h.6M344.81 653.02h.6M366.95 669.77h.6M355.13 668.01h.6M349.02 636.7h.6M363.45 655.72h.6M363.05 636.36h.6M350.11 648.84h.6M352.56 640.82h.6M377.41 647.37h.6M347.5 645.97h.6M366.2 653.47h.6M350.12 643.06h.6M348.68 656.57h.6M346.92 648.95h.6M355.57 641.51h.6M356.51 663.63h.6M363.63 653.15h.6M349.75 648.09h.6M360.53 650.9h.6M351.44 656.62h.6M349.84 648.8h.6M362.63 644.42h.6M360.9 648.63h.6M342.44 644.92h.6M358.08 645.03h.6M339.5 665.09h.6M346.59 657.33h.6M371.7 662.46h.6M368.85 645.31h.6M354.69 633.64h.6M362.09 646.46h.6M368.31 654.91h.6M372.58 645.42h.6M372.47 651.75h.6M349.18 641.11h.6M355.87 654.68h.6M357.31 645.99h.6M333.57 650.07h.6M349.17 656.27h.6M359.9 643.17h.6M354.13 640.08h.6M350.48 642.42h.6M345.13 655.39h.6M350.69 646.89h.6M355.84 659.88h.6M353.11 654.93h.6M366.73 660.31h.6M363.69 651.67h.6M344 661.18h.6M364.82 656.84h.6M356.33 632.04h.6M363.2 663.28h.6M349.9 658.13h.6M364.45 646.26h.6M349.37 638.83h.6M365.6 632.77h.6M355.78 651.44h.6M353.63 642.11h.6M343.71 639.26h.6M340.97 640.9h.6M364.15 634.86h.6M345.57 658.9h.6M345.06 641.95h.6M359.76 649.91h.6M356.24 651.57h.6M361.49 653.55h.6M343.77 648.61h.6M336.18 657.8h.6M347.55 644.49h.6M365.37 669.99h.6M355.72 635.27h.6M360.13 656.6h.6M360.9 670.57h.6M357.6 641.11h.6M357.62 663.41h.6M354.1 669.22h.6M358.08 645.86h.6M359.07 664.47h.6M349.96 644.79h.6M361.65 652.97h.6M356.04 648.05h.6M355.27 641.03h.6M354.58 639.88h.6M364.28 644.75h.6M354.7 636.09h.6M367.19 651.81h.6M346.68 651.35h.6M361.44 660.46h.6M341.64 654.01h.6M356.55 648.61h.6M351.36 647.14h.6M351.78 673.25h.6M346.37 635.62h.6M355.81 637.68h.6M361.12 671.21h.6M338.91 660.25h.6M354.83 651.93h.6M357.74 655.26h.6M361.71 659.58h.6M359.36 636.45h.6M345.96 647.31h.6M365.3 656.99h.6M347.92 656.51h.6M360.63 660.72h.6M357.8 652.61h.6M350.59 647h.6M347.54 644.7h.6M354 656.21h.6M369.38 650.24h.6M361.96 654.9h.6M350.61 663.63h.6M362.77 662.09h.6M371.51 638.66h.6M376.13 661.43h.6M340.01 641.45h.6M362.79 635.17h.6M363.77 670.44h.6M348.5 653.28h.6M338.63 645.03h.6M367.81 646.74h.6M351.72 659.2h.6M340.94 669.59h.6M346.05 663.11h.6M362.87 648.66h.6M376.42 639.9h.6M364.74 649.7h.6M348.03 660.35h.6M367.9 655.55h.6M338.57 638.44h.6M365.34 651.98h.6M364.7 656.6h.6M372.83 642.13h.6M365.24 659.15h.6M366.75 664.61h.6M357.2 659.46h.6M353.02 642.87h.6M356.46 648.26h.6M374.16 650.2h.6M350.89 647.59h.6M355.71 658.96h.6M351.92 651.7h.6M362.53 650.88h.6M360.75 653.91h.6M375.3 646.7h.6M376.62 638.29h.6M366.89 651.92h.6M364.66 647.69h.6M355.07 657.07h.6M342.38 652.97h.6M357.88 648.36h.6M356.72 660.94h.6M345.75 650.63h.6M358.38 638.81h.6M365.46 665.3h.6M348.01 661.61h.6M364.62 650.53h.6M360.2 636.04h.6M351.26 641.36h.6M357.39 659.8h.6M363.42 649.97h.6M354.65 647.42h.6M355.77 654.95h.6M368.7 645.27h.6M361.59 645.95h.6M361.38 662h.6M351.63 655.58h.6M362.96 657.87h.6M370.42 656.3h.6M347.51 660.56h.6M340.86 658.57h.6M348.81 643.37h.6M355.11 648.99h.6M346.9 666.18h.6M340.42 652.47h.6M371.79 666.99h.6M352.37 648h.6M348.63 637.92h.6M329.26 651.69h.6M364.83 646.17h.6M341.68 644.43h.6M368.66 643.9h.6M361.6 631.96h.6M358.31 655.86h.6M354.25 649.41h.6M365.3 642.2h.6M350.92 635.69h.6M359.76 656.9h.6M351.57 650.97h.6M353.3 657.04h.6M371.07 654.25h.6M366.76 657.73h.6M347.46 650.41h.6M348.12 637.13h.6M356.63 652.22h.6M355.01 658.99h.6M360.91 637.5h.6M352.67 646.49h.6M346.4 664.04h.6M364.03 639.13h.6M354.14 663.08h.6M362.72 641.88h.6M347.74 635.29h.6M370.51 645.6h.6M358.85 644.63h.6M358.7 658.97h.6M359.83 630.72h.6M341.34 641.29h.6M362.89 641.3h.6M351.32 639.91h.6M345.58 650.63h.6M359.88 644.52h.6M372.54 649.48h.6M349.58 647.09h.6M370.88 659.46h.6M335.27 643.39h.6M359.08 649.66h.6M350.56 657.27h.6M358.6 654.19h.6M376.51 649.57h.6M362.61 657.13h.6M342.07 653.53h.6M370.07 653.81h.6M346.16 650.46h.6M350.81 658.96h.6M347.61 659.84h.6M357.45 644.57h.6M355.13 655.28h.6M371.73 654.19h.6M359.51 656.59h.6M362.83 643.67h.6M354.78 639.33h.6M366.93 648.54h.6M346.36 660.58h.6M342.54 641.15h.6M364.74 659.62h.6M363.44 650.82h.6M356.8 652.26h.6M377.71 652.39h.6M347.84 647.44h.6M369.89 648.46h.6M370.87 656.49h.6M344.6 664.83h.6M361.66 652.38h.6M363.86 654.7h.6M355.14 642.95h.6M355.23 649.51h.6M355.92 660.51h.6M348.23 660.92h.6M343.36 648.15h.6M363.89 650.2h.6M358.6 646.68h.6M356.78 642.75h.6M361.48 655.32h.6M348.79 646.71h.6M350.32 664.54h.6M364.12 630.35h.6M356.44 633.74h.6M361.09 638.38h.6M366.72 650.43h.6M373 648.33h.6M347.82 642.53h.6M351 620.3h.6M342.84 651.44h.6M349.85 634.67h.6M361.23 662.72h.6M351.32 651.02h.6M377.08 642.88h.6M352.33 647.28h.6M339.47 664.62h.6M347.89 646.49h.6M376.15 639.1h.6M347.92 625.78h.6M355.69 648.06h.6M348.6 642.5h.6M345.94 660.28h.6M367.36 651.03h.6M345.07 659.67h.6M339.37 645.67h.6M349.29 641.75h.6M350.08 658.5h.6M360.51 648.15h.6M357.42 642.85h.6M368.08 648.76h.6M354.38 659.09h.6M360.48 643.74h.6M361.08 667.87h.6M366.05 654.45h.6M344.8 638.56h.6M353.21 639.55h.6M330.5 649.16h.6M348.81 646.52h.6M344.79 646.21h.6M348.06 648.41h.6M370.99 652.18h.6M366.01 647.38h.6M342 644.74h.6M373.28 632.11h.6M368.37 665h.6M358.01 650.88h.6M355.3 654.98h.6M354.96 651.41h.6M355.9 661.62h.6M362.4 650.01h.6M353.64 661.34h.6M365.6 644.5h.6M353.07 647.57h.6M349.65 654.75h.6M354.82 655.25h.6M359.25 660.89h.6M360.1 644.4h.6M355.96 654.1h.6M341.78 644.88h.6M343.31 636.52h.6M339.88 658.91h.6M353.45 649.08h.6M362.49 640.57h.6M356.33 642.68h.6M355.61 654.59h.6M351.51 649.7h.6M352.83 648.64h.6M349.74 655.82h.6M366.1 649.35h.6M344.38 632.92h.6M347.73 657.4h.6M360.62 645.15h.6M352.64 646.19h.6M362.3 627.24h.6M351.73 619.31h.6M360.11 649.97h.6M358.25 645.21h.6M344 649.52h.6M361.37 652.15h.6M368.01 657.86h.6M349.84 661.93h.6M354.89 660.91h.6M362.15 640.39h.6M370.64 642.31h.6M359.56 650.73h.6M378.11 662.8h.6M352.44 660.14h.6M374.34 644.88h.6M349.26 638.61h.6M356.03 652.4h.6M347.7 647.98h.6M365.56 656.03h.6M362.23 657.18h.6M339.93 652.81h.6M331.63 641.57h.6M376.51 638.52h.6M353.52 647.24h.6M340.59 654.28h.6M347.8 649.23h.6M351.89 656.38h.6M371.09 646.08h.6M360.41 660.03h.6M356.67 653.1h.6M347.33 646.94h.6M362.5 643.15h.6M339.74 648.63h.6M366.77 650.7h.6M365.36 664.59h.6M351.81 650.82h.6M342.11 656.16h.6M350.39 630.87h.6M355.06 659.12h.6M375.05 649.28h.6M372.18 641.45h.6M350.16 628.91h.6M349.04 642.1h.6M343.35 665.05h.6M359.75 657.67h.6M351.07 657.36h.6M362.79 645.51h.6M356.83 655.67h.6M351.1 655.67h.6M346.77 653.07h.6M341.2 641.3h.6M361.66 644.28h.6M343.78 647.04h.6M362.8 678.07h.6M340.63 631.51h.6M332.3 665.21h.6M356.28 662.86h.6M350.57 651.94h.6M364.76 657.48h.6M356.16 653.28h.6M355.46 655.07h.6M364.28 644.4h.6M350.01 631.51h.6M362.18 674.96h.6M379.21 666.19h.6M358.35 636.81h.6M347.59 660.45h.6M355.91 646.08h.6M348.73 654.17h.6M353.12 640.18h.6M371.91 639.88h.6M347.05 667.27h.6M344.77 645.52h.6M361.16 649h.6M352.51 656.38h.6M354.74 663.65h.6M350.49 645.3h.6M358.61 655.59h.6M370.13 656.96h.6M362.34 644.27h.6M352.45 644.42h.6M353.06 655.56h.6M347.86 648.72h.6M348.12 664.55h.6M365.18 633.03h.6M361.44 654.7h.6M360.76 648.41h.6M361.11 636.81h.6M350.58 648.79h.6M356.35 636.49h.6M361.31 646.68h.6M371.47 660.01h.6M358.91 643.23h.6M357.18 655.51h.6M349.14 652.62h.6M366.15 645.21h.6M354.2 647.22h.6M358.92 651.82h.6M360.23 652.85h.6M349.3 645.13h.6M359.3 648.37h.6M367.12 657.07h.6M348.35 640.52h.6M351.76 638.83h.6M348.99 652.78h.6M357.54 654.2h.6M376.11 628.3h.6M359.66 650.84h.6M368.2 662.8h.6M358.89 657.61h.6M352.71 646.51h.6M356.76 653.4h.6M358.82 634.58h.6M354.84 655.79h.6M356.02 652.64h.6M357.46 657.97h.6M350.78 648.46h.6M370.81 656.12h.6M360.69 645.83h.6M355.5 660h.6M351.31 654.17h.6M360.09 633.22h.6M349.44 634.48h.6M345.03 654.93h.6M353.16 659.08h.6M368.2 661.83h.6M354.73 645.2h.6M358.23 651.95h.6M347.67 647.09h.6M361.36 643.84h.6M351.5 647.76h.6M351.27 661.57h.6M349.35 645.83h.6M355.31 666.77h.6M346.75 637.87h.6M352.74 647h.6M354.71 655.04h.6M347.59 654.95h.6M338.39 651.34h.6M360.53 634.54h.6M344.9 647.61h.6M338.33 663.37h.6M356.5 656.3h.6M355.99 655.07h.6M366.73 654.2h.6M368.33 649.31h.6M335.97 649.83h.6M351.1 644.74h.6M358.93 662.95h.6" stroke="#56bb69" stroke-width=".6"/>
<path d="M323.91 653.14h.7M312.66 661.84h.7M325.26 640.24h.7M327.01 647.82h.7M325.61 647.97h.7M339.36 632.48h.7M311.8 666.2h.7M310.32 664.04h.7M308.17 665.73h.7M325.12 651.77h.7M329.29 634.81h.7M328.73 643.3h.7M326.4 640.18h.7M315.09 663.14h.7M322.05 652.29h.7M321.24 653.19h.7M324.41 651.27h.7M331.02 646.13h.7M318.44 664.3h.7M315.62 657.31h.7M310.45 672.98h.7M329.32 643.31h.7M321.69 654.93h.7M328.92 643.91h.7M318.77 658h.7M316.11 655.92h.7M319.26 648.77h.7M334.52 633.34h.7M310.44 669.3h.7M320.39 664.82h.7M318.75 650.8h.7M310 673h.7M326.41 639.57h.7M313.32 662.15h.7M326.64 651.67h.7M310.66 672.34h.7M309.48 668.36h.7M333.07 649.67h.7M313.09 664.97h.7M311.42 664.62h.7M313.23 653.71h.7M316.2 659.78h.7M307.42 669.55h.7M311.68 662.81h.7M324.91 652.53h.7M318.38 653.81h.7M332.94 634.61h.7M302.68 674.33h.7M315.35 665.56h.7M304.69 673.38h.7M317.8 664.85h.7M334.5 639.93h.7M307.81 668.95h.7M314.53 647.96h.7M321.82 654.42h.7M328.26 645.62h.7M332.95 643.54h.7M319.94 665.22h.7M320.06 658.2h.7M315.33 657.01h.7M314.45 656.99h.7M334.08 635.04h.7M329.98 640.26h.7M329.68 640.15h.7M327.12 644.82h.7M331.05 651.99h.7M305.88 663.75h.7M299.63 667.9h.7M317.96 655.76h.7M325.55 645.14h.7M326.77 639h.7M321.72 659.56h.7M332.3 641.12h.7M319.88 662.2h.7M317.9 663.81h.7M334.74 638.74h.7M318.62 655.14h.7M330.24 638.06h.7M321.36 654.24h.7M320.83 658.74h.7M326.35 639.51h.7M323.78 644.74h.7M311.06 662.12h.7M319.84 651.27h.7M315.09 650.79h.7M332.23 637.23h.7M305.66 671.1h.7M322.25 652.82h.7M307.16 661.33h.7M316.38 651.09h.7M313.45 666.62h.7M320.87 661.54h.7M321.14 665.15h.7M331.92 645.52h.7M308.65 667.25h.7M310.54 671.48h.7M315.97 651.02h.7M332.46 643.87h.7M311.41 662.37h.7M321.31 639.24h.7M330.35 649.94h.7M333.94 636.22h.7M312.84 670.46h.7M334.28 635.49h.7M330.69 647.15h.7M337.37 635.2h.7M314.89 665.13h.7M310.34 656.22h.7M308.7 663.92h.7M320.61 643.28h.7M308.06 672.53h.7M312.88 658.54h.7M318.58 662.33h.7M308.92 665.29h.7M312.98 662.45h.7M319.27 659.52h.7M306.28 666.36h.7M317.24 659.62h.7M316.06 643.49h.7M325.44 642.94h.7M318.32 662.18h.7M332.78 652.66h.7M319.14 643.57h.7M312.81 672.27h.7M335.49 640.63h.7M314.37 658.95h.7M309.47 662.39h.7M318.99 654.57h.7M327.74 643.33h.7M311.4 667.75h.7M327.92 637.13h.7M332.57 638.74h.7M321.68 648.94h.7M311.23 663.71h.7M310.21 670.92h.7M324.65 650.78h.7M305.76 659.44h.7M320.58 654.45h.7M322.61 651.31h.7M323.76 653.41h.7M327.16 646.31h.7M322.32 652.76h.7M325.2 645.88h.7M325.14 647.92h.7M314.75 666.32h.7M311.64 656.09h.7M318.97 654.1h.7M319.65 652.51h.7M328.06 640.47h.7M318.29 643.71h.7M318.04 664.08h.7M326.93 643.43h.7M328.26 652.67h.7M325.26 663.05h.7M322.03 645.92h.7M320.57 658.81h.7M311.28 665.88h.7M321.78 655.65h.7M333.93 639.58h.7M314.32 666.58h.7M307.4 673.44h.7M329.48 642.96h.7M313.05 657.59h.7M312.76 660.26h.7M316.82 651.11h.7M312.78 655.25h.7M324.05 649.37h.7M311.3 660.97h.7M319.81 644.3h.7M305.98 660.87h.7M320.8 650.44h.7M312.78 657.15h.7M327.55 647.06h.7M326.58 646.13h.7M316.45 661.99h.7M324.11 657.98h.7M313.38 657.78h.7M336.04 635.46h.7M325.13 644.4h.7M313.13 658.7h.7M332.4 637.9h.7M326.79 637.65h.7M309.91 669.24h.7M317.37 657.92h.7M329.66 640.67h.7M308.17 670.62h.7M323.26 646.1h.7M320.79 656.73h.7M311.83 650.81h.7M332.17 633.54h.7M311.88 666.49h.7M313.45 660.3h.7M315.3 662.84h.7M309.69 653.42h.7M315.32 658.11h.7M308.47 666.08h.7M329.09 642.27h.7M332.77 632.48h.7M324.21 655.71h.7M322.37 653.88h.7M319.64 656.75h.7M327.34 646.46h.7M335.44 633.08h.7M308.44 664.24h.7M327.07 652.65h.7M330.8 645.05h.7M324.91 647.37h.7M320.13 647.94h.7M331.81 638.08h.7M335.49 640.3h.7M318.39 660.13h.7M320.72 663.81h.7M323.29 658.53h.7M332.49 645.67h.7M311.77 668.24h.7M321.84 651.78h.7M319.89 653.42h.7M321.82 646.51h.7M307.65 664.37h.7M327.39 647.09h.7M307.19 666.86h.7M304.53 662.07h.7M305.91 675h.7M306.65 664.48h.7M321.88 649.55h.7M318.79 652.63h.7M318.46 652.07h.7M310.76 673.01h.7M333.65 638.13h.7M314.33 650.39h.7M327.29 662.29h.7M330.46 640.74h.7M319.86 662.17h.7M325.42 653.76h.7M308.31 670.06h.7M329.38 635.76h.7M300.66 669.02h.7M322.12 663.8h.7M326.13 638.59h.7M319.22 661.27h.7M324.83 639.5h.7M311.78 657.75h.7M326.57 650.72h.7M313.61 658.11h.7M328.3 643.16h.7M327.26 641.24h.7M329.12 637.24h.7M332.64 643.26h.7M308.27 670.07h.7M308.57 667.54h.7M314.49 654.86h.7M320.06 646h.7M311.46 661.34h.7M322.34 652.3h.7M324.34 651.08h.7M319.99 656.18h.7M331.64 642.57h.7M310.69 655.65h.7M324.99 653.27h.7M330.86 637.24h.7M305.25 670.41h.7M307.38 676.29h.7M316.35 662.98h.7M304.72 672.36h.7M311.17 665.83h.7M329.86 636.68h.7M313.14 659.31h.7M321.3 655.14h.7M316.01 657.9h.7M314.89 666.77h.7M307.18 667.9h.7M319.43 656.56h.7M324.86 639.3h.7M319.62 653.98h.7M311.55 666.24h.7M323.49 648.02h.7M323.46 639.84h.7M308.71 669.4h.7M310.29 655.01h.7M317.48 654.17h.7M317.59 660.11h.7M334.95 634.5h.7M307.29 664.6h.7M327.24 646.41h.7M326.34 636.95h.7M312.78 668.96h.7M328.28 645.51h.7M328.78 631.51h.7M313.36 662.92h.7M316.39 664.45h.7M316.2 660.63h.7M316.3 657.31h.7M306.03 664.6h.7M309.25 658.46h.7M313.66 662.67h.7M326.21 646.51h.7M312.74 670.81h.7M316.07 651.66h.7M331.9 647.1h.7M327.58 649.88h.7M320.76 656.61h.7M311.26 666.77h.7M316.75 655.32h.7M307.53 665.06h.7M312.92 665.48h.7M325.2 643.11h.7M322.97 653.42h.7M330.29 650.33h.7M327.65 653.89h.7M318.41 664.39h.7M312.68 665.79h.7M311.08 664.83h.7M333.22 644.06h.7M334.45 640.94h.7M322.13 646.83h.7M316.95 652.49h.7M334.55 636.23h.7M325.89 648.24h.7M314.35 655.46h.7M308.49 658.35h.7M322.58 649.37h.7M317.9 654.69h.7M332.75 639.78h.7M318.1 649.69h.7M314.53 663.65h.7M318.77 653.35h.7M306.76 673.57h.7M320.58 663.48h.7M318.2 660.2h.7M323.98 649.53h.7M329.69 647.3h.7M314.45 652.99h.7M319.42 652.89h.7M327.83 644.29h.7M328 643.03h.7M324.45 645.46h.7M324.82 660.11h.7M315.14 662.47h.7M313.11 666.89h.7M320.46 655.03h.7M333.93 631.27h.7M324.35 653.66h.7M305.23 676.56h.7M322.89 650.15h.7M324.38 647h.7M303.73 676.12h.7M315.59 649.59h.7M317.08 667.05h.7M313.36 659.95h.7M314.49 663.26h.7M330.84 641.04h.7M308.41 661.78h.7M332.84 639h.7M322.77 650.74h.7M314.28 661.82h.7M325.89 649.66h.7M331.11 635.91h.7M327.86 638.07h.7M327.8 644.12h.7M316.94 665.07h.7M323.12 654.84h.7M319.45 659.02h.7M324.05 644.16h.7M315.08 653.2h.7M312.23 668.51h.7M320.68 659.3h.7M333.76 637.29h.7M333.65 637.23h.7M320.73 651.84h.7M318.7 646.56h.7M333.98 638.2h.7M317.16 662.44h.7M331.21 642.46h.7M321.46 653.36h.7M326.17 652.94h.7M306.35 666.38h.7M318.83 646.26h.7M336.48 636.55h.7M321.63 652.12h.7M310.41 671.26h.7M318.42 657.11h.7M326.58 649.7h.7M329.19 650.15h.7M327.43 646.35h.7M322.41 643.92h.7M330.44 653.47h.7M333.41 637.54h.7M331.95 643.71h.7M319.44 654.46h.7M303.98 671.51h.7M325.35 645.81h.7M324.64 635.5h.7M319.55 657.83h.7M306.93 667.69h.7M324.67 659.12h.7M320.79 657.78h.7M328.63 651.07h.7M327.53 648.69h.7M308.49 665.91h.7M328.45 644.52h.7M328.96 649.34h.7M315.47 659.6h.7M313.02 665.21h.7M321.56 653.5h.7M310.65 669.51h.7M325.39 648.13h.7M317.81 666.01h.7M327.03 650.91h.7M325.68 648.38h.7M312.17 667.55h.7M309.46 665.09h.7M320.55 654.08h.7M305.57 675.13h.7M336.36 635.03h.7M333.93 630.46h.7M318.98 652.71h.7M333.49 633.32h.7M311.86 676.12h.7M332.5 645.35h.7M320.99 657.55h.7M313.34 659.84h.7M320.6 653.52h.7M324.13 651.67h.7M323.83 658.67h.7M319.18 648.91h.7M328.45 639.64h.7M326.18 640.54h.7M324.3 643.59h.7M323.61 646.41h.7M333.02 636.57h.7M328.87 649.05h.7M314.1 658.19h.7M311.49 666.68h.7M330.17 640.15h.7M309.25 659.18h.7M321.15 659.87h.7M322.72 656.62h.7M322.6 651.1h.7M319.5 653.12h.7M324.75 648.84h.7M329.94 645.13h.7M314.71 657.02h.7M331.48 636.97h.7M327.56 646.77h.7M317.99 650.81h.7M307.33 662.49h.7M315.74 661.27h.7M324.04 646.16h.7M311.83 655.02h.7M323.78 657h.7M330.12 642.98h.7M307.89 663.11h.7M318.65 647.42h.7M321.12 648.29h.7M314.63 659.15h.7M324.45 654.07h.7M310.54 661.15h.7M306.61 672.3h.7M316.77 649.26h.7M324.75 650.11h.7M335.34 636.53h.7M315.32 668.8h.7M324.6 653.33h.7M313.59 655.86h.7M320.98 653.31h.7M311.92 668.6h.7M318.44 652.44h.7M306.06 669.55h.7M325.34 647.24h.7M313.39 663h.7M308.82 660.26h.7M331.14 641.2h.7M328.36 648.41h.7M335.82 633.09h.7M315.94 661.9h.7M311.02 668.66h.7M336.91 632.95h.7M312.75 659.99h.7M319.62 651.34h.7M320.04 663.89h.7M326.52 653.78h.7M324.2 640.8h.7M313.46 659.34h.7M315.46 663.05h.7M311.53 666.27h.7M330.17 653.93h.7M317.66 651.41h.7M331.05 642.83h.7M307.84 671.42h.7M333.39 637.73h.7M321.22 648.06h.7M323.43 644.61h.7M322.33 649.54h.7M326.81 636.32h.7M327.13 653.58h.7M318.31 657.8h.7M313.94 668.81h.7M305.4 674.48h.7M328.82 655.79h.7M328.15 645.65h.7M314.83 662.19h.7M321.07 663.85h.7M316.93 663.46h.7M322.86 666.28h.7M320.33 655.24h.7M317.81 658.47h.7M310.66 671.05h.7M326.83 647.19h.7M336.53 634.23h.7M336.1 636.36h.7M313.55 655.56h.7M307.26 670.46h.7M319.65 658.63h.7M314 657.33h.7M326.44 640.19h.7M320.27 641.09h.7M331.19 637.96h.7M307.24 668.7h.7M324.73 645.32h.7M328.89 651.76h.7M327.44 656.77h.7M327.18 640.68h.7M314.16 655.45h.7M318.96 657.38h.7M322.1 655.38h.7M317.77 651.36h.7M328.29 641.03h.7M331.77 640.11h.7M325.54 638.61h.7M329.67 637.4h.7M324.92 650.65h.7M320.05 659.31h.7M321.31 652.14h.7M317.09 655.93h.7M313.45 667.38h.7M322.99 650.09h.7M301.73 671.39h.7M319.17 658.06h.7M328.51 649.39h.7M326.27 648.65h.7M327.56 642.59h.7M329.26 640.6h.7M314.45 653.07h.7M303.26 670.09h.7M307.23 667.42h.7M326.08 644.31h.7M320.12 649.98h.7M313.48 662.25h.7M307.2 670.07h.7M328.53 644.63h.7M331.3 633.66h.7M318.72 660.22h.7M320.57 665.58h.7M320.94 653.65h.7M313.56 668.31h.7M324.29 649.78h.7M323.53 640.27h.7M332.17 644.22h.7M334.57 635.1h.7M333.12 632.37h.7M323.45 639.72h.7M326.98 649.65h.7M310.71 669.58h.7M316.56 655.27h.7M321.28 648.8h.7M335.5 637.78h.7M312.11 663.81h.7M331.22 637.51h.7M333.3 633.31h.7M311.35 664.72h.7M330.1 633.74h.7M335.68 638.56h.7M318.37 656.16h.7M326.02 646.93h.7M301.51 674.15h.7M313.06 662.85h.7M328.17 639.92h.7M322.68 648.9h.7M316.58 650.37h.7M306.67 670.98h.7M329.46 638.52h.7M318.37 653.74h.7M313.17 658.42h.7M329.87 634.62h.7M339.85 633.9h.7M319.8 644.45h.7M326.41 637.82h.7M321.37 644.43h.7M320.77 660.79h.7M308.81 670.55h.7M328.58 639.92h.7M310.38 663.48h.7M308.95 674.32h.7M318.89 654.31h.7M307.38 665.51h.7M308.15 664.69h.7M314.18 670.75h.7M324.16 641.24h.7M334.67 645.9h.7M317.64 657.06h.7M326.87 660.76h.7M318.84 656.08h.7M326.42 643.83h.7M317.12 647.14h.7M317.06 645.78h.7M310.39 664.18h.7M323.27 644.54h.7M317.52 652.48h.7M318.69 650.52h.7M310.49 663.18h.7M306.29 663.88h.7M321.95 660.69h.7M309.98 668.59h.7M312.87 670.86h.7M319.17 656.91h.7M317.6 652.97h.7M333.9 640.99h.7M333.12 645.81h.7M324.16 648.46h.7M310.22 669.99h.7M325.95 648.76h.7M325.17 647.97h.7M327.62 650.34h.7M326.04 649.75h.7M321.67 659.64h.7M301.24 675.19h.7M325.65 643.34h.7M319.24 662.76h.7M331.94 637.97h.7M320.78 656.32h.7M318.73 648.67h.7M331.87 642.12h.7M325.48 655.74h.7M316.93 653.61h.7M320.75 656.72h.7M321.31 654.7h.7M328.6 643.01h.7M312.14 656.86h.7M329.67 644.87h.7M314.66 665.64h.7M327.6 645.28h.7M319.57 649.34h.7M329.34 647.47h.7M331.21 641.68h.7M316.89 657.46h.7M318.9 660.98h.7M305.1 670.96h.7M326.89 646.35h.7M328.43 645.1h.7M322.19 654.31h.7" stroke="#bf98d3" stroke-width=".7"/>
<path d="M316.57 664.18h.8M319.95 657.2h.8M319.37 656.43h.8M315.18 661.06h.8M315.76 660.61h.8M322.89 648.93h.8M321.41 651.97h.8M317.82 656.41h.8M326.61 648.79h.8M317.2 655.04h.8M331.63 636.23h.8M313.2 665.23h.8M323.41 654.41h.8M314.47 656.56h.8M313.28 657.91h.8M328.97 643.16h.8M320.13 651.89h.8M322.3 651.44h.8M318.72 658.88h.8M319.78 656.99h.8M316.13 660.17h.8M321.56 649.4h.8M330.56 640.8h.8M322.37 649.37h.8M321.08 654.82h.8M321.98 656.11h.8M328.18 643.57h.8M328.19 646.82h.8M330.92 643.23h.8M334.09 638.16h.8M309.57 663.84h.8M307.76 666.44h.8M308.76 667.58h.8M320.34 655.46h.8M314.72 658.84h.8M332.62 637.91h.8M328.01 649.64h.8M328.6 643.95h.8M315.51 665.87h.8M326.93 645.12h.8M311.47 663.69h.8M312.76 665.03h.8M310.57 666.15h.8M304.89 668.61h.8M327.43 652.46h.8M307.74 669.67h.8M326.46 655.65h.8M313.09 657.77h.8M327.4 646.57h.8M314.69 663.33h.8M330.72 645.93h.8M325.89 652.69h.8M318.26 655.36h.8M324.21 647.46h.8M322.02 653.03h.8M320.17 655.57h.8M322.67 653.35h.8M308.63 658.85h.8M309.34 668.42h.8M331.76 641.68h.8M312.37 660.92h.8M328.41 644.71h.8M315.47 659.11h.8M322.95 648.38h.8M307.64 668.55h.8M324.65 648.35h.8M331.76 640.62h.8M318.48 657.33h.8M327.01 645.97h.8M332.65 639.4h.8M309.45 668.38h.8M308.68 668.97h.8M325.47 647.07h.8M312.11 666.73h.8M312.95 658.28h.8M323.43 655.68h.8M323.02 651.99h.8M312.29 658.63h.8M310.93 665.71h.8M309.29 669.14h.8M331.56 641.12h.8M310.89 666.39h.8M324.2 649.64h.8M323.26 650.07h.8M327.12 643.91h.8M304.61 670.41h.8M321.71 656.31h.8M329.47 644.97h.8M324.07 649.79h.8M328.53 648.87h.8M322.52 650.17h.8M327.5 650.95h.8M328.3 643.6h.8M317.92 663.45h.8M322.51 655.39h.8M320.73 650.81h.8M321.11 655.28h.8M322.6 652.77h.8M323.25 648.94h.8M316.48 657.08h.8M322.86 647.22h.8M319.72 656.76h.8M309.99 669.49h.8M325.69 650.2h.8M310.83 662.1h.8M312.39 665.64h.8M321.86 653.95h.8M310.04 669.04h.8M330.78 639.23h.8M320.96 652.92h.8M319.28 653.28h.8M311.63 658.23h.8M321.24 655.06h.8M315.07 660.62h.8M310.77 664.17h.8M309.5 667.82h.8M314.05 659.89h.8M319.59 656.82h.8M320.98 648.88h.8M310.74 666.11h.8M308.47 667.79h.8M330.75 640.46h.8M312.23 665.03h.8M323.67 654.41h.8M317.74 652.29h.8M320.45 654.18h.8M333.6 639.08h.8M320.74 655.41h.8M320.74 649.27h.8M317.99 659.7h.8M320.71 658.2h.8M313.9 658.87h.8M323.81 653.02h.8M320.78 655.65h.8M326.08 644.39h.8M329.32 644.71h.8M312.02 667.5h.8M311.02 666.57h.8M312.66 658.36h.8M327.65 646.97h.8M333.72 637.73h.8M309.03 668.9h.8M325.52 643.55h.8M315.25 657.63h.8M329.76 641.15h.8M319.11 652.99h.8M311.28 667.08h.8M315.3 660.79h.8M306 667.2h.8M313.64 659.21h.8M323.12 644.09h.8M304.31 666.38h.8M321.59 648.64h.8M327.05 646.86h.8M320.05 650.37h.8M326.54 641.35h.8M323.26 649.97h.8M311.63 664.43h.8M312.96 664.62h.8M324.36 645h.8M309.49 668.21h.8M312.27 660.9h.8M318.96 651.72h.8M328.09 644.24h.8M312.75 662h.8M315.69 659.53h.8M324.66 657.85h.8M323.09 650.69h.8M330.09 644.26h.8M326.84 645.52h.8M328.51 640.09h.8M310.57 668.89h.8M308.76 667.59h.8M330.83 641.21h.8M315.61 660.46h.8M308.62 662.9h.8M314.69 659.72h.8M315.14 661.72h.8M316.03 657.46h.8M304.97 668.01h.8M317.34 663.01h.8M318.21 658.06h.8M324.21 647.05h.8M316.2 664.26h.8M319.02 655.52h.8M325.49 643.48h.8M308.05 667.94h.8M314.32 663.03h.8M314.61 660.75h.8M324.9 656.6h.8M310.3 664.5h.8M314.41 664.79h.8M323.42 649.81h.8M319.96 653.38h.8M326.67 648.57h.8M322.83 651.39h.8M321.47 652.02h.8M322.18 654.15h.8M322.08 651.08h.8M327.45 648.16h.8M325.68 643.98h.8M328.79 644.18h.8M314.64 660.91h.8M317.22 656.5h.8M327.35 650.75h.8M335.78 636.04h.8M325.15 650.44h.8M308.81 659.92h.8M319.83 654.21h.8M314.84 666.31h.8M326.65 644.28h.8M309.56 665.08h.8M320.2 656.33h.8M317.83 654.19h.8M327.52 647.08h.8M325.07 651.05h.8M312.75 663.11h.8M323.28 647.48h.8M332.95 640.29h.8M317.76 662.99h.8M329.26 645.14h.8M330.52 643.21h.8M322.15 649.53h.8M322.51 649.65h.8M318.11 654.86h.8M317.28 658.51h.8M306.83 667.43h.8M319.94 659.76h.8M308.9 668.22h.8M322.29 647.82h.8M325.61 650.01h.8M308.54 665.93h.8M321.93 658.93h.8M318.66 657.55h.8M327.33 643.74h.8M320.63 658.74h.8M317.62 656.69h.8M322.93 650.87h.8M324.45 652.04h.8M320.59 658.54h.8M318.63 654.79h.8M316.34 660.89h.8M311.31 667.21h.8M313.36 660.49h.8M321.66 655h.8M330.2 641.73h.8M306.6 669.89h.8M321.61 653.23h.8M318.49 652.88h.8M323.54 650.91h.8M319.17 657.04h.8M325.73 646.29h.8M318.89 662.76h.8M321.4 654.49h.8M315.02 665.8h.8M311.29 666.97h.8M321.07 653.34h.8M311.19 659.72h.8M323.07 654.74h.8M330.21 642.14h.8M318.73 657.72h.8M316.73 659.13h.8M319.9 659.2h.8M306.92 666.53h.8M320.72 654.38h.8M309.83 669.44h.8M321.42 653.66h.8M312.59 665.45h.8M309.08 664.53h.8M328.47 644.21h.8M318.38 654.16h.8M319.91 658.68h.8M323.89 650.95h.8M322.72 653.63h.8M307.26 671.61h.8M321.54 653.05h.8M329.52 642.92h.8M321.63 651.59h.8M311.42 668.93h.8M313.8 655.97h.8M329.04 641.95h.8M329.48 651.2h.8M328.75 644.33h.8M318.96 660.55h.8M313.98 657.48h.8M323.18 653.17h.8M325.4 649.75h.8M307.85 665.8h.8M332.03 640.79h.8M329.7 642.37h.8M328.32 641.59h.8M320.49 657h.8M309.65 667.44h.8M313.75 656.64h.8M328.74 649.65h.8M313.67 664.51h.8M311.56 664.23h.8M312.41 662.31h.8M330.82 638.99h.8M311.18 663.24h.8M335.46 637.69h.8M319.31 658.78h.8M319.11 650.99h.8M309.42 666.3h.8M320.98 651.88h.8M325.19 647.96h.8M322.2 656.47h.8M315.71 659.35h.8M313.1 660.97h.8M333.04 638.14h.8M320.84 660.03h.8M331.72 639.57h.8M319.87 655.78h.8M333.97 640.41h.8M325.32 646.62h.8M309.27 668.14h.8M308.25 670.96h.8M330.33 640.52h.8M321.14 653.7h.8M312.58 658.55h.8M324 653.97h.8M315.64 656.71h.8M318.02 653.27h.8M328.75 642.16h.8M334.28 638.71h.8M328.02 644.58h.8M334.47 635.91h.8M329.61 643.77h.8M311.08 664.51h.8M315.12 665.7h.8M324.6 650.24h.8M320.32 659.43h.8M323.86 650.51h.8M330.37 644.05h.8M317.53 657.41h.8M319.82 653.39h.8M323 653.38h.8M326.43 645.45h.8M308.84 671.45h.8M324.23 648.78h.8M320.45 651h.8M318.59 661.67h.8M327.29 646.2h.8M307.47 671.33h.8M310.02 666.41h.8M323.01 650.45h.8M316.3 655.17h.8M321.37 656.15h.8M332.3 641.76h.8M320.51 656.53h.8M314.42 664.06h.8M307.82 668.36h.8M326.65 643.31h.8M323.49 650.31h.8M332.43 636.84h.8M308.12 673.03h.8M322.36 656.07h.8M325.52 648.97h.8M327.01 645.1h.8M321.5 656.23h.8M328.2 645.89h.8M329.97 640.37h.8M327.82 653.09h.8M318.91 647.28h.8M333.68 638.29h.8M331.87 640.68h.8M313.65 665.41h.8M327.63 649.19h.8M324.06 655.39h.8M321.19 654.87h.8M306.29 667.3h.8M319.58 661.34h.8M320.87 653.58h.8M312.91 666.4h.8M322.97 651.48h.8M326.73 646.89h.8M333.32 635.73h.8M307.35 669.46h.8M324.25 647.54h.8M327.36 650.38h.8M316.5 662.62h.8M334.07 638.98h.8M330.23 641.95h.8M317.65 658.15h.8M329.46 642.78h.8M321.52 653.86h.8M329.68 644.32h.8M326.48 646.82h.8M318.86 653.39h.8M314.58 658.19h.8M316.18 661.16h.8M322.41 650.94h.8M320.59 655.99h.8M312.57 661.76h.8M328.61 642.28h.8M330.39 646.3h.8M314.04 664.5h.8M327.11 647.83h.8M324.25 651.41h.8M330.28 643.85h.8M330.13 642.48h.8M328.97 645.59h.8M319.99 656.89h.8M312.54 666.04h.8M313.64 660.21h.8M311.61 662.9h.8M319.31 658.5h.8M314.9 662.1h.8M327.78 643.09h.8M319.09 653.95h.8M321.2 660.82h.8M307.05 666.98h.8M333.88 636.94h.8M312.31 663.83h.8M322.3 653.87h.8M320.77 656.08h.8M323.74 654.88h.8M321.37 658.35h.8M323.87 652.58h.8M330.64 640.88h.8M309.23 665.83h.8M304.99 670.04h.8M324.81 650.37h.8M315.22 660.64h.8M330.52 640.88h.8M307.3 669.73h.8M324.98 649.54h.8M324.59 656.1h.8M320.22 658.07h.8M318.15 660.22h.8M320.31 658.86h.8M320.35 652.1h.8M324.78 650.85h.8M330.96 643.45h.8M311.8 653.37h.8M310.69 668.84h.8M330.28 643.53h.8M327.36 642.26h.8M329.16 644.09h.8M329.68 640.87h.8M331.48 641.46h.8M316.7 660.9h.8M325.53 650.96h.8M332.28 640.37h.8M322.06 650.19h.8M319.23 648.77h.8M316.91 656.17h.8M326.05 647.59h.8M327.04 647.14h.8M327.96 644.96h.8M329.35 644.97h.8M321.27 655.44h.8M326.3 648.86h.8M326.67 643.94h.8M312.38 662.88h.8M323.67 649.8h.8M320.57 656.14h.8M308.01 665.83h.8M318.53 652.58h.8M319.53 650.81h.8M332.74 644.01h.8M310.79 664.65h.8M321.07 652.93h.8M316.7 669.83h.8M316.75 658.38h.8M311.11 665.97h.8M324.89 648.92h.8M316.56 657.98h.8M317.57 656.16h.8M314.96 661.86h.8M321.62 648.91h.8M324.8 646.21h.8M332.85 641.3h.8M331.01 637.31h.8M328 643.63h.8M309.09 668.04h.8M323.91 653.45h.8M316.29 661.02h.8M319.69 659.81h.8M319.9 651.91h.8M308.35 667.11h.8M321.88 658.64h.8M329.88 641.97h.8M329.83 642.91h.8M314.05 659.98h.8M311.65 662.82h.8M323.56 650.68h.8M329.7 643.17h.8M328.08 644.32h.8M333.9 637.64h.8M319.38 655.72h.8M315.29 662.38h.8M328.01 645.06h.8M311.03 669.59h.8M323.09 650.62h.8M333.14 640.41h.8M325.99 644.47h.8M323.85 648.02h.8M330.1 646.52h.8M314.36 659.37h.8M319.96 656.66h.8M325.98 650.42h.8M317.38 651.51h.8M328.47 641.02h.8M319.62 653.45h.8M310.9 668h.8M326.17 646.75h.8M326 646.94h.8M327.14 647.06h.8M329.35 648.36h.8M327.35 652.27h.8M323.08 655.02h.8M314.89 663.11h.8M326.29 647.39h.8M312.82 665.69h.8M330.55 646.3h.8M317.82 653.64h.8M318.07 659.45h.8M324.46 654.55h.8M318.84 657.58h.8M314.67 661.81h.8M326.71 648.1h.8M316.91 655.36h.8M323.21 648.38h.8M322.47 650.61h.8M325.16 651.71h.8M308.82 668h.8M326.62 645.31h.8M333.95 637.4h.8M329.53 641.45h.8M312.62 664.49h.8M322.95 654.22h.8M328.95 642.69h.8M311.45 667.9h.8M323.4 650.09h.8M327.83 641.67h.8M307.65 667.89h.8M324.89 644.99h.8M320.09 652.25h.8M319.47 656.43h.8M332.62 642.39h.8M326.14 648.3h.8M317.24 654.19h.8M321.72 652.96h.8M326.16 648.46h.8M322.81 653.36h.8M315.89 658.97h.8M327 649.17h.8M328.72 647.59h.8M329.4 643.42h.8M314.02 665.05h.8M326.07 650.31h.8M333.25 640.43h.8M322.32 649.95h.8M318.15 655.6h.8M320.15 650.69h.8M317.14 657.72h.8M322.45 649.95h.8M308.82 669.08h.8M308.02 668.27h.8M328.85 643.84h.8M323.61 648.44h.8M331.9 639.91h.8M323.83 653.8h.8M323.92 651.65h.8M335.75 636.45h.8M324.43 649.82h.8M321.59 654.04h.8M308.41 667.24h.8M328.09 643.51h.8M330.8 645.83h.8M322.97 654.17h.8M332.67 642.8h.8M324.24 649.62h.8M322.64 652.93h.8M315.71 657.82h.8M330.01 643.11h.8M308.5 666.88h.8M332.24 639.28h.8M325.24 646.78h.8M326.14 642.31h.8M317.93 651.28h.8M305.86 672.82h.8M317.02 658.25h.8M330.43 640.65h.8M332.05 642.38h.8M319 650.37h.8M315.61 664h.8M325.57 656.16h.8M308.99 668.93h.8M324.52 647.95h.8M327.92 645.59h.8M326.11 650.54h.8M319.79 651.08h.8M316.79 657.43h.8M331.38 639.12h.8M327.11 651.73h.8M311.78 663.36h.8M322.82 653.58h.8M317.17 656.31h.8M318 663.86h.8M329.16 643.08h.8M313.94 659.2h.8M313.02 668.2h.8M329.36 647.36h.8M322.56 651.39h.8M316.26 659.48h.8M315.55 654.32h.8M311.9 661.31h.8M327.79 639.63h.8M315.6 662.22h.8M318.58 651.34h.8M319.72 652.96h.8M313.41 662.6h.8M319.24 653.01h.8M324.32 651.22h.8M321.04 655.26h.8M309.75 664.6h.8M317.24 664.62h.8M331.76 639.01h.8M322.29 654.64h.8M319.87 662.41h.8M325.48 648.14h.8M311.43 659.99h.8M315.87 658.41h.8M325.79 646.45h.8M325.57 644.57h.8M317.86 650.94h.8M333.92 639.85h.8M322.6 655.42h.8M321.24 653.97h.8M320.21 647.85h.8M329.84 642.17h.8M318.3 652.16h.8M322.15 649.36h.8M323.96 648.2h.8M313.14 663.39h.8M321.33 661.55h.8M321.79 649.85h.8M322.12 649.75h.8M311.36 658.51h.8M329.54 645.31h.8M316.62 658.41h.8M317.76 658.27h.8M332.2 636.88h.8M316.65 656.66h.8M336.51 636.66h.8M310.66 663.03h.8M331 640.74h.8M334.65 636.03h.8M331.14 639.72h.8M322.67 643.21h.8M312.67 657.68h.8M325 648.61h.8M319.19 661.18h.8M313.55 669h.8M329.37 649.79h.8M318.03 658.26h.8M309.25 673.35h.8M315.71 662h.8M328.74 646.88h.8M323.34 656.49h.8M312.87 665.55h.8M323.65 654h.8M317.39 661.81h.8M325.28 651.97h.8M326.6 647.79h.8M315.16 658.18h.8M318.73 652.14h.8M330.73 639.24h.8M321.23 650.77h.8M308.3 667.13h.8M330.56 639.28h.8M318.35 656.43h.8M318.13 659.94h.8M315.97 665.01h.8M323.81 650.86h.8M315 660.3h.8M320 658.42h.8M323.27 650.51h.8M320.88 649.96h.8M327.1 646.19h.8M332.66 643.28h.8M322.02 651.06h.8M321.61 650.83h.8M313.54 661.39h.8M320.61 650.98h.8M321.9 651.1h.8M335.37 635.29h.8M332.47 640.26h.8M329.21 645.59h.8M332.56 642.14h.8M325.04 649.88h.8M317.36 655.28h.8M332.87 637.87h.8M319.89 659.83h.8M314.57 658.94h.8M315.1 660.33h.8M318 659.73h.8M317.52 666.08h.8M312.56 659.01h.8M311.78 662.19h.8M309.79 666.94h.8M314.31 656.96h.8M331.29 641.04h.8M323.62 650.63h.8M319.15 657.17h.8M322.4 647.79h.8M316.96 657.05h.8M318.38 657.44h.8M324.54 650.47h.8M308.92 664.19h.8M315.49 655.89h.8M318.19 661.42h.8M313.39 664.8h.8M319.74 655.72h.8M309.41 668.49h.8M307.77 670.5h.8M314.67 659.73h.8M323.12 651.78h.8M316.84 660.98h.8M326.22 650.18h.8M318.94 651.67h.8M320.32 652.33h.8M330.69 641.6h.8M317.34 655.73h.8M316.42 656.72h.8M327.9 649.75h.8M327.78 648.33h.8M317.8 658.11h.8M329.23 645.98h.8M309.74 666.85h.8M318.59 655.08h.8M319.23 656.06h.8M325.5 647.72h.8M311.71 661.98h.8M332.87 640.22h.8M326.53 648.42h.8M311.44 667.41h.8M323.52 653.18h.8M312.8 668.56h.8M305.92 669.55h.8M323.76 646.07h.8M313.18 659.88h.8M317.92 651.56h.8M329.94 641.46h.8M329.77 645.08h.8M330.52 645.6h.8M319.5 652.1h.8M317.6 662.26h.8M314.75 662.6h.8M316.8 656.08h.8M314.41 663.02h.8M306.93 666.23h.8M310.92 666.41h.8M312.37 663.23h.8M327.74 644.5h.8M327.5 644.37h.8M318.04 655.21h.8M319.93 653.83h.8M314.39 666.35h.8M314.17 663.56h.8M323.33 653.48h.8M321.42 650.36h.8M304.92 667.71h.8M322.64 652.62h.8M319.3 653.76h.8M328.35 646.68h.8M308.57 672.06h.8M323.71 654.66h.8M313.68 662.5h.8M322.8 650.06h.8M317.56 659.65h.8M309.95 669.93h.8M315.73 660.36h.8M320.9 652.14h.8M330.84 640.31h.8M318.95 652.91h.8M319.4 652.59h.8M328.81 642.85h.8M325.49 651.82h.8M333.81 639.68h.8M323.73 655.55h.8M314.05 662.18h.8M331.45 641.16h.8M314.62 661.24h.8M318.59 651.34h.8M319.47 654.19h.8M325.64 652.66h.8M321.37 651.46h.8M323.69 645.34h.8M334.07 638.28h.8M321.11 651.55h.8M329.73 644.25h.8M315.96 656.79h.8M333.44 639.55h.8M320.96 656.81h.8M328.89 640.28h.8M319.39 657.22h.8M329.16 641.79h.8M322.82 649.03h.8M334.5 637.62h.8M318.51 652.86h.8M334.1 639.89h.8M314.46 655.61h.8M311.61 659.84h.8M312.28 660.66h.8M316.49 664.01h.8M323.74 647.86h.8M321.28 649.23h.8M318.85 653.04h.8M319.63 649.89h.8M304.68 669.72h.8M314.33 659.51h.8M311.81 667.53h.8M313.52 657.14h.8M313.39 662.03h.8M323.9 654.16h.8M325.07 653.67h.8M316.91 656.08h.8M329.14 643.53h.8M313.98 661.6h.8M317.42 659.07h.8M332.26 638.93h.8M331.98 640.17h.8M309.91 662h.8M315.47 666.46h.8M321.58 657.24h.8M321.67 660.26h.8M310.58 667.11h.8M320.8 655.96h.8M332 640h.8M332.09 638.19h.8M325.52 641.59h.8M312.56 664.31h.8M313.27 661.23h.8M311.97 663.16h.8M316.22 665.76h.8M305.54 668.94h.8M325.96 645.41h.8M329.52 642.71h.8M326.01 648.65h.8M321.05 651.19h.8M316.99 659.03h.8M333.91 644.16h.8M323.4 653.47h.8M335.45 638.28h.8M317.97 656.92h.8M333.85 637.35h.8M318.36 653.39h.8M314.03 662.02h.8M314.26 663.42h.8M326.86 644.39h.8M327.37 646.63h.8M316.18 651.97h.8M320.47 648.57h.8M327.11 643.55h.8M319.87 658.1h.8M318.1 655.71h.8M306.81 672.14h.8M324.6 645.8h.8M325.19 648.55h.8M317.51 660.15h.8M319.21 663.94h.8M332.34 642.43h.8M312.45 663.66h.8M315.92 657.93h.8M320.89 651.72h.8M331.44 639.47h.8M308.84 669.95h.8M318.89 654.94h.8M330.16 643.72h.8M332.35 638.19h.8M332.1 641.4h.8M330.91 642.24h.8M321.86 648.78h.8M324.94 647.6h.8M314.62 659.79h.8M325.71 652.76h.8M312.86 659.14h.8M317.76 658.93h.8M326.7 649.32h.8M327.81 644.85h.8M317.05 654.76h.8M324.06 653.39h.8M323.07 658.86h.8M314.91 664.26h.8M316.67 654.49h.8M314.37 659.48h.8M318.09 649.99h.8M320.18 653.44h.8M321.51 652.03h.8M331.01 644.01h.8M314.56 658.64h.8M318.19 660.79h.8M329.42 640.96h.8M319.42 654h.8M320.65 655.47h.8M328.11 645.16h.8M328.86 640.79h.8M319.77 652.4h.8M328.11 644.19h.8M329.88 642.01h.8M308.41 664.86h.8M314.15 658.27h.8M315.43 662.29h.8M310.09 669.12h.8M328.59 642.68h.8M314.37 662.72h.8M311.06 664.38h.8M324.14 652.59h.8M324.83 646.74h.8M325.7 649.1h.8M317.35 664.53h.8M329.48 648.01h.8M304.84 665.7h.8M310.78 666.88h.8M306.34 668.35h.8M312.43 663.95h.8M335.1 637.36h.8M331.53 641.11h.8M316.96 661.61h.8M331.77 639.02h.8M323.4 645.99h.8M318.77 657.17h.8M325.69 650.99h.8M321.71 651.02h.8M312.41 666.97h.8M327.95 647.62h.8M311.75 663.58h.8M325.52 647.98h.8M319.83 656.71h.8M318.8 657.01h.8M323.77 651.34h.8M331.84 639.63h.8M323.5 650.59h.8M327.39 644.98h.8M333.52 638.52h.8M310.78 661.3h.8M325.37 643.49h.8M325.94 647.85h.8M328.62 641.94h.8M313.23 665.23h.8M322.8 647.4h.8M330.45 642.74h.8M332.88 641.39h.8M320.03 657.44h.8M322.07 653.14h.8M320.49 655.28h.8M322.8 647.2h.8M316.96 658.89h.8M322.09 656.2h.8M310.56 665.9h.8M328.97 642.89h.8M324.54 644.92h.8M321.88 653.04h.8M330.75 640.79h.8M315.42 660.24h.8M329.84 643.72h.8M323.77 650.12h.8M324.52 647.56h.8M331.4 637.98h.8M311.81 657.66h.8M320.31 656.11h.8M321.18 656.49h.8M312.34 672.16h.8M324.56 649.51h.8M314.78 655.58h.8M306.52 670.6h.8M316.17 652.98h.8M312.17 664.04h.8M316.44 659h.8M325.83 645.4h.8M327.99 646.59h.8M317.27 656.81h.8M327.8 646h.8M321.52 652.69h.8M322.86 651.45h.8M325.76 644.67h.8M320.75 653.13h.8M317.97 658.47h.8M319.12 655.46h.8M315.27 662.01h.8M312.57 670.35h.8M318.19 654.01h.8M311.55 664.49h.8M310.6 667.04h.8M332.28 639.42h.8M312.08 657.57h.8M325.54 648.37h.8M329.56 643.81h.8M322.05 651.16h.8M316.17 666.09h.8M316.19 663.11h.8M325.51 646.87h.8M317.93 661.23h.8M311.3 667.48h.8M316.89 664.88h.8M314.02 659.06h.8M314.31 655.48h.8M320.45 653.07h.8M307.93 667.1h.8M330.76 640.6h.8M324.81 649h.8M310.04 662.83h.8M309.46 668.35h.8M328.48 645.97h.8M317.82 660.6h.8M316.06 660.41h.8M318.95 656.74h.8M331.28 642.35h.8M331.14 642.2h.8M331.1 640.07h.8M327.02 642.66h.8M331.04 644.47h.8M321.45 647.36h.8M330.18 641.2h.8M332.44 641.76h.8M306.39 667.86h.8M329.03 645.19h.8M321.57 657.84h.8M316.29 658.47h.8M328.25 648.14h.8M315.63 658.68h.8M321.7 652.26h.8M317.89 666.16h.8M325.4 654.04h.8M323.59 648.93h.8M325.95 647.9h.8M327.49 644.88h.8M327.69 641.12h.8M331.59 640.61h.8M323.79 649.11h.8M328.92 645.65h.8M312.06 665.15h.8M328.88 644.55h.8M310.12 660.15h.8M330.84 642.21h.8M322.15 655.65h.8M311.61 665.21h.8M324.23 647.89h.8M329.39 644.22h.8M320.84 658.09h.8M317.45 661.42h.8M319.99 653.21h.8M325.25 651.13h.8M317.72 656.27h.8M330.93 646.89h.8M321.08 653.43h.8M321.67 649.55h.8M313.81 661.01h.8M326.04 647.05h.8M315.72 660.84h.8M329.85 639.56h.8M330.29 642.16h.8M313.88 658.33h.8M308.1 667.49h.8M316.73 660.23h.8M315.74 661.32h.8M333.16 635.46h.8M325.78 642.23h.8M307.93 667.44h.8M314 658.06h.8M311.69 662.16h.8M327.79 644.13h.8M325.02 649.74h.8M311.97 663.79h.8M333.61 644.1h.8M306.88 662.22h.8M322.78 650.63h.8M328.6 645.11h.8M317.8 658.35h.8M316.13 655.66h.8M316.85 654.74h.8M323.64 644.32h.8M316.63 660.86h.8M316.24 661.54h.8M318.06 655.2h.8M317.11 659.17h.8M318.34 653.7h.8M335.45 636.35h.8M333.53 637.02h.8M323.8 648.03h.8M319.54 653.37h.8M314.29 663.44h.8M308.98 662.47h.8M317.02 665.24h.8M333.81 638.3h.8M319.42 654.63h.8M314.44 662.35h.8M324.14 655.74h.8M312.52 666.26h.8M320.85 652.1h.8M309.12 672.21h.8M331.42 639.08h.8M325.91 646.46h.8M306.27 669.53h.8M313.66 662.59h.8M332.13 635.75h.8M317.92 657.72h.8M328.84 642.29h.8M326.28 647.39h.8M325.76 643.25h.8M326.42 645.9h.8M327.39 647.78h.8M305.37 670.52h.8M306.4 665.54h.8M324.42 647.14h.8M319.82 655.43h.8M310.19 668.9h.8M313.26 659.14h.8M311.85 667.32h.8M327.05 642.59h.8M327.34 647.43h.8M321.16 655.34h.8M336.14 634.85h.8M315.03 666.83h.8M312.28 666.72h.8M333.2 637.83h.8M326.21 646.82h.8M320.53 659.17h.8M310.66 658.77h.8M316.99 660.66h.8M313.98 659.45h.8M317.37 657.56h.8M327.51 645.29h.8M317.68 655.91h.8M331.33 644.68h.8M326.52 646.48h.8M328.23 644.73h.8M330.64 640.68h.8M318.26 658.39h.8M329.89 642.25h.8M321.51 652.79h.8M313.22 662.05h.8M309.93 669.38h.8M328.64 645.79h.8M324.08 645.8h.8M329.19 641.32h.8M311.55 667.57h.8M311.5 665.3h.8M310.07 667.75h.8M316.71 657.19h.8M320.83 655.11h.8M310.16 665.91h.8M316.22 658.05h.8M306.18 664.48h.8M308.12 662h.8M314.06 661.2h.8M312.05 670.68h.8M316.9 660.21h.8M314.13 662.11h.8M322.6 653.36h.8M333.7 639.63h.8M325.99 647.6h.8M311.07 664.36h.8M322.21 650.28h.8M326.52 646.58h.8M329.19 642.39h.8M322.49 649.58h.8M330.79 642.67h.8M329.2 639.93h.8M332.78 636.79h.8M326.03 648.77h.8M318 657.78h.8M314.8 661.79h.8M316.36 660.93h.8M326.48 648.11h.8M328.93 646.95h.8M329.7 640.22h.8M319.98 655.26h.8M323.53 646.12h.8M329.22 646.15h.8M317.53 660.88h.8M323.04 653.42h.8M318.49 653.13h.8M320.99 656.68h.8M309.24 658.79h.8M316.28 661.34h.8M305.79 671.61h.8M305.68 668.69h.8M308.74 665.19h.8M326.42 650.83h.8M326.96 644.07h.8M319.83 654.6h.8M315.13 659.8h.8M329.29 647.31h.8M332.35 639.73h.8M305.23 668.88h.8M314.18 659.09h.8M308.16 666.67h.8M332.31 640.07h.8M313.1 661.68h.8M328.33 649.5h.8M309.5 665.76h.8M327.82 643.82h.8M312.56 663.95h.8M331.98 639.54h.8M315.47 660.71h.8M310.56 665.18h.8M318.51 650.28h.8M314.66 655.55h.8M321.49 654.74h.8M312.93 662.09h.8M312.8 654.71h.8M324.8 654.09h.8M317.02 656.16h.8M320.32 659.65h.8M322.13 653.54h.8M316.01 662.94h.8M326.16 645.8h.8M319.11 654.09h.8M320.04 652.59h.8M309.23 669.49h.8M324.48 648.68h.8M328.39 644.51h.8M320.98 657.19h.8M322.89 649.44h.8M313.68 661.6h.8M319.78 653.48h.8M310.97 665.76h.8M323.9 644.96h.8M313.63 662.66h.8M310.07 664.04h.8M327.97 645.14h.8M319.79 655.73h.8M325.7 646.5h.8M326.15 647.29h.8M314.11 658.38h.8M317.14 652.04h.8M319.49 659.22h.8M316.07 662.21h.8M331.83 641.76h.8M318.6 659.36h.8M312.01 660.8h.8M331.16 643.52h.8M316.25 656.7h.8M321.88 651.97h.8M313.54 660h.8M316.42 659.84h.8M326.84 645.45h.8M325.41 652.62h.8M320.37 653.31h.8M316.57 658.82h.8M318.67 660.56h.8M327.92 642.14h.8M313.19 663.28h.8M334.94 634.01h.8M316.98 658.54h.8M329.98 642.64h.8M334.01 637.83h.8M329.4 640.41h.8M315.76 661.02h.8M328.4 645.36h.8M315.14 656.83h.8M313.98 661.5h.8M320.32 656.27h.8M317.19 660.34h.8M324.1 650.69h.8M324.11 654.99h.8M327.68 645.54h.8M323.2 651.1h.8M328.58 644.86h.8M327.81 642.1h.8M310.52 663.26h.8M321.15 649.76h.8M320.65 650.69h.8M326.39 648.46h.8M313.84 663.13h.8M323.38 651.83h.8M317.02 664.23h.8M314.22 662.74h.8M323.89 645.18h.8M310.5 664.38h.8M325.51 647.3h.8M316.68 655.04h.8M324.53 651.12h.8M325.18 646.11h.8M316.37 661.68h.8M323.04 652.76h.8M333.19 636.6h.8M331.67 640.45h.8M311.71 663.96h.8M332.64 641.8h.8M312.58 661.93h.8M315.82 657.31h.8M328.94 646.68h.8M326.04 649h.8M317.24 660.11h.8M309.16 661.88h.8M326.74 646.9h.8M327.89 646.03h.8M329.1 639.16h.8M320.08 652.33h.8M326.12 644.96h.8M330.16 638.55h.8M321.25 650.76h.8M322.78 647.09h.8M331.42 639.18h.8M323.46 648.88h.8M315.23 658.61h.8M313.11 662.75h.8M317.23 656.26h.8M320.3 651.91h.8M330.74 640.28h.8M319.36 655.2h.8M323.14 649.29h.8M323.24 649.52h.8M322.9 650.7h.8M327.66 644.52h.8M312.68 658.28h.8M315.56 660.17h.8M320.53 652.39h.8M325.84 643.61h.8M310 665.91h.8M330.56 639.47h.8M315.21 663.58h.8M312.16 661.18h.8M330.8 644.31h.8M324.5 649.73h.8M319.94 654.63h.8M314.95 660.37h.8M307.58 671.79h.8M313.69 663.44h.8M331.71 638.29h.8M305.82 664.95h.8M305.84 663.51h.8M327.63 645.09h.8M309.49 668.45h.8M325.41 650.72h.8M320.64 657.8h.8M328.63 645.83h.8M310.85 666.96h.8M315.34 661.09h.8M325.59 648.02h.8M324.48 651.31h.8M327.9 644.01h.8M312.85 666.61h.8M319.55 659.98h.8M309.13 665.6h.8M326.23 648.8h.8M325.21 647.33h.8M313.73 665.22h.8M316.36 654.93h.8M324.2 651.81h.8M311.37 664.16h.8M319.18 654.53h.8M318.53 653.89h.8M304.96 671.15h.8M321.72 659.8h.8M312.91 661.91h.8M316.45 662.67h.8M316.21 652.96h.8M330.3 641.85h.8M329.66 642.07h.8M313.04 665.25h.8M318.82 652.01h.8M318.41 660.26h.8M328.69 640.47h.8M323.1 652.45h.8M320.99 654.24h.8M307.08 667.65h.8M316.9 656.91h.8M314.15 671.5h.8M305.99 666.85h.8M315.24 662h.8M304.73 667.37h.8M325.42 649.19h.8M325.03 647.48h.8M324.35 649.04h.8M334.66 636.55h.8M333.41 640.14h.8M328.77 642.33h.8M330.81 643.37h.8M319.54 655.13h.8M322.91 653.59h.8M326.03 650.58h.8M327.15 648.95h.8M324.56 651.21h.8M320.68 645.11h.8M332.73 642.26h.8M318.55 655.4h.8M313.89 663.72h.8M333.01 640.04h.8M308.23 667.86h.8M314.73 660.91h.8M325.41 643.69h.8M318.33 653.85h.8M320.98 651.96h.8M327.45 645.5h.8M312.23 659.46h.8M312.22 667.26h.8M313.22 665.49h.8M330.99 638.21h.8M331.13 638.51h.8M316.85 663.82h.8M322.03 652.76h.8M327.96 645.79h.8M328.04 646.08h.8M318.45 657.18h.8M312.69 656.91h.8M328.96 644.58h.8M310.94 664.87h.8M325.2 648.88h.8M322.19 656.49h.8M312.66 661.44h.8M314.85 657.24h.8M332.61 643.15h.8M330.8 639h.8M318.92 646.93h.8M322.2 651.41h.8M323.8 651.27h.8M315.46 661.31h.8M321.56 654.81h.8M317.39 662.1h.8M332.37 643.6h.8M323.83 652.93h.8M317.02 660.81h.8M319.04 653.09h.8M322.24 649.41h.8M330.83 638.49h.8M324.04 646.7h.8M310.39 664.34h.8M305.06 669.76h.8M334.91 637.53h.8M324.08 648.86h.8M332.09 641.72h.8M313.8 669.23h.8M315.01 662.38h.8M317.51 658.71h.8M315.57 658.61h.8M309.78 664.56h.8M327.79 641.16h.8M324.84 647.07h.8M317.12 658.56h.8M322.82 650.8h.8M328.67 648.08h.8M313.38 663.89h.8M325.51 649.85h.8M326.74 643.67h.8M315.67 660.36h.8M318.74 654.03h.8M324.18 645.28h.8M316.23 650.65h.8M326.37 643.17h.8M333.14 640.76h.8M321.19 654.99h.8M314.49 656.56h.8M326.28 646.86h.8M330.81 640.13h.8M327.51 645.13h.8M319.18 655.08h.8M318.6 654.96h.8M309.48 663.34h.8M328.51 642.62h.8M325.92 644.35h.8M330.86 642.37h.8M318.45 654.88h.8M325.61 644.58h.8M314.2 659.78h.8M323.43 651.76h.8M317.93 651.04h.8M308.24 668.44h.8M325.41 647.52h.8M320.92 655.26h.8M316.18 655.81h.8M312.56 669.41h.8M322.52 651.94h.8M321.28 653.89h.8M314.37 662.9h.8M318.76 660.95h.8M310.31 659.82h.8M324.87 653.34h.8M324.39 647.18h.8M319.19 651.04h.8M328.61 644.21h.8M314.33 658.45h.8M319.26 660.92h.8M330.63 640.78h.8M313.11 666.86h.8M320.33 656.85h.8M329.85 642.46h.8M314.96 658.23h.8M323.4 650.19h.8M326.55 645.94h.8M323.25 652.11h.8M332 640.09h.8M321.28 650.02h.8M328.75 648.09h.8M329.73 642.76h.8M316.36 659.05h.8M322.68 650.3h.8M318.98 653.72h.8M318.55 654.59h.8M320.28 658.29h.8M306.9 669.45h.8M333.38 641.08h.8M330.58 643.61h.8M320.39 657.45h.8M316.44 654.8h.8" stroke="#8e4cab" stroke-width=".8"/>
<path d="M341.92 573.7V617.58L290.01 663.67V616.91M344.78 575.03H396.8V616.47H344.78ZM362.53 617.58H396.8V683.39H313.82Z" fill="none" stroke="#5a5a5a" stroke-width=".6"/>
<rect x="313.15" y="615.2" width="2.2" height="1.2" fill="#777"/>
<rect x="372.66" y="596.37" width="2.2" height="1.2" fill="#777"/>
<rect x="355.02" y="649.55" width="2.2" height="1.2" fill="#777"/>
<rect x="287.7" y="573.7" width="110.2" height="110.8" fill="none" stroke="#8a8a8a" stroke-width=".8"/>
<path d="M291.01 684.5v1.2M294.58 684.5v1.2M298.15 684.5v1.2M301.72 684.5v1.2M305.29 684.5v1.2M308.87 684.5v1.2M312.44 684.5v1.2M316.01 684.5v1.2M319.58 684.5v1.2M323.15 684.5v1.2M326.73 684.5v1.2M330.3 684.5v1.2M333.87 684.5v1.2M337.44 684.5v1.2M341.01 684.5v1.2M344.59 684.5v1.2M348.16 684.5v1.2M351.73 684.5v1.2M355.3 684.5v1.2M358.87 684.5v1.2M362.45 684.5v1.2M366.02 684.5v1.2M369.59 684.5v1.2M373.16 684.5v1.2M376.73 684.5v1.2M380.31 684.5v1.2M383.88 684.5v1.2M387.45 684.5v1.2M391.02 684.5v1.2M394.59 684.5v1.2M287.7 577.02h-1.2M287.7 580.62h-1.2M287.7 584.21h-1.2M287.7 587.8h-1.2M287.7 591.39h-1.2M287.7 594.98h-1.2M287.7 598.57h-1.2M287.7 602.16h-1.2M287.7 605.76h-1.2M287.7 609.35h-1.2M287.7 612.94h-1.2M287.7 616.53h-1.2M287.7 620.12h-1.2M287.7 623.71h-1.2M287.7 627.3h-1.2M287.7 630.9h-1.2M287.7 634.49h-1.2M287.7 638.08h-1.2M287.7 641.67h-1.2M287.7 645.26h-1.2M287.7 648.85h-1.2M287.7 652.44h-1.2M287.7 656.04h-1.2M287.7 659.63h-1.2M287.7 663.22h-1.2M287.7 666.81h-1.2M287.7 670.4h-1.2M287.7 673.99h-1.2M287.7 677.58h-1.2M287.7 681.18h-1.2" fill="none" stroke="#aaa" stroke-width=".4"/>
<text x="290.05" y="583.7" font-size="9.95" fill="#e9388e" stroke="#e9388e" stroke-width=".25">9.4%</text>
<text x="373.88" y="583.7" font-size="9.95" fill="#f26b35" stroke="#f26b35" stroke-width=".25">1.9%</text>
<text x="373.88" y="681.2" font-size="9.95" fill="#3db54a" stroke="#3db54a" stroke-width=".25">8.2%</text>
<text transform="translate(304.34 693.4)" x="-5.97" y="2.83" font-size="7.9" font-weight="normal" fill="#333">10<tspan font-size="5.06" dy="-2.84">2</tspan></text>
<text transform="translate(281.8 669.32) rotate(-90)" x="-5.44" y="2.58" font-size="7.2" font-weight="normal" fill="#333">10<tspan font-size="4.61" dy="-2.59">2</tspan></text>
<text transform="translate(330.9 693.4)" x="-5.99" y="2.83" font-size="7.9" font-weight="normal" fill="#333">10<tspan font-size="5.06" dy="-2.84">3</tspan></text>
<text transform="translate(281.8 641.18) rotate(-90)" x="-5.46" y="2.58" font-size="7.2" font-weight="normal" fill="#333">10<tspan font-size="4.61" dy="-2.59">3</tspan></text>
<text transform="translate(357.02 693.4)" x="-6.03" y="2.83" font-size="7.9" font-weight="normal" fill="#333">10<tspan font-size="5.06" dy="-2.84">4</tspan></text>
<text transform="translate(281.8 611.93) rotate(-90)" x="-5.49" y="2.58" font-size="7.2" font-weight="normal" fill="#333">10<tspan font-size="4.61" dy="-2.59">4</tspan></text>
<text transform="translate(384.68 693.4)" x="-5.99" y="2.83" font-size="7.9" font-weight="normal" fill="#333">10<tspan font-size="5.06" dy="-2.84">5</tspan></text>
<text transform="translate(281.8 583.78) rotate(-90)" x="-5.46" y="2.58" font-size="7.2" font-weight="normal" fill="#333">10<tspan font-size="4.61" dy="-2.59">5</tspan></text>
<text x="401.68" y="522" font-size="24.5" stroke="#231f20" stroke-width=".25">f</text>
<text x="539.13" y="523.9" font-size="11.5" fill="#c51a35" stroke="#c51a35" stroke-width=".25">HNRNPA1</text>
<text x="467.67" y="541.1" font-size="11.5" stroke="#231f20" stroke-width=".25">Total positive (%)</text>
<text x="581.83" y="541.1" font-size="11.5" stroke="#231f20" stroke-width=".25">Double positive (%)</text>
<line x1="472.3" y1="552.2" x2="472.3" y2="678.15" stroke="#231f20" stroke-width="1.3"/>
<line x1="471.65" y1="677.5" x2="555.3" y2="677.5" stroke="#231f20" stroke-width="1.3"/>
<line x1="468" y1="677.5" x2="472.3" y2="677.5" stroke="#231f20" stroke-width="1.3"/>
<text x="458.84" y="681.29" font-size="10.6" stroke="#231f20" stroke-width=".25">0</text>
<line x1="468" y1="646.3" x2="472.3" y2="646.3" stroke="#231f20" stroke-width="1.3"/>
<text x="458.7" y="650.09" font-size="10.6" stroke="#231f20" stroke-width=".25">5</text>
<line x1="468" y1="615.1" x2="472.3" y2="615.1" stroke="#231f20" stroke-width="1.3"/>
<text x="452.95" y="618.89" font-size="10.6" stroke="#231f20" stroke-width=".25">10</text>
<line x1="468" y1="583.9" x2="472.3" y2="583.9" stroke="#231f20" stroke-width="1.3"/>
<text x="452.81" y="587.69" font-size="10.6" stroke="#231f20" stroke-width=".25">15</text>
<line x1="468" y1="552.7" x2="472.3" y2="552.7" stroke="#231f20" stroke-width="1.3"/>
<text x="452.95" y="556.49" font-size="10.6" stroke="#231f20" stroke-width=".25">20</text>
<rect x="481.4" y="569.1" width="15.4" height="108.4" fill="#62cbf0" stroke="#111" stroke-width="1.6"/>
<path d="M489.1 562.68V572.67M484.6 562.68h9M484.6 572.67h9" fill="none" stroke="#111" stroke-width="1"/>
<circle cx="489.1" cy="562.06" r="2.3"/>
<circle cx="489.1" cy="572.67" r="2.3"/>
<circle cx="488.1" cy="568.3" r="2.3"/>
<rect x="506.3" y="564.11" width="15.4" height="113.39" fill="#da86b9" stroke="#111" stroke-width="1.6"/>
<path d="M514 556.44V570.17M509.5 556.44h9M509.5 570.17h9" fill="none" stroke="#111" stroke-width="1"/>
<circle cx="514" cy="555.2" r="2.3"/>
<circle cx="514" cy="570.17" r="2.3"/>
<circle cx="514" cy="563.93" r="2.3"/>
<rect x="531.3" y="557.24" width="15.4" height="120.26" fill="#c4dd87" stroke="#111" stroke-width="1.6"/>
<path d="M539 555.2V557.07M534.5 555.2h9M534.5 557.07h9" fill="none" stroke="#111" stroke-width="1"/>
<circle cx="535" cy="556.13" r="2.3"/>
<circle cx="539" cy="555.51" r="2.3"/>
<circle cx="543" cy="556.44" r="2.3"/>
<line x1="489.1" y1="677.5" x2="489.1" y2="681.8" stroke="#231f20" stroke-width="1.3"/>
<line x1="514" y1="677.5" x2="514" y2="681.8" stroke="#231f20" stroke-width="1.3"/>
<line x1="539" y1="677.5" x2="539" y2="681.8" stroke="#231f20" stroke-width="1.3"/>
<text transform="translate(492.1 691.2) rotate(-45)" x="-22.96" y="0" font-size="10.2" stroke="#231f20" stroke-width=".25">siNC</text>
<text transform="translate(517 691.2) rotate(-45)" x="-36.99" y="0" font-size="10.2" stroke="#231f20" stroke-width=".25">siPOLQ</text>
<text transform="translate(542 691.2) rotate(-45)" x="-38.71" y="0" font-size="10.2" stroke="#231f20" stroke-width=".25">siRad52</text>
<line x1="476" y1="722.2" x2="547.3" y2="722.2" stroke="#231f20" stroke-width="1.3"/>
<text x="493.92" y="736.6" font-size="11.6" stroke="#231f20" stroke-width=".25">NHEJi</text>
<line x1="594.8" y1="553.6" x2="594.8" y2="677.75" stroke="#231f20" stroke-width="1.3"/>
<line x1="594.15" y1="677.1" x2="675.3" y2="677.1" stroke="#231f20" stroke-width="1.3"/>
<line x1="590.5" y1="677.1" x2="594.8" y2="677.1" stroke="#231f20" stroke-width="1.3"/>
<text x="572.5" y="680.89" font-size="10.6" stroke="#231f20" stroke-width=".25">0.0</text>
<line x1="590.5" y1="652.5" x2="594.8" y2="652.5" stroke="#231f20" stroke-width="1.3"/>
<text x="572.36" y="656.29" font-size="10.6" stroke="#231f20" stroke-width=".25">0.5</text>
<line x1="590.5" y1="627.9" x2="594.8" y2="627.9" stroke="#231f20" stroke-width="1.3"/>
<text x="572.5" y="631.69" font-size="10.6" stroke="#231f20" stroke-width=".25">1.0</text>
<line x1="590.5" y1="603.3" x2="594.8" y2="603.3" stroke="#231f20" stroke-width="1.3"/>
<text x="572.36" y="607.09" font-size="10.6" stroke="#231f20" stroke-width=".25">1.5</text>
<line x1="590.5" y1="578.7" x2="594.8" y2="578.7" stroke="#231f20" stroke-width="1.3"/>
<text x="572.5" y="582.49" font-size="10.6" stroke="#231f20" stroke-width=".25">2.0</text>
<line x1="590.5" y1="554.1" x2="594.8" y2="554.1" stroke="#231f20" stroke-width="1.3"/>
<text x="572.36" y="557.89" font-size="10.6" stroke="#231f20" stroke-width=".25">2.5</text>
<rect x="603.3" y="615.91" width="15.4" height="61.19" fill="#62cbf0" stroke="#111" stroke-width="1.6"/>
<path d="M611 609.2V619.04M606.5 609.2h9M606.5 619.04h9" fill="none" stroke="#111" stroke-width="1"/>
<circle cx="611" cy="608.22" r="2.3"/>
<circle cx="608" cy="618.06" r="2.3"/>
<circle cx="614" cy="618.06" r="2.3"/>
<rect x="627.6" y="594.26" width="15.4" height="82.84" fill="#da86b9" stroke="#111" stroke-width="1.6"/>
<path d="M635.3 588.54V597.89M630.8 588.54h9M630.8 597.89h9" fill="none" stroke="#111" stroke-width="1"/>
<circle cx="635.3" cy="588.54" r="2.3"/>
<circle cx="635.3" cy="596.41" r="2.3"/>
<circle cx="635.3" cy="593.46" r="2.3"/>
<rect x="652" y="582.94" width="15.4" height="94.16" fill="#c4dd87" stroke="#111" stroke-width="1.6"/>
<path d="M659.7 574.27V590.02M655.2 574.27h9M655.2 590.02h9" fill="none" stroke="#111" stroke-width="1"/>
<circle cx="659.7" cy="573.78" r="2.3"/>
<circle cx="659.7" cy="588.54" r="2.3"/>
<circle cx="659.7" cy="583.62" r="2.3"/>
<line x1="611" y1="677.1" x2="611" y2="681.4" stroke="#231f20" stroke-width="1.3"/>
<line x1="635.3" y1="677.1" x2="635.3" y2="681.4" stroke="#231f20" stroke-width="1.3"/>
<line x1="659.7" y1="677.1" x2="659.7" y2="681.4" stroke="#231f20" stroke-width="1.3"/>
<text transform="translate(614 691) rotate(-45)" x="-22.96" y="0" font-size="10.2" stroke="#231f20" stroke-width=".25">siNC</text>
<text transform="translate(638.3 691) rotate(-45)" x="-36.99" y="0" font-size="10.2" stroke="#231f20" stroke-width=".25">siPOLQ</text>
<text transform="translate(662.7 691) rotate(-45)" x="-38.71" y="0" font-size="10.2" stroke="#231f20" stroke-width=".25">siRad52</text>
<line x1="602.8" y1="722.2" x2="667.6" y2="722.2" stroke="#231f20" stroke-width="1.3"/>
<text x="617.42" y="736.6" font-size="11.6" stroke="#231f20" stroke-width=".25">NHEJi</text>
<path d="M610.8 572.4V568.4H635.1V572.4" fill="none" stroke="#777" stroke-width=".85"/>
<text x="620.76" y="570.59" font-size="11.2" fill="#2a2a2a">*</text>
<path d="M610.8 561.7V558H659.4V561.7" fill="none" stroke="#777" stroke-width=".85"/>
<text x="630.33" y="560.42" font-size="11.6" fill="#2a2a2a">*</text>
<text x="635.33" y="560.42" font-size="11.6" fill="#2a2a2a">*</text>
<text x="1.32" y="771.4" font-size="24" stroke="#231f20" stroke-width=".25">g</text>
<text x="129.73" y="779.2" font-size="11.5" stroke="#231f20" stroke-width=".25">Double positive (%)</text>
<text x="67.11" y="800" font-size="11.85" fill="#c51a35" stroke="#c51a35" stroke-width=".25">HNRNPA3</text>
<text x="159.37" y="800.3" font-size="11.55" fill="#c51a35" stroke="#c51a35" stroke-width=".25">TOMM20</text>
<text x="246.85" y="800.3" font-size="11.26" fill="#2e3394" stroke="#2e3394" stroke-width=".25">RAB11A</text>
<line x1="51" y1="806.4" x2="51" y2="939.45" stroke="#231f20" stroke-width="1.3"/>
<line x1="50.35" y1="938.8" x2="314.2" y2="938.8" stroke="#231f20" stroke-width="1.3"/>
<line x1="46.7" y1="938.8" x2="51" y2="938.8" stroke="#231f20" stroke-width="1.3"/>
<text x="28.84" y="942.56" font-size="10.5" stroke="#231f20" stroke-width=".25">0.0</text>
<line x1="46.7" y1="912.42" x2="51" y2="912.42" stroke="#231f20" stroke-width="1.3"/>
<text x="28.7" y="916.18" font-size="10.5" stroke="#231f20" stroke-width=".25">0.5</text>
<line x1="46.7" y1="886.05" x2="51" y2="886.05" stroke="#231f20" stroke-width="1.3"/>
<text x="28.84" y="889.81" font-size="10.5" stroke="#231f20" stroke-width=".25">1.0</text>
<line x1="46.7" y1="859.67" x2="51" y2="859.67" stroke="#231f20" stroke-width="1.3"/>
<text x="28.7" y="863.43" font-size="10.5" stroke="#231f20" stroke-width=".25">1.5</text>
<line x1="46.7" y1="833.3" x2="51" y2="833.3" stroke="#231f20" stroke-width="1.3"/>
<text x="28.84" y="837.06" font-size="10.5" stroke="#231f20" stroke-width=".25">2.0</text>
<line x1="46.7" y1="806.92" x2="51" y2="806.92" stroke="#231f20" stroke-width="1.3"/>
<text x="28.7" y="810.68" font-size="10.5" stroke="#231f20" stroke-width=".25">2.5</text>
<line x1="139.2" y1="805.5" x2="139.2" y2="938" stroke="#8a8a8a" stroke-width=".8" stroke-dasharray="1.6 1.6"/>
<line x1="227.9" y1="805.5" x2="227.9" y2="938" stroke="#8a8a8a" stroke-width=".8" stroke-dasharray="1.6 1.6"/>
<rect x="60.2" y="888.96" width="16.6" height="49.84" fill="#62cbf0" stroke="#111" stroke-width="1.6"/>
<path d="M68.5 883.41V891.32M64 883.41h9M64 891.32h9" fill="none" stroke="#111" stroke-width="1"/>
<circle cx="68.5" cy="883.41" r="2.2"/>
<circle cx="64.5" cy="891.85" r="2.2"/>
<circle cx="72.5" cy="888.69" r="2.2"/>
<line x1="68.5" y1="938.8" x2="68.5" y2="943.1" stroke="#231f20" stroke-width="1.3"/>
<rect x="86.5" y="852.03" width="16.6" height="86.77" fill="#da86b9" stroke="#111" stroke-width="1.6"/>
<path d="M94.8 836.99V864.42M90.3 836.99h9M90.3 864.42h9" fill="none" stroke="#111" stroke-width="1"/>
<circle cx="94.8" cy="834.88" r="2.2"/>
<circle cx="90.8" cy="855.98" r="2.2"/>
<circle cx="98.8" cy="854.4" r="2.2"/>
<line x1="94.8" y1="938.8" x2="94.8" y2="943.1" stroke="#231f20" stroke-width="1.3"/>
<rect x="112.9" y="857.84" width="16.6" height="80.96" fill="#c4dd87" stroke="#111" stroke-width="1.6"/>
<path d="M121.2 854.4V859.67M116.7 854.4h9M116.7 859.67h9" fill="none" stroke="#111" stroke-width="1"/>
<circle cx="117.2" cy="853.87" r="2.2"/>
<circle cx="121.2" cy="859.67" r="2.2"/>
<circle cx="125.2" cy="854.93" r="2.2"/>
<line x1="121.2" y1="938.8" x2="121.2" y2="943.1" stroke="#231f20" stroke-width="1.3"/>
<text transform="translate(71.7 953) rotate(-45)" x="-22.51" y="0" font-size="10" stroke="#231f20" stroke-width=".25">siNC</text>
<text transform="translate(98 953) rotate(-45)" x="-36.26" y="0" font-size="10" stroke="#231f20" stroke-width=".25">siPOLQ</text>
<text transform="translate(124.4 953) rotate(-45)" x="-37.95" y="0" font-size="10" stroke="#231f20" stroke-width=".25">siRad52</text>
<rect x="148" y="914.28" width="16.6" height="24.52" fill="#62cbf0" stroke="#111" stroke-width="1.6"/>
<path d="M156.3 908.2V917.7M151.8 908.2h9M151.8 917.7h9" fill="none" stroke="#111" stroke-width="1"/>
<circle cx="156.3" cy="907.15" r="2.2"/>
<circle cx="152.3" cy="915.59" r="2.2"/>
<circle cx="160.3" cy="915.59" r="2.2"/>
<line x1="156.3" y1="938.8" x2="156.3" y2="943.1" stroke="#231f20" stroke-width="1.3"/>
<rect x="174.3" y="890.54" width="16.6" height="48.26" fill="#da86b9" stroke="#111" stroke-width="1.6"/>
<path d="M182.6 887.1V892.38M178.1 887.1h9M178.1 892.38h9" fill="none" stroke="#111" stroke-width="1"/>
<circle cx="178.6" cy="887.63" r="2.2"/>
<circle cx="182.6" cy="891.32" r="2.2"/>
<circle cx="186.6" cy="889.74" r="2.2"/>
<line x1="182.6" y1="938.8" x2="182.6" y2="943.1" stroke="#231f20" stroke-width="1.3"/>
<rect x="200.6" y="921.66" width="16.6" height="17.13" fill="#c4dd87" stroke="#111" stroke-width="1.6"/>
<path d="M208.9 917.7V922.45M204.4 917.7h9M204.4 922.45h9" fill="none" stroke="#111" stroke-width="1"/>
<circle cx="204.9" cy="917.7" r="2.2"/>
<circle cx="208.9" cy="921.92" r="2.2"/>
<circle cx="212.9" cy="920.34" r="2.2"/>
<line x1="208.9" y1="938.8" x2="208.9" y2="943.1" stroke="#231f20" stroke-width="1.3"/>
<text transform="translate(159.5 953) rotate(-45)" x="-22.51" y="0" font-size="10" stroke="#231f20" stroke-width=".25">siNC</text>
<text transform="translate(185.8 953) rotate(-45)" x="-36.26" y="0" font-size="10" stroke="#231f20" stroke-width=".25">siPOLQ</text>
<text transform="translate(212.1 953) rotate(-45)" x="-37.95" y="0" font-size="10" stroke="#231f20" stroke-width=".25">siRad52</text>
<rect x="235.6" y="885.27" width="16.6" height="53.53" fill="#62cbf0" stroke="#111" stroke-width="1.6"/>
<path d="M243.9 876.03V892.38M239.4 876.03h9M239.4 892.38h9" fill="none" stroke="#111" stroke-width="1"/>
<circle cx="243.9" cy="876.03" r="2.2"/>
<circle cx="243.9" cy="891.32" r="2.2"/>
<circle cx="243.9" cy="885" r="2.2"/>
<line x1="243.9" y1="938.8" x2="243.9" y2="943.1" stroke="#231f20" stroke-width="1.3"/>
<rect x="262.3" y="849.92" width="16.6" height="88.88" fill="#da86b9" stroke="#111" stroke-width="1.6"/>
<path d="M270.6 835.41V863.89M266.1 835.41h9M266.1 863.89h9" fill="none" stroke="#111" stroke-width="1"/>
<circle cx="270.6" cy="833.3" r="2.2"/>
<circle cx="270.6" cy="852.29" r="2.2"/>
<circle cx="270.6" cy="860.73" r="2.2"/>
<line x1="270.6" y1="938.8" x2="270.6" y2="943.1" stroke="#231f20" stroke-width="1.3"/>
<rect x="288.7" y="883.16" width="16.6" height="55.64" fill="#c4dd87" stroke="#111" stroke-width="1.6"/>
<path d="M297 880.77V883.94M292.5 880.77h9M292.5 883.94h9" fill="none" stroke="#111" stroke-width="1"/>
<circle cx="293" cy="880.77" r="2.2"/>
<circle cx="297" cy="882.88" r="2.2"/>
<circle cx="301" cy="881.83" r="2.2"/>
<line x1="297" y1="938.8" x2="297" y2="943.1" stroke="#231f20" stroke-width="1.3"/>
<text transform="translate(247.1 953) rotate(-45)" x="-22.51" y="0" font-size="10" stroke="#231f20" stroke-width=".25">siNC</text>
<text transform="translate(273.8 953) rotate(-45)" x="-36.26" y="0" font-size="10" stroke="#231f20" stroke-width=".25">siPOLQ</text>
<text transform="translate(300.2 953) rotate(-45)" x="-37.95" y="0" font-size="10" stroke="#231f20" stroke-width=".25">siRad52</text>
<path d="M68.3 828.2V823.8H95V828.2" fill="none" stroke="#777" stroke-width=".85"/>
<text x="76.41" y="826.91" font-size="12.2" fill="#2a2a2a">*</text>
<text x="82.11" y="826.91" font-size="12.2" fill="#2a2a2a">*</text>
<path d="M68.3 816.6V812.3H121.2V816.6" fill="none" stroke="#777" stroke-width=".85"/>
<text x="89.51" y="815.51" font-size="12.2" fill="#2a2a2a">*</text>
<text x="95.21" y="815.51" font-size="12.2" fill="#2a2a2a">*</text>
<path d="M156.3 875.5V871.3H182.6V875.5" fill="none" stroke="#777" stroke-width=".85"/>
<text x="164.2" y="873.64" font-size="12" fill="#2a2a2a">*</text>
<text x="170" y="873.64" font-size="12" fill="#2a2a2a">*</text>
<path d="M156.3 859.6V855.6H208.9V859.6" fill="none" stroke="#777" stroke-width=".85"/>
<text x="174.03" y="854" font-size="10.8" font-weight="normal" fill="#333">n.s.</text>
<path d="M243.7 828V824H270.8V828" fill="none" stroke="#777" stroke-width=".85"/>
<text x="252" y="826.34" font-size="12" fill="#2a2a2a">*</text>
<text x="257.8" y="826.34" font-size="12" fill="#2a2a2a">*</text>
<path d="M243.7 816.8V812.1H296.3V816.8" fill="none" stroke="#777" stroke-width=".85"/>
<text x="261.43" y="810.5" font-size="10.8" font-weight="normal" fill="#333">n.s.</text>
<line x1="51" y1="987.6" x2="314.2" y2="987.6" stroke="#231f20" stroke-width="1.3"/>
<text x="165.22" y="999.3" font-size="11.6" stroke="#231f20" stroke-width=".25">NHEJi</text>
</svg></body></html>
